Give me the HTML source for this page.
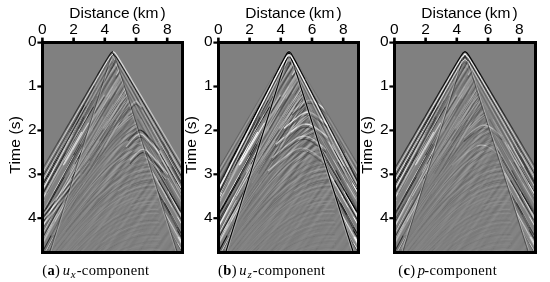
<!DOCTYPE html>
<html><head><meta charset="utf-8"><style>
html,body{margin:0;padding:0;background:#fff;width:550px;height:282px;overflow:hidden}
.s{font-family:"Liberation Sans",Arial,sans-serif;color:#000;position:absolute;white-space:nowrap;line-height:1}
.cap{font-family:"Liberation Serif","Times New Roman",serif;color:#000;position:absolute;white-space:nowrap;line-height:1;font-size:14.5px;letter-spacing:0.35px}
svg path{fill:none}
</style></head><body>

<svg width="550" height="282" viewBox="0 0 550 282" style="position:absolute;left:0;top:0">
<defs>
<clipPath id="cin"><rect x="44" y="44" width="138" height="207"/></clipPath>
<clipPath id="cfa"><polygon points="40,174.6 42,171.2 44,167.7 46,164.3 48,160.9 50,157.5 52,154.1 54,150.6 56,147.2 58,143.8 60,140.4 62,137 64,133.6 66,130.1 68,126.7 70,123.3 72,119.9 74,116.5 76,113.1 78,109.6 80,106.2 82,102.8 84,99.4 86,96 88,92.6 90,89.2 92,85.8 94,82.4 96,79 98,75.6 100,72.2 102,68.8 104,65.4 106,62.1 108,58.9 110,55.8 112,53.4 114,53.4 116,55.8 118,58.8 120,62 122,65.3 124,68.6 126,71.9 128,75.3 130,78.6 132,82 134,85.3 136,88.7 138,92.1 140,95.4 142,98.8 144,102.2 146,105.6 148,108.9 150,112.3 152,115.7 154,119.1 156,122.4 158,125.8 160,129.2 162,132.6 164,136 166,139.3 168,142.7 170,146.1 172,149.5 174,152.8 176,156.2 178,159.6 180,163 182,166.4 184,169.7 186,173.1 188,260 40,260"/></clipPath>
<clipPath id="cR"><polygon points="115,47 115.8,51 117.4,55 118.7,59 120,63 121.3,67 122.6,71 123.8,75 125.1,79 126.4,83 127.7,87 128.9,91 130.2,95 131.5,99 132.8,103 134,107 135.3,111 136.6,115 137.8,119 139.1,123 140.4,127 141.6,131 142.9,135 144.2,139 145.5,143 146.7,147 148,151 149.3,155 150.5,159 151.8,163 153.1,167 154.4,171 155.6,175 156.9,179 158.2,183 159.4,187 160.7,191 162,195 163.2,199 164.5,203 165.8,207 167.1,211 168.3,215 169.6,219 170.9,223 172.1,227 173.4,231 174.7,235 175.9,239 177.2,243 178.5,247 179.8,251 181,255 182.3,259 183.6,263 190,260 190,40 113,40"/></clipPath>
<clipPath id="cL"><polygon points="115,47 115.8,51 117.4,55 118.7,59 120,63 121.3,67 122.6,71 123.8,75 125.1,79 126.4,83 127.7,87 128.9,91 130.2,95 131.5,99 132.8,103 134,107 135.3,111 136.6,115 137.8,119 139.1,123 140.4,127 141.6,131 142.9,135 144.2,139 145.5,143 146.7,147 148,151 149.3,155 150.5,159 151.8,163 153.1,167 154.4,171 155.6,175 156.9,179 158.2,183 159.4,187 160.7,191 162,195 163.2,199 164.5,203 165.8,207 167.1,211 168.3,215 169.6,219 170.9,223 172.1,227 173.4,231 174.7,235 175.9,239 177.2,243 178.5,247 179.8,251 181,255 182.3,259 183.6,263 40,260 40,40 113,40"/></clipPath>
<clipPath id="cIn"><polygon points="46.5,263 47.8,259 49,255 50.3,251 51.5,247 52.8,243 54,239 55.3,235 56.5,231 57.8,227 59,223 60.3,219 61.5,215 62.8,211 64,207 65.3,203 66.5,199 67.8,195 69,191 70.3,187 71.5,183 72.8,179 74,175 75.3,171 76.5,167 77.8,163 79,159 80.3,155 81.5,151 82.8,147 84,143 85.3,139 86.5,135 87.8,131 89,127 90.3,123 91.5,119 92.8,115 94,111 95.3,107 96.5,103 97.8,99 99,95 100.3,91 101.5,87 102.8,83 104,79 105.3,75 106.6,71 107.8,67 109.1,63 110.4,59 111.7,55 113.2,51 114,47 112,47 112.8,51 114.4,55 115.7,59 117,63 118.3,67 119.6,71 120.8,75 122.1,79 123.4,83 124.7,87 125.9,91 127.2,95 128.5,99 129.8,103 131,107 132.3,111 133.6,115 134.8,119 136.1,123 137.4,127 138.6,131 139.9,135 141.2,139 142.5,143 143.7,147 145,151 146.3,155 147.5,159 148.8,163 150.1,167 151.4,171 152.6,175 153.9,179 155.2,183 156.4,187 157.7,191 159,195 160.2,199 161.5,203 162.8,207 164.1,211 165.3,215 166.6,219 167.9,223 169.1,227 170.4,231 171.7,235 172.9,239 174.2,243 175.5,247 176.8,251 178,255 179.3,259 180.6,263"/></clipPath>
<mask id="mOut" maskUnits="userSpaceOnUse" x="40" y="40" width="150" height="220"><rect x="40" y="40" width="150" height="220" fill="#fff"/><polygon points="46.5,263 47.8,259 49,255 50.3,251 51.5,247 52.8,243 54,239 55.3,235 56.5,231 57.8,227 59,223 60.3,219 61.5,215 62.8,211 64,207 65.3,203 66.5,199 67.8,195 69,191 70.3,187 71.5,183 72.8,179 74,175 75.3,171 76.5,167 77.8,163 79,159 80.3,155 81.5,151 82.8,147 84,143 85.3,139 86.5,135 87.8,131 89,127 90.3,123 91.5,119 92.8,115 94,111 95.3,107 96.5,103 97.8,99 99,95 100.3,91 101.5,87 102.8,83 104,79 105.3,75 106.6,71 107.8,67 109.1,63 110.4,59 111.7,55 113.2,51 114,47 112,47 112.8,51 114.4,55 115.7,59 117,63 118.3,67 119.6,71 120.8,75 122.1,79 123.4,83 124.7,87 125.9,91 127.2,95 128.5,99 129.8,103 131,107 132.3,111 133.6,115 134.8,119 136.1,123 137.4,127 138.6,131 139.9,135 141.2,139 142.5,143 143.7,147 145,151 146.3,155 147.5,159 148.8,163 150.1,167 151.4,171 152.6,175 153.9,179 155.2,183 156.4,187 157.7,191 159,195 160.2,199 161.5,203 162.8,207 164.1,211 165.3,215 166.6,219 167.9,223 169.1,227 170.4,231 171.7,235 172.9,239 174.2,243 175.5,247 176.8,251 178,255 179.3,259 180.6,263" fill="#000"/></mask>
<linearGradient id="fade" x1="0" y1="44" x2="0" y2="251" gradientUnits="userSpaceOnUse"><stop offset="0" stop-color="#fff"/><stop offset="0.4" stop-color="#ddd"/><stop offset="1" stop-color="#666"/></linearGradient>
<mask id="mk" maskUnits="userSpaceOnUse" x="40" y="40" width="150" height="220"><rect x="40" y="40" width="150" height="220" fill="url(#fade)"/></mask>
<linearGradient id="fade2" x1="0" y1="44" x2="0" y2="251" gradientUnits="userSpaceOnUse"><stop offset="0" stop-color="#fff"/><stop offset="0.45" stop-color="#eee"/><stop offset="0.7" stop-color="#888"/><stop offset="1" stop-color="#444"/></linearGradient>
<mask id="mk2" maskUnits="userSpaceOnUse" x="40" y="40" width="150" height="220"><rect x="40" y="40" width="150" height="220" fill="url(#fade2)"/></mask>
<filter id="nA" x="0" y="0" width="1" height="1" color-interpolation-filters="sRGB"><feTurbulence type="fractalNoise" baseFrequency="0.28 0.012" numOctaves="1" seed="4"/><feColorMatrix type="matrix" values="1 0 0 0 0 1 0 0 0 0 1 0 0 0 0 0 0 0 0 1" result="g"/><feGaussianBlur in="g" stdDeviation="2.5"/><feColorMatrix type="matrix" values="-1 0 0 0 1 -1 0 0 0 1 -1 0 0 0 1 0 0 0 0 1" result="nb"/><feComposite in="g" in2="nb" operator="arithmetic" k1="0" k2="0.5" k3="0.5" k4="0"/><feComponentTransfer><feFuncR type="linear" slope="4.4" intercept="-1.7000000000000002"/><feFuncG type="linear" slope="4.4" intercept="-1.7000000000000002"/><feFuncB type="linear" slope="4.4" intercept="-1.7000000000000002"/></feComponentTransfer></filter>
<filter id="nB" x="0" y="0" width="1" height="1" color-interpolation-filters="sRGB"><feTurbulence type="fractalNoise" baseFrequency="0.28 0.012" numOctaves="1" seed="9"/><feColorMatrix type="matrix" values="1 0 0 0 0 1 0 0 0 0 1 0 0 0 0 0 0 0 0 1" result="g"/><feGaussianBlur in="g" stdDeviation="2.5"/><feColorMatrix type="matrix" values="-1 0 0 0 1 -1 0 0 0 1 -1 0 0 0 1 0 0 0 0 1" result="nb"/><feComposite in="g" in2="nb" operator="arithmetic" k1="0" k2="0.5" k3="0.5" k4="0"/><feComponentTransfer><feFuncR type="linear" slope="4.4" intercept="-1.7000000000000002"/><feFuncG type="linear" slope="4.4" intercept="-1.7000000000000002"/><feFuncB type="linear" slope="4.4" intercept="-1.7000000000000002"/></feComponentTransfer></filter>
<linearGradient id="gB" x1="0" y1="80" x2="0" y2="125" gradientUnits="userSpaceOnUse"><stop offset="0" stop-color="#000"/><stop offset="1" stop-color="#fff"/></linearGradient>
<mask id="mB" maskUnits="userSpaceOnUse" x="40" y="40" width="150" height="220"><rect x="40" y="40" width="150" height="220" fill="url(#gB)"/></mask>
<g id="tin"><g clip-path="url(#cL)"><rect x="-80" y="-60" width="380" height="420" filter="url(#nA)" transform="rotate(36 113 150)"/></g><g clip-path="url(#cR)"><g mask="url(#mB)"><rect x="-80" y="-60" width="380" height="420" filter="url(#nB)" transform="rotate(-30.6 113 150)"/></g></g><path d="M40 178.4L53.1 155.5" stroke="#000" stroke-opacity="0.95" stroke-width="1.3"/><path d="M53.1 155.5L67.4 130.4" stroke="#000" stroke-opacity="0.13" stroke-width="1.2"/><path d="M67.4 130.4L82 104.9" stroke="#000" stroke-opacity="0.68" stroke-width="1.4"/><path d="M82 104.9L88.2 94" stroke="#000" stroke-opacity="0.52" stroke-width="1.1"/><path d="M88.2 94L98.8 75.6" stroke="#000" stroke-opacity="0.62" stroke-width="1.0"/><path d="M98.8 75.6L106 62.9" stroke="#000" stroke-opacity="0.35" stroke-width="1.4"/><path d="M106 62.9L118.8 40.6" stroke="#000" stroke-opacity="0.24" stroke-width="1.3"/><path d="M40 185.1L54.1 160" stroke="#fff" stroke-opacity="0.37" stroke-width="1.1"/><path d="M54.1 160L60.8 148" stroke="#fff" stroke-opacity="0.23" stroke-width="1.0"/><path d="M60.8 148L68.9 133.5" stroke="#fff" stroke-opacity="0.64" stroke-width="1.0"/><path d="M68.9 133.5L80.8 112.3" stroke="#fff" stroke-opacity="0.40" stroke-width="1.1"/><path d="M80.8 112.3L94.1 88.5" stroke="#fff" stroke-opacity="0.53" stroke-width="1.1"/><path d="M94.1 88.5L104 70.8" stroke="#fff" stroke-opacity="0.73" stroke-width="1.0"/><path d="M104 70.8L118.9 44.2" stroke="#fff" stroke-opacity="0.12" stroke-width="1.3"/><path d="M40 182L50.4 164.6" stroke="#000" stroke-opacity="0.80" stroke-width="1.0"/><path d="M50.4 164.6L63 143.3" stroke="#000" stroke-opacity="0.82" stroke-width="1.3"/><path d="M63 143.3L68.4 134.2" stroke="#000" stroke-opacity="0.95" stroke-width="1.0"/><path d="M68.4 134.2L76.9 119.8" stroke="#000" stroke-opacity="0.65" stroke-width="1.4"/><path d="M76.9 119.8L85.4 105.5" stroke="#000" stroke-opacity="0.93" stroke-width="1.2"/><path d="M85.4 105.5L93.6 91.7" stroke="#000" stroke-opacity="0.39" stroke-width="1.1"/><path d="M93.6 91.7L99.4 81.8" stroke="#000" stroke-opacity="0.23" stroke-width="1.3"/><path d="M99.4 81.8L114.5 56.3" stroke="#000" stroke-opacity="0.25" stroke-width="1.0"/><path d="M40 182.8L49.4 167.2" stroke="#fff" stroke-opacity="0.23" stroke-width="1.3"/><path d="M49.4 167.2L57.5 154" stroke="#fff" stroke-opacity="0.51" stroke-width="1.4"/><path d="M57.5 154L71.1 131.5" stroke="#fff" stroke-opacity="0.98" stroke-width="1.2"/><path d="M71.1 131.5L81.1 115" stroke="#fff" stroke-opacity="0.76" stroke-width="1.2"/><path d="M81.1 115L89.1 101.9" stroke="#fff" stroke-opacity="0.46" stroke-width="1.1"/><path d="M89.1 101.9L98 87.3" stroke="#fff" stroke-opacity="0.99" stroke-width="1.4"/><path d="M98 87.3L109.3 68.5" stroke="#fff" stroke-opacity="0.55" stroke-width="1.1"/><path d="M109.3 68.5L115.3 58.7" stroke="#fff" stroke-opacity="0.35" stroke-width="1.3"/><path d="M40 196.3L51.6 175.6" stroke="#000" stroke-opacity="0.62" stroke-width="1.0"/><path d="M51.6 175.6L62.2 156.7" stroke="#000" stroke-opacity="0.33" stroke-width="1.3"/><path d="M62.2 156.7L71.9 139.4" stroke="#000" stroke-opacity="0.84" stroke-width="1.3"/><path d="M71.9 139.4L85 116.1" stroke="#000" stroke-opacity="0.41" stroke-width="1.3"/><path d="M85 116.1L97.5 93.8" stroke="#000" stroke-opacity="0.85" stroke-width="1.1"/><path d="M97.5 93.8L111.1 69.6" stroke="#000" stroke-opacity="0.88" stroke-width="1.3"/><path d="M111.1 69.6L126 43.1" stroke="#000" stroke-opacity="0.96" stroke-width="1.2"/><path d="M40 197.5L51.5 177.4" stroke="#fff" stroke-opacity="0.75" stroke-width="1.0"/><path d="M51.5 177.4L58.2 165.7" stroke="#fff" stroke-opacity="0.50" stroke-width="1.3"/><path d="M58.2 165.7L65.4 153" stroke="#fff" stroke-opacity="0.72" stroke-width="1.3"/><path d="M65.4 153L70.9 143.4" stroke="#fff" stroke-opacity="0.52" stroke-width="1.1"/><path d="M70.9 143.4L76.5 133.5" stroke="#fff" stroke-opacity="0.22" stroke-width="1.1"/><path d="M76.5 133.5L83.4 121.5" stroke="#fff" stroke-opacity="0.27" stroke-width="1.0"/><path d="M83.4 121.5L93.1 104.4" stroke="#fff" stroke-opacity="0.44" stroke-width="1.2"/><path d="M93.1 104.4L104.1 85.1" stroke="#fff" stroke-opacity="0.31" stroke-width="1.4"/><path d="M104.1 85.1L109.2 76.2" stroke="#fff" stroke-opacity="0.46" stroke-width="1.1"/><path d="M109.2 76.2L118.4 60.1" stroke="#fff" stroke-opacity="0.20" stroke-width="1.3"/><path d="M118.4 60.1L127.2 44.6" stroke="#fff" stroke-opacity="0.13" stroke-width="1.2"/><path d="M40 196.7L54.1 173" stroke="#000" stroke-opacity="0.10" stroke-width="1.0"/><path d="M54.1 173L64.8 154.9" stroke="#000" stroke-opacity="0.65" stroke-width="1.1"/><path d="M64.8 154.9L76.2 135.6" stroke="#000" stroke-opacity="0.90" stroke-width="1.2"/><path d="M76.2 135.6L85.7 119.7" stroke="#000" stroke-opacity="0.30" stroke-width="1.1"/><path d="M85.7 119.7L100.5 94.7" stroke="#000" stroke-opacity="0.44" stroke-width="1.4"/><path d="M100.5 94.7L114.8 70.6" stroke="#000" stroke-opacity="0.64" stroke-width="1.1"/><path d="M114.8 70.6L129.8 45.4" stroke="#000" stroke-opacity="0.55" stroke-width="1.2"/><path d="M40 207L52.9 184" stroke="#fff" stroke-opacity="0.32" stroke-width="1.1"/><path d="M52.9 184L59.6 172.2" stroke="#fff" stroke-opacity="0.99" stroke-width="1.1"/><path d="M59.6 172.2L70.8 152.3" stroke="#fff" stroke-opacity="0.53" stroke-width="1.3"/><path d="M70.8 152.3L81.9 132.4" stroke="#fff" stroke-opacity="0.77" stroke-width="1.0"/><path d="M81.9 132.4L94.6 109.8" stroke="#fff" stroke-opacity="0.37" stroke-width="1.2"/><path d="M94.6 109.8L103.1 94.8" stroke="#fff" stroke-opacity="0.37" stroke-width="1.2"/><path d="M103.1 94.8L112.8 77.4" stroke="#fff" stroke-opacity="0.42" stroke-width="1.3"/><path d="M112.8 77.4L123.8 57.8" stroke="#fff" stroke-opacity="0.13" stroke-width="1.1"/><path d="M123.8 57.8L133.5 40.6" stroke="#fff" stroke-opacity="0.92" stroke-width="1.4"/><path d="M40 201.6L48 188.2" stroke="#fff" stroke-opacity="0.85" stroke-width="1.0"/><path d="M48 188.2L61.5 165.8" stroke="#fff" stroke-opacity="0.73" stroke-width="1.2"/><path d="M61.5 165.8L69.5 152.6" stroke="#fff" stroke-opacity="0.80" stroke-width="1.4"/><path d="M69.5 152.6L76 141.8" stroke="#fff" stroke-opacity="0.53" stroke-width="1.2"/><path d="M76 141.8L86.1 125.1" stroke="#fff" stroke-opacity="0.40" stroke-width="1.1"/><path d="M86.1 125.1L97 106.9" stroke="#fff" stroke-opacity="0.83" stroke-width="1.0"/><path d="M97 106.9L104.4 94.6" stroke="#fff" stroke-opacity="0.84" stroke-width="1.3"/><path d="M104.4 94.6L116.2 75.1" stroke="#fff" stroke-opacity="0.12" stroke-width="1.3"/><path d="M116.2 75.1L131.1 50.3" stroke="#fff" stroke-opacity="1.00" stroke-width="1.3"/><path d="M131.1 50.3L136.6 41.1" stroke="#fff" stroke-opacity="0.86" stroke-width="1.1"/><path d="M40 202.9L45.6 193.7" stroke="#000" stroke-opacity="0.62" stroke-width="1.3"/><path d="M45.6 193.7L59.6 170.8" stroke="#000" stroke-opacity="0.22" stroke-width="1.2"/><path d="M59.6 170.8L67.8 157.3" stroke="#000" stroke-opacity="0.64" stroke-width="1.2"/><path d="M67.8 157.3L82.3 133.5" stroke="#000" stroke-opacity="0.44" stroke-width="1.0"/><path d="M82.3 133.5L94.4 113.6" stroke="#000" stroke-opacity="0.24" stroke-width="1.3"/><path d="M94.4 113.6L104.6 96.9" stroke="#000" stroke-opacity="0.92" stroke-width="1.2"/><path d="M104.6 96.9L115.9 78.4" stroke="#000" stroke-opacity="0.34" stroke-width="1.2"/><path d="M115.9 78.4L123.5 65.9" stroke="#000" stroke-opacity="0.78" stroke-width="1.2"/><path d="M123.5 65.9L129.9 55.3" stroke="#000" stroke-opacity="0.31" stroke-width="1.1"/><path d="M40 205.6L52.4 185.3" stroke="#fff" stroke-opacity="0.15" stroke-width="1.1"/><path d="M52.4 185.3L67 161.3" stroke="#fff" stroke-opacity="0.71" stroke-width="1.1"/><path d="M67 161.3L73.3 151.2" stroke="#fff" stroke-opacity="0.98" stroke-width="1.3"/><path d="M73.3 151.2L86.6 129.4" stroke="#fff" stroke-opacity="0.23" stroke-width="1.2"/><path d="M86.6 129.4L95.2 115.3" stroke="#fff" stroke-opacity="0.31" stroke-width="1.1"/><path d="M95.2 115.3L106.5 96.9" stroke="#fff" stroke-opacity="0.41" stroke-width="1.2"/><path d="M106.5 96.9L112.9 86.4" stroke="#fff" stroke-opacity="0.85" stroke-width="1.3"/><path d="M112.9 86.4L126.1 64.8" stroke="#fff" stroke-opacity="0.49" stroke-width="1.3"/><path d="M126.1 64.8L136.4 48" stroke="#fff" stroke-opacity="0.63" stroke-width="1.2"/><path d="M40 215.8L49.4 199.6" stroke="#fff" stroke-opacity="0.52" stroke-width="1.0"/><path d="M49.4 199.6L56 188.1" stroke="#fff" stroke-opacity="0.24" stroke-width="1.1"/><path d="M56 188.1L64.9 172.7" stroke="#fff" stroke-opacity="0.89" stroke-width="1.1"/><path d="M64.9 172.7L72.6 159.5" stroke="#fff" stroke-opacity="0.35" stroke-width="1.1"/><path d="M72.6 159.5L80.5 145.8" stroke="#fff" stroke-opacity="0.31" stroke-width="1.2"/><path d="M80.5 145.8L85.9 136.5" stroke="#fff" stroke-opacity="0.93" stroke-width="1.1"/><path d="M85.9 136.5L100.4 111.3" stroke="#fff" stroke-opacity="0.72" stroke-width="1.3"/><path d="M100.4 111.3L110.2 94.4" stroke="#fff" stroke-opacity="0.95" stroke-width="1.0"/><path d="M110.2 94.4L122 74" stroke="#fff" stroke-opacity="0.36" stroke-width="1.3"/><path d="M122 74L134.4 52.5" stroke="#fff" stroke-opacity="0.25" stroke-width="1.1"/><path d="M134.4 52.5L139.7 43.3" stroke="#fff" stroke-opacity="0.31" stroke-width="1.0"/><path d="M40 219.8L49.4 203.5" stroke="#fff" stroke-opacity="0.98" stroke-width="1.0"/><path d="M49.4 203.5L55.1 193.7" stroke="#fff" stroke-opacity="0.80" stroke-width="1.2"/><path d="M55.1 193.7L60.6 184.1" stroke="#fff" stroke-opacity="0.59" stroke-width="1.4"/><path d="M60.6 184.1L70.9 166.3" stroke="#fff" stroke-opacity="0.42" stroke-width="1.0"/><path d="M70.9 166.3L76.6 156.3" stroke="#fff" stroke-opacity="0.91" stroke-width="1.2"/><path d="M76.6 156.3L91.1 131.1" stroke="#fff" stroke-opacity="0.15" stroke-width="1.1"/><path d="M91.1 131.1L96.7 121.5" stroke="#fff" stroke-opacity="0.46" stroke-width="1.0"/><path d="M96.7 121.5L104.3 108.3" stroke="#fff" stroke-opacity="0.47" stroke-width="1.1"/><path d="M104.3 108.3L109.9 98.6" stroke="#fff" stroke-opacity="0.13" stroke-width="1.4"/><path d="M109.9 98.6L116.8 86.7" stroke="#fff" stroke-opacity="0.56" stroke-width="1.2"/><path d="M116.8 86.7L127.2 68.7" stroke="#fff" stroke-opacity="0.18" stroke-width="1.1"/><path d="M127.2 68.7L133.3 58" stroke="#fff" stroke-opacity="0.59" stroke-width="1.4"/><path d="M40 218.2L46.2 207.8" stroke="#000" stroke-opacity="0.38" stroke-width="1.0"/><path d="M46.2 207.8L59.1 186.4" stroke="#000" stroke-opacity="0.84" stroke-width="1.1"/><path d="M59.1 186.4L65.4 175.8" stroke="#000" stroke-opacity="0.17" stroke-width="1.1"/><path d="M65.4 175.8L71.3 166" stroke="#000" stroke-opacity="0.49" stroke-width="1.2"/><path d="M71.3 166L78.9 153.4" stroke="#000" stroke-opacity="0.16" stroke-width="1.3"/><path d="M78.9 153.4L84.4 144.2" stroke="#000" stroke-opacity="0.28" stroke-width="1.1"/><path d="M84.4 144.2L93.2 129.5" stroke="#000" stroke-opacity="0.19" stroke-width="1.2"/><path d="M93.2 129.5L101.4 115.8" stroke="#000" stroke-opacity="0.78" stroke-width="1.2"/><path d="M101.4 115.8L115.5 92.3" stroke="#000" stroke-opacity="0.69" stroke-width="1.3"/><path d="M115.5 92.3L126.4 74.2" stroke="#000" stroke-opacity="0.50" stroke-width="1.3"/><path d="M126.4 74.2L138.1 54.8" stroke="#000" stroke-opacity="0.96" stroke-width="1.3"/><path d="M40 224.8L45.3 215.6" stroke="#fff" stroke-opacity="0.15" stroke-width="1.1"/><path d="M45.3 215.6L54 200.7" stroke="#fff" stroke-opacity="0.87" stroke-width="1.4"/><path d="M54 200.7L65.2 181.4" stroke="#fff" stroke-opacity="0.31" stroke-width="1.2"/><path d="M65.2 181.4L73.9 166.4" stroke="#fff" stroke-opacity="0.40" stroke-width="1.0"/><path d="M73.9 166.4L84.9 147.6" stroke="#fff" stroke-opacity="0.84" stroke-width="1.3"/><path d="M84.9 147.6L90.9 137.3" stroke="#fff" stroke-opacity="0.58" stroke-width="1.1"/><path d="M90.9 137.3L103.1 116.3" stroke="#fff" stroke-opacity="0.50" stroke-width="1.4"/><path d="M103.1 116.3L116.2 93.8" stroke="#fff" stroke-opacity="0.21" stroke-width="1.1"/><path d="M116.2 93.8L130.5 69.2" stroke="#fff" stroke-opacity="0.51" stroke-width="1.2"/><path d="M130.5 69.2L140 52.9" stroke="#fff" stroke-opacity="0.79" stroke-width="1.4"/><path d="M40 226.2L47.2 214" stroke="#fff" stroke-opacity="0.35" stroke-width="1.1"/><path d="M47.2 214L58 195.8" stroke="#fff" stroke-opacity="0.42" stroke-width="1.3"/><path d="M58 195.8L65.5 183.1" stroke="#fff" stroke-opacity="0.42" stroke-width="1.1"/><path d="M65.5 183.1L80.4 157.8" stroke="#fff" stroke-opacity="0.86" stroke-width="1.3"/><path d="M80.4 157.8L91.7 138.7" stroke="#fff" stroke-opacity="0.46" stroke-width="1.1"/><path d="M91.7 138.7L105.2 115.9" stroke="#fff" stroke-opacity="0.54" stroke-width="1.0"/><path d="M105.2 115.9L111.9 104.4" stroke="#fff" stroke-opacity="0.19" stroke-width="1.3"/><path d="M111.9 104.4L126.1 80.5" stroke="#fff" stroke-opacity="0.28" stroke-width="1.3"/><path d="M126.1 80.5L134.4 66.4" stroke="#fff" stroke-opacity="0.71" stroke-width="1.3"/><path d="M134.4 66.4L145.7 47.2" stroke="#fff" stroke-opacity="0.82" stroke-width="1.2"/><path d="M40 236.8L53.3 213.1" stroke="#000" stroke-opacity="0.93" stroke-width="1.3"/><path d="M53.3 213.1L65.1 192" stroke="#000" stroke-opacity="0.58" stroke-width="1.3"/><path d="M65.1 192L73.8 176.4" stroke="#000" stroke-opacity="0.63" stroke-width="1.3"/><path d="M73.8 176.4L84.1 157.9" stroke="#000" stroke-opacity="0.36" stroke-width="1.0"/><path d="M84.1 157.9L90.1 147.3" stroke="#000" stroke-opacity="0.42" stroke-width="1.2"/><path d="M90.1 147.3L102.8 124.6" stroke="#000" stroke-opacity="0.74" stroke-width="1.1"/><path d="M102.8 124.6L117.2 98.8" stroke="#000" stroke-opacity="0.35" stroke-width="1.3"/><path d="M117.2 98.8L123 88.5" stroke="#000" stroke-opacity="0.78" stroke-width="1.3"/><path d="M123 88.5L137.7 62.2" stroke="#000" stroke-opacity="0.91" stroke-width="1.3"/><path d="M40 230L51.6 210.7" stroke="#fff" stroke-opacity="0.91" stroke-width="1.4"/><path d="M51.6 210.7L62.9 192.1" stroke="#fff" stroke-opacity="0.45" stroke-width="1.0"/><path d="M62.9 192.1L74.9 172.2" stroke="#fff" stroke-opacity="0.60" stroke-width="1.3"/><path d="M74.9 172.2L83.7 157.5" stroke="#fff" stroke-opacity="0.90" stroke-width="1.1"/><path d="M83.7 157.5L91.9 144" stroke="#fff" stroke-opacity="0.34" stroke-width="1.2"/><path d="M91.9 144L106 120.6" stroke="#fff" stroke-opacity="0.25" stroke-width="1.3"/><path d="M106 120.6L118.8 99.4" stroke="#fff" stroke-opacity="0.30" stroke-width="1.0"/><path d="M118.8 99.4L129.5 81.5" stroke="#fff" stroke-opacity="0.85" stroke-width="1.4"/><path d="M129.5 81.5L141.9 61" stroke="#fff" stroke-opacity="0.48" stroke-width="1.2"/><path d="M141.9 61L152.3 43.7" stroke="#fff" stroke-opacity="0.91" stroke-width="1.1"/><path d="M40 237.8L51.6 217.8" stroke="#000" stroke-opacity="0.72" stroke-width="1.3"/><path d="M51.6 217.8L57.3 208" stroke="#000" stroke-opacity="0.54" stroke-width="1.3"/><path d="M57.3 208L72 182.6" stroke="#000" stroke-opacity="0.39" stroke-width="1.3"/><path d="M72 182.6L83.5 162.7" stroke="#000" stroke-opacity="0.93" stroke-width="1.1"/><path d="M83.5 162.7L95.6 141.8" stroke="#000" stroke-opacity="0.86" stroke-width="1.2"/><path d="M95.6 141.8L101.7 131.4" stroke="#000" stroke-opacity="0.27" stroke-width="1.1"/><path d="M101.7 131.4L107.7 121" stroke="#000" stroke-opacity="0.24" stroke-width="1.2"/><path d="M107.7 121L113.8 110.5" stroke="#000" stroke-opacity="0.78" stroke-width="1.3"/><path d="M113.8 110.5L127.1 87.6" stroke="#000" stroke-opacity="0.82" stroke-width="1.3"/><path d="M127.1 87.6L141.5 62.7" stroke="#000" stroke-opacity="0.96" stroke-width="1.3"/><path d="M40 238.5L46.2 227.9" stroke="#fff" stroke-opacity="0.64" stroke-width="1.1"/><path d="M46.2 227.9L58.2 207.7" stroke="#fff" stroke-opacity="0.55" stroke-width="1.4"/><path d="M58.2 207.7L72.8 183.1" stroke="#fff" stroke-opacity="0.16" stroke-width="1.3"/><path d="M72.8 183.1L85.1 162.2" stroke="#fff" stroke-opacity="0.37" stroke-width="1.0"/><path d="M85.1 162.2L95 145.5" stroke="#fff" stroke-opacity="0.42" stroke-width="1.3"/><path d="M95 145.5L109.3 121.3" stroke="#fff" stroke-opacity="0.44" stroke-width="1.1"/><path d="M109.3 121.3L119.4 104.2" stroke="#fff" stroke-opacity="0.73" stroke-width="1.3"/><path d="M119.4 104.2L130.3 85.9" stroke="#fff" stroke-opacity="0.37" stroke-width="1.1"/><path d="M130.3 85.9L143.9 62.9" stroke="#fff" stroke-opacity="0.57" stroke-width="1.0"/><path d="M143.9 62.9L153.2 47.1" stroke="#fff" stroke-opacity="0.31" stroke-width="1.3"/><path d="M40 246.3L45.1 237.3" stroke="#000" stroke-opacity="0.79" stroke-width="1.1"/><path d="M45.1 237.3L50.3 228.2" stroke="#000" stroke-opacity="0.33" stroke-width="1.2"/><path d="M50.3 228.2L59.2 212.5" stroke="#000" stroke-opacity="0.57" stroke-width="1.0"/><path d="M59.2 212.5L66.5 199.7" stroke="#000" stroke-opacity="0.98" stroke-width="1.2"/><path d="M66.5 199.7L76.3 182.4" stroke="#000" stroke-opacity="0.18" stroke-width="1.1"/><path d="M76.3 182.4L91 156.6" stroke="#000" stroke-opacity="0.72" stroke-width="1.2"/><path d="M91 156.6L96.6 146.7" stroke="#000" stroke-opacity="0.45" stroke-width="1.3"/><path d="M96.6 146.7L106 130.1" stroke="#000" stroke-opacity="0.63" stroke-width="1.4"/><path d="M106 130.1L117.6 109.8" stroke="#000" stroke-opacity="0.67" stroke-width="1.0"/><path d="M117.6 109.8L122.9 100.4" stroke="#000" stroke-opacity="0.79" stroke-width="1.2"/><path d="M122.9 100.4L136.8 76" stroke="#000" stroke-opacity="0.84" stroke-width="1.4"/><path d="M136.8 76L145.6 60.4" stroke="#000" stroke-opacity="1.00" stroke-width="1.3"/><path d="M40 243L49.8 226.6" stroke="#fff" stroke-opacity="0.36" stroke-width="1.3"/><path d="M49.8 226.6L56.1 216" stroke="#fff" stroke-opacity="0.25" stroke-width="1.2"/><path d="M56.1 216L61.9 206.3" stroke="#fff" stroke-opacity="0.44" stroke-width="1.4"/><path d="M61.9 206.3L75.9 182.9" stroke="#fff" stroke-opacity="0.28" stroke-width="1.0"/><path d="M75.9 182.9L89.3 160.5" stroke="#fff" stroke-opacity="0.96" stroke-width="1.2"/><path d="M89.3 160.5L95.7 149.7" stroke="#fff" stroke-opacity="0.31" stroke-width="1.4"/><path d="M95.7 149.7L110.2 125.4" stroke="#fff" stroke-opacity="0.13" stroke-width="1.1"/><path d="M110.2 125.4L119.6 109.7" stroke="#fff" stroke-opacity="0.34" stroke-width="1.3"/><path d="M119.6 109.7L128.5 94.9" stroke="#fff" stroke-opacity="0.80" stroke-width="1.1"/><path d="M128.5 94.9L138.7 77.7" stroke="#fff" stroke-opacity="0.98" stroke-width="1.3"/><path d="M138.7 77.7L144.7 67.8" stroke="#fff" stroke-opacity="0.20" stroke-width="1.3"/><path d="M144.7 67.8L153.5 53" stroke="#fff" stroke-opacity="0.43" stroke-width="1.2"/><path d="M40 243.3L52.8 222.3" stroke="#000" stroke-opacity="0.48" stroke-width="1.2"/><path d="M52.8 222.3L64.1 204" stroke="#000" stroke-opacity="0.81" stroke-width="1.0"/><path d="M64.1 204L74.2 187.5" stroke="#000" stroke-opacity="0.13" stroke-width="1.2"/><path d="M74.2 187.5L82.7 173.6" stroke="#000" stroke-opacity="0.12" stroke-width="1.1"/><path d="M82.7 173.6L92.3 157.9" stroke="#000" stroke-opacity="0.69" stroke-width="1.4"/><path d="M92.3 157.9L101.1 143.6" stroke="#000" stroke-opacity="0.58" stroke-width="1.3"/><path d="M101.1 143.6L115.6 119.9" stroke="#000" stroke-opacity="0.95" stroke-width="1.4"/><path d="M115.6 119.9L123.7 106.7" stroke="#000" stroke-opacity="0.25" stroke-width="1.4"/><path d="M123.7 106.7L129.5 97.2" stroke="#000" stroke-opacity="0.50" stroke-width="1.3"/><path d="M129.5 97.2L139.9 80.2" stroke="#000" stroke-opacity="0.45" stroke-width="1.4"/><path d="M139.9 80.2L148 67.1" stroke="#000" stroke-opacity="0.60" stroke-width="1.3"/><path d="M148 67.1L154.5 56.5" stroke="#000" stroke-opacity="0.42" stroke-width="1.2"/><path d="M40 255.3L52.5 233.3" stroke="#fff" stroke-opacity="0.34" stroke-width="1.3"/><path d="M52.5 233.3L63.9 213.4" stroke="#fff" stroke-opacity="0.45" stroke-width="1.3"/><path d="M63.9 213.4L71.4 200.1" stroke="#fff" stroke-opacity="0.34" stroke-width="1.4"/><path d="M71.4 200.1L80.9 183.5" stroke="#fff" stroke-opacity="0.91" stroke-width="1.1"/><path d="M80.9 183.5L87.4 172.2" stroke="#fff" stroke-opacity="0.15" stroke-width="1.3"/><path d="M87.4 172.2L98.1 153.4" stroke="#fff" stroke-opacity="0.11" stroke-width="1.0"/><path d="M98.1 153.4L111.5 129.9" stroke="#fff" stroke-opacity="0.54" stroke-width="1.3"/><path d="M111.5 129.9L116.9 120.3" stroke="#fff" stroke-opacity="0.63" stroke-width="1.0"/><path d="M116.9 120.3L129.2 98.7" stroke="#fff" stroke-opacity="0.65" stroke-width="1.2"/><path d="M129.2 98.7L136.5 85.9" stroke="#fff" stroke-opacity="0.95" stroke-width="1.0"/><path d="M136.5 85.9L142.2 75.9" stroke="#fff" stroke-opacity="0.72" stroke-width="1.0"/><path d="M142.2 75.9L148 65.8" stroke="#fff" stroke-opacity="0.51" stroke-width="1.3"/><path d="M148 65.8L162 41.2" stroke="#fff" stroke-opacity="0.75" stroke-width="1.0"/><path d="M40 254.8L54.2 230.6" stroke="#000" stroke-opacity="0.52" stroke-width="1.1"/><path d="M54.2 230.6L61.4 218.2" stroke="#000" stroke-opacity="0.34" stroke-width="1.4"/><path d="M61.4 218.2L68.5 206" stroke="#000" stroke-opacity="0.18" stroke-width="1.1"/><path d="M68.5 206L74.4 195.9" stroke="#000" stroke-opacity="0.48" stroke-width="1.2"/><path d="M74.4 195.9L86 176" stroke="#000" stroke-opacity="0.26" stroke-width="1.1"/><path d="M86 176L96 158.9" stroke="#000" stroke-opacity="0.72" stroke-width="1.2"/><path d="M96 158.9L106.8 140.3" stroke="#000" stroke-opacity="0.92" stroke-width="1.1"/><path d="M106.8 140.3L114.6 127" stroke="#000" stroke-opacity="0.54" stroke-width="1.2"/><path d="M114.6 127L128.7 102.8" stroke="#000" stroke-opacity="0.60" stroke-width="1.3"/><path d="M128.7 102.8L138 86.9" stroke="#000" stroke-opacity="0.81" stroke-width="1.3"/><path d="M138 86.9L146.1 73.2" stroke="#000" stroke-opacity="0.20" stroke-width="1.1"/><path d="M146.1 73.2L154.7 58.4" stroke="#000" stroke-opacity="0.90" stroke-width="1.1"/><path d="M50.9 242.1L65.8 215.9" stroke="#fff" stroke-opacity="0.45" stroke-width="1.3"/><path d="M65.8 215.9L78.2 194" stroke="#fff" stroke-opacity="0.33" stroke-width="1.2"/><path d="M78.2 194L86.5 179.3" stroke="#fff" stroke-opacity="0.19" stroke-width="1.0"/><path d="M86.5 179.3L98.8 157.6" stroke="#fff" stroke-opacity="0.47" stroke-width="1.3"/><path d="M98.8 157.6L104.5 147.5" stroke="#fff" stroke-opacity="0.37" stroke-width="1.1"/><path d="M104.5 147.5L119.1 121.8" stroke="#fff" stroke-opacity="0.81" stroke-width="1.4"/><path d="M119.1 121.8L129.3 103.8" stroke="#fff" stroke-opacity="0.19" stroke-width="1.2"/><path d="M129.3 103.8L136.6 90.9" stroke="#fff" stroke-opacity="0.12" stroke-width="1.2"/><path d="M136.6 90.9L144.6 76.8" stroke="#fff" stroke-opacity="0.20" stroke-width="1.2"/><path d="M144.6 76.8L159.1 51.3" stroke="#fff" stroke-opacity="0.95" stroke-width="1.2"/><path d="M159.1 51.3L165.1 40.5" stroke="#fff" stroke-opacity="0.79" stroke-width="1.0"/><path d="M54.9 235.7L62 223.4" stroke="#000" stroke-opacity="0.56" stroke-width="1.4"/><path d="M62 223.4L70.9 208.1" stroke="#000" stroke-opacity="0.67" stroke-width="1.4"/><path d="M70.9 208.1L79.3 193.8" stroke="#000" stroke-opacity="0.83" stroke-width="1.2"/><path d="M79.3 193.8L85.7 182.7" stroke="#000" stroke-opacity="0.15" stroke-width="1.4"/><path d="M85.7 182.7L95.5 165.9" stroke="#000" stroke-opacity="0.50" stroke-width="1.4"/><path d="M95.5 165.9L106.4 147.3" stroke="#000" stroke-opacity="0.55" stroke-width="1.1"/><path d="M106.4 147.3L118.9 125.7" stroke="#000" stroke-opacity="0.33" stroke-width="1.2"/><path d="M118.9 125.7L131.6 103.8" stroke="#000" stroke-opacity="0.64" stroke-width="1.1"/><path d="M131.6 103.8L138.7 91.6" stroke="#000" stroke-opacity="0.73" stroke-width="1.3"/><path d="M138.7 91.6L144.8 81.2" stroke="#000" stroke-opacity="1.00" stroke-width="1.1"/><path d="M144.8 81.2L151.6 69.6" stroke="#000" stroke-opacity="0.18" stroke-width="1.2"/><path d="M151.6 69.6L162.9 50.2" stroke="#000" stroke-opacity="0.87" stroke-width="1.1"/><path d="M37.6 228.7 43.6 218.6 49.6 208.6 55.6 198.6 56.1 197.9" stroke="#000" stroke-opacity="0.51" stroke-width="1.1"/><path d="M56.1 197.9 62.1 187.8 68.1 177.8 74.1 167.8 78.3 160.7" stroke="#000" stroke-opacity="0.71" stroke-width="1.2"/><path d="M78.3 160.7 84.3 150.7 90.3 140.7 95.3 132.2" stroke="#000" stroke-opacity="0.32" stroke-width="1.2"/><path d="M95.3 132.2 101.3 122.2 107.3 112.2 108.6 110" stroke="#000" stroke-opacity="0.38" stroke-width="1.0"/><path d="M108.6 110 114.6 100 120.6 90 126.6 80 132.6 70.1 138.6 60.3 143.1 53.4" stroke="#000" stroke-opacity="0.17" stroke-width="1.1"/><path d="M143.1 53.4 149.1 47.6 152.8 51" stroke="#000" stroke-opacity="0.60" stroke-width="0.8"/><path d="M34.2 236.9 40.2 226.8 46.2 216.7 52.2 206.7 58.2 196.6 64.2 186.5 65.1 184.9" stroke="#fff" stroke-opacity="0.57" stroke-width="0.9"/><path d="M65.1 184.9 71.1 174.9 77.1 164.8 83.1 154.7 89.1 144.7 93.4 137.5" stroke="#fff" stroke-opacity="0.44" stroke-width="1.1"/><path d="M93.4 137.5 99.4 127.4 105.4 117.4 111.4 107.4 117.4 97.4 118.8 95.1" stroke="#fff" stroke-opacity="0.65" stroke-width="0.9"/><path d="M118.8 95.1 124.8 85.2 130.8 75.4 136.8 65.7 141.2 59.1" stroke="#fff" stroke-opacity="0.08" stroke-width="1.1"/><path d="M141.2 59.1 147.2 51.8 153.2 52.6 153.7 53.1" stroke="#fff" stroke-opacity="0.68" stroke-width="0.8"/><path d="M39.7 223.8 45.7 214 51.7 204.2 57.7 194.4 63.7 184.6 69.7 174.8 71.1 172.7" stroke="#000" stroke-opacity="0.25" stroke-width="1.1"/><path d="M71.1 172.7 77.1 162.9 83.1 153.1 89.1 143.4 95.1 133.6 97.3 129.9" stroke="#000" stroke-opacity="0.36" stroke-width="1.1"/><path d="M97.3 129.9 103.3 120.2 109.3 110.4 113.1 104.4" stroke="#000" stroke-opacity="0.28" stroke-width="0.8"/><path d="M113.1 104.4 119.1 94.8 125.1 85.2 131.1 75.8 137.1 66.7 139.5 63.2" stroke="#000" stroke-opacity="0.50" stroke-width="1.1"/><path d="M139.5 63.2 145.5 55.8 151.5 53.5 154.3 55.1" stroke="#000" stroke-opacity="0.39" stroke-width="0.9"/><path d="M34.4 235.6 40.4 225.6 46.4 215.7 52.4 205.7 58.4 195.7 61.6 190.5" stroke="#fff" stroke-opacity="0.12" stroke-width="0.9"/><path d="M61.6 190.5 67.6 180.6 73.6 170.6 79.6 160.7 85.6 150.8 91.6 140.9 92.6 139.2" stroke="#fff" stroke-opacity="0.19" stroke-width="0.8"/><path d="M92.6 139.2 98.6 129.3 103 122.1" stroke="#fff" stroke-opacity="0.63" stroke-width="0.8"/><path d="M103 122.1 109 112.3 115 102.5 121 92.8 124.4 87.3" stroke="#fff" stroke-opacity="0.40" stroke-width="1.1"/><path d="M124.4 87.3 130.4 77.9 136.4 69 142.4 61.1 146.3 57.4" stroke="#fff" stroke-opacity="0.46" stroke-width="0.8"/><path d="M146.3 57.4 152.3 56.6 154 57.7" stroke="#fff" stroke-opacity="0.63" stroke-width="1.0"/><path d="M36.2 235.1 42.2 225.1 46.7 217.6" stroke="#fff" stroke-opacity="0.72" stroke-width="1.2"/><path d="M46.7 217.6 52.7 207.6 58.7 197.7 61.7 192.6" stroke="#fff" stroke-opacity="0.13" stroke-width="0.9"/><path d="M61.7 192.6 67.7 182.6 73.7 172.7 74.2 171.8" stroke="#fff" stroke-opacity="0.35" stroke-width="0.8"/><path d="M74.2 171.8 80.2 161.9 86.2 152 89.7 146.2" stroke="#fff" stroke-opacity="0.08" stroke-width="1.0"/><path d="M89.7 146.2 95.7 136.3 101.7 126.4 107.2 117.4" stroke="#fff" stroke-opacity="0.60" stroke-width="1.0"/><path d="M107.2 117.4 113.2 107.6 119.2 98 121.4 94.6" stroke="#fff" stroke-opacity="0.77" stroke-width="1.2"/><path d="M121.4 94.6 127.4 85.2 133.4 76.1 139.4 67.9 145.4 61.4 148.6 59.5" stroke="#fff" stroke-opacity="0.24" stroke-width="1.0"/><path d="M148.6 59.5 154.6 60.2 154.8 60.4" stroke="#fff" stroke-opacity="0.37" stroke-width="0.8"/><path d="M36.8 235 42.8 225 48.8 215 54.8 205.1 60.8 195.1 65.9 186.7" stroke="#fff" stroke-opacity="0.71" stroke-width="1.2"/><path d="M65.9 186.7 71.9 176.8 77.9 166.9 83.9 157 89.9 147.1 95.7 137.5" stroke="#fff" stroke-opacity="0.38" stroke-width="1.1"/><path d="M95.7 137.5 101.7 127.7 107.7 118 113.7 108.3 119.7 98.8 122.2 94.9" stroke="#fff" stroke-opacity="0.72" stroke-width="1.1"/><path d="M122.2 94.9 128.2 85.7 134.2 77 140.2 69.2 143.3 65.9" stroke="#fff" stroke-opacity="0.22" stroke-width="0.9"/><path d="M143.3 65.9 149.3 61.8 155.3 62.6 155.4 62.7" stroke="#fff" stroke-opacity="0.57" stroke-width="1.1"/><path d="M30.9 245 36.9 234.9 42.9 224.9 48.9 214.9 54.9 204.9 56.1 203" stroke="#000" stroke-opacity="0.34" stroke-width="0.9"/><path d="M56.1 203 62.1 193 68.1 183 73.3 174.4" stroke="#000" stroke-opacity="0.08" stroke-width="0.9"/><path d="M73.3 174.4 79.3 164.5 85.3 154.6 91.3 144.7 93.9 140.3" stroke="#000" stroke-opacity="0.16" stroke-width="0.8"/><path d="M93.9 140.3 99.9 130.5 105.9 120.8 111.9 111.1 117.7 102" stroke="#000" stroke-opacity="0.77" stroke-width="1.1"/><path d="M117.7 102 123.7 92.7 129.7 83.7 135.7 75.5 135.8 75.3" stroke="#000" stroke-opacity="0.75" stroke-width="0.8"/><path d="M135.8 75.3 141.8 68.4 147.8 64.1 149.6 63.7" stroke="#000" stroke-opacity="0.08" stroke-width="0.8"/><path d="M149.6 63.7 154.7 64.6" stroke="#000" stroke-opacity="0.63" stroke-width="1.0"/><path d="M35.4 238.2 41.4 228.2 47.4 218.1 49.6 214.4" stroke="#fff" stroke-opacity="0.39" stroke-width="1.0"/><path d="M49.6 214.4 55.6 204.4 61.6 194.4 67.6 184.4 73.6 174.4 79.6 164.5 80.2 163.6" stroke="#fff" stroke-opacity="0.25" stroke-width="0.9"/><path d="M80.2 163.6 86.2 153.7 92.2 143.8 98.2 134 104.2 124.3 110.2 114.7 110.6 114" stroke="#fff" stroke-opacity="0.13" stroke-width="1.0"/><path d="M110.6 114 116.6 104.6 122.6 95.4 126.1 90.2" stroke="#fff" stroke-opacity="0.56" stroke-width="1.0"/><path d="M126.1 90.2 132.1 81.8 138.1 74.4 138.5 74" stroke="#fff" stroke-opacity="0.61" stroke-width="1.0"/><path d="M138.5 74 144.5 68.6 150.5 66.5 154.6 67.4" stroke="#fff" stroke-opacity="0.70" stroke-width="1.1"/><path d="M30.8 241.6 36.8 231.9 42.8 222.2 48.8 212.4 54.8 202.7 56.8 199.5" stroke="#000" stroke-opacity="0.74" stroke-width="1.1"/><path d="M56.8 199.5 62.8 189.8 67.9 181.7" stroke="#000" stroke-opacity="0.45" stroke-width="1.0"/><path d="M67.9 181.7 73.9 172.1 79.9 162.5 85.9 152.9 88.9 148" stroke="#000" stroke-opacity="0.19" stroke-width="0.9"/><path d="M88.9 148 94.9 138.5 100.9 129.1 106.9 119.8 110.2 114.9" stroke="#000" stroke-opacity="0.13" stroke-width="1.1"/><path d="M110.2 114.9 116.2 105.8 122.2 97 126.3 91.2" stroke="#000" stroke-opacity="0.29" stroke-width="0.8"/><path d="M126.3 91.2 132.3 83.3 138.3 76.4 143.8 71.5" stroke="#000" stroke-opacity="0.75" stroke-width="0.9"/><path d="M143.8 71.5 149.8 68.8 155.3 69.5" stroke="#000" stroke-opacity="0.33" stroke-width="1.2"/><path d="M34.6 234.8 40.6 225 46.6 215.3 47.1 214.6" stroke="#fff" stroke-opacity="0.70" stroke-width="0.9"/><path d="M47.1 214.6 53.1 204.9 59.1 195.2 65.1 185.5 71.1 175.8 74.2 170.8" stroke="#fff" stroke-opacity="0.41" stroke-width="1.1"/><path d="M74.2 170.8 80.2 161.2 85.7 152.5" stroke="#fff" stroke-opacity="0.24" stroke-width="0.9"/><path d="M85.7 152.5 91.7 143 97.7 133.6 102.3 126.4" stroke="#fff" stroke-opacity="0.67" stroke-width="1.0"/><path d="M102.3 126.4 108.3 117.2 114.3 108.2 120.3 99.4 121 98.5" stroke="#fff" stroke-opacity="0.44" stroke-width="1.1"/><path d="M121 98.5 127 90.2 133 82.7 139 76.3 145 72 145.2 71.9" stroke="#fff" stroke-opacity="0.41" stroke-width="1.1"/><path d="M145.2 71.9 151.2 70.7 154.4 71.4" stroke="#fff" stroke-opacity="0.37" stroke-width="1.0"/><path d="M33.7 241.9 39.7 231.9 45.7 221.9 51.7 212 57.7 202.1 58.7 200.3" stroke="#000" stroke-opacity="0.51" stroke-width="0.9"/><path d="M58.7 200.3 64.7 190.4 70.7 180.5 76.7 170.7 79.9 165.5" stroke="#000" stroke-opacity="0.61" stroke-width="0.8"/><path d="M79.9 165.5 85.9 155.8 91.9 146.1 92.6 144.9" stroke="#000" stroke-opacity="0.62" stroke-width="1.2"/><path d="M92.6 144.9 98.6 135.3 104.3 126.3" stroke="#000" stroke-opacity="0.14" stroke-width="1.1"/><path d="M104.3 126.3 110.3 117 116.3 107.9 121.4 100.4" stroke="#000" stroke-opacity="0.55" stroke-width="0.8"/><path d="M121.4 100.4 127.4 92 133.4 84.5 139.4 78.2 142.8 75.5" stroke="#000" stroke-opacity="0.20" stroke-width="0.9"/><path d="M142.8 75.5 148.8 72.8 154.7 73.4" stroke="#000" stroke-opacity="0.45" stroke-width="1.1"/><path d="M34.7 241.4 40.7 231.4 46.7 221.5 52.7 211.6" stroke="#fff" stroke-opacity="0.53" stroke-width="0.8"/><path d="M52.7 211.6 58.7 201.7 64.7 191.9 70.7 182.1 76.7 172.3 82.7 162.6 84.9 159.1" stroke="#fff" stroke-opacity="0.35" stroke-width="1.1"/><path d="M84.9 159.1 90.9 149.5 96.9 139.9 102.9 130.5 108.9 121.3 114.9 112.2 118.4 107" stroke="#fff" stroke-opacity="0.76" stroke-width="1.0"/><path d="M118.4 107 124.4 98.6 130.4 90.8 136.4 84.1 142.4 78.9 148.4 76 149.9 75.7" stroke="#fff" stroke-opacity="0.80" stroke-width="0.9"/><path d="M149.9 75.7 155.3 76.3" stroke="#fff" stroke-opacity="0.60" stroke-width="1.0"/><path d="M34 237.8 40 228.1 46 218.3 50.4 211.2" stroke="#fff" stroke-opacity="0.53" stroke-width="1.0"/><path d="M50.4 211.2 56.4 201.5 62.4 191.9 68.4 182.3 74.4 172.7 75.7 170.5" stroke="#fff" stroke-opacity="0.41" stroke-width="0.9"/><path d="M75.7 170.5 81.7 161 86.6 153.3" stroke="#fff" stroke-opacity="0.67" stroke-width="1.1"/><path d="M86.6 153.3 92.6 144 98.6 134.7 102.7 128.5" stroke="#fff" stroke-opacity="0.44" stroke-width="1.0"/><path d="M102.7 128.5 108.7 119.6 114.7 110.9 120.7 102.6 125.3 96.6" stroke="#fff" stroke-opacity="0.73" stroke-width="1.1"/><path d="M125.3 96.6 131.3 89.5 137.3 83.7 143 79.7" stroke="#fff" stroke-opacity="0.32" stroke-width="1.0"/><path d="M143 79.7 149 77.9 154.1 78.4" stroke="#fff" stroke-opacity="0.75" stroke-width="0.8"/><path d="M32.2 242.6 38.2 232.8 44.2 223.1 50.2 213.3 56.2 203.6 62.2 193.9 67 186.3" stroke="#000" stroke-opacity="0.65" stroke-width="0.9"/><path d="M67 186.3 73 176.8 79 167.2 85 157.8 88.4 152.4" stroke="#000" stroke-opacity="0.10" stroke-width="0.8"/><path d="M88.4 152.4 94.4 143.1 100.4 134 103.2 129.7" stroke="#000" stroke-opacity="0.79" stroke-width="0.9"/><path d="M103.2 129.7 109.2 120.9 115.2 112.3 119.4 106.6" stroke="#000" stroke-opacity="0.13" stroke-width="0.8"/><path d="M119.4 106.6 125.4 98.8 131.4 91.9 137.4 86.1 143.4 82.1 149.4 80.4 154.2 80.8" stroke="#000" stroke-opacity="0.61" stroke-width="1.2"/><path d="M32.7 243.2 38.7 233.5 44.3 224.5" stroke="#fff" stroke-opacity="0.21" stroke-width="1.1"/><path d="M44.3 224.5 50.3 214.9 56.3 205.3 62.3 195.7 66.6 189" stroke="#fff" stroke-opacity="0.09" stroke-width="0.9"/><path d="M66.6 189 72.6 179.5 78.6 170.1 84.6 160.8 90.6 151.6 96.6 142.5 97.9 140.6" stroke="#fff" stroke-opacity="0.69" stroke-width="1.1"/><path d="M97.9 140.6 103.9 131.8 109.9 123.1 115.9 114.8 121.9 106.8 126.1 101.5" stroke="#fff" stroke-opacity="0.74" stroke-width="1.0"/><path d="M126.1 101.5 132.1 94.9 138.1 89.3 144.1 85.3 145.7 84.6" stroke="#fff" stroke-opacity="0.49" stroke-width="0.9"/><path d="M145.7 84.6 151.7 83.3 156.1 83.8" stroke="#fff" stroke-opacity="0.27" stroke-width="1.0"/><path d="M39.6 229.2 45.6 219.6 51.6 210.1 57.6 200.5 61.7 193.9" stroke="#000" stroke-opacity="0.68" stroke-width="1.1"/><path d="M61.7 193.9 67.7 184.5 73.7 175.1 79.7 165.8 85.7 156.6 86.6 155.4" stroke="#000" stroke-opacity="0.31" stroke-width="1.0"/><path d="M86.6 155.4 92.6 146.3 98.6 137.4 104.5 128.8" stroke="#000" stroke-opacity="0.54" stroke-width="1.1"/><path d="M104.5 128.8 110.5 120.4 116.5 112.3 122.5 104.8 128.5 98 134.2 92.5" stroke="#000" stroke-opacity="0.29" stroke-width="0.9"/><path d="M134.2 92.5 140.2 88.2 144.5 86.2" stroke="#000" stroke-opacity="0.50" stroke-width="0.9"/><path d="M144.5 86.2 150.5 85.3 154 85.8" stroke="#000" stroke-opacity="0.30" stroke-width="0.9"/><path d="M37.3 238.5 43.3 228.8 49.3 219.1 52.5 214" stroke="#fff" stroke-opacity="0.74" stroke-width="0.8"/><path d="M52.5 214 58.5 204.4 64.5 194.8 70.5 185.3 76.5 175.8 77.3 174.6" stroke="#fff" stroke-opacity="0.59" stroke-width="1.1"/><path d="M77.3 174.6 83.3 165.2 89.3 156 95.3 146.9 99.4 140.6" stroke="#fff" stroke-opacity="0.71" stroke-width="1.1"/><path d="M99.4 140.6 105.4 131.9 111.4 123.4 117.4 115.3 123.4 107.7 126.7 103.8" stroke="#fff" stroke-opacity="0.14" stroke-width="0.9"/><path d="M126.7 103.8 132.7 97.5 138.7 92.4 144.7 88.9 148.4 87.7" stroke="#fff" stroke-opacity="0.47" stroke-width="0.8"/><path d="M148.4 87.7 154.4 87.5 155.8 87.8" stroke="#fff" stroke-opacity="0.33" stroke-width="1.0"/><path d="M36.1 240.1 42.1 230.6 48.1 221 54.1 211.5 60.1 202 62.4 198.3" stroke="#000" stroke-opacity="0.30" stroke-width="0.9"/><path d="M62.4 198.3 68.4 188.9 74.4 179.6 80.4 170.3 84.2 164.6" stroke="#000" stroke-opacity="0.51" stroke-width="1.1"/><path d="M84.2 164.6 90.2 155.5 96.2 146.6 97.5 144.7" stroke="#000" stroke-opacity="0.40" stroke-width="1.0"/><path d="M97.5 144.7 103.5 136 109.5 127.6 112.4 123.7" stroke="#000" stroke-opacity="0.15" stroke-width="1.2"/><path d="M112.4 123.7 118.4 115.9 122.9 110.4" stroke="#000" stroke-opacity="0.44" stroke-width="0.9"/><path d="M122.9 110.4 128.9 103.7 133.7 99" stroke="#000" stroke-opacity="0.27" stroke-width="0.9"/><path d="M133.7 99 139.7 94.3 145.7 91.1 151.7 89.9 153.7 89.9" stroke="#000" stroke-opacity="0.74" stroke-width="0.8"/><path d="M32.3 248.4 38.3 238.7 44.3 229 49.3 221" stroke="#fff" stroke-opacity="0.72" stroke-width="1.0"/><path d="M49.3 221 55.3 211.4 61.3 201.8 65.8 194.8" stroke="#fff" stroke-opacity="0.43" stroke-width="1.0"/><path d="M65.8 194.8 71.8 185.4 77.8 176.1 79.5 173.4" stroke="#fff" stroke-opacity="0.56" stroke-width="1.1"/><path d="M79.5 173.4 85.5 164.2 91.5 155.1 97.5 146.2 101.4 140.5" stroke="#fff" stroke-opacity="0.47" stroke-width="1.1"/><path d="M101.4 140.5 107.4 132 113.4 123.9 119.4 116.2 125.4 109.2 131.4 102.9 135.3 99.5" stroke="#fff" stroke-opacity="0.52" stroke-width="0.8"/><path d="M135.3 99.5 141.3 95.3 147.3 92.8 153.3 92.2 156.1 92.6" stroke="#fff" stroke-opacity="0.56" stroke-width="0.9"/><path d="M36.7 240.5 42.7 230.8 48.7 221.3 54.7 211.7 60.7 202.2 66.7 192.8 69.8 187.9" stroke="#000" stroke-opacity="0.59" stroke-width="1.1"/><path d="M69.8 187.9 75.8 178.6 81.8 169.5 87.8 160.4 93.8 151.6 97.4 146.3" stroke="#000" stroke-opacity="0.25" stroke-width="1.0"/><path d="M97.4 146.3 103.4 137.8 109.4 129.6 115.4 121.9 121.4 114.7 123 113" stroke="#000" stroke-opacity="0.12" stroke-width="1.1"/><path d="M123 113 129 106.7 135 101.5 138.6 98.9" stroke="#000" stroke-opacity="0.43" stroke-width="1.0"/><path d="M138.6 98.9 144.6 96 150.6 94.9 155.2 95.3" stroke="#000" stroke-opacity="0.63" stroke-width="1.0"/><path d="M33.2 247 39.2 237.4 45.2 227.9 51.2 218.4 57.2 208.9 61.1 202.9" stroke="#000" stroke-opacity="0.77" stroke-width="0.8"/><path d="M61.1 202.9 67.1 193.6 73.1 184.4 79.1 175.2 85.1 166.2 90.5 158.2" stroke="#000" stroke-opacity="0.55" stroke-width="1.0"/><path d="M90.5 158.2 96.5 149.6 102.5 141.2 108.5 133.1 114.5 125.4 120.3 118.6" stroke="#000" stroke-opacity="0.70" stroke-width="0.9"/><path d="M120.3 118.6 126.3 112.1 132.3 106.6 138.3 102.2 142.4 100" stroke="#000" stroke-opacity="0.52" stroke-width="1.1"/><path d="M142.4 100 148.4 98.3 154.4 98.2 155.5 98.4" stroke="#000" stroke-opacity="0.66" stroke-width="1.1"/><path d="M37.6 242.9 43.6 233.3 49.6 223.7 55.6 214.1 55.9 213.6" stroke="#000" stroke-opacity="0.63" stroke-width="1.0"/><path d="M55.9 213.6 61.9 204.1 67.9 194.7 73.9 185.4 79.9 176.2 82.6 172.1" stroke="#000" stroke-opacity="0.54" stroke-width="1.1"/><path d="M82.6 172.1 88.6 163.1 94.6 154.3 100.6 145.8 106.6 137.5 110.4 132.4" stroke="#000" stroke-opacity="0.78" stroke-width="1.0"/><path d="M110.4 132.4 116.4 124.9 122.4 118 128.4 111.8 132.8 108" stroke="#000" stroke-opacity="0.55" stroke-width="1.0"/><path d="M132.8 108 138.8 103.8 144 101.3" stroke="#000" stroke-opacity="0.77" stroke-width="0.9"/><path d="M144 101.3 150 100 155.5 100.3" stroke="#000" stroke-opacity="0.11" stroke-width="0.9"/><path d="M32.4 247.4 38.4 237.9 44.4 228.6 50.4 219.3 56.4 210 59.1 205.9" stroke="#fff" stroke-opacity="0.49" stroke-width="1.2"/><path d="M59.1 205.9 65.1 196.7 71.1 187.7 77.1 178.8 81 173" stroke="#fff" stroke-opacity="0.32" stroke-width="0.9"/><path d="M81 173 87 164.3 93 155.8 99 147.6 100.1 146.1" stroke="#fff" stroke-opacity="0.08" stroke-width="0.8"/><path d="M100.1 146.1 106.1 138.3 112.1 130.8 113.8 128.8" stroke="#fff" stroke-opacity="0.31" stroke-width="1.1"/><path d="M113.8 128.8 119.8 122.1 125.8 116 131.8 110.9 137.8 106.9 143.8 104.2 147.4 103.3" stroke="#fff" stroke-opacity="0.34" stroke-width="0.9"/><path d="M147.4 103.3 153.4 103.1 155.1 103.4" stroke="#fff" stroke-opacity="0.53" stroke-width="1.0"/><path d="M37.9 240.5 43.9 231.2 49.9 221.9 50.5 220.9" stroke="#000" stroke-opacity="0.40" stroke-width="1.1"/><path d="M50.5 220.9 56.5 211.7 62.5 202.5 68.5 193.5 74.1 185.2" stroke="#000" stroke-opacity="0.71" stroke-width="0.9"/><path d="M74.1 185.2 80.1 176.4 86.1 167.7 92.1 159.3 98.1 151 104.1 143.1 107.7 138.5" stroke="#000" stroke-opacity="0.11" stroke-width="1.2"/><path d="M107.7 138.5 113.7 131.2 119.7 124.5 125.7 118.5 128.3 116.1" stroke="#000" stroke-opacity="0.08" stroke-width="0.9"/><path d="M128.3 116.1 134.3 111.4 140.3 107.9 146.3 105.7 152.3 105 155.9 105.3" stroke="#000" stroke-opacity="0.60" stroke-width="1.1"/><path d="M39.1 237.5 45.1 228.2 51.1 219 57.1 209.8 63.1 200.8 69.1 191.8 71.8 187.8" stroke="#fff" stroke-opacity="0.19" stroke-width="1.2"/><path d="M71.8 187.8 77.8 179.1 83.8 170.5 89.8 162.1 95.7 154.1" stroke="#fff" stroke-opacity="0.30" stroke-width="0.8"/><path d="M95.7 154.1 101.7 146.3 107.7 138.8 113.7 131.8 116.3 128.8" stroke="#fff" stroke-opacity="0.45" stroke-width="1.0"/><path d="M116.3 128.8 122.3 122.7 128.3 117.4 134.1 113.3" stroke="#fff" stroke-opacity="0.76" stroke-width="1.0"/><path d="M134.1 113.3 140.1 110.1 146.1 108.3 151.8 108" stroke="#fff" stroke-opacity="0.64" stroke-width="0.9"/><path d="M36.2 242.9 42.2 233.6 48.2 224.4 54.2 215.3 59.3 207.6" stroke="#fff" stroke-opacity="0.56" stroke-width="1.1"/><path d="M59.3 207.6 65.3 198.7 71.3 189.9 77.3 181.2 82.3 174" stroke="#fff" stroke-opacity="0.34" stroke-width="0.9"/><path d="M82.3 174 88.3 165.7 93.1 159.3" stroke="#fff" stroke-opacity="0.17" stroke-width="1.0"/><path d="M93.1 159.3 99.1 151.4 103.3 146" stroke="#fff" stroke-opacity="0.57" stroke-width="0.9"/><path d="M103.3 146 109.3 138.8 115.3 132 119.2 128" stroke="#fff" stroke-opacity="0.31" stroke-width="1.0"/><path d="M119.2 128 125.2 122.4 131.2 117.6 134.4 115.5" stroke="#fff" stroke-opacity="0.69" stroke-width="1.0"/><path d="M134.4 115.5 140.4 112.5 146.1 110.8" stroke="#fff" stroke-opacity="0.14" stroke-width="1.2"/><path d="M146.1 110.8 152.1 110.3 154.8 110.6" stroke="#fff" stroke-opacity="0.29" stroke-width="1.1"/><path d="M30.5 261 36.5 251.4 42.5 241.9 48.5 232.4 51.1 228.3" stroke="#000" stroke-opacity="0.68" stroke-width="1.0"/><path d="M51.1 228.3 57.1 219 63.1 209.7 66.4 204.8" stroke="#000" stroke-opacity="0.25" stroke-width="0.8"/><path d="M66.4 204.8 72.4 195.7 78.4 186.8 84.4 178 89.4 170.8" stroke="#000" stroke-opacity="0.21" stroke-width="1.0"/><path d="M89.4 170.8 95.4 162.4 101.4 154.3 107.4 146.6 113.4 139.3 119.4 132.6 121.8 130.1" stroke="#000" stroke-opacity="0.73" stroke-width="1.0"/><path d="M121.8 130.1 127.8 124.3 133.8 119.5 139.8 115.8 145.8 113.3 151.4 112.2" stroke="#000" stroke-opacity="0.18" stroke-width="1.2"/><path d="M151.4 112.2 157.3 112.5" stroke="#000" stroke-opacity="0.43" stroke-width="1.2"/><path d="M38.4 245.8 44.4 236.5 50.4 227.4 56.4 218.3 62.4 209.3 68.4 200.4 71.7 195.5" stroke="#000" stroke-opacity="0.60" stroke-width="0.8"/><path d="M71.7 195.5 77.7 186.9 83.7 178.4 88.7 171.5" stroke="#000" stroke-opacity="0.55" stroke-width="1.2"/><path d="M88.7 171.5 94.7 163.4 100.7 155.6 106.7 148.1 112.7 141.1 115.7 137.7" stroke="#000" stroke-opacity="0.11" stroke-width="0.9"/><path d="M115.7 137.7 121.7 131.6 127.7 126.1 133.7 121.5 134.4 121.1" stroke="#000" stroke-opacity="0.20" stroke-width="0.9"/><path d="M134.4 121.1 140.4 117.6 146.4 115.4 152.4 114.4 157.3 114.6" stroke="#000" stroke-opacity="0.35" stroke-width="0.9"/><path d="M39.3 246.8 45.3 237.6 50.1 230.2" stroke="#fff" stroke-opacity="0.71" stroke-width="0.8"/><path d="M50.1 230.2 56.1 221.1 62.1 212.1 65 207.7" stroke="#fff" stroke-opacity="0.61" stroke-width="1.1"/><path d="M65 207.7 71 198.9 77 190.1 83 181.6 89 173.2 90.4 171.4" stroke="#fff" stroke-opacity="0.42" stroke-width="1.1"/><path d="M90.4 171.4 96.4 163.3 102.4 155.6 108.4 148.3 111.1 145.1" stroke="#fff" stroke-opacity="0.22" stroke-width="0.9"/><path d="M111.1 145.1 117.1 138.5 123.1 132.5 123.9 131.7" stroke="#fff" stroke-opacity="0.11" stroke-width="1.2"/><path d="M123.9 131.7 129.9 126.6 135.9 122.4 141.9 119.3 147.9 117.4 153.9 116.8 157.6 117.1" stroke="#fff" stroke-opacity="0.33" stroke-width="1.0"/><path d="M38.8 247.1 44.8 237.9 50.8 228.7 56.8 219.7 62.8 210.8 68.8 202 72.1 197.3" stroke="#000" stroke-opacity="0.11" stroke-width="1.0"/><path d="M72.1 197.3 78.1 188.7 84.1 180.3 87.6 175.5" stroke="#000" stroke-opacity="0.54" stroke-width="0.9"/><path d="M87.6 175.5 93.6 167.5 99.6 159.8 105 153.1" stroke="#000" stroke-opacity="0.30" stroke-width="1.0"/><path d="M105 153.1 111 146.1 117 139.7 123 133.9 127.6 129.9" stroke="#000" stroke-opacity="0.43" stroke-width="1.1"/><path d="M127.6 129.9 133.6 125.6 139.6 122.2 145.6 120 149.4 119.2" stroke="#000" stroke-opacity="0.76" stroke-width="1.0"/><path d="M149.4 119.2 155.4 119.1 157.1 119.2" stroke="#000" stroke-opacity="0.75" stroke-width="1.0"/><path d="M34.2 256.9 40.2 247.6 46.2 238.3 48.1 235.4" stroke="#fff" stroke-opacity="0.10" stroke-width="1.1"/><path d="M48.1 235.4 54.1 226.3 60.1 217.3 66.1 208.4 66.3 208.1" stroke="#fff" stroke-opacity="0.26" stroke-width="0.8"/><path d="M66.3 208.1 72.3 199.3 76.9 192.8" stroke="#fff" stroke-opacity="0.56" stroke-width="0.9"/><path d="M76.9 192.8 82.9 184.3 88.9 176.1 94.9 168.2 97.8 164.4" stroke="#fff" stroke-opacity="0.57" stroke-width="1.2"/><path d="M97.8 164.4 103.8 157 109.8 150 115.8 143.4 121.8 137.5 125.3 134.4" stroke="#fff" stroke-opacity="0.24" stroke-width="1.2"/><path d="M125.3 134.4 131.3 129.7 137.3 126 139.9 124.7" stroke="#fff" stroke-opacity="0.50" stroke-width="1.1"/><path d="M139.9 124.7 145.9 122.5 151.9 121.6 157.1 121.8" stroke="#fff" stroke-opacity="0.72" stroke-width="1.0"/><path d="M36.2 252.7 42.2 243.4 48.2 234.3 54.2 225.2 60.2 216.3 64.6 209.7" stroke="#000" stroke-opacity="0.31" stroke-width="0.9"/><path d="M64.6 209.7 70.6 201 76.6 192.5 82.6 184.1 82.9 183.8" stroke="#000" stroke-opacity="0.78" stroke-width="1.1"/><path d="M82.9 183.8 88.9 175.7 94.9 167.9 100.9 160.4 104.6 156" stroke="#000" stroke-opacity="0.48" stroke-width="1.1"/><path d="M104.6 156 110.6 149.2 116.6 143.1 121.2 138.8" stroke="#000" stroke-opacity="0.13" stroke-width="0.8"/><path d="M121.2 138.8 127.2 133.9 133.2 129.9 139.2 126.9 145.2 125 145.8 124.9" stroke="#000" stroke-opacity="0.51" stroke-width="1.2"/><path d="M145.8 124.9 151.8 124.4 155.4 124.7" stroke="#000" stroke-opacity="0.69" stroke-width="1.2"/><path d="M37.6 250.6 43.6 241.6 49.6 232.6 55.6 223.7 61.6 215 62 214.4" stroke="#fff" stroke-opacity="0.17" stroke-width="1.2"/><path d="M62 214.4 68 205.8 74 197.4 80 189.2 85.1 182.2" stroke="#fff" stroke-opacity="0.62" stroke-width="1.0"/><path d="M85.1 182.2 91.1 174.5 97.1 167 103.1 159.8 109.1 153.2 109.9 152.4" stroke="#fff" stroke-opacity="0.49" stroke-width="0.8"/><path d="M109.9 152.4 115.9 146.3 121.9 140.8 123.1 139.8" stroke="#fff" stroke-opacity="0.61" stroke-width="0.9"/><path d="M123.1 139.8 129.1 135.2 135.1 131.6 136.3 130.9" stroke="#fff" stroke-opacity="0.67" stroke-width="1.1"/><path d="M136.3 130.9 142.3 128.5 148.3 127.1 154.3 126.9 156.3 127.1" stroke="#fff" stroke-opacity="0.36" stroke-width="0.9"/><path d="M32.7 259.6 38.7 250.5 42.8 244.4" stroke="#000" stroke-opacity="0.51" stroke-width="1.1"/><path d="M42.8 244.4 48.8 235.4 54.8 226.5 60.8 217.7 66.8 209.1 67.5 208.1" stroke="#000" stroke-opacity="0.79" stroke-width="0.9"/><path d="M67.5 208.1 73.5 199.7 79.5 191.5 85.5 183.5 91.5 175.7 95.8 170.4" stroke="#000" stroke-opacity="0.39" stroke-width="1.0"/><path d="M95.8 170.4 101.8 163.3 107.8 156.6 113.3 150.8" stroke="#000" stroke-opacity="0.25" stroke-width="1.0"/><path d="M113.3 150.8 119.3 145.2 125.3 140.3 131.3 136.2 137.3 133 138.5 132.5" stroke="#000" stroke-opacity="0.73" stroke-width="1.0"/><path d="M138.5 132.5 144.5 130.6 150.5 129.8 155.8 130" stroke="#000" stroke-opacity="0.55" stroke-width="1.1"/><path d="M30.4 264.6 36.4 255.5 42.4 246.5 44.6 243.1" stroke="#fff" stroke-opacity="0.34" stroke-width="1.1"/><path d="M44.6 243.1 50.6 234.2 56.6 225.4 62.6 216.7 68.6 208.2 71 204.8" stroke="#fff" stroke-opacity="0.43" stroke-width="1.1"/><path d="M71 204.8 77 196.5 83 188.5 89 180.7 89.2 180.5" stroke="#fff" stroke-opacity="0.33" stroke-width="1.1"/><path d="M89.2 180.5 95.2 173.1 101.2 166 107.2 159.3 113.2 153.1 116.2 150.3" stroke="#fff" stroke-opacity="0.39" stroke-width="1.2"/><path d="M116.2 150.3 122.2 145 126.8 141.5" stroke="#fff" stroke-opacity="0.47" stroke-width="1.1"/><path d="M126.8 141.5 132.8 137.7 138.8 134.8 144.8 132.9 150.8 132.1 156 132.4" stroke="#fff" stroke-opacity="0.22" stroke-width="1.1"/><path d="M36.4 257.4 42.4 248.5 48.4 239.7 54.4 231 60.4 222.4 66.4 214 71.2 207.4" stroke="#000" stroke-opacity="0.32" stroke-width="1.0"/><path d="M71.2 207.4 77.2 199.3 83.2 191.4 84.3 190" stroke="#000" stroke-opacity="0.57" stroke-width="0.8"/><path d="M84.3 190 90.3 182.4 96.3 175.1 102.3 168.2 108.3 161.7 114.3 155.6 115.5 154.5" stroke="#000" stroke-opacity="0.19" stroke-width="0.9"/><path d="M115.5 154.5 121.5 149.2 127.5 144.5 133.5 140.7 139.5 137.7 145.5 135.7 149.3 135" stroke="#000" stroke-opacity="0.44" stroke-width="1.1"/><path d="M149.3 135 155.3 134.7 158.1 134.9" stroke="#000" stroke-opacity="0.25" stroke-width="0.9"/><path d="M36.8 258.6 42.8 249.6 48.8 240.7 53.4 233.9" stroke="#000" stroke-opacity="0.61" stroke-width="1.2"/><path d="M53.4 233.9 59.4 225.2 65.4 216.6 71.4 208.3 77.4 200.1 78.3 199" stroke="#000" stroke-opacity="0.24" stroke-width="1.0"/><path d="M78.3 199 84.3 191.1 90.3 183.5 96.3 176.2 102.3 169.3 108.3 162.9 112.2 159" stroke="#000" stroke-opacity="0.51" stroke-width="0.9"/><path d="M112.2 159 118.2 153.5 124.2 148.7 127.2 146.5" stroke="#000" stroke-opacity="0.53" stroke-width="0.8"/><path d="M127.2 146.5 133.2 142.9 137.3 141" stroke="#000" stroke-opacity="0.35" stroke-width="0.9"/><path d="M137.3 141 143.3 138.9 149.3 137.9 155.3 138 155.9 138.1" stroke="#000" stroke-opacity="0.13" stroke-width="1.0"/><path d="M37.9 256.9 43.9 248.1 49.9 239.4 55.9 230.8 61.9 222.3 62.3 221.8" stroke="#fff" stroke-opacity="0.54" stroke-width="1.0"/><path d="M62.3 221.8 68.3 213.5 74.3 205.4 80.3 197.5 86.3 189.9 92.3 182.6 92.9 182" stroke="#fff" stroke-opacity="0.15" stroke-width="0.8"/><path d="M92.9 182 98.9 175 104.9 168.5 110.9 162.5 116.9 157 122.9 152.2 124.5 151" stroke="#fff" stroke-opacity="0.68" stroke-width="0.8"/><path d="M124.5 151 130.5 147.1 136.5 144.1 142.5 141.9 148.5 140.8 154.5 140.6 156.4 140.8" stroke="#fff" stroke-opacity="0.52" stroke-width="1.1"/><path d="M37.1 256.9 43.1 248.3 49.1 239.8 55.1 231.4 58.9 226.2" stroke="#000" stroke-opacity="0.27" stroke-width="0.9"/><path d="M58.9 226.2 64.9 218.1 70.9 210.2 76.9 202.4 82.9 194.9 88.9 187.7 92.3 183.8" stroke="#000" stroke-opacity="0.41" stroke-width="0.9"/><path d="M92.3 183.8 98.3 177.1 104.3 170.8 110.3 164.9 116.3 159.7 122.3 155 126.9 151.8" stroke="#000" stroke-opacity="0.78" stroke-width="0.9"/><path d="M126.9 151.8 132.9 148.4 138.9 145.8 141.8 144.9" stroke="#000" stroke-opacity="0.61" stroke-width="1.0"/><path d="M141.8 144.9 147.8 143.7 153.8 143.4 156.7 143.6" stroke="#000" stroke-opacity="0.57" stroke-width="0.9"/><path d="M34.3 262.3 40.3 253.6 46.3 245.1 52.3 236.7 58.3 228.4 64.3 220.3 66.6 217.1" stroke="#fff" stroke-opacity="0.18" stroke-width="1.2"/><path d="M66.6 217.1 72.6 209.3 78.6 201.7 83.2 196.1" stroke="#fff" stroke-opacity="0.33" stroke-width="0.8"/><path d="M83.2 196.1 89.2 188.9 95.2 182.1 101.1 175.8" stroke="#fff" stroke-opacity="0.79" stroke-width="0.9"/><path d="M101.1 175.8 107.1 169.8 113.1 164.4 119.1 159.4 125.1 155.2 131.1 151.7 132 151.2" stroke="#fff" stroke-opacity="0.78" stroke-width="1.1"/><path d="M132 151.2 138 148.6 144 146.9 146.6 146.4" stroke="#fff" stroke-opacity="0.39" stroke-width="0.9"/><path d="M146.6 146.4 152.6 146 156.2 146.2" stroke="#fff" stroke-opacity="0.32" stroke-width="0.9"/><path d="M31.4 269.6 37.4 261 43.4 252.4 44.3 251.2" stroke="#000" stroke-opacity="0.40" stroke-width="0.8"/><path d="M44.3 251.2 50.3 242.7 56.3 234.4 62.3 226.3 67.3 219.5" stroke="#000" stroke-opacity="0.26" stroke-width="1.1"/><path d="M67.3 219.5 73.3 211.7 79.3 204.1 84 198.4" stroke="#000" stroke-opacity="0.70" stroke-width="1.2"/><path d="M84 198.4 90 191.3 96 184.6 102 178.2 108 172.3 114 166.9 117.3 164.2" stroke="#000" stroke-opacity="0.24" stroke-width="1.2"/><path d="M117.3 164.2 123.3 159.7 129.3 155.9 135.3 152.8 139.1 151.3" stroke="#000" stroke-opacity="0.72" stroke-width="1.0"/><path d="M139.1 151.3 145.1 149.6 151.1 148.8 157.1 148.9 157.3 148.9" stroke="#000" stroke-opacity="0.27" stroke-width="1.1"/><path d="M30.3 276.8 36.3 267.9 42.3 259.2 47 252.4" stroke="#fff" stroke-opacity="0.38" stroke-width="0.9"/><path d="M47 252.4 53 243.9 59 235.5 65 227.3 71 219.3 71.6 218.5" stroke="#fff" stroke-opacity="0.08" stroke-width="1.0"/><path d="M71.6 218.5 77.6 210.7 83.6 203.2 89.6 195.9 95.6 189 101.6 182.5 103.9 180.1" stroke="#fff" stroke-opacity="0.77" stroke-width="1.1"/><path d="M103.9 180.1 109.9 174.1 115.9 168.7 121.9 163.9 127.9 159.8 131.1 157.9" stroke="#fff" stroke-opacity="0.51" stroke-width="1.2"/><path d="M131.1 157.9 137.1 154.9 143.1 152.7 149.1 151.4 155.1 151.1 158.4 151.3" stroke="#fff" stroke-opacity="0.41" stroke-width="1.0"/><path d="M36.6 267 42.6 258.4 48.6 249.9 54.6 241.5 58.9 235.8" stroke="#000" stroke-opacity="0.76" stroke-width="1.2"/><path d="M58.9 235.8 64.9 227.7 70.9 219.8 76.9 212.2 82.9 204.8 88.9 197.7 93.8 192.1" stroke="#000" stroke-opacity="0.76" stroke-width="0.8"/><path d="M93.8 192.1 99.8 185.7 105.6 179.8" stroke="#000" stroke-opacity="0.32" stroke-width="1.1"/><path d="M105.6 179.8 111.6 174.2 117.6 169.2 123.6 164.8 129.5 161.1" stroke="#000" stroke-opacity="0.26" stroke-width="0.8"/><path d="M129.5 161.1 135.5 158.1 141.5 155.9 145.8 154.9" stroke="#000" stroke-opacity="0.17" stroke-width="0.9"/><path d="M145.8 154.9 151.8 154.2 157.5 154.4" stroke="#000" stroke-opacity="0.22" stroke-width="0.9"/><path d="M38.8 264.9 44.8 256.4 50.8 247.9 56.8 239.6 62.8 231.5 66.9 226" stroke="#fff" stroke-opacity="0.61" stroke-width="0.9"/><path d="M66.9 226 72.9 218.2 78.9 210.7 84.9 203.4 87.5 200.4" stroke="#fff" stroke-opacity="0.35" stroke-width="1.0"/><path d="M87.5 200.4 93.5 193.7 99.5 187.3 105.5 181.3 111.5 175.8 117.5 170.9 120.3 168.9" stroke="#fff" stroke-opacity="0.39" stroke-width="1.1"/><path d="M120.3 168.9 126.3 164.9 132.3 161.7 138.3 159.2 144.3 157.6 146.1 157.3" stroke="#fff" stroke-opacity="0.14" stroke-width="0.9"/><path d="M146.1 157.3 152.1 156.8 156.3 157" stroke="#fff" stroke-opacity="0.65" stroke-width="0.9"/><path d="M39.2 264.4 45.2 255.9 51.2 247.7 57.2 239.6 63.2 231.6 64.5 230.1" stroke="#000" stroke-opacity="0.28" stroke-width="0.9"/><path d="M64.5 230.1 70.5 222.4 76.5 214.9 82.5 207.7 87.1 202.3" stroke="#000" stroke-opacity="0.20" stroke-width="1.0"/><path d="M87.1 202.3 93.1 195.7 98.8 189.8" stroke="#000" stroke-opacity="0.55" stroke-width="1.1"/><path d="M98.8 189.8 104.8 183.9 110.8 178.5 116.8 173.7 122.8 169.4 128.8 165.8 131.2 164.5" stroke="#000" stroke-opacity="0.51" stroke-width="1.0"/><path d="M131.2 164.5 137.2 161.9 143.2 160.1 149.2 159.2 155.2 159" stroke="#000" stroke-opacity="0.48" stroke-width="0.9"/><path d="M38.4 266 44.4 257.8 50.4 249.6 56.4 241.6 62.4 233.8 64.4 231.2" stroke="#fff" stroke-opacity="0.32" stroke-width="0.9"/><path d="M64.4 231.2 70.4 223.7 76.4 216.4 82.4 209.3 88.4 202.6 90.2 200.7" stroke="#fff" stroke-opacity="0.48" stroke-width="0.9"/><path d="M90.2 200.7 96.2 194.4 102.2 188.4 108.2 183 111.9 179.8" stroke="#fff" stroke-opacity="0.37" stroke-width="1.1"/><path d="M111.9 179.8 117.9 175.2 123.9 171.1 129.9 167.7 135.9 165 141.9 163.1 143.9 162.6" stroke="#fff" stroke-opacity="0.35" stroke-width="1.0"/><path d="M143.9 162.6 149.9 161.7 155.9 161.6 157.6 161.7" stroke="#fff" stroke-opacity="0.56" stroke-width="0.9"/><path d="M32.6 276.8 38.6 268.4 44.6 260.2 50.6 252.1 54.9 246.4" stroke="#000" stroke-opacity="0.40" stroke-width="0.9"/><path d="M54.9 246.4 60.9 238.6 66.9 230.9 69.3 227.9" stroke="#000" stroke-opacity="0.77" stroke-width="0.8"/><path d="M69.3 227.9 75.3 220.6 81.3 213.5 82.8 211.7" stroke="#000" stroke-opacity="0.61" stroke-width="0.9"/><path d="M82.8 211.7 88.8 205 94.8 198.6 97.7 195.7" stroke="#000" stroke-opacity="0.64" stroke-width="1.2"/><path d="M97.7 195.7 103.7 189.9 109.7 184.5 112.9 181.9" stroke="#000" stroke-opacity="0.59" stroke-width="1.0"/><path d="M112.9 181.9 118.9 177.3 124.9 173.3 130.9 169.9 136.9 167.2 142.9 165.3 147.9 164.2" stroke="#000" stroke-opacity="0.51" stroke-width="1.2"/><path d="M147.9 164.2 153.9 163.7 158.9 163.9" stroke="#000" stroke-opacity="0.17" stroke-width="1.0"/><path d="M39.2 265.7 45.2 257.6 51.2 249.6 57.2 241.9 63.2 234.3 65.5 231.5" stroke="#000" stroke-opacity="0.13" stroke-width="1.1"/><path d="M65.5 231.5 71.5 224.2 77.5 217.1 83.5 210.4 89.5 203.9 95.5 197.8 100.2 193.3" stroke="#000" stroke-opacity="0.64" stroke-width="1.1"/><path d="M100.2 193.3 106.2 187.9 112.2 183 118.2 178.7 121.2 176.7" stroke="#000" stroke-opacity="0.54" stroke-width="1.2"/><path d="M121.2 176.7 127.2 173.3 133.2 170.5 139.2 168.4 143.7 167.3" stroke="#000" stroke-opacity="0.13" stroke-width="0.9"/><path d="M143.7 167.3 149.7 166.6 155.7 166.6 156.7 166.7" stroke="#000" stroke-opacity="0.59" stroke-width="1.2"/><path d="M34.6 276.5 40.6 268.1 46.6 259.9 50.4 254.7" stroke="#fff" stroke-opacity="0.63" stroke-width="1.1"/><path d="M50.4 254.7 56.4 246.7 62.4 238.9 68.4 231.3 74.4 224 78.6 219.1" stroke="#fff" stroke-opacity="0.39" stroke-width="1.0"/><path d="M78.6 219.1 84.6 212.2 90.6 205.6 96.6 199.5 98.5 197.6" stroke="#fff" stroke-opacity="0.42" stroke-width="0.9"/><path d="M98.5 197.6 104.5 192 110.5 186.8 116.5 182.2 120.2 179.6" stroke="#fff" stroke-opacity="0.77" stroke-width="1.1"/><path d="M120.2 179.6 126.2 176 132.2 173 133.6 172.4" stroke="#fff" stroke-opacity="0.56" stroke-width="1.1"/><path d="M133.6 172.4 139.6 170.3 145.6 169 151.6 168.5 152.2 168.5" stroke="#fff" stroke-opacity="0.72" stroke-width="1.2"/><path d="M152.2 168.5 156.6 168.7" stroke="#fff" stroke-opacity="0.53" stroke-width="1.0"/><path d="M38.9 274.9 44.9 266.5 50.9 258.3 55.1 252.7" stroke="#000" stroke-opacity="0.65" stroke-width="1.0"/><path d="M55.1 252.7 61.1 244.8 67.1 237.1 69.7 233.9" stroke="#000" stroke-opacity="0.66" stroke-width="1.0"/><path d="M69.7 233.9 75.7 226.5 81.7 219.4 85.3 215.3" stroke="#000" stroke-opacity="0.72" stroke-width="1.0"/><path d="M85.3 215.3 91.3 208.7 97.3 202.5 103.3 196.7 109.3 191.3 112.1 189" stroke="#000" stroke-opacity="0.79" stroke-width="0.9"/><path d="M112.1 189 118.1 184.4 124.1 180.4 130.1 177.1 135.7 174.6" stroke="#000" stroke-opacity="0.47" stroke-width="0.9"/><path d="M135.7 174.6 141.7 172.6 147.7 171.4 153.7 170.9 158 171.1" stroke="#000" stroke-opacity="0.78" stroke-width="1.1"/><path d="M36.7 278.3 42.7 270.1 48.7 261.9 54.7 254 56.1 252.2" stroke="#fff" stroke-opacity="0.64" stroke-width="1.0"/><path d="M56.1 252.2 62.1 244.4 68.1 236.9 74.1 229.6 80.1 222.6 86.1 215.9 86.7 215.2" stroke="#fff" stroke-opacity="0.29" stroke-width="0.9"/><path d="M86.7 215.2 92.7 208.8 98.7 202.8 104.7 197.2 104.9 197" stroke="#fff" stroke-opacity="0.17" stroke-width="1.1"/><path d="M104.9 197 110.9 191.9 116.9 187.3 122.9 183.3 128.9 179.9 134.9 177.1 139.8 175.4" stroke="#fff" stroke-opacity="0.38" stroke-width="0.9"/><path d="M139.8 175.4 145.8 173.9 151.8 173.2 157.8 173.2 158.5 173.3" stroke="#fff" stroke-opacity="0.69" stroke-width="0.9"/><path d="M34 279.8 40 271.7 46 263.8 47 262.5" stroke="#000" stroke-opacity="0.18" stroke-width="1.0"/><path d="M47 262.5 53 254.7 59 247.1 64.5 240.4" stroke="#000" stroke-opacity="0.74" stroke-width="1.2"/><path d="M64.5 240.4 70.5 233.2 76.5 226.3 82.5 219.6 88.5 213.3 91.2 210.5" stroke="#000" stroke-opacity="0.28" stroke-width="1.1"/><path d="M91.2 210.5 97.2 204.6 103.2 199.2 109.2 194.2 109.7 193.9" stroke="#000" stroke-opacity="0.71" stroke-width="1.0"/><path d="M109.7 193.9 115.7 189.4 121.7 185.5 127.7 182.1 133.7 179.4 137 178.2" stroke="#000" stroke-opacity="0.62" stroke-width="1.1"/><path d="M137 178.2 143 176.6 149 175.6 155 175.3 158 175.5" stroke="#000" stroke-opacity="0.33" stroke-width="0.9"/><path d="M33.1 283.7 39.1 275.6 45.1 267.7 51.1 259.9 54.1 256.1" stroke="#fff" stroke-opacity="0.71" stroke-width="0.9"/><path d="M54.1 256.1 60.1 248.6 66.1 241.3 66.7 240.6" stroke="#fff" stroke-opacity="0.09" stroke-width="0.9"/><path d="M66.7 240.6 72.7 233.6 78.7 226.8 84.7 220.3 90.7 214.1 94.9 210" stroke="#fff" stroke-opacity="0.41" stroke-width="1.1"/><path d="M94.9 210 100.9 204.4 106.9 199.2 112.9 194.5 117.7 191" stroke="#fff" stroke-opacity="0.34" stroke-width="1.0"/><path d="M117.7 191 123.7 187.2 128.7 184.5" stroke="#fff" stroke-opacity="0.77" stroke-width="1.1"/><path d="M128.7 184.5 134.7 181.8 140.7 179.8 141.1 179.7" stroke="#fff" stroke-opacity="0.23" stroke-width="1.1"/><path d="M141.1 179.7 147.1 178.3 153.1 177.7 159.1 177.8 159.4 177.8" stroke="#fff" stroke-opacity="0.62" stroke-width="1.1"/><path d="M37.5 279.4 43.5 271.4 49.5 263.6 55.5 256 61.5 248.5 67.5 241.3 67.9 240.8" stroke="#000" stroke-opacity="0.30" stroke-width="1.0"/><path d="M67.9 240.8 73.9 233.8 79.9 227.1 85.9 220.7 91.9 214.5 96.2 210.3" stroke="#000" stroke-opacity="0.29" stroke-width="1.0"/><path d="M96.2 210.3 102.2 204.8 108.2 199.8 114.2 195.2 120.2 191.1 126.2 187.6 131 185.2" stroke="#000" stroke-opacity="0.17" stroke-width="1.2"/><path d="M131 185.2 137 182.8 143 181.1 149 180 155 179.7 159.1 179.8" stroke="#000" stroke-opacity="0.80" stroke-width="0.9"/><path d="M35.7 281.3 41.7 273.4 47.7 265.6 53.7 258 59.7 250.6 65.7 243.4 66.8 242.2" stroke="#000" stroke-opacity="0.43" stroke-width="1.0"/><path d="M66.8 242.2 72.8 235.2 78.8 228.6 84.8 222.2 90.8 216.1 96.8 210.4 100.7 207" stroke="#000" stroke-opacity="0.17" stroke-width="0.9"/><path d="M100.7 207 106.7 201.9 112.7 197.4 118.7 193.3 124.7 189.8 130.7 186.9 132.1 186.3" stroke="#000" stroke-opacity="0.50" stroke-width="1.1"/><path d="M132.1 186.3 138.1 184.2 144.1 182.7 150.1 181.9 156.1 181.8 158 181.9" stroke="#000" stroke-opacity="0.64" stroke-width="1.0"/><path d="M39.2 279.1 45.2 271.3 51.2 263.7 57.2 256.2 62.4 249.9" stroke="#fff" stroke-opacity="0.10" stroke-width="1.1"/><path d="M62.4 249.9 68.4 242.9 74.4 236 80.4 229.5 86.4 223.2 92.4 217.3 97.3 212.8" stroke="#fff" stroke-opacity="0.53" stroke-width="1.0"/><path d="M97.3 212.8 103.3 207.6 109.3 202.8 115.3 198.5 118.6 196.2" stroke="#fff" stroke-opacity="0.53" stroke-width="1.0"/><path d="M118.6 196.2 124.6 192.7 130.6 189.8 136.6 187.5 140.9 186.3" stroke="#fff" stroke-opacity="0.73" stroke-width="1.2"/><path d="M140.9 186.3 146.9 185.1 152.9 184.6 158.4 184.7" stroke="#fff" stroke-opacity="0.60" stroke-width="1.1"/><path d="M39.5 280.2 45.5 272.4 51.5 264.8 55.3 260.1" stroke="#000" stroke-opacity="0.67" stroke-width="1.1"/><path d="M55.3 260.1 61.3 252.8 67.3 245.8 73.3 238.9 75.4 236.6" stroke="#000" stroke-opacity="0.10" stroke-width="0.9"/><path d="M75.4 236.6 81.4 230.1 87.4 223.9 93.4 218.1 99.4 212.7 101.5 210.8" stroke="#000" stroke-opacity="0.59" stroke-width="0.9"/><path d="M101.5 210.8 107.5 205.9 113.5 201.5 119.5 197.6 125.5 194.2 126.5 193.7" stroke="#000" stroke-opacity="0.20" stroke-width="1.1"/><path d="M126.5 193.7 132.5 191.1 138.5 189 144.5 187.6 150.5 186.8 156.1 186.7" stroke="#000" stroke-opacity="0.64" stroke-width="1.0"/><path d="M30.7 291.5 36.7 283.6 42.6 276.1" stroke="#fff" stroke-opacity="0.77" stroke-width="1.1"/><path d="M42.6 276.1 48.6 268.5 54.6 261 60.6 253.8 66.6 246.8 66.6 246.8" stroke="#fff" stroke-opacity="0.58" stroke-width="1.1"/><path d="M66.6 246.8 72.6 240 78.6 233.5 84.6 227.4 90.6 221.5 92.5 219.8" stroke="#fff" stroke-opacity="0.39" stroke-width="1.0"/><path d="M92.5 219.8 98.5 214.4 104.5 209.5 110.5 205 116.5 201 122.5 197.6 126.8 195.5" stroke="#fff" stroke-opacity="0.77" stroke-width="0.9"/><path d="M126.8 195.5 132.8 193 138.8 191.1 144.8 189.9 150.8 189.3 156.8 189.4 156.9 189.4" stroke="#fff" stroke-opacity="0.54" stroke-width="0.9"/><path d="M35.9 290.3 41.9 282.4 47.3 275.3" stroke="#000" stroke-opacity="0.73" stroke-width="1.2"/><path d="M47.3 275.3 53.3 267.7 59.3 260.3 65.3 253.1 71.3 246.2 76.3 240.6" stroke="#000" stroke-opacity="0.29" stroke-width="1.1"/><path d="M76.3 240.6 82.3 234.1 88.3 228 89.2 227.1" stroke="#000" stroke-opacity="0.47" stroke-width="0.9"/><path d="M89.2 227.1 95.2 221.4 101.2 216.1 107.2 211.2 111 208.4" stroke="#000" stroke-opacity="0.29" stroke-width="0.8"/><path d="M111 208.4 117 204.3 123 200.7 129 197.7 131.9 196.5" stroke="#000" stroke-opacity="0.25" stroke-width="0.9"/><path d="M131.9 196.5 137.9 194.4 143.9 193 149.9 192.2 150.1 192.2" stroke="#000" stroke-opacity="0.17" stroke-width="0.8"/><path d="M150.1 192.2 156.1 192.1 157.8 192.2" stroke="#000" stroke-opacity="0.12" stroke-width="1.2"/><path d="M30.6 296.4 36.6 288.5 42.6 280.8 48.6 273.2 54.1 266.4" stroke="#fff" stroke-opacity="0.09" stroke-width="0.9"/><path d="M54.1 266.4 60.1 259.2 66.1 252.2 72.1 245.5 78.1 239 81.9 235.1" stroke="#fff" stroke-opacity="0.69" stroke-width="0.9"/><path d="M81.9 235.1 87.9 229.2 93.9 223.6 99.9 218.4 102.1 216.6" stroke="#fff" stroke-opacity="0.76" stroke-width="0.9"/><path d="M102.1 216.6 108.1 212 114.1 207.8 115 207.2" stroke="#fff" stroke-opacity="0.26" stroke-width="1.1"/><path d="M115 207.2 121 203.6 127 200.6 133 198.1 133.6 197.9" stroke="#fff" stroke-opacity="0.56" stroke-width="1.2"/><path d="M133.6 197.9 139.6 196.1 145.6 195 151.6 194.5 157.4 194.6" stroke="#fff" stroke-opacity="0.22" stroke-width="1.0"/><path d="M36.9 292 42.9 284.2 48.9 276.6 54.9 269.2 59.6 263.5" stroke="#fff" stroke-opacity="0.66" stroke-width="1.0"/><path d="M59.6 263.5 65.6 256.4 71.6 249.6 74.4 246.5" stroke="#fff" stroke-opacity="0.56" stroke-width="0.9"/><path d="M74.4 246.5 80.4 240.1 86.4 234 89.7 230.8" stroke="#fff" stroke-opacity="0.36" stroke-width="1.0"/><path d="M89.7 230.8 95.7 225.2 100.5 221.1" stroke="#fff" stroke-opacity="0.34" stroke-width="1.2"/><path d="M100.5 221.1 106.5 216.2 112.5 211.9 118.5 208 123.3 205.3" stroke="#fff" stroke-opacity="0.34" stroke-width="1.0"/><path d="M123.3 205.3 129.3 202.3 135.3 200 141.3 198.3 147.3 197.2 150.7 196.8" stroke="#fff" stroke-opacity="0.44" stroke-width="1.0"/><path d="M150.7 196.8 156.7 196.7 158.6 196.8" stroke="#fff" stroke-opacity="0.28" stroke-width="1.1"/><path d="M32 299.4 38 291.6 44 284 50 276.6 54.1 271.5" stroke="#000" stroke-opacity="0.43" stroke-width="0.8"/><path d="M54.1 271.5 60.1 264.4 66.1 257.5 67.3 256.2" stroke="#000" stroke-opacity="0.41" stroke-width="1.1"/><path d="M67.3 256.2 73.3 249.6 79.3 243.2 85.3 237.2 91.3 231.5 97.3 226.1 97.5 225.9" stroke="#000" stroke-opacity="0.69" stroke-width="1.1"/><path d="M97.5 225.9 103.5 220.9 109.5 216.4 115.5 212.3 121.5 208.7 127.5 205.7 131.7 203.9" stroke="#000" stroke-opacity="0.22" stroke-width="0.9"/><path d="M131.7 203.9 137.7 201.8 143.7 200.2 145.2 200" stroke="#000" stroke-opacity="0.65" stroke-width="0.9"/><path d="M145.2 200 151.2 199.2 157.2 199.1 159.3 199.2" stroke="#000" stroke-opacity="0.18" stroke-width="1.2"/><path d="M30.4 302.4 36.4 294.6 42.4 286.9 48.4 279.4 54.4 272.1 54.9 271.5" stroke="#fff" stroke-opacity="0.46" stroke-width="1.0"/><path d="M54.9 271.5 60.9 264.4 66.9 257.5 72.9 250.9 77.8 245.7" stroke="#fff" stroke-opacity="0.65" stroke-width="1.1"/><path d="M77.8 245.7 83.8 239.6 89.8 233.9 95.8 228.4 101.8 223.4 107.8 218.9 109.3 217.8" stroke="#fff" stroke-opacity="0.32" stroke-width="0.8"/><path d="M109.3 217.8 115.3 213.8 121.3 210.2 127.3 207.3 131.1 205.7" stroke="#fff" stroke-opacity="0.10" stroke-width="1.1"/><path d="M131.1 205.7 137.1 203.7 143.1 202.2 149.1 201.4 153.1 201.2" stroke="#fff" stroke-opacity="0.62" stroke-width="1.1"/><path d="M153.1 201.2 158 201.3" stroke="#fff" stroke-opacity="0.58" stroke-width="0.9"/><path d="M34.7 298.1 40.7 290.5 46.7 283.1 52.7 275.9 58 269.7" stroke="#fff" stroke-opacity="0.22" stroke-width="1.1"/><path d="M58 269.7 64 262.9 70 256.3 76 250 79.8 246.1" stroke="#fff" stroke-opacity="0.61" stroke-width="1.1"/><path d="M79.8 246.1 85.8 240.2 91.8 234.7 97.8 229.5 102.8 225.5" stroke="#fff" stroke-opacity="0.50" stroke-width="1.0"/><path d="M102.8 225.5 108.8 221.1 114.8 217.1 118.8 214.8" stroke="#fff" stroke-opacity="0.66" stroke-width="1.2"/><path d="M118.8 214.8 124.8 211.6 129.6 209.4" stroke="#fff" stroke-opacity="0.10" stroke-width="1.0"/><path d="M129.6 209.4 135.6 207.2 141.6 205.5" stroke="#fff" stroke-opacity="0.40" stroke-width="0.9"/><path d="M141.6 205.5 147.6 204.5 153.6 204 157.7 204" stroke="#fff" stroke-opacity="0.64" stroke-width="1.0"/><path d="M37.7 295.6 43.7 288.1 49.7 280.9 55.7 273.8 58.4 270.7" stroke="#000" stroke-opacity="0.21" stroke-width="1.0"/><path d="M58.4 270.7 64.4 263.9 70.4 257.4 76.4 251.2 82.4 245.2 82.6 245" stroke="#000" stroke-opacity="0.78" stroke-width="1.1"/><path d="M82.6 245 88.6 239.4 94.6 234.1 100.6 229.3 106.6 224.8 112.6 220.7 113.7 220" stroke="#000" stroke-opacity="0.68" stroke-width="1.0"/><path d="M113.7 220 119.7 216.6 125.7 213.6 131.7 211.1 136.4 209.6" stroke="#000" stroke-opacity="0.68" stroke-width="1.1"/><path d="M136.4 209.6 142.4 208.2 148.4 207.3 154.4 207.1 156.4 207.1" stroke="#000" stroke-opacity="0.22" stroke-width="1.1"/><path d="M36.5 298.3 42.5 290.9 48.5 283.6 54.5 276.6 60.5 269.8 66.5 263.2 69.9 259.5" stroke="#fff" stroke-opacity="0.50" stroke-width="1.0"/><path d="M69.9 259.5 75.9 253.4 81.9 247.5 87.9 241.9 93.9 236.7 99.9 231.8 102 230.2" stroke="#fff" stroke-opacity="0.18" stroke-width="1.0"/><path d="M102 230.2 108 225.9 114 222 120 218.6 126 215.7 132 213.3 136.7 211.8" stroke="#fff" stroke-opacity="0.32" stroke-width="0.9"/><path d="M136.7 211.8 142.7 210.4 148.7 209.5 149.5 209.5" stroke="#fff" stroke-opacity="0.10" stroke-width="1.1"/><path d="M149.5 209.5 155.5 209.3 158.3 209.4" stroke="#fff" stroke-opacity="0.67" stroke-width="1.1"/><path d="M30.3 307.5 36.3 300 42.3 292.6 46.7 287.3" stroke="#000" stroke-opacity="0.32" stroke-width="1.0"/><path d="M46.7 287.3 52.7 280.3 58.7 273.4 64.7 266.8 69.9 261.1" stroke="#000" stroke-opacity="0.79" stroke-width="0.8"/><path d="M69.9 261.1 75.9 255 81.9 249.1 83.3 247.8" stroke="#000" stroke-opacity="0.73" stroke-width="0.9"/><path d="M83.3 247.8 89.3 242.4 95.3 237.2 101.3 232.5 106.8 228.5" stroke="#000" stroke-opacity="0.30" stroke-width="1.2"/><path d="M106.8 228.5 112.8 224.6 118.8 221.1 124.8 218.1 130.8 215.6 136.8 213.6 140.1 212.8" stroke="#000" stroke-opacity="0.49" stroke-width="0.8"/><path d="M140.1 212.8 146.1 211.7 152.1 211.2 158.1 211.2 158.5 211.3" stroke="#000" stroke-opacity="0.59" stroke-width="1.0"/><path d="M38.2 298.4 44.2 291.1 50.2 284.1 56.2 277.3 57.9 275.4" stroke="#fff" stroke-opacity="0.42" stroke-width="0.9"/><path d="M57.9 275.4 63.9 268.9 69.9 262.5 75.9 256.5 81.9 250.7 85.7 247.2" stroke="#fff" stroke-opacity="0.38" stroke-width="1.0"/><path d="M85.7 247.2 91.7 242 97.7 237.1 103.7 232.6 109.7 228.5 115.1 225.2" stroke="#fff" stroke-opacity="0.29" stroke-width="0.8"/><path d="M115.1 225.2 121.1 222 127.1 219.2 133.1 217 139.1 215.2 141.1 214.8" stroke="#fff" stroke-opacity="0.61" stroke-width="0.8"/><path d="M141.1 214.8 147.1 213.8 153.1 213.3 158.8 213.4" stroke="#fff" stroke-opacity="0.72" stroke-width="1.0"/><path d="M39.2 299.1 45.2 291.9 51.2 284.9 57.2 278.1 63.2 271.5 65.7 268.8" stroke="#000" stroke-opacity="0.78" stroke-width="1.0"/><path d="M65.7 268.8 71.7 262.5 77.4 256.8" stroke="#000" stroke-opacity="0.33" stroke-width="0.9"/><path d="M77.4 256.8 83.4 251.2 88.9 246.3" stroke="#000" stroke-opacity="0.14" stroke-width="1.2"/><path d="M88.9 246.3 94.9 241.3 100.9 236.6 106.9 232.4 112.9 228.5 118.9 225.2 121.2 223.9" stroke="#000" stroke-opacity="0.18" stroke-width="0.8"/><path d="M121.2 223.9 127.2 221.2 133.2 219.1 139.2 217.4 145.2 216.3 151.2 215.7 155.8 215.7" stroke="#000" stroke-opacity="0.20" stroke-width="0.9"/><path d="M37.8 301.3 43.8 294.2 49.5 287.5" stroke="#fff" stroke-opacity="0.43" stroke-width="0.9"/><path d="M49.5 287.5 55.5 280.7 61.5 274.2 67.5 267.9 73.5 261.9 79.2 256.5" stroke="#fff" stroke-opacity="0.73" stroke-width="1.1"/><path d="M79.2 256.5 85.2 251 91.2 245.9 97.2 241.1 102.6 237.1" stroke="#fff" stroke-opacity="0.18" stroke-width="1.1"/><path d="M102.6 237.1 108.6 233.1 114.3 229.6" stroke="#fff" stroke-opacity="0.64" stroke-width="0.9"/><path d="M114.3 229.6 120.3 226.4 126.3 223.7 132.3 221.5 138.3 219.8 144.3 218.6 146.6 218.3" stroke="#fff" stroke-opacity="0.29" stroke-width="1.1"/><path d="M146.6 218.3 152.6 217.8 158.4 217.9" stroke="#fff" stroke-opacity="0.25" stroke-width="1.0"/><path d="M37 306.4 43 299.1 49 292 55 285.1 55.5 284.5" stroke="#000" stroke-opacity="0.52" stroke-width="0.9"/><path d="M55.5 284.5 61.5 277.9 67.5 271.5 73.5 265.3 78.5 260.3" stroke="#000" stroke-opacity="0.25" stroke-width="1.1"/><path d="M78.5 260.3 84.5 254.7 90.5 249.4 93.3 247.1" stroke="#000" stroke-opacity="0.29" stroke-width="0.8"/><path d="M93.3 247.1 99.3 242.4 105.3 238 110.8 234.4" stroke="#000" stroke-opacity="0.47" stroke-width="0.9"/><path d="M110.8 234.4 116.8 230.8 122.8 227.8 123.8 227.3" stroke="#000" stroke-opacity="0.72" stroke-width="0.9"/><path d="M123.8 227.3 129.8 224.8 135.8 222.8 139.2 222" stroke="#000" stroke-opacity="0.37" stroke-width="1.1"/><path d="M139.2 222 145.2 220.8 151.2 220.3 157.2 220.3 158.3 220.3" stroke="#000" stroke-opacity="0.73" stroke-width="1.0"/><path d="M38.4 305.1 44.4 298 50.4 291.2 56.4 284.5 62.4 278.1 68.4 271.9 71.3 269" stroke="#fff" stroke-opacity="0.68" stroke-width="1.1"/><path d="M71.3 269 77.3 263.1 83.3 257.6 89.3 252.4 95.3 247.5 101.3 243 101.4 243" stroke="#fff" stroke-opacity="0.29" stroke-width="1.0"/><path d="M101.4 243 107.4 238.8 113.4 235.1 115.5 233.9" stroke="#fff" stroke-opacity="0.75" stroke-width="1.0"/><path d="M115.5 233.9 121.5 230.8 127.5 228.2 129.9 227.2" stroke="#fff" stroke-opacity="0.79" stroke-width="1.0"/><path d="M129.9 227.2 135.9 225.3 141.9 223.8 145.2 223.2" stroke="#fff" stroke-opacity="0.69" stroke-width="1.1"/><path d="M145.2 223.2 151.2 222.6 157.2 222.5 159.4 222.6" stroke="#fff" stroke-opacity="0.71" stroke-width="0.9"/><path d="M34.8 312 40.8 304.8 46.8 297.8 49.8 294.4" stroke="#000" stroke-opacity="0.17" stroke-width="0.9"/><path d="M49.8 294.4 55.8 287.7 61.8 281.2 67.8 274.9 73.8 268.9 74.2 268.6" stroke="#000" stroke-opacity="0.74" stroke-width="1.1"/><path d="M74.2 268.6 80.2 262.9 86.2 257.5 92.2 252.4 98.2 247.7 104.2 243.3 105.4 242.5" stroke="#000" stroke-opacity="0.49" stroke-width="1.1"/><path d="M105.4 242.5 111.4 238.6 117.4 235.2 123.4 232.2 123.6 232.1" stroke="#000" stroke-opacity="0.34" stroke-width="1.2"/><path d="M123.6 232.1 129.6 229.6 135.6 227.6 140.1 226.4" stroke="#000" stroke-opacity="0.53" stroke-width="1.0"/><path d="M140.1 226.4 146.1 225.3 151.4 224.8" stroke="#000" stroke-opacity="0.49" stroke-width="1.1"/><path d="M151.4 224.8 157.4 224.7 159.7 224.8" stroke="#000" stroke-opacity="0.38" stroke-width="1.2"/><path d="M34.5 317.5 40.5 310.1 46.5 302.9 52.5 295.9 58.5 289.1 59.2 288.4" stroke="#fff" stroke-opacity="0.67" stroke-width="0.9"/><path d="M59.2 288.4 65.2 281.8 71.2 275.6 73.7 272.9" stroke="#fff" stroke-opacity="0.62" stroke-width="1.2"/><path d="M73.7 272.9 79.7 267 85.7 261.4 89.4 258.2" stroke="#fff" stroke-opacity="0.47" stroke-width="1.0"/><path d="M89.4 258.2 95.4 253.1 101.4 248.4 107.2 244.3" stroke="#fff" stroke-opacity="0.69" stroke-width="0.9"/><path d="M107.2 244.3 113.2 240.4 119.2 236.9 125.2 233.9 131.2 231.4 136.7 229.5" stroke="#fff" stroke-opacity="0.38" stroke-width="0.9"/><path d="M136.7 229.5 142.7 228 148.7 227 154.7 226.5 160.7 226.6 160.7 226.6" stroke="#fff" stroke-opacity="0.19" stroke-width="0.8"/><path d="M39.4 307.5 45.4 300.6 51.4 293.9 55.8 289.1" stroke="#000" stroke-opacity="0.60" stroke-width="0.9"/><path d="M55.8 289.1 61.8 282.8 66.1 278.4" stroke="#000" stroke-opacity="0.09" stroke-width="0.8"/><path d="M66.1 278.4 72.1 272.5 78.1 266.9 84.1 261.5 90.1 256.5 96.1 251.8 99.9 249" stroke="#000" stroke-opacity="0.41" stroke-width="0.9"/><path d="M99.9 249 105.9 244.9 111.1 241.8" stroke="#000" stroke-opacity="0.54" stroke-width="0.9"/><path d="M111.1 241.8 117.1 238.4 123.1 235.6 125.6 234.5" stroke="#000" stroke-opacity="0.39" stroke-width="1.1"/><path d="M125.6 234.5 131.6 232.3 137.6 230.5 143.6 229.3 144.2 229.2" stroke="#000" stroke-opacity="0.48" stroke-width="0.9"/><path d="M144.2 229.2 150.2 228.5 156.2 228.4 159.1 228.5" stroke="#000" stroke-opacity="0.11" stroke-width="1.2"/><path d="M37.5 315 43.5 308 49.5 301.1 55.5 294.4 61.5 287.9 62 287.4" stroke="#fff" stroke-opacity="0.59" stroke-width="1.0"/><path d="M62 287.4 68 281.2 74 275.3 80 269.6 82 267.8" stroke="#fff" stroke-opacity="0.60" stroke-width="0.9"/><path d="M82 267.8 88 262.5 94 257.6 100 253 100.5 252.6" stroke="#fff" stroke-opacity="0.25" stroke-width="0.9"/><path d="M100.5 252.6 106.5 248.5 112.5 244.7 118.5 241.4 124.5 238.5 130.5 236.1 132.1 235.5" stroke="#fff" stroke-opacity="0.30" stroke-width="1.1"/><path d="M132.1 235.5 138.1 233.8 143.3 232.6" stroke="#fff" stroke-opacity="0.75" stroke-width="1.0"/><path d="M143.3 232.6 149.3 231.8 155.3 231.5 159.9 231.6" stroke="#fff" stroke-opacity="0.16" stroke-width="1.0"/><path d="M37.7 314 43.7 307.2 49.7 300.5 55.7 294.1 61.7 287.8 66.7 282.8" stroke="#000" stroke-opacity="0.13" stroke-width="0.9"/><path d="M66.7 282.8 72.7 277 78.7 271.5 84.7 266.3 90.7 261.4 96.7 256.8 99.6 254.8" stroke="#000" stroke-opacity="0.29" stroke-width="0.8"/><path d="M99.6 254.8 105.6 250.8 111.6 247.2 117.6 244 123.6 241.2 129.6 238.9 131.3 238.3" stroke="#000" stroke-opacity="0.67" stroke-width="1.0"/><path d="M131.3 238.3 137.3 236.6 143.3 235.4 149.3 234.6 155.3 234.4 158.8 234.5" stroke="#000" stroke-opacity="0.62" stroke-width="1.1"/><path d="M35.2 324.3 41.2 317.1 47.2 310 53.2 303.1 55.1 301.1" stroke="#fff" stroke-opacity="0.79" stroke-width="1.2"/><path d="M55.1 301.1 61.1 294.5 67.1 288.2 73.1 282.1 79.1 276.3 85.1 270.8 85.2 270.7" stroke="#fff" stroke-opacity="0.44" stroke-width="1.2"/><path d="M85.2 270.7 91.2 265.5 97.2 260.7 103.2 256.3 109.2 252.2 115.2 248.6 117 247.5" stroke="#fff" stroke-opacity="0.44" stroke-width="0.9"/><path d="M117 247.5 123 244.5 129 241.9 135 239.8 141 238.2 142.4 237.9" stroke="#fff" stroke-opacity="0.18" stroke-width="0.9"/><path d="M142.4 237.9 148.4 236.9 154.4 236.5 160.4 236.6 160.5 236.6" stroke="#fff" stroke-opacity="0.44" stroke-width="1.1"/><path d="M33.2 326.4 39.2 319.4 45.2 312.5 51.2 305.8 51.9 305" stroke="#fff" stroke-opacity="0.62" stroke-width="1.2"/><path d="M51.9 305 57.9 298.6 63.9 292.4 69.9 286.4 74.6 282" stroke="#fff" stroke-opacity="0.65" stroke-width="1.1"/><path d="M74.6 282 80.6 276.5 86.6 271.3 92.5 266.5" stroke="#fff" stroke-opacity="0.52" stroke-width="1.2"/><path d="M92.5 266.5 98.5 262 103 258.8" stroke="#fff" stroke-opacity="0.17" stroke-width="1.1"/><path d="M103 258.8 109 254.9 115 251.4 121 248.3 127 245.6 127.2 245.6" stroke="#fff" stroke-opacity="0.38" stroke-width="1.1"/><path d="M127.2 245.6 133.2 243.4 139.2 241.7 145.2 240.4 148.2 240" stroke="#fff" stroke-opacity="0.18" stroke-width="0.9"/><path d="M148.2 240 154.2 239.5 160.2 239.5 161.2 239.5" stroke="#fff" stroke-opacity="0.54" stroke-width="1.0"/><path d="M37.9 321.2 43.9 314.5 49.9 307.9 55.9 301.5 61.9 295.3 67.9 289.3 71.3 286" stroke="#000" stroke-opacity="0.58" stroke-width="1.0"/><path d="M71.3 286 77.3 280.5 83.3 275.2 89.3 270.3 95.3 265.7 100 262.3" stroke="#000" stroke-opacity="0.56" stroke-width="1.0"/><path d="M100 262.3 106 258.3 112 254.7 118 251.4 124 248.6 129.6 246.4" stroke="#000" stroke-opacity="0.48" stroke-width="1.0"/><path d="M129.6 246.4 135.6 244.4 141.6 242.9 146.1 242.1" stroke="#000" stroke-opacity="0.64" stroke-width="0.8"/><path d="M146.1 242.1 152.1 241.4 158.1 241.2 158.5 241.2" stroke="#000" stroke-opacity="0.53" stroke-width="0.8"/><path d="M34.8 326.2 40.8 319.3 46.8 312.6 52.8 306.1 58.8 299.8 60.2 298.4" stroke="#fff" stroke-opacity="0.22" stroke-width="1.0"/><path d="M60.2 298.4 66.2 292.4 72.2 286.6 78.2 281.2 84.2 276 90.2 271.2 94.5 267.9" stroke="#fff" stroke-opacity="0.19" stroke-width="0.9"/><path d="M94.5 267.9 100.5 263.6 106.5 259.7 109.4 258" stroke="#fff" stroke-opacity="0.16" stroke-width="0.8"/><path d="M109.4 258 115.4 254.7 121.4 251.8 127.4 249.4 133.4 247.4 139.4 245.9 143.4 245.2" stroke="#fff" stroke-opacity="0.77" stroke-width="0.8"/><path d="M143.4 245.2 149.4 244.5 155.4 244.2 159.1 244.4" stroke="#fff" stroke-opacity="0.50" stroke-width="0.9"/><path d="M37 326.6 43 319.8 49 313.1 52.9 308.9" stroke="#000" stroke-opacity="0.19" stroke-width="1.1"/><path d="M52.9 308.9 58.9 302.6 64.9 296.5 70.3 291.4" stroke="#000" stroke-opacity="0.52" stroke-width="1.1"/><path d="M70.3 291.4 76.3 285.8 81.1 281.6" stroke="#000" stroke-opacity="0.60" stroke-width="1.2"/><path d="M81.1 281.6 87.1 276.6 93.1 271.9 99.1 267.5 101.1 266.1" stroke="#000" stroke-opacity="0.49" stroke-width="0.9"/><path d="M101.1 266.1 107.1 262.3 113.1 258.9 119.1 255.8 125.1 253.3 131.1 251.1 133.1 250.5" stroke="#000" stroke-opacity="0.24" stroke-width="0.8"/><path d="M133.1 250.5 139.1 249 145.1 247.9 151.1 247.4 155.7 247.3" stroke="#000" stroke-opacity="0.40" stroke-width="1.0"/><path d="M37.5 329.9 43.5 323.1 48.4 317.6" stroke="#fff" stroke-opacity="0.74" stroke-width="1.1"/><path d="M48.4 317.6 54.4 311.1 60.4 304.8 64.9 300.4" stroke="#fff" stroke-opacity="0.41" stroke-width="0.8"/><path d="M64.9 300.4 70.9 294.6 76.9 289 82.9 283.7 88.9 278.7 94.7 274.2" stroke="#fff" stroke-opacity="0.78" stroke-width="1.0"/><path d="M94.7 274.2 100.7 269.9 106.7 266 112.7 262.4 118.7 259.2 124.7 256.4 129.1 254.7" stroke="#fff" stroke-opacity="0.42" stroke-width="1.1"/><path d="M129.1 254.7 135.1 252.7 141.1 251.1 147.1 250.1 153.1 249.5 159.1 249.4 160.2 249.4" stroke="#fff" stroke-opacity="0.75" stroke-width="1.0"/><path d="M35.8 332.7 41.8 325.8 47.8 319.1 53.8 312.6 59.8 306.3 60.9 305.2" stroke="#000" stroke-opacity="0.21" stroke-width="0.9"/><path d="M60.9 305.2 66.9 299.2 72.9 293.5 78.4 288.5" stroke="#000" stroke-opacity="0.09" stroke-width="1.0"/><path d="M78.4 288.5 84.4 283.3 90.4 278.5 96.4 274 97.9 272.9" stroke="#000" stroke-opacity="0.60" stroke-width="1.1"/><path d="M97.9 272.9 103.9 268.9 109.9 265.2 115.9 262 121.9 259.1 127.9 256.8 131.6 255.5" stroke="#000" stroke-opacity="0.71" stroke-width="0.9"/><path d="M131.6 255.5 137.6 253.9 143.6 252.7 149.6 252.1 155.6 251.9 156.9 251.9" stroke="#000" stroke-opacity="0.58" stroke-width="1.1"/><path d="M39.2 329.8 45.2 323.1 51.2 316.6 57.2 310.4 59.5 308" stroke="#fff" stroke-opacity="0.59" stroke-width="0.8"/><path d="M59.5 308 65.5 302 71.5 296.4 77.5 291 83.5 285.8 89.5 281 92 279.2" stroke="#fff" stroke-opacity="0.78" stroke-width="1.2"/><path d="M92 279.2 98 274.9 104 270.9 110 267.3 110.5 267" stroke="#fff" stroke-opacity="0.68" stroke-width="1.2"/><path d="M110.5 267 116.5 263.8 122.5 261.1 123.2 260.8" stroke="#fff" stroke-opacity="0.13" stroke-width="1.1"/><path d="M123.2 260.8 129.2 258.5 135.2 256.7 141.2 255.3 147.2 254.4 153.2 253.9 157.9 253.9" stroke="#fff" stroke-opacity="0.10" stroke-width="1.1"/><path d="M35 334.7 41 328.1 47 321.7 50 318.6" stroke="#000" stroke-opacity="0.73" stroke-width="1.1"/><path d="M50 318.6 56 312.5 62 306.6 64.2 304.5" stroke="#000" stroke-opacity="0.53" stroke-width="1.0"/><path d="M64.2 304.5 70.2 299 76.2 293.7 82.2 288.7 88.2 284 94.2 279.6 97.6 277.2" stroke="#000" stroke-opacity="0.79" stroke-width="1.2"/><path d="M97.6 277.2 103.6 273.4 109 270.2" stroke="#000" stroke-opacity="0.38" stroke-width="0.9"/><path d="M109 270.2 115 267.1 121 264.3 127 261.9 133 260 137.8 258.8" stroke="#000" stroke-opacity="0.14" stroke-width="1.1"/><path d="M137.8 258.8 143.8 257.6 149.8 256.9 155.8 256.6 160.3 256.7" stroke="#000" stroke-opacity="0.54" stroke-width="1.2"/><path d="M35.2 340.1 41.2 333.4 45.9 328.2" stroke="#fff" stroke-opacity="0.22" stroke-width="1.1"/><path d="M45.9 328.2 51.9 321.8 57.9 315.6 63.9 309.6 66.3 307.4" stroke="#fff" stroke-opacity="0.40" stroke-width="1.1"/><path d="M66.3 307.4 72.3 301.8 78.3 296.4 84.3 291.4 85.9 290" stroke="#fff" stroke-opacity="0.60" stroke-width="1.1"/><path d="M85.9 290 91.9 285.4 97.9 281.1 103.9 277.1 109.9 273.5 115.9 270.3 116.7 269.9" stroke="#fff" stroke-opacity="0.25" stroke-width="1.0"/><path d="M116.7 269.9 122.7 267.1 128.7 264.8 134.7 262.8 138.4 261.9" stroke="#fff" stroke-opacity="0.50" stroke-width="0.8"/><path d="M138.4 261.9 144.4 260.7 150.4 259.9 153.1 259.7" stroke="#fff" stroke-opacity="0.26" stroke-width="1.1"/><path d="M153.1 259.7 159.1 259.6 161.2 259.7" stroke="#fff" stroke-opacity="0.36" stroke-width="1.0"/><path d="M39.6 334.7 45.6 328.3 51.6 322 57.6 316 63.6 310.3 69.6 304.7 71.7 302.8" stroke="#000" stroke-opacity="0.17" stroke-width="0.8"/><path d="M71.7 302.8 77.7 297.7 83.7 292.8 89.7 288.2 95.7 283.9 101.7 280 103.3 279" stroke="#000" stroke-opacity="0.40" stroke-width="1.1"/><path d="M103.3 279 109.3 275.5 115.3 272.4 121.3 269.6 127.3 267.3 128.4 266.9" stroke="#000" stroke-opacity="0.52" stroke-width="1.2"/><path d="M128.4 266.9 134.4 265.1 140.4 263.7 142.2 263.3" stroke="#000" stroke-opacity="0.70" stroke-width="0.9"/><path d="M142.2 263.3 148.2 262.5 154.1 262.1" stroke="#000" stroke-opacity="0.29" stroke-width="1.0"/><path d="M154.1 262.1 160.1 262.1 160.7 262.1" stroke="#000" stroke-opacity="0.50" stroke-width="1.2"/><path d="M37 340.1 43 333.5 49 327.2 55 321 59.6 316.4" stroke="#fff" stroke-opacity="0.15" stroke-width="1.1"/><path d="M59.6 316.4 65.6 310.6 71.6 305.1 77.6 299.9 83.6 295 89.5 290.4" stroke="#fff" stroke-opacity="0.13" stroke-width="1.1"/><path d="M89.5 290.4 95.5 286.1 99.6 283.3" stroke="#fff" stroke-opacity="0.57" stroke-width="1.0"/><path d="M99.6 283.3 105.6 279.6 111.6 276.2 117.1 273.5" stroke="#fff" stroke-opacity="0.14" stroke-width="0.9"/><path d="M117.1 273.5 123.1 270.9 129.1 268.7 135.1 266.9 141.1 265.5 142.7 265.3" stroke="#fff" stroke-opacity="0.46" stroke-width="1.1"/><path d="M142.7 265.3 148.7 264.5 154.7 264.1 157 264.1" stroke="#fff" stroke-opacity="0.53" stroke-width="0.9"/><path d="M30.4 345.9 36.4 339.4 42.4 333 48.4 326.8 54.4 320.8 60.4 315.1 64.8 311" stroke="#000" stroke-opacity="0.34" stroke-width="1.1"/><path d="M64.8 311 70.8 305.7 76.8 300.7 82.8 295.9 85.3 294" stroke="#000" stroke-opacity="0.45" stroke-width="0.9"/><path d="M85.3 294 91.3 289.6 97.3 285.6 103.3 281.9 109.3 278.5 115.3 275.6 118.9 273.9" stroke="#000" stroke-opacity="0.23" stroke-width="1.2"/><path d="M118.9 273.9 124.9 271.6 130.9 269.6 136.9 268.1 142.9 266.9 148.4 266.3" stroke="#000" stroke-opacity="0.70" stroke-width="0.8"/><path d="M148.4 266.3 154.4 266 159.8 266.1" stroke="#000" stroke-opacity="0.55" stroke-width="1.0"/><path d="M39.5 342.7 45.5 336.2 51.5 329.8 53.1 328.2" stroke="#000" stroke-opacity="0.46" stroke-width="1.1"/><path d="M53.1 328.2 59.1 322.1 65.1 316.3 67.6 313.9" stroke="#000" stroke-opacity="0.72" stroke-width="1.1"/><path d="M67.6 313.9 73.6 308.4 79.6 303.2 80.7 302.4" stroke="#000" stroke-opacity="0.29" stroke-width="1.1"/><path d="M80.7 302.4 86.7 297.5 92.7 293 98.7 288.8 104.7 285 110.7 281.5 112.7 280.4" stroke="#000" stroke-opacity="0.80" stroke-width="0.9"/><path d="M112.7 280.4 118.7 277.4 124.7 274.9 130.7 272.7 136.7 271 142.7 269.8 143.6 269.6" stroke="#000" stroke-opacity="0.50" stroke-width="0.9"/><path d="M143.6 269.6 149.6 268.9 155.6 268.6 159.6 268.6" stroke="#000" stroke-opacity="0.16" stroke-width="0.8"/><path d="M31.4 349 37.4 342.5 43.4 336.2 46.4 333.1" stroke="#fff" stroke-opacity="0.26" stroke-width="1.2"/><path d="M46.4 333.1 52.4 327.1 58.4 321.3 64.4 315.8 67 313.5" stroke="#fff" stroke-opacity="0.52" stroke-width="1.0"/><path d="M67 313.5 73 308.3 79 303.4 85 298.8 91 294.5 97 290.5 101 288" stroke="#fff" stroke-opacity="0.67" stroke-width="1.2"/><path d="M101 288 107 284.6 113 281.5 119 278.8 125 276.5 131 274.5 132.8 274" stroke="#fff" stroke-opacity="0.61" stroke-width="1.2"/><path d="M132.8 274 138.8 272.6 144.8 271.7 150.8 271.1 151.1 271.1" stroke="#fff" stroke-opacity="0.52" stroke-width="0.9"/><path d="M151.1 271.1 157.1 271 159.7 271" stroke="#fff" stroke-opacity="0.27" stroke-width="1.2"/><path d="M32.1 353.1 38.1 346.5 44.1 340.1 45.3 338.8" stroke="#000" stroke-opacity="0.71" stroke-width="0.9"/><path d="M45.3 338.8 51.3 332.6 57.3 326.6 63.3 320.9 68.1 316.5" stroke="#000" stroke-opacity="0.68" stroke-width="1.0"/><path d="M68.1 316.5 74.1 311.2 80.1 306.2 86.1 301.5 90 298.5" stroke="#000" stroke-opacity="0.20" stroke-width="1.2"/><path d="M90 298.5 96 294.3 102 290.5 108 286.9 114 283.8 115 283.3" stroke="#000" stroke-opacity="0.56" stroke-width="1.0"/><path d="M115 283.3 121 280.6 127 278.3 133 276.4 139 274.9 142.8 274.2" stroke="#000" stroke-opacity="0.35" stroke-width="0.9"/><path d="M142.8 274.2 148.8 273.4 154.8 273.1 160.4 273.2" stroke="#000" stroke-opacity="0.63" stroke-width="1.1"/><path d="M39.8 348.7 45.8 342.2 51.8 336 56.1 331.6" stroke="#fff" stroke-opacity="0.71" stroke-width="1.1"/><path d="M56.1 331.6 62.1 325.7 68.1 320.1 74.1 314.7 80.1 309.7 80.3 309.4" stroke="#fff" stroke-opacity="0.51" stroke-width="0.9"/><path d="M80.3 309.4 86.3 304.7 90.8 301.3" stroke="#fff" stroke-opacity="0.10" stroke-width="1.2"/><path d="M90.8 301.3 96.8 297.1 102.8 293.2 108.8 289.7 110.7 288.6" stroke="#fff" stroke-opacity="0.51" stroke-width="1.0"/><path d="M110.7 288.6 116.7 285.5 122.7 282.9 128.7 280.6 134.7 278.7 140.7 277.3 142.7 276.9" stroke="#fff" stroke-opacity="0.61" stroke-width="0.9"/><path d="M142.7 276.9 148.7 276.1 154.7 275.7 160.7 275.7 161.5 275.7" stroke="#fff" stroke-opacity="0.23" stroke-width="1.2"/><path d="M39.8 349.2 45.8 342.9 51.8 336.8 54.8 333.8" stroke="#000" stroke-opacity="0.57" stroke-width="0.9"/><path d="M54.8 333.8 60.8 328.1 66.8 322.5 68.2 321.3" stroke="#000" stroke-opacity="0.65" stroke-width="1.2"/><path d="M68.2 321.3 74.2 316.1 80.2 311.1 86.2 306.4 92.2 302.1 98.2 298 100.5 296.5" stroke="#000" stroke-opacity="0.56" stroke-width="1.1"/><path d="M100.5 296.5 106.5 292.9 112.5 289.7 114.4 288.7" stroke="#000" stroke-opacity="0.80" stroke-width="0.9"/><path d="M114.4 288.7 120.4 285.9 126.4 283.5 132.4 281.5 138.4 279.9 140.3 279.5" stroke="#000" stroke-opacity="0.10" stroke-width="0.9"/><path d="M140.3 279.5 146.3 278.5 152.3 277.8 158.3 277.6 162.3 277.7" stroke="#000" stroke-opacity="0.42" stroke-width="1.0"/><path d="M31.1 358.1 37.1 351.6 43.1 345.3 49.1 339.2 50.3 338" stroke="#fff" stroke-opacity="0.56" stroke-width="1.1"/><path d="M50.3 338 56.3 332.1 62.3 326.5 68.3 321.1 70.7 319.1" stroke="#fff" stroke-opacity="0.16" stroke-width="1.1"/><path d="M70.7 319.1 76.7 314.1 82.7 309.4 88.7 304.9 94.7 300.8 95.7 300.2" stroke="#fff" stroke-opacity="0.43" stroke-width="1.2"/><path d="M95.7 300.2 101.7 296.5 107.7 293.1 113.7 290.1 114.9 289.5" stroke="#fff" stroke-opacity="0.46" stroke-width="0.8"/><path d="M114.9 289.5 120.9 287 126.9 284.8 128.2 284.4" stroke="#fff" stroke-opacity="0.22" stroke-width="0.9"/><path d="M128.2 284.4 134.2 282.7 140.2 281.4 142.6 281" stroke="#fff" stroke-opacity="0.16" stroke-width="1.2"/><path d="M142.6 281 148.6 280.3 154.6 280 159.7 280.1" stroke="#fff" stroke-opacity="0.43" stroke-width="1.0"/><path d="M30.2 364.1 36.2 357.5 40.2 353.2" stroke="#000" stroke-opacity="0.11" stroke-width="1.1"/><path d="M40.2 353.2 46.2 346.9 51 342" stroke="#000" stroke-opacity="0.40" stroke-width="1.0"/><path d="M51 342 57 336.1 63 330.4 69 325 70.3 323.9" stroke="#000" stroke-opacity="0.29" stroke-width="1.2"/><path d="M70.3 323.9 76.3 318.7 82.3 313.9 88.3 309.3 94.3 305 100.3 301.1 104.1 298.7" stroke="#000" stroke-opacity="0.62" stroke-width="1.0"/><path d="M104.1 298.7 110.1 295.4 116.1 292.3 122.1 289.7 128.1 287.4 134.1 285.6 137.9 284.6" stroke="#000" stroke-opacity="0.59" stroke-width="0.9"/><path d="M137.9 284.6 143.9 283.4 149.9 282.6 151.4 282.4" stroke="#000" stroke-opacity="0.18" stroke-width="0.8"/><path d="M151.4 282.4 157.4 282.2 162.3 282.3" stroke="#000" stroke-opacity="0.52" stroke-width="0.9"/><path d="M38.9 353.2 44.9 347 50.9 341.1 56.9 335.3 62.9 329.8 68.9 324.6 69.5 324.1" stroke="#000" stroke-opacity="0.27" stroke-width="1.1"/><path d="M69.5 324.1 75.5 319.1 81.5 314.4 86.5 310.7" stroke="#000" stroke-opacity="0.50" stroke-width="1.0"/><path d="M86.5 310.7 92.5 306.5 98.5 302.7 102.3 300.4" stroke="#000" stroke-opacity="0.47" stroke-width="0.9"/><path d="M102.3 300.4 108.3 297.1 114.3 294.1 120.3 291.5 126.3 289.3 132.2 287.5" stroke="#000" stroke-opacity="0.25" stroke-width="1.1"/><path d="M132.2 287.5 138.2 286 144.2 285 146.9 284.6" stroke="#000" stroke-opacity="0.09" stroke-width="1.0"/><path d="M146.9 284.6 152.9 284.2 158.9 284.1 160.8 284.2" stroke="#000" stroke-opacity="0.54" stroke-width="0.9"/><path d="M31.7 363.8 37.7 357.4 43.7 351.2 49.7 345.1 55.7 339.3 61.7 333.7 66.7 329.3" stroke="#fff" stroke-opacity="0.11" stroke-width="0.9"/><path d="M66.7 329.3 72.7 324.2 78.7 319.3 84.6 314.7" stroke="#fff" stroke-opacity="0.32" stroke-width="1.0"/><path d="M84.6 314.7 90.6 310.4 96.6 306.5 102.6 302.8 107 300.4" stroke="#fff" stroke-opacity="0.19" stroke-width="1.1"/><path d="M107 300.4 113 297.3 119 294.6 125 292.3 131 290.4 134.7 289.4" stroke="#fff" stroke-opacity="0.21" stroke-width="0.9"/><path d="M134.7 289.4 140.7 288.1 146.7 287.2 147.5 287.1" stroke="#fff" stroke-opacity="0.45" stroke-width="1.1"/><path d="M147.5 287.1 153.5 286.6 159.5 286.6 160.8 286.7" stroke="#fff" stroke-opacity="0.25" stroke-width="1.1"/><path d="M37.2 358.4 43.2 352.4 48.9 346.9" stroke="#000" stroke-opacity="0.53" stroke-width="1.1"/><path d="M48.9 346.9 54.9 341.2 59.4 337.1" stroke="#000" stroke-opacity="0.19" stroke-width="0.9"/><path d="M59.4 337.1 65.4 331.9 71.4 326.9 77.4 322.2 80.3 320" stroke="#000" stroke-opacity="0.69" stroke-width="1.1"/><path d="M80.3 320 86.3 315.6 92.3 311.6 98.3 307.9 100 306.8" stroke="#000" stroke-opacity="0.09" stroke-width="1.0"/><path d="M100 306.8 106 303.5 112 300.5 114.9 299.2" stroke="#000" stroke-opacity="0.29" stroke-width="1.2"/><path d="M114.9 299.2 120.9 296.7 126.9 294.6 132.1 293.1" stroke="#000" stroke-opacity="0.36" stroke-width="1.1"/><path d="M132.1 293.1 138.1 291.6 144.1 290.6 150.1 289.9 156.1 289.7 161.3 289.7" stroke="#000" stroke-opacity="0.12" stroke-width="1.0"/><path d="M33.4 363.3 39.4 357.3 45.4 351.4 51.4 345.7 57.4 340.3 60.9 337.2" stroke="#fff" stroke-opacity="0.78" stroke-width="1.1"/><path d="M60.9 337.2 66.9 332.1 72.9 327.3 78.9 322.7 81.6 320.7" stroke="#fff" stroke-opacity="0.80" stroke-width="1.2"/><path d="M81.6 320.7 87.6 316.6 93.6 312.7 99.6 309.1 102.6 307.4" stroke="#fff" stroke-opacity="0.42" stroke-width="1.0"/><path d="M102.6 307.4 108.6 304.3 114.6 301.6 115.2 301.3" stroke="#fff" stroke-opacity="0.54" stroke-width="1.1"/><path d="M115.2 301.3 121.2 298.9 127.2 296.9 133.2 295.2 137.1 294.4" stroke="#fff" stroke-opacity="0.50" stroke-width="1.2"/><path d="M137.1 294.4 143.1 293.3 149.1 292.7 155.1 292.4 160.4 292.5" stroke="#fff" stroke-opacity="0.58" stroke-width="1.2"/><path d="M30.8 373.5 36.8 367 42.8 360.8 48.8 354.7 54.8 348.9 60.8 343.3 65.8 338.8" stroke="#fff" stroke-opacity="0.20" stroke-width="1.2"/><path d="M65.8 338.8 71.8 333.6 77.8 328.7 83.8 324.1 89.8 319.8 91.9 318.4" stroke="#fff" stroke-opacity="0.64" stroke-width="0.9"/><path d="M91.9 318.4 97.9 314.5 103.9 310.9 109 308.1" stroke="#fff" stroke-opacity="0.21" stroke-width="0.8"/><path d="M109 308.1 115 305.2 121 302.6 121.9 302.2" stroke="#fff" stroke-opacity="0.20" stroke-width="1.1"/><path d="M121.9 302.2 127.9 300.1 133.9 298.3 139.9 296.9 145.3 296" stroke="#fff" stroke-opacity="0.70" stroke-width="1.2"/><path d="M145.3 296 151.3 295.4 157.3 295.2 161.5 295.3" stroke="#fff" stroke-opacity="0.21" stroke-width="1.2"/><path d="M32.7 372.7 38.7 366.3 44.7 360.2 50.7 354.3 56.7 348.6 59 346.4" stroke="#000" stroke-opacity="0.15" stroke-width="1.1"/><path d="M59 346.4 65 341.1 71 335.9 77 331 83 326.4 87.7 323" stroke="#000" stroke-opacity="0.48" stroke-width="1.1"/><path d="M87.7 323 93.7 319 99.7 315.2 101.1 314.3" stroke="#000" stroke-opacity="0.69" stroke-width="1.0"/><path d="M101.1 314.3 107.1 311 113.1 307.9 119.1 305.3 120.7 304.6" stroke="#000" stroke-opacity="0.67" stroke-width="1.0"/><path d="M120.7 304.6 126.7 302.4 131.8 300.8" stroke="#000" stroke-opacity="0.58" stroke-width="0.8"/><path d="M131.8 300.8 137.8 299.3 143.8 298.2 149.8 297.5 155.8 297.2 155.9 297.2" stroke="#000" stroke-opacity="0.24" stroke-width="1.0"/><path d="M155.9 297.2 161.7 297.2" stroke="#000" stroke-opacity="0.58" stroke-width="1.1"/><path d="M35.8 370 41.8 363.8 47.8 357.9 53.8 352.2 59.8 346.7 64 343" stroke="#fff" stroke-opacity="0.53" stroke-width="0.8"/><path d="M64 343 70 337.9 76 333.1 76.1 333" stroke="#fff" stroke-opacity="0.54" stroke-width="1.1"/><path d="M76.1 333 82.1 328.4 88.1 324.2 94.1 320.2 100.1 316.5 101.9 315.5" stroke="#fff" stroke-opacity="0.79" stroke-width="1.1"/><path d="M101.9 315.5 107.9 312.3 113.9 309.4 119.9 306.8 122.6 305.8" stroke="#fff" stroke-opacity="0.77" stroke-width="0.9"/><path d="M122.6 305.8 128.6 303.8 134.6 302.2 135.3 302" stroke="#fff" stroke-opacity="0.36" stroke-width="0.8"/><path d="M135.3 302 141.3 300.8 147.3 299.9 153.3 299.5 159.3 299.5 159.5 299.5" stroke="#fff" stroke-opacity="0.46" stroke-width="0.9"/><path d="M38 370.3 44 364.3 50 358.5 56 352.9 62 347.5 65.1 344.8" stroke="#000" stroke-opacity="0.15" stroke-width="1.0"/><path d="M65.1 344.8 71.1 339.8 77.1 335 83.1 330.5 89.1 326.3 91.8 324.6" stroke="#000" stroke-opacity="0.22" stroke-width="0.9"/><path d="M91.8 324.6 97.8 320.8 103.8 317.3 109.8 314.2 114.8 311.8" stroke="#000" stroke-opacity="0.28" stroke-width="0.8"/><path d="M114.8 311.8 120.8 309.3 126.8 307.2 131.9 305.7" stroke="#000" stroke-opacity="0.38" stroke-width="1.1"/><path d="M131.9 305.7 137.9 304.2 143.9 303.1 149.9 302.4 155.9 302.1 161.7 302.2" stroke="#000" stroke-opacity="0.69" stroke-width="1.2"/><path d="M37.2 373.5 43.2 367.5 49.2 361.7 55.2 356.2 61.2 350.8 67.2 345.7 68.1 345" stroke="#fff" stroke-opacity="0.33" stroke-width="1.0"/><path d="M68.1 345 74.1 340.1 80.1 335.6 80.5 335.3" stroke="#fff" stroke-opacity="0.75" stroke-width="1.0"/><path d="M80.5 335.3 86.5 331 92.5 327 98.5 323.3 102 321.3" stroke="#fff" stroke-opacity="0.24" stroke-width="1.1"/><path d="M102 321.3 108 318.2 114 315.3 120 312.8 126 310.6 132 308.8 135.8 307.9" stroke="#fff" stroke-opacity="0.38" stroke-width="1.0"/><path d="M135.8 307.9 141.8 306.7 147.8 305.8 153 305.4" stroke="#fff" stroke-opacity="0.59" stroke-width="1.0"/><path d="M153 305.4 159 305.3 161.9 305.4" stroke="#fff" stroke-opacity="0.09" stroke-width="1.0"/><path d="M31.2 380.8 37.2 374.7 43.2 368.8 48.7 363.6" stroke="#000" stroke-opacity="0.77" stroke-width="0.9"/><path d="M48.7 363.6 54.7 358.1 60.7 352.8 66.7 347.8 70.5 344.7" stroke="#000" stroke-opacity="0.70" stroke-width="0.8"/><path d="M70.5 344.7 76.5 340 81.1 336.7" stroke="#000" stroke-opacity="0.51" stroke-width="1.0"/><path d="M81.1 336.7 87.1 332.6 92 329.4" stroke="#000" stroke-opacity="0.68" stroke-width="1.1"/><path d="M92 329.4 98 325.8 104 322.5 110 319.5 116 316.9 116.9 316.5" stroke="#000" stroke-opacity="0.25" stroke-width="1.2"/><path d="M116.9 316.5 122.9 314.3 128.9 312.4 132.4 311.5" stroke="#000" stroke-opacity="0.80" stroke-width="1.0"/><path d="M132.4 311.5 138.4 310.1 144.4 309.2 150.4 308.6 156.4 308.4 160.5 308.5" stroke="#000" stroke-opacity="0.47" stroke-width="1.0"/><path d="M39.9 374.5 45.9 368.8 51.9 363.3 53.1 362.2" stroke="#000" stroke-opacity="0.70" stroke-width="1.1"/><path d="M53.1 362.2 59.1 357 65.1 352 68.4 349.4" stroke="#000" stroke-opacity="0.25" stroke-width="0.8"/><path d="M68.4 349.4 74.4 344.7 80.4 340.4 86.4 336.3 92.4 332.4 98.4 328.9 99.3 328.4" stroke="#000" stroke-opacity="0.14" stroke-width="1.1"/><path d="M99.3 328.4 105.3 325.2 111.3 322.3 117.3 319.8 123.3 317.5 129.2 315.7" stroke="#000" stroke-opacity="0.79" stroke-width="0.8"/><path d="M129.2 315.7 135.2 314.1 141.2 313 147.2 312.1 153.2 311.7 159.2 311.6 159.5 311.6" stroke="#000" stroke-opacity="0.14" stroke-width="0.8"/><path d="M34.8 383 40.8 377 46.8 371.3 52.8 365.7 55.4 363.4" stroke="#000" stroke-opacity="0.72" stroke-width="1.1"/><path d="M55.4 363.4 61.4 358.2 67.4 353.2 73.4 348.5 79.4 344 85.4 339.9 90 336.8" stroke="#000" stroke-opacity="0.58" stroke-width="1.0"/><path d="M90 336.8 96 333.1 101.1 330.2" stroke="#000" stroke-opacity="0.72" stroke-width="1.1"/><path d="M101.1 330.2 107.1 327.1 113.1 324.3 114.6 323.7" stroke="#000" stroke-opacity="0.58" stroke-width="0.9"/><path d="M114.6 323.7 120.6 321.3 126.6 319.3 132.6 317.6 135.6 316.9" stroke="#000" stroke-opacity="0.19" stroke-width="0.8"/><path d="M135.6 316.9 141.6 315.8 147.6 315 153.6 314.6 157.3 314.5" stroke="#000" stroke-opacity="0.59" stroke-width="1.1"/><path d="M37.7 384.9 43.7 379 49.7 373.3 55.7 367.8 61.7 362.6 66.1 358.9" stroke="#fff" stroke-opacity="0.16" stroke-width="0.8"/><path d="M66.1 358.9 72.1 354.1 78.1 349.5 84.1 345.1 90.1 341.1 96.1 337.3 98.9 335.7" stroke="#fff" stroke-opacity="0.20" stroke-width="1.1"/><path d="M98.9 335.7 104.9 332.3 110.9 329.3 116.9 326.6 122.9 324.3 128.9 322.3 132.6 321.2" stroke="#fff" stroke-opacity="0.38" stroke-width="1.0"/><path d="M132.6 321.2 138.6 319.8 144.4 318.7" stroke="#fff" stroke-opacity="0.14" stroke-width="1.1"/><path d="M144.4 318.7 150.4 318 156.4 317.6 162.4 317.6 163.5 317.6" stroke="#fff" stroke-opacity="0.27" stroke-width="0.9"/><path d="M38.2 383.5 44.2 377.9 50.2 372.4 56.1 367.3" stroke="#000" stroke-opacity="0.20" stroke-width="1.0"/><path d="M56.1 367.3 62.1 362.2 68.1 357.4 74.1 352.8 75.3 351.9" stroke="#000" stroke-opacity="0.46" stroke-width="1.0"/><path d="M75.3 351.9 81.3 347.7 87.3 343.6 93.3 339.9 98.8 336.7" stroke="#000" stroke-opacity="0.27" stroke-width="1.0"/><path d="M98.8 336.7 104.8 333.5 110.8 330.6 116.8 328.1 122.8 325.8 128.8 323.9 132.7 322.8" stroke="#000" stroke-opacity="0.23" stroke-width="1.0"/><path d="M132.7 322.8 138.7 321.5 144.7 320.5 150.7 319.8 154.2 319.6" stroke="#000" stroke-opacity="0.40" stroke-width="0.9"/><path d="M154.2 319.6 160.2 319.4 163.1 319.5" stroke="#000" stroke-opacity="0.75" stroke-width="0.9"/><path d="M33.7 389.4 39.7 383.7 45.7 378.2 51.7 372.8 56.3 368.9" stroke="#fff" stroke-opacity="0.60" stroke-width="0.9"/><path d="M56.3 368.9 62.3 363.9 68 359.5" stroke="#fff" stroke-opacity="0.54" stroke-width="1.2"/><path d="M68 359.5 74 355 80 350.7 86 346.7 89.3 344.6" stroke="#fff" stroke-opacity="0.75" stroke-width="1.0"/><path d="M89.3 344.6 95.3 341 101.3 337.7 107.3 334.7 113.3 332 116.3 330.7" stroke="#fff" stroke-opacity="0.56" stroke-width="1.1"/><path d="M116.3 330.7 122.3 328.5 128.3 326.5 134.3 324.9 140.3 323.7 142.6 323.3" stroke="#fff" stroke-opacity="0.57" stroke-width="1.1"/><path d="M142.6 323.3 148.6 322.5 154.6 322 158.9 321.9" stroke="#fff" stroke-opacity="0.72" stroke-width="1.0"/><path d="M158.9 321.9 163.8 321.9" stroke="#fff" stroke-opacity="0.53" stroke-width="0.9"/><path d="M35.9 389.8 41.9 384.1 47.9 378.6 53.9 373.3 58.3 369.6" stroke="#000" stroke-opacity="0.15" stroke-width="0.9"/><path d="M58.3 369.6 64.3 364.7 70.3 360 76.3 355.6 82.3 351.4 87.5 348" stroke="#000" stroke-opacity="0.18" stroke-width="1.0"/><path d="M87.5 348 93.5 344.3 99.5 340.9 100.2 340.5" stroke="#000" stroke-opacity="0.13" stroke-width="1.2"/><path d="M100.2 340.5 106.2 337.4 112.2 334.6 118.2 332.1 121.2 331" stroke="#000" stroke-opacity="0.42" stroke-width="0.8"/><path d="M121.2 331 127.2 329 133.2 327.3 135.2 326.9" stroke="#000" stroke-opacity="0.45" stroke-width="1.2"/><path d="M135.2 326.9 141.2 325.6 147.2 324.7 153.2 324.2 159.2 324 163.7 324.1" stroke="#000" stroke-opacity="0.37" stroke-width="1.0"/><path d="M31.9 394.8 37.9 389.1 43.9 383.5 49.9 378.2 55.9 373 60.4 369.3" stroke="#fff" stroke-opacity="0.70" stroke-width="1.0"/><path d="M60.4 369.3 66.4 364.5 72.4 360 78.4 355.7 78.7 355.5" stroke="#fff" stroke-opacity="0.74" stroke-width="0.8"/><path d="M78.7 355.5 84.7 351.5 90.7 347.7 96.7 344.2 102.7 341 107.8 338.5" stroke="#fff" stroke-opacity="0.31" stroke-width="1.2"/><path d="M107.8 338.5 113.8 335.8 119.8 333.5 124.2 332" stroke="#fff" stroke-opacity="0.71" stroke-width="1.1"/><path d="M124.2 332 130.2 330.1 136.2 328.7 142 327.6" stroke="#fff" stroke-opacity="0.23" stroke-width="1.1"/><path d="M142 327.6 148 326.7 153.9 326.3" stroke="#fff" stroke-opacity="0.50" stroke-width="0.9"/><path d="M153.9 326.3 159.9 326.1 163.5 326.2" stroke="#fff" stroke-opacity="0.16" stroke-width="1.1"/><path d="M33.3 397.2 39.3 391.4 45.3 385.7 51.3 380.2 57.3 375 61.1 371.7" stroke="#000" stroke-opacity="0.58" stroke-width="1.2"/><path d="M61.1 371.7 67.1 366.9 71.8 363.2" stroke="#000" stroke-opacity="0.36" stroke-width="0.9"/><path d="M71.8 363.2 77.8 358.8 83.8 354.6 89.8 350.7 95.8 347.1 101.8 343.8 104 342.7" stroke="#000" stroke-opacity="0.44" stroke-width="0.9"/><path d="M104 342.7 110 339.7 116 337.1 117.9 336.4" stroke="#000" stroke-opacity="0.40" stroke-width="0.9"/><path d="M117.9 336.4 123.9 334.2 128.5 332.8" stroke="#000" stroke-opacity="0.53" stroke-width="1.2"/><path d="M128.5 332.8 134.5 331.2 140.5 329.9 146.5 329 148.6 328.8" stroke="#000" stroke-opacity="0.40" stroke-width="1.2"/><path d="M148.6 328.8 154.6 328.4 160.6 328.3 162.8 328.4" stroke="#000" stroke-opacity="0.77" stroke-width="1.1"/><path d="M37.9 392.2 43.9 386.7 49.9 381.4 55.9 376.3 61.9 371.4 67.9 366.7 68.3 366.3" stroke="#fff" stroke-opacity="0.19" stroke-width="0.9"/><path d="M68.3 366.3 74.3 361.9 80.3 357.8 86.3 353.8 92.3 350.2 98.3 346.8 103.2 344.4" stroke="#fff" stroke-opacity="0.32" stroke-width="1.0"/><path d="M103.2 344.4 109.2 341.5 115.2 339 121.2 336.8 123.8 335.9" stroke="#fff" stroke-opacity="0.60" stroke-width="0.8"/><path d="M123.8 335.9 129.8 334.1 135.8 332.7 141.8 331.6 147.8 330.9 153.8 330.4 154 330.4" stroke="#fff" stroke-opacity="0.73" stroke-width="1.1"/><path d="M154 330.4 160 330.4 162.2 330.4" stroke="#fff" stroke-opacity="0.58" stroke-width="0.9"/><path d="M36.9 397.9 42.9 392.2 48.9 386.8 54.9 381.5 60.9 376.5 66.2 372.3" stroke="#000" stroke-opacity="0.73" stroke-width="1.1"/><path d="M66.2 372.3 72.2 367.7 78.2 363.3 84.2 359.2 90.2 355.4 96.2 351.8 98.9 350.3" stroke="#000" stroke-opacity="0.59" stroke-width="0.8"/><path d="M98.9 350.3 104.9 347.2 110.9 344.3 113.9 343" stroke="#000" stroke-opacity="0.74" stroke-width="0.8"/><path d="M113.9 343 119.9 340.6 125.9 338.6 131.9 336.9 137.9 335.5 143.9 334.4 145.6 334.2" stroke="#000" stroke-opacity="0.60" stroke-width="0.9"/><path d="M145.6 334.2 151.6 333.5 157.6 333.2 163.6 333.3" stroke="#000" stroke-opacity="0.60" stroke-width="0.9"/><path d="M38.5 398.1 44.5 392.5 50.5 387.1 56.5 382" stroke="#fff" stroke-opacity="0.70" stroke-width="1.2"/><path d="M56.5 382 62.5 377.1 68.5 372.3 74.5 367.9 80.5 363.6 86.5 359.7 87.8 358.9" stroke="#fff" stroke-opacity="0.39" stroke-width="0.9"/><path d="M87.8 358.9 93.8 355.2 99.8 351.9 105.8 348.8 110.3 346.7" stroke="#fff" stroke-opacity="0.37" stroke-width="1.1"/><path d="M110.3 346.7 116.3 344.2 122.3 341.9 122.5 341.9" stroke="#fff" stroke-opacity="0.29" stroke-width="0.8"/><path d="M122.5 341.9 128.5 340 134.5 338.4 135.6 338.2" stroke="#fff" stroke-opacity="0.30" stroke-width="1.0"/><path d="M135.6 338.2 141.6 337 147.6 336.2 153.6 335.7 159.6 335.5 163.3 335.6" stroke="#fff" stroke-opacity="0.35" stroke-width="1.2"/><path d="M31.6 406.3 37.6 400.6 43.6 395.1 49.6 389.8 55.6 384.7 61.4 380" stroke="#000" stroke-opacity="0.51" stroke-width="1.2"/><path d="M61.4 380 67.4 375.4 73.4 370.9 79.4 366.7 83.8 363.8" stroke="#000" stroke-opacity="0.63" stroke-width="0.9"/><path d="M83.8 363.8 89.8 360 95.8 356.6 101.8 353.3 107.8 350.4 113.8 347.8 117.1 346.5" stroke="#000" stroke-opacity="0.13" stroke-width="0.9"/><path d="M117.1 346.5 123.1 344.3 129.1 342.4 135.1 340.9 141.1 339.7 147.1 338.8 151.8 338.3" stroke="#000" stroke-opacity="0.13" stroke-width="1.2"/><path d="M151.8 338.3 157.8 338 163.8 338.1 164.2 338.1" stroke="#000" stroke-opacity="0.13" stroke-width="1.0"/><path d="M34.2 407.2 40.2 401.6 46.2 396.1 52.2 390.9 58.2 385.8 62.9 382.1" stroke="#000" stroke-opacity="0.13" stroke-width="1.1"/><path d="M62.9 382.1 68.9 377.4 74.9 373 78.2 370.7" stroke="#000" stroke-opacity="0.60" stroke-width="0.9"/><path d="M78.2 370.7 84.2 366.7 88.9 363.7" stroke="#000" stroke-opacity="0.40" stroke-width="0.9"/><path d="M88.9 363.7 94.9 360.2 100.9 356.9 106.9 353.9 111.5 351.8" stroke="#000" stroke-opacity="0.08" stroke-width="1.0"/><path d="M111.5 351.8 117.5 349.3 123.5 347.1 127 346" stroke="#000" stroke-opacity="0.34" stroke-width="1.0"/><path d="M127 346 133 344.3 139 343 145 342 151 341.3 155.5 341" stroke="#000" stroke-opacity="0.43" stroke-width="1.0"/><path d="M155.5 341 161.5 340.9 164.4 341" stroke="#000" stroke-opacity="0.52" stroke-width="1.1"/></g>
<g id="tout"><path d="M110.9 56 106.9 62.8 102.9 70.1 98.9 77.6 94.9 85.1 94.5 85.7" stroke="#000" stroke-opacity="0.07" stroke-width="0.8"/><path d="M94.5 85.7 90.5 93.2 86.5 100.8 84.4 104.8" stroke="#000" stroke-opacity="0.58" stroke-width="1.1"/><path d="M84.4 104.8 80.4 112.3 76.4 119.9 72.4 127.4 69.6 132.7" stroke="#000" stroke-opacity="1.00" stroke-width="1.2"/><path d="M69.6 132.7 65.6 140.2 61.6 147.7 57.6 155.3 53.6 162.8 52.8 164.3" stroke="#000" stroke-opacity="0.89" stroke-width="1.0"/><path d="M52.8 164.3 48.8 171.8 44.8 179.3 40.8 186.9 36.8 194.4 34.4 199" stroke="#000" stroke-opacity="0.36" stroke-width="1.2"/><path d="M92.4 93.9 88.4 101.7 84.4 109.5 80.4 117.2 76.5 124.8" stroke="#fff" stroke-opacity="0.16" stroke-width="1.2"/><path d="M76.5 124.8 72.5 132.6 68.5 140.4 64.5 148.2 60.5 156 59.4 158.1" stroke="#fff" stroke-opacity="0.89" stroke-width="1.1"/><path d="M59.4 158.1 55.4 165.9 51.4 173.7 50.2 176" stroke="#fff" stroke-opacity="0.64" stroke-width="1.0"/><path d="M50.2 176 46.2 183.8 42.2 191.6 38.2 199.4 34.2 207.2 32.1 211.3" stroke="#fff" stroke-opacity="0.64" stroke-width="1.0"/><path d="M110 62.5 106 69.4 102 76.7 98 84.1 95 89.7" stroke="#000" stroke-opacity="0.07" stroke-width="0.8"/><path d="M95 89.7 91 97.1 87 104.6 86 106.6" stroke="#000" stroke-opacity="0.13" stroke-width="1.0"/><path d="M86 106.6 82 114 79.3 119" stroke="#000" stroke-opacity="0.79" stroke-width="1.0"/><path d="M79.3 119 75.3 126.5 72.2 132.2" stroke="#000" stroke-opacity="0.73" stroke-width="1.1"/><path d="M72.2 132.2 68.2 139.7 66.7 142.4" stroke="#000" stroke-opacity="0.76" stroke-width="1.0"/><path d="M66.7 142.4 62.7 149.9 58.7 157.4 54.7 164.9 50.7 172.3 48.3 177" stroke="#000" stroke-opacity="0.93" stroke-width="1.0"/><path d="M48.3 177 44.3 184.4 40.3 191.9 36.3 199.4 32.3 206.9 31.3 208.6" stroke="#000" stroke-opacity="0.27" stroke-width="1.1"/><path d="M100.4 81.6 96.4 88.8 92.4 96 88.4 103.3 85.5 108.6" stroke="#fff" stroke-opacity="0.32" stroke-width="1.0"/><path d="M85.5 108.6 81.5 115.9 77.5 123.2 73.5 130.4 69.5 137.7 68.7 139.2" stroke="#fff" stroke-opacity="0.36" stroke-width="1.0"/><path d="M68.7 139.2 64.7 146.5 60.7 153.8 56.7 161.1 52.7 168.4 51.7 170.1" stroke="#fff" stroke-opacity="0.67" stroke-width="0.9"/><path d="M51.7 170.1 47.7 177.4 43.7 184.7 42.5 187" stroke="#fff" stroke-opacity="0.38" stroke-width="0.9"/><path d="M42.5 187 38.5 194.3 34.5 201.6 30.5 208.9 27.2 214.8" stroke="#fff" stroke-opacity="0.44" stroke-width="0.9"/><path d="M84.1 117.2 80.1 125 78 129.1" stroke="#000" stroke-opacity="0.64" stroke-width="1.0"/><path d="M78 129.1 74 136.8 72.4 139.9" stroke="#000" stroke-opacity="0.41" stroke-width="1.0"/><path d="M72.4 139.9 68.4 147.6 64.9 154.3" stroke="#000" stroke-opacity="0.44" stroke-width="0.9"/><path d="M64.9 154.3 60.9 162.1 56.9 169.8 52.9 177.6 52.3 178.7" stroke="#000" stroke-opacity="0.90" stroke-width="1.0"/><path d="M52.3 178.7 48.3 186.5 44.3 194.2 40.3 202 36.3 209.7 36 210.3" stroke="#000" stroke-opacity="0.83" stroke-width="0.8"/><path d="M36 210.3 32 218.1 29.5 222.9" stroke="#000" stroke-opacity="0.84" stroke-width="1.0"/><path d="M109.2 70.8 105.2 77.5 101.2 84.5 97.2 91.5 93.2 98.5 92.2 100.3" stroke="#000" stroke-opacity="0.12" stroke-width="0.8"/><path d="M92.2 100.3 88.2 107.4 84.2 114.4 83.3 116.1" stroke="#000" stroke-opacity="0.62" stroke-width="1.0"/><path d="M83.3 116.1 79.3 123.1 75.3 130.2 72.3 135.4" stroke="#000" stroke-opacity="0.91" stroke-width="1.0"/><path d="M72.3 135.4 68.3 142.5 64.3 149.6 60.3 156.7 56.3 163.8 54.1 167.7" stroke="#000" stroke-opacity="0.35" stroke-width="1.0"/><path d="M54.1 167.7 50.1 174.8 46.1 181.9 43.4 186.6" stroke="#000" stroke-opacity="0.10" stroke-width="1.1"/><path d="M43.4 186.6 39.4 193.7 35.4 200.8 31.4 207.9 30.7 209.2" stroke="#000" stroke-opacity="0.39" stroke-width="0.9"/><path d="M107.2 77.2 103.2 84.8 99.2 92.5 95.2 100.3 91.2 108 88 114.2" stroke="#fff" stroke-opacity="0.10" stroke-width="0.8"/><path d="M88 114.2 84 122 80.7 128.5" stroke="#fff" stroke-opacity="0.78" stroke-width="0.8"/><path d="M80.7 128.5 76.7 136.3 72.7 144.1 68.7 151.9 64.7 159.7 64.3 160.4" stroke="#fff" stroke-opacity="0.99" stroke-width="1.1"/><path d="M64.3 160.4 60.3 168.2 56.3 176 52.3 183.8 52 184.5" stroke="#fff" stroke-opacity="0.28" stroke-width="1.1"/><path d="M52 184.5 48 192.3 44.1 199.9" stroke="#fff" stroke-opacity="0.11" stroke-width="1.0"/><path d="M44.1 199.9 40.1 207.7 36.1 215.5 32.1 223.3 28.1 231.1 25.3 236.6" stroke="#fff" stroke-opacity="1.00" stroke-width="1.0"/><path d="M97.1 96.1 93.1 103.3 89.1 110.6 85.1 117.8 81.1 125.1 79.3 128.4" stroke="#000" stroke-opacity="0.56" stroke-width="0.9"/><path d="M79.3 128.4 75.3 135.7 71.3 142.9 67.3 150.2 66.1 152.3" stroke="#000" stroke-opacity="0.14" stroke-width="1.0"/><path d="M66.1 152.3 62.1 159.6 60.9 161.8" stroke="#000" stroke-opacity="0.67" stroke-width="1.0"/><path d="M60.9 161.8 56.9 169.1 52.9 176.3 48.9 183.6 44.9 190.9 41.9 196.3" stroke="#000" stroke-opacity="0.56" stroke-width="0.9"/><path d="M41.9 196.3 37.9 203.6 33.9 210.9 29.9 218.1 25.9 225.4 25.6 226.1" stroke="#000" stroke-opacity="0.45" stroke-width="1.0"/><path d="M103 88.2 99 95.5 95 102.8 91 110.2 90.5 111" stroke="#fff" stroke-opacity="0.16" stroke-width="0.9"/><path d="M90.5 111 86.5 118.3 82.5 125.7 80.1 130.1" stroke="#fff" stroke-opacity="0.09" stroke-width="1.2"/><path d="M80.1 130.1 76.1 137.5 72.1 144.9 68.1 152.2 64.1 159.6 62.1 163.3" stroke="#fff" stroke-opacity="0.38" stroke-width="1.2"/><path d="M62.1 163.3 58.1 170.6 54.1 178 50.1 185.4 46.1 192.7" stroke="#fff" stroke-opacity="0.56" stroke-width="0.9"/><path d="M46.1 192.7 42.1 200 38.1 207.4 34.1 214.8 30.6 221.2" stroke="#fff" stroke-opacity="0.85" stroke-width="1.1"/><path d="M87 117.7 83 124.7 79.5 130.8" stroke="#fff" stroke-opacity="0.70" stroke-width="1.1"/><path d="M79.5 130.8 75.5 137.9 72.4 143.3" stroke="#fff" stroke-opacity="0.12" stroke-width="1.2"/><path d="M72.4 143.3 68.4 150.4 64.4 157.4 60.4 164.5 56.4 171.6 52.5 178.3" stroke="#fff" stroke-opacity="0.92" stroke-width="0.8"/><path d="M52.5 178.3 48.5 185.4 44.5 192.4 40.5 199.5 36.5 206.5 36.3 206.9" stroke="#fff" stroke-opacity="0.50" stroke-width="0.9"/><path d="M36.3 206.9 32.3 213.9 28.3 221 26.8 223.7" stroke="#fff" stroke-opacity="0.74" stroke-width="1.0"/><path d="M109.6 80.1 105.6 86.5 101.6 93.2 97.6 100.1 93.7 106.7" stroke="#000" stroke-opacity="0.09" stroke-width="1.2"/><path d="M93.7 106.7 89.7 113.6 85.7 120.4 81.7 127.3 77.7 134.2 75.5 138.1" stroke="#000" stroke-opacity="0.81" stroke-width="1.0"/><path d="M75.5 138.1 71.5 145 67.5 151.9 63.5 158.8 62.7 160" stroke="#000" stroke-opacity="0.72" stroke-width="1.1"/><path d="M62.7 160 58.7 166.9 55.1 173.1" stroke="#000" stroke-opacity="0.59" stroke-width="1.0"/><path d="M55.1 173.1 51.1 180 47.1 186.9 43.1 193.8 42.7 194.5" stroke="#000" stroke-opacity="0.54" stroke-width="1.0"/><path d="M42.7 194.5 38.7 201.4 34.7 208.3 30.7 215.2 28.6 218.8" stroke="#000" stroke-opacity="0.38" stroke-width="0.9"/><path d="M106.4 88.4 102.4 95.4 98.4 102.4 94.4 109.5 90.4 116.6 89.6 117.9" stroke="#fff" stroke-opacity="0.10" stroke-width="0.9"/><path d="M89.6 117.9 85.6 125 81.7 132" stroke="#fff" stroke-opacity="0.10" stroke-width="0.9"/><path d="M81.7 132 77.7 139.2 73.7 146.3 69.7 153.4 65.7 160.5 63 165.2" stroke="#fff" stroke-opacity="0.97" stroke-width="1.1"/><path d="M63 165.2 59 172.3 55 179.5 51 186.6 47 193.7 43.4 200.1" stroke="#fff" stroke-opacity="0.15" stroke-width="1.0"/><path d="M43.4 200.1 39.4 207.3 35.4 214.4 31.4 221.5 27.4 228.6 23.8 234.9" stroke="#fff" stroke-opacity="0.34" stroke-width="0.8"/><path d="M112.3 82.5 108.3 88.6 104.3 96.1 100.3 103.8 96.3 111.5 94.9 114.3" stroke="#000" stroke-opacity="0.06" stroke-width="1.1"/><path d="M94.9 114.3 90.9 122.1 86.9 129.8 85.1 133.1" stroke="#000" stroke-opacity="0.07" stroke-width="1.1"/><path d="M85.1 133.1 81.1 140.9 77.1 148.7 75 152.8" stroke="#000" stroke-opacity="0.24" stroke-width="0.9"/><path d="M75 152.8 71 160.6 68.6 165.2" stroke="#000" stroke-opacity="0.65" stroke-width="1.1"/><path d="M68.6 165.2 64.6 173 62.3 177.6" stroke="#000" stroke-opacity="0.27" stroke-width="1.1"/><path d="M62.3 177.6 58.3 185.3 54.3 193.1 53.6 194.4" stroke="#000" stroke-opacity="0.63" stroke-width="0.9"/><path d="M53.6 194.4 49.6 202.2 45.6 210 41.6 217.7 37.6 225.5 36.3 228" stroke="#000" stroke-opacity="0.62" stroke-width="0.8"/><path d="M36.3 228 32.3 235.7 28.3 243.5 26.3 247.5" stroke="#000" stroke-opacity="0.70" stroke-width="0.9"/><path d="M105.8 93.4 101.8 100.1 97.8 106.9 93.8 113.7 89.8 120.6 88.6 122.7" stroke="#fff" stroke-opacity="0.25" stroke-width="1.0"/><path d="M88.6 122.7 84.6 129.5 80.6 136.4 76.6 143.2 72.6 150.1 72.5 150.2" stroke="#fff" stroke-opacity="0.84" stroke-width="1.2"/><path d="M72.5 150.2 68.5 157.1 64.5 163.9 64.1 164.5" stroke="#fff" stroke-opacity="0.73" stroke-width="1.2"/><path d="M64.1 164.5 60.1 171.4 56.1 178.2 52.1 185.1 48.1 192 47.9 192.3" stroke="#fff" stroke-opacity="0.14" stroke-width="1.1"/><path d="M47.9 192.3 43.9 199.1 39.9 206 35.9 212.9 31.9 219.7 31.4 220.6" stroke="#fff" stroke-opacity="0.64" stroke-width="0.8"/><path d="M108.2 91.8 104.2 98.9 101.7 103.5" stroke="#000" stroke-opacity="0.06" stroke-width="1.0"/><path d="M101.7 103.5 97.7 110.8 94.6 116.5" stroke="#000" stroke-opacity="0.15" stroke-width="0.9"/><path d="M94.6 116.5 90.6 123.9 86.6 131.2 86.4 131.6" stroke="#000" stroke-opacity="0.16" stroke-width="1.1"/><path d="M86.4 131.6 82.4 139 79.9 143.6" stroke="#000" stroke-opacity="0.31" stroke-width="0.9"/><path d="M79.9 143.6 75.9 151 71.9 158.4 67.9 165.8 64.9 171.3" stroke="#000" stroke-opacity="0.71" stroke-width="1.0"/><path d="M64.9 171.3 60.9 178.7 57.6 184.8" stroke="#000" stroke-opacity="0.12" stroke-width="1.2"/><path d="M57.6 184.8 53.6 192.2 49.6 199.6 45.6 207 43.6 210.7" stroke="#000" stroke-opacity="0.15" stroke-width="1.1"/><path d="M43.6 210.7 39.6 218.1 35.6 225.5 31.6 232.9 27.6 240.3 26.1 243.1" stroke="#000" stroke-opacity="0.28" stroke-width="1.2"/><path d="M105.3 98.6 101.3 105.7 97.3 112.9 93.3 120.2 93.1 120.5" stroke="#fff" stroke-opacity="0.16" stroke-width="1.1"/><path d="M93.1 120.5 89.1 127.8 85.1 135 83.9 137.3" stroke="#fff" stroke-opacity="0.34" stroke-width="1.0"/><path d="M83.9 137.3 79.9 144.6 75.9 151.8 73.9 155.4" stroke="#fff" stroke-opacity="0.28" stroke-width="0.9"/><path d="M73.9 155.4 69.9 162.7 65.9 169.9 61.9 177.2 57.9 184.5 54 191.5" stroke="#fff" stroke-opacity="0.93" stroke-width="0.9"/><path d="M54 191.5 50 198.7 46 206 42 213.3 38 220.5 34.1 227.7" stroke="#fff" stroke-opacity="0.41" stroke-width="1.1"/><path d="M99.9 110.3 95.9 117.5 91.9 124.7 87.9 132 83.9 139.2 81.1 144.3" stroke="#000" stroke-opacity="0.38" stroke-width="0.9"/><path d="M81.1 144.3 77.1 151.6 73.1 158.8 69.1 166.1 65.1 173.3 63.6 176.2" stroke="#000" stroke-opacity="0.62" stroke-width="1.1"/><path d="M63.6 176.2 59.6 183.4 55.6 190.7 51.6 197.9 47.6 205.2 47.5 205.3" stroke="#000" stroke-opacity="0.76" stroke-width="0.9"/><path d="M47.5 205.3 43.5 212.6 39.5 219.8 35.5 227.1 31.5 234.4 29.5 238" stroke="#000" stroke-opacity="0.77" stroke-width="1.1"/><path d="M107.2 100.7 103.2 108.3 99.2 116 95.2 123.8 91.2 131.6 88.4 136.9" stroke="#fff" stroke-opacity="0.09" stroke-width="0.9"/><path d="M88.4 136.9 84.4 144.7 80.4 152.5 76.4 160.4 72.4 168.2 70.2 172.5" stroke="#fff" stroke-opacity="1.00" stroke-width="1.1"/><path d="M70.2 172.5 66.2 180.3 63 186.6" stroke="#fff" stroke-opacity="0.36" stroke-width="1.0"/><path d="M63 186.6 59 194.4 57.9 196.7" stroke="#fff" stroke-opacity="0.40" stroke-width="1.0"/><path d="M57.9 196.7 53.9 204.5 49.9 212.3 45.9 220.1 41.9 227.9 39 233.6" stroke="#fff" stroke-opacity="0.72" stroke-width="1.2"/><path d="M39 233.6 35 241.4 31 249.2 30.9 249.4" stroke="#fff" stroke-opacity="0.88" stroke-width="0.9"/><path d="M97.4 118.6 93.4 125.6 89.4 132.7 85.4 139.7 82.8 144.3" stroke="#000" stroke-opacity="0.11" stroke-width="1.0"/><path d="M82.8 144.3 78.8 151.4 74.8 158.5 70.8 165.5 66.8 172.6 64.3 177" stroke="#000" stroke-opacity="0.48" stroke-width="0.9"/><path d="M64.3 177 60.3 184.1 56.3 191.2 52.3 198.3 48.3 205.3 45.9 209.5" stroke="#000" stroke-opacity="0.93" stroke-width="1.0"/><path d="M45.9 209.5 41.9 216.6 37.9 223.7 33.9 230.8 29.9 237.9 29.9 238" stroke="#000" stroke-opacity="0.32" stroke-width="0.8"/><path d="M104.7 108.7 100.7 116.2 96.7 123.8 95.8 125.5" stroke="#fff" stroke-opacity="0.07" stroke-width="1.1"/><path d="M95.8 125.5 91.8 133.1 87.8 140.7 85.4 145.4" stroke="#fff" stroke-opacity="0.43" stroke-width="1.1"/><path d="M85.4 145.4 81.4 153 77.4 160.6 73.4 168.2 69.4 175.8 66.6 181" stroke="#fff" stroke-opacity="0.63" stroke-width="1.2"/><path d="M66.6 181 62.6 188.6 58.6 196.2 56 201.2" stroke="#fff" stroke-opacity="0.59" stroke-width="0.9"/><path d="M56 201.2 52 208.8 48 216.4 48 216.6" stroke="#fff" stroke-opacity="0.42" stroke-width="1.1"/><path d="M48 216.6 44 224.2 40 231.8 36 239.4 32 247.1 29.4 251.9" stroke="#fff" stroke-opacity="0.51" stroke-width="0.9"/><path d="M105.1 109.5 101.1 116.6 97.1 123.9 93.1 131.1 89.7 137.2" stroke="#000" stroke-opacity="0.11" stroke-width="1.0"/><path d="M89.7 137.2 85.7 144.4 81.7 151.7 77.8 159" stroke="#000" stroke-opacity="0.92" stroke-width="0.9"/><path d="M77.8 159 73.8 166.2 69.8 173.5 65.8 180.8 61.8 188.1 60.7 190.1" stroke="#000" stroke-opacity="0.35" stroke-width="1.0"/><path d="M60.7 190.1 56.7 197.4 55.1 200.3" stroke="#000" stroke-opacity="0.33" stroke-width="0.9"/><path d="M55.1 200.3 51.1 207.6 47.1 214.9 46.1 216.6" stroke="#000" stroke-opacity="0.67" stroke-width="0.8"/><path d="M46.1 216.6 42.1 223.9 38.1 231.2 36.5 234.1" stroke="#000" stroke-opacity="0.59" stroke-width="1.0"/><path d="M36.5 234.1 32.5 241.4 28.5 248.7 24.5 256 22.8 259.3" stroke="#000" stroke-opacity="0.26" stroke-width="0.9"/><path d="M112.3 100.6 108.3 105.9 104.3 112.7 100.3 119.6 96.3 126.5 94.1 130.3" stroke="#000" stroke-opacity="0.11" stroke-width="1.0"/><path d="M94.1 130.3 90.1 137.3 86.1 144.3 82.1 151.3 78.1 158.3 74.7 164.3" stroke="#000" stroke-opacity="0.58" stroke-width="1.2"/><path d="M74.7 164.3 70.7 171.3 69 174.2" stroke="#000" stroke-opacity="0.12" stroke-width="1.1"/><path d="M69 174.2 65 181.2 61 188.2 57 195.2 57 195.2" stroke="#000" stroke-opacity="0.20" stroke-width="1.1"/><path d="M57 195.2 53 202.2 52 204" stroke="#000" stroke-opacity="0.27" stroke-width="1.1"/><path d="M52 204 48 211 44 218 40 225 36 232 35.9 232.3" stroke="#000" stroke-opacity="0.56" stroke-width="1.0"/><path d="M35.9 232.3 31.9 239.3 27.9 246.3 23.9 253.3 21.9 256.7" stroke="#000" stroke-opacity="0.33" stroke-width="0.9"/><path d="M91.3 141.1 87.3 148.7 83.3 156.3 82 158.7" stroke="#fff" stroke-opacity="0.49" stroke-width="1.0"/><path d="M82 158.7 78 166.3 74 173.9 71.1 179.5" stroke="#fff" stroke-opacity="0.12" stroke-width="1.0"/><path d="M71.1 179.5 67.1 187.1 63.1 194.7 60.5 199.7" stroke="#fff" stroke-opacity="0.20" stroke-width="1.2"/><path d="M60.5 199.7 56.5 207.3 52.5 214.9 48.5 222.6 44.5 230.2 43.9 231.4" stroke="#fff" stroke-opacity="0.97" stroke-width="0.9"/><path d="M43.9 231.4 39.9 239 35.9 246.6 31.9 254.2 28.6 260.4" stroke="#fff" stroke-opacity="0.75" stroke-width="0.9"/><path d="M99.8 126.4 95.8 133.8 91.8 141.2 90 144.6" stroke="#000" stroke-opacity="0.20" stroke-width="1.0"/><path d="M90 144.6 86 152 82 159.4 81.9 159.6" stroke="#000" stroke-opacity="0.12" stroke-width="1.2"/><path d="M81.9 159.6 77.9 167 73.9 174.4 71.6 178.8" stroke="#000" stroke-opacity="0.90" stroke-width="1.2"/><path d="M71.6 178.8 67.6 186.2 64.1 192.6" stroke="#000" stroke-opacity="0.27" stroke-width="0.9"/><path d="M64.1 192.6 60.1 200 59.1 202" stroke="#000" stroke-opacity="0.30" stroke-width="1.0"/><path d="M59.1 202 55.1 209.4 51.1 216.8 47.1 224.3 43.6 230.8" stroke="#000" stroke-opacity="0.26" stroke-width="1.0"/><path d="M43.6 230.8 39.6 238.2 35.6 245.6 31.6 253.1 28.9 258" stroke="#000" stroke-opacity="0.75" stroke-width="1.1"/><path d="M107.2 114.9 103.2 121.7 99.2 128.5 95.5 134.9" stroke="#fff" stroke-opacity="0.11" stroke-width="1.1"/><path d="M95.5 134.9 91.5 141.9 87.5 148.8 83.5 155.8 79.5 162.7 78.9 163.7" stroke="#fff" stroke-opacity="0.55" stroke-width="1.0"/><path d="M78.9 163.7 74.9 170.7 70.9 177.7 66.9 184.6 62.9 191.6 60.4 196" stroke="#fff" stroke-opacity="0.70" stroke-width="1.0"/><path d="M60.4 196 56.4 202.9 52.4 209.9 48.4 216.9 44.4 223.8 43 226.2" stroke="#fff" stroke-opacity="0.41" stroke-width="0.9"/><path d="M43 226.2 39 233.2 35 240.2 31 247.1 29.1 250.5" stroke="#fff" stroke-opacity="0.98" stroke-width="0.9"/><path d="M97 136.3 93 143.8 89 151.2 86.5 155.9" stroke="#000" stroke-opacity="0.31" stroke-width="0.9"/><path d="M86.5 155.9 82.5 163.4 78.5 170.9 74.5 178.4 74.3 178.7" stroke="#000" stroke-opacity="0.23" stroke-width="1.0"/><path d="M74.3 178.7 70.3 186.2 66.3 193.7 62.3 201.2 61.9 202" stroke="#000" stroke-opacity="0.47" stroke-width="0.9"/><path d="M61.9 202 57.9 209.5 53.9 217 49.9 224.4 45.9 231.9 44.9 233.8" stroke="#000" stroke-opacity="0.31" stroke-width="1.0"/><path d="M44.9 233.8 40.9 241.3 36.9 248.8 32.9 256.3 28.9 263.8 25.4 270.3" stroke="#000" stroke-opacity="0.43" stroke-width="1.0"/><path d="M105.9 122.6 101.9 130.1 97.9 137.6 97.4 138.6" stroke="#fff" stroke-opacity="0.08" stroke-width="1.0"/><path d="M97.4 138.6 93.4 146.2 89.4 153.8 85.5 161.1" stroke="#fff" stroke-opacity="0.35" stroke-width="0.9"/><path d="M85.5 161.1 81.5 168.7 77.5 176.3 76.3 178.6" stroke="#fff" stroke-opacity="0.32" stroke-width="1.0"/><path d="M76.3 178.6 72.3 186.2 68.3 193.8 66.6 197.1" stroke="#fff" stroke-opacity="0.37" stroke-width="1.2"/><path d="M66.6 197.1 62.6 204.7 58.6 212.3 54.6 220 52.3 224.3" stroke="#fff" stroke-opacity="0.38" stroke-width="0.8"/><path d="M52.3 224.3 48.3 231.9 44.3 239.5 40.3 247.1 37.8 251.9" stroke="#fff" stroke-opacity="0.64" stroke-width="1.0"/><path d="M37.8 251.9 33.8 259.5 32.1 262.7" stroke="#fff" stroke-opacity="0.64" stroke-width="1.1"/><path d="M101.1 132.6 97.1 139.8 93.1 146.9 89.1 154.1 85.1 161.3 84.9 161.6" stroke="#000" stroke-opacity="0.26" stroke-width="1.0"/><path d="M84.9 161.6 80.9 168.7 76.9 175.9 75.5 178.4" stroke="#000" stroke-opacity="0.98" stroke-width="0.8"/><path d="M75.5 178.4 71.5 185.6 67.5 192.8 63.5 200 62 202.7" stroke="#000" stroke-opacity="0.38" stroke-width="1.1"/><path d="M62 202.7 58 209.8 54 217 50 224.2 46 231.4 42.5 237.7" stroke="#000" stroke-opacity="0.63" stroke-width="1.1"/><path d="M42.5 237.7 38.5 244.9 34.5 252.1 34.4 252.3" stroke="#000" stroke-opacity="0.99" stroke-width="1.0"/><path d="M99.8 137.4 95.8 144.5 91.8 151.6 89.9 155" stroke="#fff" stroke-opacity="0.26" stroke-width="1.1"/><path d="M89.9 155 85.9 162.2 82.1 169" stroke="#fff" stroke-opacity="0.51" stroke-width="1.1"/><path d="M82.1 169 78.1 176.2 74.1 183.3 70.1 190.5 66.1 197.7 65.7 198.5" stroke="#fff" stroke-opacity="0.67" stroke-width="1.0"/><path d="M65.7 198.5 61.7 205.6 57.7 212.8 57.3 213.5" stroke="#fff" stroke-opacity="0.35" stroke-width="1.0"/><path d="M57.3 213.5 53.3 220.7 49.3 227.9 47.7 230.6" stroke="#fff" stroke-opacity="0.73" stroke-width="0.9"/><path d="M47.7 230.6 43.7 237.8 39.7 245 35.7 252.1 33.4 256.4" stroke="#fff" stroke-opacity="0.29" stroke-width="1.1"/><path d="M105.6 130.1 101.6 137.2 98.5 142.8" stroke="#fff" stroke-opacity="0.06" stroke-width="0.9"/><path d="M98.5 142.8 94.5 150 90.5 157.2 87.6 162.3" stroke="#fff" stroke-opacity="0.07" stroke-width="0.9"/><path d="M87.6 162.3 83.6 169.6 79.6 176.8 75.6 184.1 73.7 187.6" stroke="#fff" stroke-opacity="0.78" stroke-width="1.0"/><path d="M73.7 187.6 69.7 194.9 65.7 202.1 61.7 209.4 57.7 216.6 54.9 221.8" stroke="#fff" stroke-opacity="0.71" stroke-width="1.1"/><path d="M54.9 221.8 50.9 229 46.9 236.3 42.9 243.6 38.9 250.8 37.3 253.7" stroke="#fff" stroke-opacity="0.42" stroke-width="1.1"/><path d="M37.3 253.7 33.3 260.9 29.3 268.2 25.3 275.5 25 275.9" stroke="#fff" stroke-opacity="0.36" stroke-width="1.1"/><path d="M105.4 133.5 101.4 140.9 99.9 143.7" stroke="#000" stroke-opacity="0.11" stroke-width="1.0"/><path d="M99.9 143.7 95.9 151.2 91.9 158.7 87.9 166.3 83.9 173.8 80.9 179.4" stroke="#000" stroke-opacity="0.26" stroke-width="1.0"/><path d="M80.9 179.4 76.9 186.9 72.9 194.5 68.9 202 66.1 207.4" stroke="#000" stroke-opacity="0.37" stroke-width="0.9"/><path d="M66.1 207.4 62.1 214.9 58.1 222.5 54.1 230 51.2 235.4" stroke="#000" stroke-opacity="0.40" stroke-width="0.8"/><path d="M51.2 235.4 47.2 242.9 43.2 250.5 41.9 253.1" stroke="#000" stroke-opacity="0.91" stroke-width="1.1"/><path d="M41.9 253.1 37.9 260.6 34.8 266.3" stroke="#000" stroke-opacity="0.56" stroke-width="1.0"/><path d="M107.7 131.3 103.7 138.9 99.7 146.6 95.7 154.4 91.7 162.2 90.9 163.7" stroke="#fff" stroke-opacity="0.10" stroke-width="0.9"/><path d="M90.9 163.7 86.9 171.5 82.9 179.3 78.9 187.1 75.8 193.3" stroke="#fff" stroke-opacity="0.87" stroke-width="1.1"/><path d="M75.8 193.3 71.8 201.1 68.5 207.4" stroke="#fff" stroke-opacity="1.00" stroke-width="1.2"/><path d="M68.5 207.4 64.5 215.3 60.5 223.1 56.5 230.9 53.2 237.4" stroke="#fff" stroke-opacity="0.29" stroke-width="0.9"/><path d="M53.2 237.4 49.2 245.2 46.4 250.6" stroke="#fff" stroke-opacity="0.80" stroke-width="1.0"/><path d="M46.4 250.6 42.4 258.4 38.4 266.2 34.4 274 30.4 281.9 26.6 289.3" stroke="#fff" stroke-opacity="0.26" stroke-width="0.9"/><path d="M94.7 157.3 90.7 164.9 86.7 172.5 83.8 178.1" stroke="#fff" stroke-opacity="0.13" stroke-width="1.1"/><path d="M83.8 178.1 79.8 185.7 75.8 193.3 71.8 200.9 69.7 204.8" stroke="#fff" stroke-opacity="0.59" stroke-width="1.1"/><path d="M69.7 204.8 65.7 212.4 62.7 218.1" stroke="#fff" stroke-opacity="0.67" stroke-width="0.8"/><path d="M62.7 218.1 58.7 225.7 54.7 233.3 53.9 234.8" stroke="#fff" stroke-opacity="0.69" stroke-width="1.0"/><path d="M53.9 234.8 49.9 242.4 45.9 250.1 41.9 257.7 37.9 265.3 35.8 269.2" stroke="#fff" stroke-opacity="0.30" stroke-width="0.9"/><path d="M35.8 269.2 31.8 276.8 27.8 284.4 25.1 289.5" stroke="#fff" stroke-opacity="0.37" stroke-width="1.1"/><path d="M97.6 154 93.6 161.6 89.6 169.2 86.4 175.2" stroke="#000" stroke-opacity="0.24" stroke-width="0.9"/><path d="M86.4 175.2 82.4 182.8 79.5 188.4" stroke="#000" stroke-opacity="0.75" stroke-width="0.9"/><path d="M79.5 188.4 75.5 196 71.5 203.6 70.7 205" stroke="#000" stroke-opacity="0.28" stroke-width="1.1"/><path d="M70.7 205 66.7 212.7 62.7 220.3 58.7 227.9 55.3 234.5" stroke="#000" stroke-opacity="0.65" stroke-width="0.8"/><path d="M55.3 234.5 51.3 242.1 47.3 249.8 43.6 256.7" stroke="#000" stroke-opacity="0.47" stroke-width="0.9"/><path d="M43.6 256.7 39.6 264.3 35.6 271.9 31.6 279.5 27.6 287.2 27.5 287.5" stroke="#000" stroke-opacity="0.46" stroke-width="1.1"/><path d="M102.3 147.5 98.3 155.1 95.7 160.2" stroke="#fff" stroke-opacity="0.15" stroke-width="0.9"/><path d="M95.7 160.2 91.7 167.9 87.7 175.6 83.7 183.2 79.7 190.9 76.5 197" stroke="#fff" stroke-opacity="0.74" stroke-width="0.8"/><path d="M76.5 197 72.5 204.7 68.6 212.3" stroke="#fff" stroke-opacity="0.70" stroke-width="1.1"/><path d="M68.6 212.3 64.6 220 60.6 227.7 60.1 228.5" stroke="#fff" stroke-opacity="0.40" stroke-width="1.2"/><path d="M60.1 228.5 56.1 236.2 52.1 243.9 48.1 251.6 44.1 259.3 41.1 265.2" stroke="#fff" stroke-opacity="0.43" stroke-width="1.1"/><path d="M41.1 265.2 37.1 272.9 33.1 280.6 29.1 288.3 25.1 296 21.5 302.8" stroke="#fff" stroke-opacity="0.69" stroke-width="1.0"/><path d="M100 154 96 161.5 94 165.2" stroke="#000" stroke-opacity="0.10" stroke-width="1.2"/><path d="M94 165.2 90 172.7 86 180.2 82 187.7 78.2 194.7" stroke="#000" stroke-opacity="0.34" stroke-width="1.0"/><path d="M78.2 194.7 74.2 202.2 70.2 209.7 66.6 216.5" stroke="#000" stroke-opacity="0.54" stroke-width="0.9"/><path d="M66.6 216.5 62.6 224 58.6 231.5 54.6 239 50.6 246.5 47.8 251.9" stroke="#000" stroke-opacity="0.77" stroke-width="0.8"/><path d="M47.8 251.9 43.8 259.4 39.8 267 35.8 274.5 33.6 278.5" stroke="#000" stroke-opacity="0.94" stroke-width="1.0"/><path d="M110 137.5 106 144.4 102 151.6 98 158.9 96.8 161.2" stroke="#fff" stroke-opacity="0.07" stroke-width="1.0"/><path d="M96.8 161.2 92.8 168.5 88.8 175.8 84.8 183.2 82.7 187.1" stroke="#fff" stroke-opacity="0.38" stroke-width="1.0"/><path d="M82.7 187.1 78.7 194.5 74.7 201.8 70.7 209.2 69.9 210.6" stroke="#fff" stroke-opacity="0.29" stroke-width="0.9"/><path d="M69.9 210.6 65.9 218 61.9 225.3 57.9 232.7 54.8 238.5" stroke="#fff" stroke-opacity="0.94" stroke-width="0.8"/><path d="M54.8 238.5 50.8 245.8 49 249.1" stroke="#fff" stroke-opacity="0.51" stroke-width="1.2"/><path d="M49 249.1 45 256.5 41 263.9 37 271.2 33 278.6 30.8 282.7" stroke="#fff" stroke-opacity="0.30" stroke-width="1.0"/><path d="M105.5 146.2 101.5 153 97.5 159.8 95.1 163.8" stroke="#000" stroke-opacity="0.07" stroke-width="0.9"/><path d="M95.1 163.8 91.1 170.7 88.4 175.4" stroke="#000" stroke-opacity="0.21" stroke-width="0.9"/><path d="M88.4 175.4 84.4 182.3 82.9 184.8" stroke="#000" stroke-opacity="0.43" stroke-width="1.1"/><path d="M82.9 184.8 78.9 191.7 74.9 198.6 70.9 205.5 66.9 212.4 66.5 213.1" stroke="#000" stroke-opacity="0.59" stroke-width="0.8"/><path d="M66.5 213.1 62.5 220 58.5 226.9 54.7 233.5" stroke="#000" stroke-opacity="0.33" stroke-width="1.0"/><path d="M54.7 233.5 50.7 240.4 46.7 247.3 42.7 254.2 38.7 261.1 36.5 265" stroke="#000" stroke-opacity="0.28" stroke-width="1.0"/><path d="M36.5 265 32.5 271.9 28.5 278.8 24.5 285.7 24.5 285.7" stroke="#000" stroke-opacity="0.50" stroke-width="0.8"/><path d="M106.1 148.1 102.1 155 98.1 162 94.3 168.7" stroke="#000" stroke-opacity="0.16" stroke-width="0.9"/><path d="M94.3 168.7 90.3 175.7 88.4 179" stroke="#000" stroke-opacity="0.52" stroke-width="0.9"/><path d="M88.4 179 84.4 186 82.8 188.9" stroke="#000" stroke-opacity="0.25" stroke-width="0.9"/><path d="M82.8 188.9 78.8 195.9 74.8 203 70.8 210 66.8 217.1 65.3 219.7" stroke="#000" stroke-opacity="0.97" stroke-width="0.9"/><path d="M65.3 219.7 61.3 226.7 58.5 231.7" stroke="#000" stroke-opacity="0.21" stroke-width="1.2"/><path d="M58.5 231.7 54.5 238.8 50.5 245.8 46.5 252.9 46.3 253.1" stroke="#000" stroke-opacity="0.22" stroke-width="0.9"/><path d="M46.3 253.1 42.3 260.2 38.3 267.2 34.3 274.3 33.6 275.5" stroke="#000" stroke-opacity="0.66" stroke-width="1.0"/><path d="M93.4 175.7 89.4 183.4 85.4 191 83.7 194.4" stroke="#fff" stroke-opacity="0.23" stroke-width="1.1"/><path d="M83.7 194.4 79.7 202.1 75.7 209.8 71.7 217.4 67.7 225.1 65.6 229.1" stroke="#fff" stroke-opacity="0.73" stroke-width="1.1"/><path d="M65.6 229.1 61.6 236.8 58.5 242.6" stroke="#fff" stroke-opacity="0.11" stroke-width="0.8"/><path d="M58.5 242.6 54.5 250.3 50.5 258 46.8 265.1" stroke="#fff" stroke-opacity="0.36" stroke-width="1.2"/><path d="M46.8 265.1 42.8 272.7 40.4 277.4" stroke="#fff" stroke-opacity="0.66" stroke-width="0.9"/><path d="M40.4 277.4 36.4 285.1 32.7 292.3" stroke="#fff" stroke-opacity="0.83" stroke-width="1.1"/><path d="M108.2 149.2 104.2 155.8 100.2 162.7 96.2 169.6 92.2 176.5 92 176.9" stroke="#000" stroke-opacity="0.17" stroke-width="1.1"/><path d="M92 176.9 88 183.8 84 190.8 80 197.7 76 204.6 74.9 206.5" stroke="#000" stroke-opacity="0.27" stroke-width="1.2"/><path d="M74.9 206.5 70.9 213.5 68.5 217.5" stroke="#000" stroke-opacity="0.31" stroke-width="1.0"/><path d="M68.5 217.5 64.5 224.5 60.5 231.4 56.5 238.4 52.9 244.8" stroke="#000" stroke-opacity="0.68" stroke-width="1.0"/><path d="M52.9 244.8 48.9 251.7 44.9 258.7 40.9 265.6 37.2 272.1" stroke="#000" stroke-opacity="0.46" stroke-width="0.8"/><path d="M37.2 272.1 33.2 279.1 29.2 286 27.9 288.2" stroke="#000" stroke-opacity="0.62" stroke-width="1.1"/><path d="M108.1 152.4 104.1 159.8 100.1 167.4 96.1 175 95.9 175.3" stroke="#fff" stroke-opacity="0.06" stroke-width="0.8"/><path d="M95.9 175.3 91.9 183 87.9 190.7 85.3 195.6" stroke="#fff" stroke-opacity="0.55" stroke-width="1.0"/><path d="M85.3 195.6 81.3 203.3 77.3 211 73.4 218.6" stroke="#fff" stroke-opacity="0.69" stroke-width="0.9"/><path d="M73.4 218.6 69.4 226.2 65.4 233.9 61.7 241" stroke="#fff" stroke-opacity="0.32" stroke-width="1.0"/><path d="M61.7 241 57.7 248.6 53.7 256.3 49.7 264 49.1 265.2" stroke="#fff" stroke-opacity="0.82" stroke-width="1.1"/><path d="M49.1 265.2 45.1 272.9 41.1 280.6 38.6 285.3" stroke="#fff" stroke-opacity="0.99" stroke-width="1.0"/><path d="M38.6 285.3 34.6 293 30.6 300.7 27.8 306.1" stroke="#fff" stroke-opacity="0.25" stroke-width="0.8"/><path d="M99.8 167.9 95.8 175 91.8 182 91.5 182.6" stroke="#000" stroke-opacity="0.18" stroke-width="1.1"/><path d="M91.5 182.6 87.5 189.6 83.5 196.7 81.5 200.4" stroke="#000" stroke-opacity="0.56" stroke-width="0.9"/><path d="M81.5 200.4 77.5 207.5 74.4 213" stroke="#000" stroke-opacity="0.82" stroke-width="1.1"/><path d="M74.4 213 70.4 220.1 66.4 227.2 62.4 234.3 59.5 239.4" stroke="#000" stroke-opacity="0.77" stroke-width="1.0"/><path d="M59.5 239.4 55.5 246.5 53.5 250" stroke="#000" stroke-opacity="0.23" stroke-width="1.0"/><path d="M53.5 250 49.5 257.1 45.5 264.3 41.5 271.4 38.7 276.4" stroke="#000" stroke-opacity="0.13" stroke-width="1.1"/><path d="M38.7 276.4 34.7 283.5 30.7 290.7 26.7 297.8 22.7 304.9 20 309.7" stroke="#000" stroke-opacity="0.64" stroke-width="1.2"/><path d="M108.7 154.5 104.7 161 100.7 167.8 96.7 174.6 92.7 181.4 92.5 181.8" stroke="#fff" stroke-opacity="0.14" stroke-width="1.2"/><path d="M92.5 181.8 88.5 188.6 84.5 195.5 81.4 200.8" stroke="#fff" stroke-opacity="0.11" stroke-width="1.1"/><path d="M81.4 200.8 77.4 207.6 73.4 214.5 69.4 221.3 65.4 228.2 61.6 234.7" stroke="#fff" stroke-opacity="0.95" stroke-width="1.1"/><path d="M61.6 234.7 57.6 241.5 56.3 243.9" stroke="#fff" stroke-opacity="0.71" stroke-width="1.2"/><path d="M56.3 243.9 52.3 250.7 48.3 257.6 46.8 260.2" stroke="#fff" stroke-opacity="0.66" stroke-width="1.0"/><path d="M46.8 260.2 42.8 267 38.8 273.9 36 278.6" stroke="#fff" stroke-opacity="0.93" stroke-width="0.8"/><path d="M36 278.6 32 285.5 28.5 291.6" stroke="#fff" stroke-opacity="0.77" stroke-width="1.1"/><path d="M105.4 162.4 101.4 169.3 97.4 176.3 95.9 178.9" stroke="#fff" stroke-opacity="0.11" stroke-width="1.0"/><path d="M95.9 178.9 91.9 185.9 87.9 192.9 83.9 200 82.7 202" stroke="#fff" stroke-opacity="0.22" stroke-width="0.8"/><path d="M82.7 202 78.7 209 74.7 216 70.7 223 66.7 230.1 65.7 231.9" stroke="#fff" stroke-opacity="0.50" stroke-width="0.9"/><path d="M65.7 231.9 61.7 238.9 57.7 245.9 53.7 253 52.6 254.9" stroke="#fff" stroke-opacity="0.14" stroke-width="1.1"/><path d="M52.6 254.9 48.6 261.9 44.6 269 42.5 272.6" stroke="#fff" stroke-opacity="0.39" stroke-width="0.9"/><path d="M42.5 272.6 38.5 279.7 36.9 282.6" stroke="#fff" stroke-opacity="0.76" stroke-width="1.1"/><path d="M36.9 282.6 32.9 289.6 28.9 296.6 24.9 303.7 20.9 310.7 19.8 312.6" stroke="#fff" stroke-opacity="0.53" stroke-width="1.1"/><path d="M98.5 178.7 94.5 186.3 92.7 189.8" stroke="#000" stroke-opacity="0.33" stroke-width="1.1"/><path d="M92.7 189.8 88.7 197.4 84.7 205 80.7 212.7 76.7 220.3 75.9 221.7" stroke="#000" stroke-opacity="0.10" stroke-width="1.2"/><path d="M75.9 221.7 71.9 229.4 69 235" stroke="#000" stroke-opacity="0.92" stroke-width="0.9"/><path d="M69 235 65 242.6 63.8 245" stroke="#000" stroke-opacity="0.78" stroke-width="0.8"/><path d="M63.8 245 59.8 252.6 55.8 260.3 51.8 267.9 47.8 275.6 46.4 278.2" stroke="#000" stroke-opacity="0.22" stroke-width="1.1"/><path d="M46.4 278.2 42.4 285.9 40.7 289.1" stroke="#000" stroke-opacity="0.21" stroke-width="1.1"/><path d="M40.7 289.1 36.7 296.7 32.7 304.4 28.7 312 26.6 316.1" stroke="#000" stroke-opacity="0.75" stroke-width="0.9"/><path d="M106.2 166.5 102.2 174 98.2 181.5 94.2 189.1 90.7 195.7" stroke="#000" stroke-opacity="0.20" stroke-width="1.0"/><path d="M90.7 195.7 86.7 203.4 82.7 211 78.7 218.6 78.6 218.8" stroke="#000" stroke-opacity="0.57" stroke-width="1.1"/><path d="M78.6 218.8 74.6 226.5 70.8 233.7" stroke="#000" stroke-opacity="0.35" stroke-width="1.1"/><path d="M70.8 233.7 66.8 241.4 62.8 249 62.3 250" stroke="#000" stroke-opacity="0.21" stroke-width="1.1"/><path d="M62.3 250 58.3 257.7 54.3 265.3 50.3 273 46.3 280.6 42.6 287.7" stroke="#000" stroke-opacity="0.22" stroke-width="0.8"/><path d="M42.6 287.7 38.6 295.4 34.6 303 30.6 310.7 30 311.9" stroke="#000" stroke-opacity="0.62" stroke-width="1.1"/><path d="M110.1 161.3 106.1 167.7 102.1 174.5 98.1 181.4 98 181.6" stroke="#fff" stroke-opacity="0.09" stroke-width="1.0"/><path d="M98 181.6 94 188.5 90 195.4 86 202.3 83.3 207" stroke="#fff" stroke-opacity="0.38" stroke-width="1.0"/><path d="M83.3 207 79.3 213.9 75.3 220.9 71.3 227.8 68.2 233.2" stroke="#fff" stroke-opacity="0.20" stroke-width="0.9"/><path d="M68.2 233.2 64.2 240.1 60.2 247 60.2 247.1" stroke="#fff" stroke-opacity="0.49" stroke-width="0.9"/><path d="M60.2 247.1 56.2 254 52.2 261 48.2 267.9 44.2 274.8 41.8 279" stroke="#fff" stroke-opacity="0.18" stroke-width="0.8"/><path d="M41.8 279 37.8 285.9 33.8 292.9 29.8 299.8 25.8 306.7 25.7 307" stroke="#fff" stroke-opacity="0.16" stroke-width="0.8"/><path d="M108.3 166.5 104.3 173.6 100.3 180.8 96.3 188.1 92.3 195.4 92 195.9" stroke="#000" stroke-opacity="0.17" stroke-width="0.9"/><path d="M92 195.9 88 203.2 84 210.5 80.3 217.4" stroke="#000" stroke-opacity="0.36" stroke-width="0.9"/><path d="M80.3 217.4 76.3 224.8 72.3 232.1 68.3 239.4 66.9 242" stroke="#000" stroke-opacity="0.87" stroke-width="0.9"/><path d="M66.9 242 62.9 249.3 59.4 255.6" stroke="#000" stroke-opacity="0.18" stroke-width="1.0"/><path d="M59.4 255.6 55.4 262.9 51.4 270.3 47.4 277.6 43.4 284.9 39.4 292.3" stroke="#000" stroke-opacity="0.67" stroke-width="0.8"/><path d="M39.4 292.3 35.4 299.6 31.4 306.9 27.4 314.3 23.4 321.6 19.9 328.1" stroke="#000" stroke-opacity="0.29" stroke-width="1.0"/><path d="M110.2 165.9 106.2 173.1 102.2 180.6 98.2 188.2 94.2 195.9 90.8 202.4" stroke="#000" stroke-opacity="0.11" stroke-width="1.1"/><path d="M90.8 202.4 86.8 210.1 82.8 217.8 81.2 221" stroke="#000" stroke-opacity="0.54" stroke-width="1.1"/><path d="M81.2 221 77.2 228.7 73.2 236.4 69.2 244.1 65.2 251.8 61.3 259.3" stroke="#000" stroke-opacity="0.86" stroke-width="1.0"/><path d="M61.3 259.3 57.3 267 55.1 271.3" stroke="#000" stroke-opacity="0.75" stroke-width="0.8"/><path d="M55.1 271.3 51.1 279 47.1 286.7 43.1 294.4 39.1 302.1 36.1 307.9" stroke="#000" stroke-opacity="0.96" stroke-width="1.1"/><path d="M36.1 307.9 32.1 315.6 29.5 320.5" stroke="#000" stroke-opacity="0.64" stroke-width="1.1"/><path d="M106.4 174.2 102.4 181 98.4 187.8 94.4 194.8 94.1 195.2" stroke="#000" stroke-opacity="0.12" stroke-width="1.1"/><path d="M94.1 195.2 90.1 202.1 86.3 208.8" stroke="#000" stroke-opacity="0.23" stroke-width="1.1"/><path d="M86.3 208.8 82.3 215.7 78.3 222.7 76.1 226.4" stroke="#000" stroke-opacity="0.77" stroke-width="1.0"/><path d="M76.1 226.4 72.1 233.4 68.1 240.3 64.1 247.3 62.4 250.3" stroke="#000" stroke-opacity="0.59" stroke-width="1.0"/><path d="M62.4 250.3 58.4 257.3 54.4 264.2 50.4 271.2 46.4 278.2 42.8 284.5" stroke="#000" stroke-opacity="0.84" stroke-width="0.9"/><path d="M42.8 284.5 38.8 291.4 34.8 298.4 30.8 305.4 29.5 307.6" stroke="#000" stroke-opacity="0.64" stroke-width="0.9"/><path d="M106.3 176.8 102.3 184 98.3 191.4 94.3 198.8 93.1 201.1" stroke="#fff" stroke-opacity="0.11" stroke-width="1.0"/><path d="M93.1 201.1 89.1 208.5 87.5 211.4" stroke="#fff" stroke-opacity="0.22" stroke-width="1.1"/><path d="M87.5 211.4 83.5 218.8 79.5 226.2 75.5 233.7 72.8 238.6" stroke="#fff" stroke-opacity="0.18" stroke-width="1.2"/><path d="M72.8 238.6 68.8 246 64.8 253.4 60.8 260.8 56.8 268.3 54.7 272.3" stroke="#fff" stroke-opacity="0.87" stroke-width="1.1"/><path d="M54.7 272.3 50.7 279.7 46.7 287.2 44.7 290.7" stroke="#fff" stroke-opacity="0.34" stroke-width="0.9"/><path d="M44.7 290.7 40.7 298.2 36.7 305.6 33.5 311.6" stroke="#fff" stroke-opacity="0.15" stroke-width="0.9"/><path d="M103 183.9 99 190.8 95 197.6 91 204.5 90.8 204.7" stroke="#000" stroke-opacity="0.10" stroke-width="1.0"/><path d="M90.8 204.7 86.8 211.6 82.8 218.5 78.8 225.4 74.9 232.2" stroke="#000" stroke-opacity="0.62" stroke-width="1.0"/><path d="M74.9 232.2 70.9 239.1 66.9 246 62.9 252.9 58.9 259.8 57.9 261.5" stroke="#000" stroke-opacity="0.60" stroke-width="1.1"/><path d="M57.9 261.5 53.9 268.4 49.9 275.3 46.5 281.1" stroke="#000" stroke-opacity="0.88" stroke-width="1.2"/><path d="M46.5 281.1 42.5 288.1 38.5 295 34.5 301.9 33.1 304.3" stroke="#000" stroke-opacity="0.65" stroke-width="1.2"/><path d="M108.3 177.1 104.3 184 100.3 191.1 96.3 198.2 92.3 205.4 91.6 206.5" stroke="#fff" stroke-opacity="0.12" stroke-width="1.0"/><path d="M91.6 206.5 87.6 213.7 83.6 220.8 79.6 228 75.6 235.2 75 236.4" stroke="#fff" stroke-opacity="0.41" stroke-width="1.1"/><path d="M75 236.4 71 243.5 67 250.7 63 257.9 59 265.1 58.4 266" stroke="#fff" stroke-opacity="0.52" stroke-width="1.1"/><path d="M58.4 266 54.4 273.2 53.2 275.4" stroke="#fff" stroke-opacity="0.65" stroke-width="1.1"/><path d="M53.2 275.4 49.2 282.6 45.2 289.8 41.2 296.9 37.8 303.1" stroke="#fff" stroke-opacity="0.20" stroke-width="1.0"/><path d="M37.8 303.1 33.8 310.3 29.8 317.4 25.8 324.6 23.2 329.2" stroke="#fff" stroke-opacity="0.74" stroke-width="1.2"/><path d="M101.1 192.5 97.1 199.9 93.1 207.4 89.1 214.9 86.6 219.5" stroke="#000" stroke-opacity="0.27" stroke-width="0.8"/><path d="M86.6 219.5 82.6 227 79.4 233" stroke="#000" stroke-opacity="0.41" stroke-width="0.9"/><path d="M79.4 233 75.4 240.5 71.4 248 67.4 255.5 67 256.1" stroke="#000" stroke-opacity="0.63" stroke-width="0.9"/><path d="M67 256.1 63 263.6 61.7 266.1" stroke="#000" stroke-opacity="0.15" stroke-width="1.1"/><path d="M61.7 266.1 57.7 273.6 53.9 280.8" stroke="#000" stroke-opacity="0.95" stroke-width="1.0"/><path d="M53.9 280.8 49.9 288.3 46.3 295" stroke="#000" stroke-opacity="0.61" stroke-width="0.8"/><path d="M46.3 295 42.3 302.5 38.3 310 37.6 311.3" stroke="#000" stroke-opacity="0.63" stroke-width="0.9"/><path d="M37.6 311.3 33.6 318.8 31.4 323" stroke="#000" stroke-opacity="0.69" stroke-width="0.9"/><path d="M110.7 177.7 106.7 184 102.7 190.9 98.7 197.8 94.7 204.7 93.6 206.6" stroke="#fff" stroke-opacity="0.12" stroke-width="1.1"/><path d="M93.6 206.6 89.6 213.6 85.6 220.6 85.3 221.3" stroke="#fff" stroke-opacity="0.28" stroke-width="1.0"/><path d="M85.3 221.3 81.3 228.2 77.3 235.2 73.3 242.2 72.4 243.8" stroke="#fff" stroke-opacity="0.94" stroke-width="1.1"/><path d="M72.4 243.8 68.4 250.8 64.4 257.8 60.4 264.8 59.8 265.8" stroke="#fff" stroke-opacity="0.23" stroke-width="1.2"/><path d="M59.8 265.8 55.8 272.8 51.8 279.8 47.8 286.8 43.8 293.8 39.9 300.6" stroke="#fff" stroke-opacity="0.84" stroke-width="1.1"/><path d="M39.9 300.6 35.9 307.6 31.9 314.7 27.9 321.7 23.9 328.7 23.7 329.1" stroke="#fff" stroke-opacity="0.95" stroke-width="1.1"/><path d="M98.3 202.4 94.3 209.8 90.3 217.2 86.3 224.7 82.3 232.1 80.3 235.9" stroke="#000" stroke-opacity="0.12" stroke-width="0.9"/><path d="M80.3 235.9 76.3 243.3 72.3 250.8 68.3 258.2 64.3 265.7 64.1 266" stroke="#000" stroke-opacity="0.24" stroke-width="0.9"/><path d="M64.1 266 60.1 273.5 56.1 280.9 52.1 288.4 51.7 289" stroke="#000" stroke-opacity="0.94" stroke-width="1.2"/><path d="M51.7 289 47.7 296.5 45.4 300.7" stroke="#000" stroke-opacity="0.12" stroke-width="0.9"/><path d="M45.4 300.7 41.4 308.2 37.4 315.6 33.4 323.1 29.4 330.5 28.5 332.3" stroke="#000" stroke-opacity="0.68" stroke-width="1.1"/><path d="M110 183.7 106 190.9 102 198.4 98 206 94 213.6 92.7 216.1" stroke="#fff" stroke-opacity="0.09" stroke-width="0.8"/><path d="M92.7 216.1 88.7 223.8 87.3 226.5" stroke="#fff" stroke-opacity="0.31" stroke-width="0.9"/><path d="M87.3 226.5 83.3 234.1 79.3 241.8 75.3 249.4 71.3 257.1 67.5 264.3" stroke="#fff" stroke-opacity="0.14" stroke-width="1.0"/><path d="M67.5 264.3 63.5 272 59.5 279.6 55.5 287.3 51.5 295 51.3 295.4" stroke="#fff" stroke-opacity="0.38" stroke-width="1.1"/><path d="M51.3 295.4 47.3 303 43.3 310.7 40.6 316" stroke="#fff" stroke-opacity="0.30" stroke-width="0.8"/><path d="M40.6 316 36.6 323.7 32.6 331.4 28.6 339 26.7 342.5" stroke="#fff" stroke-opacity="0.70" stroke-width="1.0"/><path d="M106 191.7 102 198.6 98 205.5 95.3 210.2" stroke="#000" stroke-opacity="0.11" stroke-width="0.9"/><path d="M95.3 210.2 91.3 217.2 87.3 224.2 86.7 225.3" stroke="#000" stroke-opacity="0.09" stroke-width="1.2"/><path d="M86.7 225.3 82.7 232.3 78.7 239.3 77.8 241" stroke="#000" stroke-opacity="0.49" stroke-width="0.9"/><path d="M77.8 241 73.8 248 69.8 255 66.2 261.3" stroke="#000" stroke-opacity="0.98" stroke-width="1.0"/><path d="M66.2 261.3 62.2 268.3 61.1 270.2" stroke="#000" stroke-opacity="0.47" stroke-width="1.0"/><path d="M61.1 270.2 57.1 277.2 53.1 284.2 51 287.9" stroke="#000" stroke-opacity="0.13" stroke-width="1.1"/><path d="M51 287.9 47 294.9 43 301.9 39.5 308.1" stroke="#000" stroke-opacity="0.91" stroke-width="1.2"/><path d="M39.5 308.1 35.5 315.1 31.5 322.1 27.5 329.2 25.3 332.9" stroke="#000" stroke-opacity="0.79" stroke-width="1.1"/><path d="M106.7 193.2 102.7 200.6 98.7 208.1 94.7 215.7 92.9 219.1" stroke="#fff" stroke-opacity="0.15" stroke-width="1.1"/><path d="M92.9 219.1 88.9 226.7 84.9 234.2 80.9 241.8 76.9 249.4 75.6 252" stroke="#fff" stroke-opacity="0.28" stroke-width="1.2"/><path d="M75.6 252 71.6 259.6 67.6 267.2 63.6 274.8 59.6 282.4 57.4 286.7" stroke="#fff" stroke-opacity="0.18" stroke-width="0.9"/><path d="M57.4 286.7 53.4 294.3 51 298.7" stroke="#fff" stroke-opacity="0.57" stroke-width="0.9"/><path d="M51 298.7 47 306.3 43 313.9 39.4 320.7" stroke="#fff" stroke-opacity="0.42" stroke-width="1.0"/><path d="M39.4 320.7 35.4 328.3 31.4 335.9 29.7 339.2" stroke="#fff" stroke-opacity="0.20" stroke-width="0.8"/><path d="M106.4 196.3 102.4 203.6 98.4 211 94.4 218.4 91.8 223.2" stroke="#000" stroke-opacity="0.20" stroke-width="0.9"/><path d="M91.8 223.2 87.8 230.7 83.8 238.1 79.8 245.6 75.8 253.1 73.7 257.1" stroke="#000" stroke-opacity="0.98" stroke-width="0.9"/><path d="M73.7 257.1 69.7 264.6 65.7 272.1 61.7 279.5 60.1 282.5" stroke="#000" stroke-opacity="0.18" stroke-width="1.1"/><path d="M60.1 282.5 56.1 290 52.1 297.5 48.1 304.9 44.1 312.4 43.1 314.2" stroke="#000" stroke-opacity="0.85" stroke-width="1.0"/><path d="M43.1 314.2 39.1 321.7 35.1 329.1 33.2 332.8" stroke="#000" stroke-opacity="0.23" stroke-width="1.0"/><path d="M106.1 198.5 102.1 205.5 98.1 212.6 94.1 219.8 92.1 223.4" stroke="#fff" stroke-opacity="0.20" stroke-width="0.8"/><path d="M92.1 223.4 88.1 230.5 84.1 237.7 80.1 244.8 79.5 245.9" stroke="#fff" stroke-opacity="0.26" stroke-width="1.1"/><path d="M79.5 245.9 75.5 253.1 71.5 260.2 67.5 267.4 63.5 274.6 60 280.9" stroke="#fff" stroke-opacity="0.67" stroke-width="1.2"/><path d="M60 280.9 56 288 52 295.2 48 302.4 44 309.5 43.5 310.3" stroke="#fff" stroke-opacity="0.29" stroke-width="1.1"/><path d="M43.5 310.3 39.5 317.5 35.5 324.6 31.5 331.8 28.4 337.4" stroke="#fff" stroke-opacity="0.70" stroke-width="1.2"/><path d="M99.3 214.2 95.3 221.9 91.3 229.5 87.6 236.6" stroke="#000" stroke-opacity="0.17" stroke-width="0.8"/><path d="M87.6 236.6 83.6 244.2 79.6 251.9 75.6 259.6 74.7 261.4" stroke="#000" stroke-opacity="0.88" stroke-width="1.1"/><path d="M74.7 261.4 70.7 269.1 69.4 271.5" stroke="#000" stroke-opacity="0.62" stroke-width="0.9"/><path d="M69.4 271.5 65.4 279.2 61.4 286.9 57.4 294.5 53.4 302.2 51 306.8" stroke="#000" stroke-opacity="0.83" stroke-width="1.0"/><path d="M51 306.8 47 314.5 43 322.2 42 324.1" stroke="#000" stroke-opacity="0.13" stroke-width="1.0"/><path d="M42 324.1 38 331.8 34.5 338.6" stroke="#000" stroke-opacity="0.80" stroke-width="1.0"/><path d="M104 205.7 100 212.6 96 219.5 94.1 222.8" stroke="#fff" stroke-opacity="0.13" stroke-width="1.0"/><path d="M94.1 222.8 90.1 229.7 86.1 236.7 82.9 242.3" stroke="#fff" stroke-opacity="0.37" stroke-width="0.8"/><path d="M82.9 242.3 78.9 249.3 74.9 256.3 71.7 261.7" stroke="#fff" stroke-opacity="0.69" stroke-width="0.8"/><path d="M71.7 261.7 67.7 268.7 63.7 275.6 59.7 282.6 56.8 287.8" stroke="#fff" stroke-opacity="0.92" stroke-width="1.2"/><path d="M56.8 287.8 52.8 294.7 48.8 301.7 44.8 308.7 40.8 315.6 37.2 321.8" stroke="#fff" stroke-opacity="0.39" stroke-width="0.9"/><path d="M37.2 321.8 33.2 328.7 31 332.6" stroke="#fff" stroke-opacity="0.16" stroke-width="1.1"/><path d="M106.2 205.2 102.2 212.6 98.2 220 94.2 227.6 91.7 232.3" stroke="#000" stroke-opacity="0.10" stroke-width="0.9"/><path d="M91.7 232.3 87.7 239.9 86 243.1" stroke="#000" stroke-opacity="0.21" stroke-width="1.2"/><path d="M86 243.1 82 250.6 78 258.2 74 265.7 70 273.3 68.3 276.6" stroke="#000" stroke-opacity="0.25" stroke-width="1.1"/><path d="M68.3 276.6 64.3 284.2 62.9 286.7" stroke="#000" stroke-opacity="0.27" stroke-width="0.9"/><path d="M62.9 286.7 58.9 294.3 55.3 301.2" stroke="#000" stroke-opacity="0.83" stroke-width="1.1"/><path d="M55.3 301.2 51.3 308.7 47.3 316.3 43.3 323.9 39.3 331.4 38.7 332.6" stroke="#000" stroke-opacity="0.65" stroke-width="1.1"/><path d="M38.7 332.6 34.7 340.1 30.7 347.7 26.7 355.3 22.7 362.8 19.8 368.2" stroke="#000" stroke-opacity="0.83" stroke-width="1.1"/><path d="M92.6 231.9 88.6 239.2 84.6 246.4 80.8 253.3" stroke="#fff" stroke-opacity="0.45" stroke-width="1.0"/><path d="M80.8 253.3 76.8 260.6 72.8 267.9 68.8 275.1 64.8 282.4 64 283.8" stroke="#fff" stroke-opacity="0.52" stroke-width="1.2"/><path d="M64 283.8 60 291.1 56.3 297.9" stroke="#fff" stroke-opacity="0.88" stroke-width="1.0"/><path d="M56.3 297.9 52.3 305.2 48.3 312.4 44.3 319.7 40.3 327 39.7 328.1" stroke="#fff" stroke-opacity="0.92" stroke-width="1.1"/><path d="M39.7 328.1 35.7 335.3 31.7 342.6 27.7 349.9 23.7 357.2 21.7 360.8" stroke="#fff" stroke-opacity="0.47" stroke-width="0.9"/><path d="M137.6 95.7 141.6 103 144.6 108.5" stroke="#000" stroke-opacity="0.08" stroke-width="0.9"/><path d="M154.9 127.2 158.9 134.5 162.7 141.4" stroke="#000" stroke-opacity="0.20" stroke-width="1.0"/><path d="M162.7 141.4 166.7 148.7 170.7 156 172.2 158.8" stroke="#000" stroke-opacity="0.84" stroke-width="0.8"/><path d="M172.2 158.8 176.2 166.1 180.2 173.4 184.2 180.7 187.8 187.2" stroke="#000" stroke-opacity="0.43" stroke-width="1.1"/><path d="M187.8 187.2 191.8 194.5 195.8 201.8 196.2 202.5" stroke="#000" stroke-opacity="0.94" stroke-width="0.9"/><path d="M130.8 85.7 134.8 93.1 138.8 100.6 142.8 108 146.8 115.4 149.4 120.2" stroke="#000" stroke-opacity="0.20" stroke-width="1.1"/><path d="M149.4 120.2 153.4 127.6 157.4 135.1 161.4 142.5 165.4 149.9 168.3 155.5" stroke="#000" stroke-opacity="0.17" stroke-width="1.1"/><path d="M168.3 155.5 172.3 162.9 175.7 169.1" stroke="#000" stroke-opacity="0.70" stroke-width="0.9"/><path d="M175.7 169.1 179.7 176.6 183.7 184 186.6 189.4" stroke="#000" stroke-opacity="0.34" stroke-width="0.8"/><path d="M186.6 189.4 190.6 196.9 194.6 204.3 198.6 211.7 199.5 213.5" stroke="#000" stroke-opacity="0.89" stroke-width="0.9"/><path d="M119.6 66.3 123.6 73.1 127.6 80.1 131.6 87.1 135.6 94 139 100" stroke="#fff" stroke-opacity="0.06" stroke-width="1.0"/><path d="M139 100 143 107 147 114 151 121 154.6 127.4" stroke="#fff" stroke-opacity="0.29" stroke-width="1.2"/><path d="M154.6 127.4 158.6 134.4 162.6 141.4 166.6 148.4 169.1 152.9" stroke="#fff" stroke-opacity="0.19" stroke-width="1.2"/><path d="M169.1 152.9 173.1 159.9 177.1 166.9 181.1 173.9 184.4 179.7" stroke="#fff" stroke-opacity="0.46" stroke-width="1.2"/><path d="M184.4 179.7 188.4 186.7 192.4 193.7 196.4 200.7 200.4 207.8 202.8 212" stroke="#fff" stroke-opacity="0.45" stroke-width="1.0"/><path d="M126.5 81.5 130.5 88.9 134.5 96.4 138.5 103.8 142.5 111.3 145.7 117.2" stroke="#fff" stroke-opacity="0.16" stroke-width="1.0"/><path d="M145.7 117.2 149.7 124.7 152 128.9" stroke="#fff" stroke-opacity="0.29" stroke-width="0.8"/><path d="M152 128.9 156 136.4 160 143.9 163.4 150.3" stroke="#fff" stroke-opacity="0.31" stroke-width="1.2"/><path d="M163.4 150.3 167.4 157.7 171.4 165.2 175.4 172.6 179.4 180.1 179.6 180.5" stroke="#fff" stroke-opacity="0.21" stroke-width="1.0"/><path d="M179.6 180.5 183.6 187.9 187.6 195.4 191.6 202.9 194.4 208" stroke="#fff" stroke-opacity="0.32" stroke-width="1.0"/><path d="M139 105.6 143 113 144.8 116.3" stroke="#000" stroke-opacity="0.19" stroke-width="1.1"/><path d="M144.8 116.3 148.8 123.6 152.8 131 156.8 138.3 160.8 145.7 160.9 145.9" stroke="#000" stroke-opacity="0.20" stroke-width="1.0"/><path d="M160.9 145.9 164.9 153.2 168.9 160.5 172.9 167.9 176.9 175.2 178 177.3" stroke="#000" stroke-opacity="0.64" stroke-width="0.9"/><path d="M178 177.3 182 184.6 184.7 189.6" stroke="#000" stroke-opacity="0.74" stroke-width="0.9"/><path d="M184.7 189.6 188.7 197 192.7 204.3 196.7 211.7 200.7 219 203.7 224.5" stroke="#000" stroke-opacity="0.86" stroke-width="1.0"/><path d="M135.7 101.2 139.7 108.5 143.7 115.7 147.7 123 149.6 126.5" stroke="#fff" stroke-opacity="0.15" stroke-width="1.1"/><path d="M149.6 126.5 153.6 133.8 157.6 141.1 158 141.8" stroke="#fff" stroke-opacity="0.42" stroke-width="1.0"/><path d="M158 141.8 162 149.1 166 156.4 170 163.7 171.8 166.9" stroke="#fff" stroke-opacity="0.58" stroke-width="1.2"/><path d="M171.8 166.9 175.8 174.2 179.8 181.5 183.8 188.8 187.8 196.1 191.4 202.7" stroke="#fff" stroke-opacity="0.11" stroke-width="1.1"/><path d="M127.8 87.9 131.8 94.9 135.8 101.8 139.8 108.8 143.8 115.8 146.5 120.6" stroke="#000" stroke-opacity="0.07" stroke-width="1.0"/><path d="M146.5 120.6 150.5 127.5 152.2 130.5" stroke="#000" stroke-opacity="0.17" stroke-width="0.9"/><path d="M152.2 130.5 156.2 137.5 160.2 144.5 163.1 149.5" stroke="#000" stroke-opacity="0.16" stroke-width="0.9"/><path d="M163.1 149.5 167.1 156.5 171.1 163.4 173.1 167.1" stroke="#000" stroke-opacity="0.52" stroke-width="1.0"/><path d="M173.1 167.1 177.1 174.1 181.1 181.1 185.1 188.1 187.7 192.6" stroke="#000" stroke-opacity="0.68" stroke-width="1.0"/><path d="M187.7 192.6 191.7 199.6 195.7 206.5 199 212.4" stroke="#000" stroke-opacity="0.56" stroke-width="1.1"/><path d="M126.9 90.4 130.9 97.9 134.9 105.5 138.9 113 141.2 117.3" stroke="#000" stroke-opacity="0.13" stroke-width="1.0"/><path d="M141.2 117.3 145.2 124.9 149.2 132.4 153.2 140 157.2 147.5 158.4 149.8" stroke="#000" stroke-opacity="0.29" stroke-width="0.8"/><path d="M158.4 149.8 162.4 157.4 166.4 164.9 170.4 172.5 174.4 180 178 186.8" stroke="#000" stroke-opacity="0.92" stroke-width="1.0"/><path d="M178 186.8 182 194.4 186 202 190 209.5 194 217.1 195.2 219.4" stroke="#000" stroke-opacity="0.28" stroke-width="1.1"/><path d="M137.6 113.2 141.6 120.8 145.6 128.4 149.6 136 152.8 142" stroke="#fff" stroke-opacity="0.10" stroke-width="1.0"/><path d="M152.8 142 156.8 149.6 160.8 157.2 164.8 164.8 165.3 165.8" stroke="#fff" stroke-opacity="0.53" stroke-width="1.0"/><path d="M165.3 165.8 169.3 173.4 173.3 181 177.3 188.6 181.3 196.2 182 197.5" stroke="#fff" stroke-opacity="0.38" stroke-width="1.2"/><path d="M182 197.5 186 205.1 190 212.8 192.3 217.1" stroke="#fff" stroke-opacity="0.25" stroke-width="0.9"/><path d="M136.2 110.3 140.2 117.3 144.2 124.4 148.2 131.5 152.2 138.5 153.5 140.7" stroke="#000" stroke-opacity="0.22" stroke-width="1.2"/><path d="M153.5 140.7 157.5 147.8 161.5 154.9 165.5 161.9 167.6 165.8" stroke="#000" stroke-opacity="0.19" stroke-width="1.0"/><path d="M167.6 165.8 171.6 172.9 175.6 179.9 179.6 187 183.4 193.7" stroke="#000" stroke-opacity="1.00" stroke-width="0.9"/><path d="M183.4 193.7 187.4 200.8 190.6 206.4" stroke="#000" stroke-opacity="0.85" stroke-width="1.1"/><path d="M190.6 206.4 194.6 213.5 197.5 218.7" stroke="#000" stroke-opacity="0.53" stroke-width="1.2"/><path d="M131.4 102.9 135.4 109.7 139.4 116.6 140.9 119.1" stroke="#fff" stroke-opacity="0.17" stroke-width="1.0"/><path d="M140.9 119.1 144.9 126 148.9 132.8 152.9 139.7 155.7 144.4" stroke="#fff" stroke-opacity="0.34" stroke-width="1.1"/><path d="M155.7 144.4 159.7 151.2 163.7 158.1 167.7 164.9 168.2 165.9" stroke="#fff" stroke-opacity="0.68" stroke-width="1.1"/><path d="M168.2 165.9 172.2 172.7 176.2 179.6 178.4 183.3" stroke="#fff" stroke-opacity="0.54" stroke-width="1.0"/><path d="M178.4 183.3 182.4 190.1 186.4 197 190.4 203.8 191.8 206.3" stroke="#fff" stroke-opacity="0.71" stroke-width="1.0"/><path d="M143 125.7 147 132.7 151 139.6 155 146.5 159 153.4 162.6 159.7" stroke="#fff" stroke-opacity="0.15" stroke-width="1.1"/><path d="M162.6 159.7 166.6 166.6 170.6 173.5 174.6 180.5 176.2 183.2" stroke="#fff" stroke-opacity="0.58" stroke-width="1.2"/><path d="M176.2 183.2 180.2 190.1 184.2 197 186.4 200.9" stroke="#fff" stroke-opacity="0.96" stroke-width="1.1"/><path d="M186.4 200.9 190.4 207.8 194.4 214.7 198.4 221.7 198.8 222.4" stroke="#fff" stroke-opacity="0.53" stroke-width="1.1"/><path d="M137.5 119.1 141.5 126.2 144.8 132" stroke="#000" stroke-opacity="0.23" stroke-width="1.2"/><path d="M144.8 132 148.8 139.1 152.8 146.2 156.8 153.3 160.8 160.4 161.7 162" stroke="#000" stroke-opacity="0.20" stroke-width="1.1"/><path d="M161.7 162 165.7 169.1 168.5 174.1" stroke="#000" stroke-opacity="0.56" stroke-width="1.1"/><path d="M168.5 174.1 172.5 181.2 176.5 188.3 180.5 195.5 181.6 197.4" stroke="#000" stroke-opacity="0.39" stroke-width="1.0"/><path d="M181.6 197.4 185.6 204.5 189.6 211.6 193.6 218.7 195.8 222.6" stroke="#000" stroke-opacity="0.50" stroke-width="0.9"/><path d="M121.8 94.5 125.8 102.1 129.8 109.8 133.8 117.4 137.8 125.1 139.1 127.6" stroke="#000" stroke-opacity="0.06" stroke-width="1.2"/><path d="M139.1 127.6 143.1 135.3 147.1 143 149.2 147" stroke="#000" stroke-opacity="0.15" stroke-width="0.9"/><path d="M149.2 147 153.2 154.7 157.2 162.4 161.2 170.1 165.2 177.8 165.8 179" stroke="#000" stroke-opacity="0.20" stroke-width="0.9"/><path d="M165.8 179 169.8 186.7 173.8 194.3 177.8 202 181.8 209.7 184.6 215.1" stroke="#000" stroke-opacity="0.25" stroke-width="0.9"/><path d="M184.6 215.1 188.6 222.8 192.6 230.5 196.6 238.2 200.6 245.9 202.5 249.6" stroke="#000" stroke-opacity="0.33" stroke-width="0.9"/><path d="M147.6 141.5 151.6 148.6 155.6 155.7 159.6 162.8 163 168.8" stroke="#000" stroke-opacity="0.14" stroke-width="1.1"/><path d="M163 168.8 167 175.9 169.1 179.7" stroke="#000" stroke-opacity="0.25" stroke-width="1.0"/><path d="M169.1 179.7 173.1 186.9 177.1 194 181.1 201.1 185.1 208.2 186.5 210.6" stroke="#000" stroke-opacity="0.42" stroke-width="1.0"/><path d="M186.5 210.6 190.5 217.7 193.7 223.5" stroke="#000" stroke-opacity="0.72" stroke-width="0.9"/><path d="M138.5 126.7 142.5 133.7 146.5 140.7 150.5 147.7 154.5 154.7 157.3 159.6" stroke="#fff" stroke-opacity="0.24" stroke-width="1.0"/><path d="M157.3 159.6 161.3 166.6 165.3 173.6 169.3 180.6 170.8 183.3" stroke="#fff" stroke-opacity="0.63" stroke-width="0.9"/><path d="M170.8 183.3 174.8 190.3 178.8 197.3 179.7 198.8" stroke="#fff" stroke-opacity="0.68" stroke-width="1.1"/><path d="M179.7 198.8 183.7 205.8 187.7 212.8 191.7 219.8 192.3 220.9" stroke="#fff" stroke-opacity="0.49" stroke-width="1.1"/><path d="M138.7 131.4 142.7 138.8 146.7 146.2 150.7 153.6 153.5 158.8" stroke="#000" stroke-opacity="0.22" stroke-width="0.8"/><path d="M153.5 158.8 157.5 166.2 159.7 170.3" stroke="#000" stroke-opacity="0.13" stroke-width="0.9"/><path d="M159.7 170.3 163.7 177.8 165.1 180.3" stroke="#000" stroke-opacity="0.63" stroke-width="1.1"/><path d="M165.1 180.3 169.1 187.7 173.1 195.1 177.1 202.6 178.5 205.2" stroke="#000" stroke-opacity="0.34" stroke-width="0.9"/><path d="M178.5 205.2 182.5 212.7 186.5 220.1 190.5 227.5 194.5 234.9 197.6 240.5" stroke="#000" stroke-opacity="0.51" stroke-width="0.9"/><path d="M126.2 111.3 130.2 118.9 134.2 126.5 138.2 134.1 142.2 141.7 144.2 145.6" stroke="#fff" stroke-opacity="0.14" stroke-width="1.1"/><path d="M144.2 145.6 148.2 153.2 152.2 160.8 152.4 161.3" stroke="#fff" stroke-opacity="0.37" stroke-width="1.0"/><path d="M152.4 161.3 156.4 168.9 160.4 176.6 164.4 184.2 168 191" stroke="#fff" stroke-opacity="0.10" stroke-width="1.0"/><path d="M168 191 172 198.6 176 206.3 180 213.9 184 221.6 184.7 223.1" stroke="#fff" stroke-opacity="0.83" stroke-width="1.1"/><path d="M184.7 223.1 188.7 230.7 192.7 238.4 196.2 245" stroke="#fff" stroke-opacity="0.32" stroke-width="1.1"/><path d="M133.3 125.6 137.3 132.9 141.3 140.2 144.8 146.4" stroke="#fff" stroke-opacity="0.15" stroke-width="0.9"/><path d="M144.8 146.4 148.8 153.7 152.7 160.9" stroke="#fff" stroke-opacity="0.36" stroke-width="1.0"/><path d="M152.7 160.9 156.7 168.1 160.7 175.4 164.3 181.9" stroke="#fff" stroke-opacity="0.54" stroke-width="1.1"/><path d="M164.3 181.9 168.3 189.2 172.3 196.5 176.3 203.8 180.3 211.1 183 216" stroke="#fff" stroke-opacity="0.45" stroke-width="0.9"/><path d="M183 216 187 223.3 189.1 227" stroke="#fff" stroke-opacity="0.70" stroke-width="0.9"/><path d="M189.1 227 193.1 234.3 194.8 237.4" stroke="#fff" stroke-opacity="0.58" stroke-width="1.0"/><path d="M135.5 131.2 139.5 138.3 143.5 145.4 146.1 150" stroke="#000" stroke-opacity="0.07" stroke-width="1.1"/><path d="M146.1 150 150.1 157.1 154.1 164.2 158.1 171.3 161.2 176.9" stroke="#000" stroke-opacity="0.29" stroke-width="0.8"/><path d="M161.2 176.9 165.2 184 169.2 191.1 173.2 198.2 173.8 199.3" stroke="#000" stroke-opacity="0.32" stroke-width="1.0"/><path d="M173.8 199.3 177.8 206.4 181.8 213.5 182.2 214.1" stroke="#000" stroke-opacity="0.17" stroke-width="1.2"/><path d="M182.2 214.1 186.2 221.2 190.2 228.3 194.2 235.4 196.5 239.6" stroke="#000" stroke-opacity="0.84" stroke-width="1.1"/><path d="M133.7 129.2 137.7 136.1 141.7 143.1 145.7 150.1 146.3 151.2" stroke="#000" stroke-opacity="0.13" stroke-width="1.2"/><path d="M146.3 151.2 150.3 158.2 154.3 165.2 158.3 172.2 158.4 172.4" stroke="#000" stroke-opacity="0.49" stroke-width="1.1"/><path d="M158.4 172.4 162.4 179.4 166.4 186.4 169.6 192" stroke="#000" stroke-opacity="0.75" stroke-width="0.9"/><path d="M169.6 192 173.6 199 177.6 206 177.6 206" stroke="#000" stroke-opacity="0.92" stroke-width="0.9"/><path d="M177.6 206 181.6 213 185.6 220 189.6 226.9" stroke="#000" stroke-opacity="0.70" stroke-width="1.2"/><path d="M189.6 226.9 193.6 233.9 197.6 240.9 201.6 247.9 202.9 250.2" stroke="#000" stroke-opacity="0.96" stroke-width="1.1"/><path d="M128.4 122.3 132.4 129.3 136.4 136.3 140.4 143.3 144.3 150.2" stroke="#fff" stroke-opacity="0.07" stroke-width="0.9"/><path d="M144.3 150.2 148.3 157.2 152.3 164.2 156.3 171.2 160.3 178.2 161.2 179.6" stroke="#fff" stroke-opacity="0.37" stroke-width="1.1"/><path d="M161.2 179.6 165.2 186.6 168.9 193.2" stroke="#fff" stroke-opacity="0.23" stroke-width="0.9"/><path d="M168.9 193.2 172.9 200.2 176.9 207.2 180.9 214.2 181.6 215.4" stroke="#fff" stroke-opacity="0.78" stroke-width="0.9"/><path d="M181.6 215.4 185.6 222.4 188.1 226.9" stroke="#fff" stroke-opacity="0.54" stroke-width="1.0"/><path d="M188.1 226.9 192.1 233.9 196.1 240.9 200.1 247.9 204.1 255 205.4 257.3" stroke="#fff" stroke-opacity="0.99" stroke-width="1.0"/><path d="M131.9 129.2 135.9 135.9 139.9 142.6 143.9 149.4 147.9 156.1 149.9 159.6" stroke="#000" stroke-opacity="0.22" stroke-width="1.1"/><path d="M149.9 159.6 153.9 166.4 157.9 173.2 161.9 179.9 165.9 186.7 169.7 193" stroke="#000" stroke-opacity="0.69" stroke-width="0.9"/><path d="M169.7 193 173.7 199.8 177.7 206.5 180.4 211.2" stroke="#000" stroke-opacity="0.98" stroke-width="1.2"/><path d="M180.4 211.2 184.4 217.9 188.4 224.7 190.6 228.4" stroke="#000" stroke-opacity="0.33" stroke-width="1.1"/><path d="M190.6 228.4 194.6 235.2 196.7 238.7" stroke="#000" stroke-opacity="0.98" stroke-width="0.9"/><path d="M128.6 128.1 132.6 135.3 136.6 142.4 137.1 143.3" stroke="#fff" stroke-opacity="0.10" stroke-width="1.0"/><path d="M137.1 143.3 141.1 150.5 145.1 157.7 149.1 165 152.1 170.3" stroke="#fff" stroke-opacity="0.27" stroke-width="1.0"/><path d="M152.1 170.3 156.1 177.5 160.1 184.8 164.1 192 166.9 197.1" stroke="#fff" stroke-opacity="0.60" stroke-width="1.2"/><path d="M166.9 197.1 170.9 204.3 174.9 211.6 178.9 218.8 181.3 223.1" stroke="#fff" stroke-opacity="0.15" stroke-width="1.0"/><path d="M181.3 223.1 185.3 230.3 189.3 237.6 193.3 244.8 197.3 252 199.8 256.4" stroke="#fff" stroke-opacity="0.73" stroke-width="0.9"/><path d="M127.7 127.6 131.7 134.4 132.9 136.6" stroke="#000" stroke-opacity="0.09" stroke-width="1.2"/><path d="M132.9 136.6 136.9 143.4 140.9 150.3 144.9 157.1 148.9 164 152.4 169.9" stroke="#000" stroke-opacity="0.09" stroke-width="1.2"/><path d="M152.4 169.9 156.4 176.7 158.5 180.4" stroke="#000" stroke-opacity="0.47" stroke-width="0.9"/><path d="M158.5 180.4 162.5 187.2 166.5 194.1 170.5 201 171.1 202.1" stroke="#000" stroke-opacity="0.87" stroke-width="1.1"/><path d="M171.1 202.1 175.1 209 179.1 215.8 181.4 219.8" stroke="#000" stroke-opacity="0.77" stroke-width="1.0"/><path d="M181.4 219.8 185.4 226.7 189.4 233.5 193.4 240.4 194.4 242.1" stroke="#000" stroke-opacity="0.15" stroke-width="1.2"/><path d="M134.7 142 138.7 149 142.7 156 144.2 158.5" stroke="#fff" stroke-opacity="0.13" stroke-width="1.2"/><path d="M144.2 158.5 148.2 165.5 152.2 172.5 152.5 173.1" stroke="#fff" stroke-opacity="0.10" stroke-width="0.9"/><path d="M152.5 173.1 156.5 180.1 160.1 186.3" stroke="#fff" stroke-opacity="0.59" stroke-width="1.2"/><path d="M160.1 186.3 164.1 193.3 165.5 195.8" stroke="#fff" stroke-opacity="0.57" stroke-width="0.9"/><path d="M165.5 195.8 169.5 202.8 172.2 207.6" stroke="#fff" stroke-opacity="0.85" stroke-width="0.9"/><path d="M172.2 207.6 176.2 214.6 177.4 216.7" stroke="#fff" stroke-opacity="0.32" stroke-width="1.1"/><path d="M177.4 216.7 181.4 223.7 184.9 229.8" stroke="#fff" stroke-opacity="1.00" stroke-width="1.0"/><path d="M184.9 229.8 188.9 236.8 192.9 243.8 196.9 250.8 200.9 257.8 202.2 260" stroke="#fff" stroke-opacity="0.83" stroke-width="1.1"/><path d="M140.5 158.8 144.5 166.4 148.5 174 152.5 181.6 156.5 189.3 160.1 196.1" stroke="#000" stroke-opacity="0.32" stroke-width="0.8"/><path d="M160.1 196.1 164.1 203.7 168.1 211.3 172.1 218.9 173.3 221.3" stroke="#000" stroke-opacity="0.37" stroke-width="1.2"/><path d="M173.3 221.3 177.3 228.9 179.6 233.3" stroke="#000" stroke-opacity="0.58" stroke-width="0.9"/><path d="M179.6 233.3 183.6 240.9 187.6 248.6 191.6 256.2 194.1 261" stroke="#000" stroke-opacity="0.24" stroke-width="0.9"/><path d="M128.9 137.6 132.9 144.7 136.9 151.9 137.4 152.9" stroke="#fff" stroke-opacity="0.12" stroke-width="1.2"/><path d="M137.4 152.9 141.4 160.1 142.8 162.5" stroke="#fff" stroke-opacity="0.13" stroke-width="1.0"/><path d="M142.8 162.5 146.8 169.6 150.8 176.8 154.8 184 157.4 188.9" stroke="#fff" stroke-opacity="0.44" stroke-width="0.8"/><path d="M157.4 188.9 161.4 196 165.4 203.2 169.4 210.4 173.4 217.6 175.6 221.6" stroke="#fff" stroke-opacity="0.46" stroke-width="0.9"/><path d="M175.6 221.6 179.6 228.8 183.6 236 187.6 243.1 191 249.1" stroke="#fff" stroke-opacity="0.39" stroke-width="0.8"/><path d="M191 249.1 195 256.3 196.4 259" stroke="#fff" stroke-opacity="0.14" stroke-width="1.2"/><path d="M128.4 138.6 132.4 145.8 136.4 152.9 136.6 153.1" stroke="#000" stroke-opacity="0.06" stroke-width="0.8"/><path d="M136.6 153.1 140.6 160.3 144.6 167.5 147.8 173.2" stroke="#000" stroke-opacity="0.14" stroke-width="1.1"/><path d="M147.8 173.2 151.8 180.4 155.8 187.6 159.8 194.8 163.8 202 164.3 202.9" stroke="#000" stroke-opacity="0.53" stroke-width="0.9"/><path d="M164.3 202.9 168.3 210.1 172.3 217.3 176.3 224.5 180.3 231.7 181.9 234.6" stroke="#000" stroke-opacity="0.98" stroke-width="1.2"/><path d="M181.9 234.6 185.9 241.8 189.9 249 191.2 251.4" stroke="#000" stroke-opacity="0.74" stroke-width="0.9"/><path d="M133.9 150.2 137.9 157.3 140.8 162.3" stroke="#fff" stroke-opacity="0.18" stroke-width="1.2"/><path d="M140.8 162.3 144.8 169.4 146.1 171.8" stroke="#fff" stroke-opacity="0.24" stroke-width="1.2"/><path d="M146.1 171.8 150.1 178.8 154.1 185.9 158.1 192.9 162.1 199.9 163.7 202.6" stroke="#fff" stroke-opacity="0.12" stroke-width="1.2"/><path d="M163.7 202.6 167.7 209.7 170.6 214.8" stroke="#fff" stroke-opacity="0.23" stroke-width="1.0"/><path d="M170.6 214.8 174.6 221.8 178.6 228.9 182.6 235.9 186.6 243 188.2 245.8" stroke="#fff" stroke-opacity="0.52" stroke-width="1.1"/><path d="M188.2 245.8 192.2 252.9 193.3 254.9" stroke="#fff" stroke-opacity="0.93" stroke-width="1.1"/><path d="M124.9 136.8 128.9 143.6 132.9 150.4 136.9 157.3 139.8 162.3" stroke="#000" stroke-opacity="0.12" stroke-width="0.9"/><path d="M139.8 162.3 143.8 169.1 147.8 176 151.8 182.9 153.1 185.1" stroke="#000" stroke-opacity="0.36" stroke-width="1.1"/><path d="M153.1 185.1 157.1 191.9 161.1 198.8 161.8 200" stroke="#000" stroke-opacity="0.58" stroke-width="1.0"/><path d="M161.8 200 165.8 206.9 169.8 213.8 173.8 220.7 177.4 227" stroke="#000" stroke-opacity="0.39" stroke-width="1.1"/><path d="M177.4 227 181.4 233.9 185.4 240.8 189.4 247.7 193.4 254.6 197.3 261.2" stroke="#000" stroke-opacity="0.87" stroke-width="1.0"/><path d="M133.1 154.8 137.1 162.1 141.1 169.4 143.3 173.5" stroke="#fff" stroke-opacity="0.09" stroke-width="1.1"/><path d="M143.3 173.5 147.3 180.8 151.3 188.1 155.3 195.4 156.7 197.9" stroke="#fff" stroke-opacity="0.10" stroke-width="0.8"/><path d="M156.7 197.9 160.7 205.3 164.7 212.6 164.7 212.7" stroke="#fff" stroke-opacity="0.46" stroke-width="1.0"/><path d="M164.7 212.7 168.7 220 172.7 227.3 176.7 234.6 177.9 236.8" stroke="#fff" stroke-opacity="0.70" stroke-width="0.9"/><path d="M177.9 236.8 181.9 244.1 185.9 251.4 189.9 258.7 190 259" stroke="#fff" stroke-opacity="0.97" stroke-width="1.2"/><path d="M190 259 194 266.3 198 273.6 202 280.9 206 288.3 207.4 290.8" stroke="#fff" stroke-opacity="0.34" stroke-width="1.2"/><path d="M133 154.9 137 161.7 141 168.5 145 175.3 146.6 178" stroke="#000" stroke-opacity="0.08" stroke-width="0.9"/><path d="M146.6 178 150.6 184.8 154.6 191.6 158.6 198.4 160.9 202.4" stroke="#000" stroke-opacity="0.48" stroke-width="1.1"/><path d="M160.9 202.4 164.9 209.3 168.9 216.1 172.9 222.9 176.9 229.7 177.3 230.4" stroke="#000" stroke-opacity="0.12" stroke-width="0.9"/><path d="M177.3 230.4 181.3 237.2 185.3 244 189.3 250.9 193.3 257.7 196.7 263.4" stroke="#000" stroke-opacity="0.92" stroke-width="1.0"/><path d="M137.3 165.1 141.3 172 145.3 178.9 148.9 185.1" stroke="#fff" stroke-opacity="0.20" stroke-width="1.2"/><path d="M148.9 185.1 152.9 192.1 156.9 199 160.7 205.6" stroke="#fff" stroke-opacity="0.33" stroke-width="0.9"/><path d="M160.7 205.6 164.7 212.5 168.7 219.4 172.7 226.3 176.7 233.3 178.7 236.7" stroke="#fff" stroke-opacity="0.51" stroke-width="1.0"/><path d="M178.7 236.7 182.7 243.6 186.7 250.6 187.1 251.4" stroke="#fff" stroke-opacity="0.97" stroke-width="1.2"/><path d="M187.1 251.4 191.1 258.3 195.1 265.2 199.1 272.2 203.1 279.1 203.6 279.8" stroke="#fff" stroke-opacity="0.47" stroke-width="0.9"/><path d="M136.7 168.4 140.7 175.8 144.7 183.1 148.7 190.5 152.7 197.9 155.4 203" stroke="#000" stroke-opacity="0.34" stroke-width="1.1"/><path d="M155.4 203 159.4 210.3 163.4 217.7 167.4 225.1 170.3 230.4" stroke="#000" stroke-opacity="0.28" stroke-width="1.0"/><path d="M170.3 230.4 174.3 237.8 178.3 245.2 182.3 252.5 186.3 259.9 187.7 262.4" stroke="#000" stroke-opacity="0.49" stroke-width="1.1"/><path d="M187.7 262.4 191.7 269.8 195.7 277.2 199.7 284.6 203.7 292 205.4 295.2" stroke="#000" stroke-opacity="0.75" stroke-width="0.9"/><path d="M141.3 176 145.3 182.9 149.1 189.4" stroke="#fff" stroke-opacity="0.34" stroke-width="0.9"/><path d="M149.1 189.4 153.1 196.4 157.1 203.3 161.1 210.2 165.1 217.1 168.8 223.4" stroke="#fff" stroke-opacity="0.33" stroke-width="1.0"/><path d="M168.8 223.4 172.8 230.4 176.8 237.3 180.8 244.2 184.8 251.1 186.3 253.7" stroke="#fff" stroke-opacity="0.19" stroke-width="1.2"/><path d="M186.3 253.7 190.3 260.7 194.3 267.6 198.1 274.2" stroke="#fff" stroke-opacity="0.18" stroke-width="0.9"/><path d="M137.8 176.8 141.8 184.4 145.8 192 149.8 199.6 153.8 207.2 154 207.5" stroke="#000" stroke-opacity="0.29" stroke-width="1.2"/><path d="M154 207.5 158 215.1 162 222.7 166 230.3 170 238 173.2 244.2" stroke="#000" stroke-opacity="0.12" stroke-width="1.2"/><path d="M173.2 244.2 177.2 251.8 181.2 259.4 185.2 267.1 189.2 274.7 193.1 282" stroke="#000" stroke-opacity="0.47" stroke-width="1.1"/><path d="M128.5 159 132.5 165.8 136.5 172.6 138.2 175.5" stroke="#fff" stroke-opacity="0.12" stroke-width="0.9"/><path d="M138.2 175.5 142.2 182.4 144.7 186.6" stroke="#fff" stroke-opacity="0.13" stroke-width="0.9"/><path d="M144.7 186.6 148.7 193.5 151.8 198.8" stroke="#fff" stroke-opacity="0.40" stroke-width="1.2"/><path d="M151.8 198.8 155.8 205.6 159.8 212.5 163.8 219.4 166.9 224.7" stroke="#fff" stroke-opacity="0.59" stroke-width="1.1"/><path d="M166.9 224.7 170.9 231.5 174.9 238.4 177.5 242.9" stroke="#fff" stroke-opacity="0.53" stroke-width="0.9"/><path d="M177.5 242.9 181.5 249.7 182.8 252" stroke="#fff" stroke-opacity="0.84" stroke-width="1.0"/><path d="M182.8 252 186.8 258.9 190.8 265.7 194.8 272.6 196.4 275.4" stroke="#fff" stroke-opacity="0.50" stroke-width="1.1"/><path d="M119.3 147 123.3 154.3 127.3 161.8 131.3 169.2 135.3 176.7 136.8 179.5" stroke="#000" stroke-opacity="0.07" stroke-width="1.0"/><path d="M136.8 179.5 140.8 186.9 144.8 194.4 146 196.7" stroke="#000" stroke-opacity="0.21" stroke-width="1.0"/><path d="M146 196.7 150 204.2 152.3 208.6" stroke="#000" stroke-opacity="0.08" stroke-width="1.2"/><path d="M152.3 208.6 156.3 216.1 157.8 218.9" stroke="#000" stroke-opacity="0.55" stroke-width="1.0"/><path d="M157.8 218.9 161.8 226.4 165.8 233.9 169.8 241.4 173.8 248.9 177 254.9" stroke="#000" stroke-opacity="0.43" stroke-width="1.0"/><path d="M177 254.9 181 262.4 185 269.9 188.1 275.7" stroke="#000" stroke-opacity="0.32" stroke-width="1.1"/><path d="M188.1 275.7 192.1 283.2 196.1 290.8 198.4 295.1" stroke="#000" stroke-opacity="0.53" stroke-width="0.8"/><path d="M138.9 185.6 142.9 193.1 144.9 196.9" stroke="#fff" stroke-opacity="0.12" stroke-width="1.1"/><path d="M144.9 196.9 148.9 204.4 152.9 211.8 156.9 219.3 160.9 226.8 164.9 234.2" stroke="#fff" stroke-opacity="0.10" stroke-width="1.0"/><path d="M164.9 234.2 168.9 241.7 171.1 245.9" stroke="#fff" stroke-opacity="0.50" stroke-width="1.1"/><path d="M171.1 245.9 175.1 253.4 179.1 260.9 183.1 268.4 185.6 273" stroke="#fff" stroke-opacity="0.67" stroke-width="1.0"/><path d="M185.6 273 189.6 280.5 193.6 287.9 197.6 295.4 201.2 302.2" stroke="#fff" stroke-opacity="0.65" stroke-width="1.0"/><path d="M137.4 183.1 141.4 190.2 145.4 197.3 149.4 204.4 153.4 211.5 156.2 216.5" stroke="#000" stroke-opacity="0.30" stroke-width="1.1"/><path d="M156.2 216.5 160.2 223.5 164.2 230.6 168.2 237.7 171.9 244.2" stroke="#000" stroke-opacity="0.78" stroke-width="0.9"/><path d="M171.9 244.2 175.9 251.3 179.9 258.4 183.9 265.5 187.9 272.6 189.6 275.7" stroke="#000" stroke-opacity="0.13" stroke-width="1.2"/><path d="M189.6 275.7 193.6 282.8 197.6 289.9 198.1 290.7" stroke="#000" stroke-opacity="0.23" stroke-width="1.0"/><path d="M138.4 188.4 142.4 195.7 146.4 202.9 150.4 210.2 151.9 212.9" stroke="#fff" stroke-opacity="0.31" stroke-width="1.1"/><path d="M151.9 212.9 155.9 220.2 159.9 227.4 163.9 234.7 165.5 237.6" stroke="#fff" stroke-opacity="0.12" stroke-width="1.0"/><path d="M165.5 237.6 169.5 244.9 173.5 252.2 177.5 259.4 181 265.9" stroke="#fff" stroke-opacity="0.75" stroke-width="0.8"/><path d="M181 265.9 185 273.2 189 280.4 189.3 280.9" stroke="#fff" stroke-opacity="0.61" stroke-width="1.0"/><path d="M189.3 280.9 193.3 288.1 197.3 295.4 201.3 302.6 205.3 309.9 208.4 315.6" stroke="#fff" stroke-opacity="0.93" stroke-width="1.1"/><path d="M137.1 188 141.1 195.2 145.1 202.4 148.3 208.3" stroke="#000" stroke-opacity="0.21" stroke-width="1.1"/><path d="M154 218.6 158 225.8 161.1 231.3" stroke="#000" stroke-opacity="0.26" stroke-width="1.0"/><path d="M161.1 231.3 165.1 238.6 169.1 245.8 170.6 248.5" stroke="#000" stroke-opacity="0.26" stroke-width="1.1"/><path d="M170.6 248.5 174.6 255.7 178.6 262.9 182.6 270.2 185.1 274.7" stroke="#000" stroke-opacity="0.44" stroke-width="1.0"/><path d="M185.1 274.7 189.1 281.9 193.1 289.2 197.1 296.4 197.9 297.7" stroke="#000" stroke-opacity="0.44" stroke-width="1.1"/><path d="M130.4 176.3 134.4 183.1 138.4 189.9 142.4 196.7 144.6 200.4" stroke="#fff" stroke-opacity="0.08" stroke-width="1.0"/><path d="M144.6 200.4 148.6 207.2 152.6 214 156.6 220.8 158.4 223.9" stroke="#fff" stroke-opacity="0.17" stroke-width="0.8"/><path d="M158.4 223.9 162.4 230.7 164.8 234.8" stroke="#fff" stroke-opacity="0.37" stroke-width="1.1"/><path d="M164.8 234.8 168.8 241.6 172.8 248.4 176.8 255.2 178.9 258.8" stroke="#fff" stroke-opacity="0.23" stroke-width="1.0"/><path d="M178.9 258.8 182.9 265.6 185.1 269.4" stroke="#fff" stroke-opacity="0.60" stroke-width="1.2"/><path d="M185.1 269.4 189.1 276.2 193.1 283 196.6 289" stroke="#fff" stroke-opacity="0.61" stroke-width="1.0"/><path d="M126.6 173.1 130.6 180.2 134.6 187.4 136.8 191.3" stroke="#000" stroke-opacity="0.08" stroke-width="1.2"/><path d="M136.8 191.3 140.8 198.5 144.8 205.7 148.8 212.9 149.8 214.6" stroke="#000" stroke-opacity="0.24" stroke-width="1.2"/><path d="M149.8 214.6 153.8 221.8 157.8 229 161.8 236.2 165.8 243.4 167.3 246.2" stroke="#000" stroke-opacity="0.48" stroke-width="1.2"/><path d="M167.3 246.2 171.3 253.4 175.3 260.6 178.5 266.5" stroke="#000" stroke-opacity="0.19" stroke-width="0.8"/><path d="M178.5 266.5 182.5 273.7 186.5 280.9 190.5 288.1 194.5 295.3 198.4 302.3" stroke="#000" stroke-opacity="0.32" stroke-width="0.9"/><path d="M130.4 180 134.4 186.8 138.4 193.7 142.4 200.5 146.4 207.4 148.4 210.9" stroke="#fff" stroke-opacity="0.10" stroke-width="0.9"/><path d="M148.4 210.9 152.4 217.7 156.4 224.6 159.5 230" stroke="#fff" stroke-opacity="0.32" stroke-width="1.0"/><path d="M159.5 230 163.5 236.8 167.5 243.7 171.5 250.5 175.5 257.4 178.2 262" stroke="#fff" stroke-opacity="0.61" stroke-width="0.9"/><path d="M178.2 262 182.2 268.8 186.2 275.7 190.2 282.6 194.2 289.4 196.5 293.3" stroke="#fff" stroke-opacity="0.61" stroke-width="1.0"/><path d="M136.7 195 140.7 202.2 143.7 207.7" stroke="#000" stroke-opacity="0.09" stroke-width="0.9"/><path d="M143.7 207.7 147.7 214.9 151.7 222.2 152.6 223.8" stroke="#000" stroke-opacity="0.36" stroke-width="1.1"/><path d="M152.6 223.8 156.6 231 160 237.2" stroke="#000" stroke-opacity="0.15" stroke-width="0.9"/><path d="M160 237.2 164 244.4 168 251.7 168.4 252.4" stroke="#000" stroke-opacity="0.17" stroke-width="0.8"/><path d="M168.4 252.4 172.4 259.7 176.4 266.9 180.4 274.2 184.4 281.4 186.9 285.9" stroke="#000" stroke-opacity="0.45" stroke-width="1.1"/><path d="M186.9 285.9 190.9 293.1 194.9 300.4 198.9 307.6 202.9 314.9 205.2 319" stroke="#000" stroke-opacity="0.95" stroke-width="1.1"/><path d="M135.3 193 139.3 199.9 143.3 206.9 147.3 213.8 151.3 220.7 154.8 226.8" stroke="#fff" stroke-opacity="0.10" stroke-width="1.1"/><path d="M154.8 226.8 158.8 233.7 162.8 240.7 165.4 245.1" stroke="#fff" stroke-opacity="0.70" stroke-width="1.0"/><path d="M165.4 245.1 169.4 252.1 173.4 259 177.4 266 178.9 268.6" stroke="#fff" stroke-opacity="0.25" stroke-width="1.0"/><path d="M178.9 268.6 182.9 275.5 186.3 281.4" stroke="#fff" stroke-opacity="0.73" stroke-width="1.0"/><path d="M186.3 281.4 190.3 288.3 191.9 291.1" stroke="#fff" stroke-opacity="0.19" stroke-width="1.2"/><path d="M134.3 192.7 138.3 199.5 142.3 206.3 146.3 213.1 150.3 219.9 152.3 223.3" stroke="#000" stroke-opacity="0.26" stroke-width="0.8"/><path d="M152.3 223.3 156.3 230.1 160.3 236.9 164.3 243.7 165 245" stroke="#000" stroke-opacity="0.19" stroke-width="0.8"/><path d="M165 245 169 251.9 173 258.7 177 265.5 181 272.3 183 275.7" stroke="#000" stroke-opacity="0.56" stroke-width="0.8"/><path d="M183 275.7 187 282.5 190.5 288.3" stroke="#000" stroke-opacity="0.40" stroke-width="1.1"/><path d="M190.5 288.3 194.5 295.1 198.5 302 202.5 308.8 206.5 315.6 207.4 317.2" stroke="#000" stroke-opacity="0.43" stroke-width="1.0"/><path d="M124.4 178.8 128.4 185.8 130.5 189.5" stroke="#fff" stroke-opacity="0.07" stroke-width="1.0"/><path d="M130.5 189.5 134.5 196.6 138.5 203.6 142.5 210.6 143.2 211.8" stroke="#fff" stroke-opacity="0.09" stroke-width="0.9"/><path d="M143.2 211.8 147.2 218.8 150.5 224.7" stroke="#fff" stroke-opacity="0.06" stroke-width="0.9"/><path d="M150.5 224.7 154.5 231.7 156.9 236" stroke="#fff" stroke-opacity="0.31" stroke-width="1.1"/><path d="M156.9 236 160.9 243 162.4 245.6" stroke="#fff" stroke-opacity="0.57" stroke-width="0.9"/><path d="M162.4 245.6 166.4 252.7 170.4 259.7 174.4 266.8 178.4 273.9 182.1 280.5" stroke="#fff" stroke-opacity="0.52" stroke-width="0.9"/><path d="M182.1 280.5 186.1 287.5 187.5 290" stroke="#fff" stroke-opacity="0.83" stroke-width="0.9"/><path d="M187.5 290 191.5 297.1 195.5 304.1 199.5 311.2 200.6 313.1" stroke="#fff" stroke-opacity="0.11" stroke-width="1.1"/><path d="M131 190.8 135 197.5 136.6 200.2" stroke="#000" stroke-opacity="0.14" stroke-width="1.1"/><path d="M136.6 200.2 140.6 207 144.6 213.7 148.6 220.5 152.6 227.2 153.2 228.2" stroke="#000" stroke-opacity="0.24" stroke-width="0.9"/><path d="M153.2 228.2 157.2 235 161.2 241.7 165.2 248.5 169.2 255.3 172.3 260.4" stroke="#000" stroke-opacity="0.69" stroke-width="1.1"/><path d="M172.3 260.4 176.3 267.1 180.3 273.9 183.5 279.4" stroke="#000" stroke-opacity="0.52" stroke-width="1.2"/><path d="M183.5 279.4 187.5 286.2 191.5 292.9 193.7 296.7" stroke="#000" stroke-opacity="0.98" stroke-width="1.1"/><path d="M132 198 136 205.4 140 212.8 143.6 219.5" stroke="#fff" stroke-opacity="0.14" stroke-width="1.2"/><path d="M143.6 219.5 147.6 227 151.6 234.5 155.6 241.9 157.1 244.8" stroke="#fff" stroke-opacity="0.29" stroke-width="1.0"/><path d="M157.1 244.8 161.1 252.2 165.1 259.7 169.1 267.2 173.1 274.6 173.7 275.7" stroke="#fff" stroke-opacity="0.48" stroke-width="0.8"/><path d="M173.7 275.7 177.7 283.2 179.7 286.9" stroke="#fff" stroke-opacity="0.35" stroke-width="1.1"/><path d="M179.7 286.9 183.7 294.4 187.7 301.9 191.7 309.3 193.8 313.3" stroke="#fff" stroke-opacity="0.94" stroke-width="1.2"/><path d="M135.8 206.8 139.8 214.2 143.8 221.6 147.8 229 151.8 236.4 153.5 239.5" stroke="#000" stroke-opacity="0.29" stroke-width="0.9"/><path d="M153.5 239.5 157.5 246.9 161.5 254.3 165.5 261.7 169.5 269.2 172.6 275" stroke="#000" stroke-opacity="0.59" stroke-width="0.8"/><path d="M172.6 275 176.6 282.4 177.7 284.4" stroke="#000" stroke-opacity="0.41" stroke-width="1.1"/><path d="M177.7 284.4 181.7 291.8 185.7 299.2 188.6 304.7" stroke="#000" stroke-opacity="0.99" stroke-width="0.8"/><path d="M188.6 304.7 192.6 312.1 196.6 319.5 200.6 326.9 203.3 331.9" stroke="#000" stroke-opacity="0.56" stroke-width="1.0"/><path d="M125.5 188.7 129.5 195.7 132.3 200.7" stroke="#fff" stroke-opacity="0.08" stroke-width="1.0"/><path d="M138.5 211.6 142.5 218.7 145.1 223.2" stroke="#fff" stroke-opacity="0.19" stroke-width="0.9"/><path d="M145.1 223.2 149.1 230.2 153.1 237.2 156.3 243" stroke="#fff" stroke-opacity="0.19" stroke-width="0.9"/><path d="M156.3 243 160.3 250 164.3 257.1 168.3 264.1 172.3 271.2 174.2 274.5" stroke="#fff" stroke-opacity="0.17" stroke-width="0.9"/><path d="M174.2 274.5 178.2 281.5 182.2 288.6 186.2 295.6 188.2 299.2" stroke="#fff" stroke-opacity="0.93" stroke-width="0.8"/><path d="M188.2 299.2 192.2 306.2 196.2 313.3 200.2 320.3 201.4 322.4" stroke="#fff" stroke-opacity="0.74" stroke-width="1.1"/><path d="M141.5 223.9 145.5 231.6 149.5 239.3 153.5 247 155.9 251.6" stroke="#000" stroke-opacity="0.36" stroke-width="0.9"/><path d="M155.9 251.6 159.9 259.3 163.6 266.4" stroke="#000" stroke-opacity="0.52" stroke-width="1.1"/><path d="M163.6 266.4 167.6 274.1 171.6 281.8 175.6 289.5 177.4 292.9" stroke="#000" stroke-opacity="0.68" stroke-width="0.8"/><path d="M177.4 292.9 181.4 300.6 185.4 308.3 189 315.3" stroke="#000" stroke-opacity="0.96" stroke-width="0.9"/><path d="M189 315.3 193 323 197 330.7 201 338.4 205 346.1 207.8 351.4" stroke="#000" stroke-opacity="0.30" stroke-width="0.9"/><path d="M136.1 214.7 140.1 222.2 144.1 229.8 148.1 237.3 152.1 244.9 154.7 249.8" stroke="#fff" stroke-opacity="0.30" stroke-width="0.9"/><path d="M154.7 249.8 158.7 257.4 161.8 263.1" stroke="#fff" stroke-opacity="0.08" stroke-width="0.9"/><path d="M161.8 263.1 165.8 270.7 169.1 277" stroke="#fff" stroke-opacity="0.53" stroke-width="0.9"/><path d="M169.1 277 173.1 284.6 177.1 292.2 181.1 299.7 183 303.2" stroke="#fff" stroke-opacity="0.17" stroke-width="0.9"/><path d="M183 303.2 187 310.8 191 318.3 192.6 321.4" stroke="#fff" stroke-opacity="0.83" stroke-width="1.0"/><path d="M125 197 129 204.7 133 212.3 137 220 141 227.7 144.2 233.9" stroke="#000" stroke-opacity="0.12" stroke-width="1.0"/><path d="M144.2 233.9 148.2 241.6 152.2 249.3 156.2 257 160.2 264.7 161 266.1" stroke="#000" stroke-opacity="0.42" stroke-width="0.8"/><path d="M161 266.1 165 273.8 168.1 279.8" stroke="#000" stroke-opacity="0.15" stroke-width="1.0"/><path d="M168.1 279.8 172.1 287.5 175 293.2" stroke="#000" stroke-opacity="0.74" stroke-width="1.0"/><path d="M175 293.2 179 300.9 183 308.6 187 316.3 191 324 191.4 324.7" stroke="#000" stroke-opacity="0.72" stroke-width="0.9"/><path d="M138.5 219.7 142.5 226.5 146.5 233.2 150.5 240 154.5 246.8 156.8 250.7" stroke="#fff" stroke-opacity="0.36" stroke-width="1.0"/><path d="M156.8 250.7 160.8 257.5 164.8 264.3 168.8 271.1 172 276.4" stroke="#fff" stroke-opacity="0.63" stroke-width="1.0"/><path d="M172 276.4 176 283.2 179.3 288.9" stroke="#fff" stroke-opacity="0.87" stroke-width="1.1"/><path d="M179.3 288.9 183.3 295.7 187.3 302.4 189.3 305.8" stroke="#fff" stroke-opacity="0.99" stroke-width="1.1"/><path d="M189.3 305.8 193.3 312.5 195.3 315.9" stroke="#fff" stroke-opacity="0.25" stroke-width="1.1"/><path d="M133.8 215.2 137.8 222.1 139.5 225.2" stroke="#000" stroke-opacity="0.14" stroke-width="1.0"/><path d="M139.5 225.2 143.5 232.1 146.4 237.2" stroke="#000" stroke-opacity="0.13" stroke-width="0.9"/><path d="M146.4 237.2 150.4 244.2 154.4 251.2 156.4 254.7" stroke="#000" stroke-opacity="0.38" stroke-width="0.9"/><path d="M156.4 254.7 160.4 261.6 164.4 268.6 168.4 275.6 172.4 282.6 173 283.7" stroke="#000" stroke-opacity="0.51" stroke-width="1.1"/><path d="M173 283.7 177 290.7 181 297.6 185 304.6 189 311.6 192.7 318.1" stroke="#000" stroke-opacity="0.57" stroke-width="1.2"/><path d="M129.3 211.2 133.3 218.6 137.3 226.1 141.3 233.5 142.8 236.3" stroke="#fff" stroke-opacity="0.12" stroke-width="1.1"/><path d="M142.8 236.3 146.8 243.8 148.5 246.9" stroke="#fff" stroke-opacity="0.18" stroke-width="1.2"/><path d="M148.5 246.9 152.5 254.4 156.5 261.8 160.5 269.3 162.8 273.6" stroke="#fff" stroke-opacity="0.30" stroke-width="0.9"/><path d="M162.8 273.6 166.8 281.1 170.8 288.5 172.6 291.9" stroke="#fff" stroke-opacity="0.16" stroke-width="0.8"/><path d="M172.6 291.9 176.6 299.4 180.6 306.9 184.6 314.3 188.6 321.8 192.5 329.1" stroke="#fff" stroke-opacity="0.26" stroke-width="1.1"/><path d="M118.9 193.4 122.9 200.3 126.9 207.2 130.9 214.3 134.9 221.3 138.7 228" stroke="#000" stroke-opacity="0.07" stroke-width="1.1"/><path d="M138.7 228 142.7 235 146.7 242.1 150.7 249.1 151 249.6" stroke="#000" stroke-opacity="0.23" stroke-width="1.0"/><path d="M151 249.6 155 256.7 159 263.7 160.7 266.8" stroke="#000" stroke-opacity="0.53" stroke-width="0.9"/><path d="M160.7 266.8 164.7 273.8 168.7 280.9 172.3 287.2" stroke="#000" stroke-opacity="0.24" stroke-width="1.1"/><path d="M172.3 287.2 176.3 294.2 178.5 298" stroke="#000" stroke-opacity="0.77" stroke-width="1.0"/><path d="M178.5 298 182.5 305.1 186.5 312.2 190.5 319.2 194.5 326.3 195.6 328.3" stroke="#000" stroke-opacity="0.75" stroke-width="1.2"/><path d="M133.7 223.7 137.7 231.2 141.7 238.7 145.7 246.2 149.7 253.6 152.8 259.4" stroke="#fff" stroke-opacity="0.13" stroke-width="1.2"/><path d="M152.8 259.4 156.8 266.8 160.8 274.3 164.8 281.8 168.8 289.3 169.5 290.7" stroke="#fff" stroke-opacity="0.33" stroke-width="1.0"/><path d="M169.5 290.7 173.5 298.2 177.5 305.7 181.5 313.2 185.5 320.7 188.3 326" stroke="#fff" stroke-opacity="0.17" stroke-width="1.2"/><path d="M188.3 326 192.3 333.5 193.7 336.1" stroke="#fff" stroke-opacity="0.86" stroke-width="1.0"/><path d="M132.9 224 136.9 231.3 140.9 238.7 144.9 246 148.9 253.4 149.6 254.7" stroke="#fff" stroke-opacity="0.12" stroke-width="1.0"/><path d="M149.6 254.7 153.6 262.1 157.6 269.4 159.8 273.6" stroke="#fff" stroke-opacity="0.35" stroke-width="1.1"/><path d="M159.8 273.6 163.8 280.9 167.8 288.3 171.8 295.6 174.1 299.9" stroke="#fff" stroke-opacity="0.13" stroke-width="0.8"/><path d="M174.1 299.9 178.1 307.2 182.1 314.6 186.1 321.9 187.1 323.6" stroke="#fff" stroke-opacity="0.59" stroke-width="0.8"/><path d="M187.1 323.6 191.1 331 193.7 335.9" stroke="#fff" stroke-opacity="0.16" stroke-width="0.9"/><path d="M148.8 255.3 152.8 262.7 155 266.7" stroke="#000" stroke-opacity="0.37" stroke-width="1.1"/><path d="M155 266.7 159 274 163 281.4 167 288.8 171 296.1 171.1 296.2" stroke="#000" stroke-opacity="0.48" stroke-width="1.1"/><path d="M171.1 296.2 175.1 303.6 178.2 309.3" stroke="#000" stroke-opacity="0.82" stroke-width="0.8"/><path d="M178.2 309.3 182.2 316.7 186.2 324 190.2 331.4 192.2 335.1" stroke="#000" stroke-opacity="0.54" stroke-width="1.0"/><path d="M146.8 253.9 150.8 261.3 153.4 266" stroke="#fff" stroke-opacity="0.25" stroke-width="1.2"/><path d="M153.4 266 157.4 273.3 161.4 280.7 165.4 288 168.5 293.6" stroke="#fff" stroke-opacity="0.59" stroke-width="0.8"/><path d="M168.5 293.6 172.5 300.9 176.5 308.3 180.5 315.6 181.2 316.9" stroke="#fff" stroke-opacity="0.97" stroke-width="1.2"/><path d="M181.2 316.9 185.2 324.2 186.8 327.3" stroke="#fff" stroke-opacity="0.37" stroke-width="0.9"/><path d="M186.8 327.3 190.8 334.6 194.6 341.5" stroke="#fff" stroke-opacity="0.25" stroke-width="0.9"/><path d="M120 207.4 124 214.9 128 222.6 132 230.2 136 237.9 136.6 239.2" stroke="#000" stroke-opacity="0.07" stroke-width="0.9"/><path d="M136.6 239.2 140.6 246.9 144.6 254.6 148.6 262.3 150 264.9" stroke="#000" stroke-opacity="0.11" stroke-width="0.9"/><path d="M150 264.9 154 272.6 155.6 275.8" stroke="#000" stroke-opacity="0.39" stroke-width="1.0"/><path d="M155.6 275.8 159.6 283.5 163.6 291.2 163.7 291.3" stroke="#000" stroke-opacity="0.41" stroke-width="0.9"/><path d="M163.7 291.3 167.7 299 171.7 306.7 171.8 306.8" stroke="#000" stroke-opacity="0.97" stroke-width="1.1"/><path d="M171.8 306.8 175.8 314.6 179.3 321.3" stroke="#000" stroke-opacity="0.23" stroke-width="1.1"/><path d="M179.3 321.3 183.3 329 187.3 336.8 191.3 344.5 195.3 352.2 199.1 359.6" stroke="#000" stroke-opacity="0.25" stroke-width="1.0"/><path d="M129.9 226.8 133.9 234.2 137.9 241.6 141.9 249 143.6 252.1" stroke="#fff" stroke-opacity="0.09" stroke-width="0.8"/><path d="M143.6 252.1 147.6 259.5 151.6 266.9 155.6 274.3 159.6 281.7 162.9 287.9" stroke="#fff" stroke-opacity="0.07" stroke-width="0.9"/><path d="M162.9 287.9 166.9 295.3 170.9 302.7 174 308.4" stroke="#fff" stroke-opacity="0.94" stroke-width="1.0"/><path d="M174 308.4 178 315.8 182 323.2 184 326.9" stroke="#fff" stroke-opacity="0.18" stroke-width="0.9"/><path d="M184 326.9 188 334.3 192 341.7 196 349.1 198.4 353.6" stroke="#fff" stroke-opacity="0.99" stroke-width="1.2"/></g>
<filter id="soft" x="40" y="40" width="150" height="220" filterUnits="userSpaceOnUse"><feGaussianBlur stdDeviation="0.35"/></filter>
</defs>
<g transform="translate(0,0)">
<rect x="44" y="44" width="137" height="207" fill="#808080"/>
<g clip-path="url(#cin)"><g filter="url(#soft)"><g clip-path="url(#cfa)"><g mask="url(#mk)">
<g clip-path="url(#cIn)"><g mask="url(#mk)"><use href="#tin" opacity="0.5"/></g></g>
</g>
<g mask="url(#mOut)"><use href="#tout" opacity="0.75"/></g>
<path d="M128 140.9 131 137.5 134 134.2 137 131.4 140 130 140.4 130" stroke="#000" stroke-opacity="0.42" stroke-width="1.4"/><path d="M140.4 130 143.4 131.7 146.4 134.7 148.3 136.8" stroke="#000" stroke-opacity="0.66" stroke-width="1.4"/><path d="M148.3 136.8 151.3 140.2 154.3 143.6 155.2 144.7" stroke="#000" stroke-opacity="0.49" stroke-width="1.4"/><path d="M155.2 144.7 158.2 148.2 160 150.3" stroke="#000" stroke-opacity="0.56" stroke-width="1.4"/>
<path d="M126 146.8 129 143.3 132 139.9 133.2 138.6" stroke="#fff" stroke-opacity="0.46" stroke-width="1.3"/><path d="M133.2 138.6 136.2 135.6 139.2 133.6 142.2 134.3 143.2 135" stroke="#fff" stroke-opacity="0.54" stroke-width="1.3"/><path d="M143.2 135 146.2 137.9 149.2 141.2 149.4 141.5" stroke="#fff" stroke-opacity="0.58" stroke-width="1.3"/><path d="M149.4 141.5 152.4 144.9 155.4 148.4 156.8 150" stroke="#fff" stroke-opacity="0.53" stroke-width="1.3"/><path d="M156.8 150 159.8 153.6 160 153.8" stroke="#fff" stroke-opacity="0.54" stroke-width="1.3"/>
<path d="M128 147.9 131 144.5 134 141.2 135.5 139.8" stroke="#000" stroke-opacity="0.25" stroke-width="1.2"/><path d="M135.5 139.8 138.5 137.4 141.5 137.4 142.2 137.8" stroke="#000" stroke-opacity="0.39" stroke-width="1.2"/><path d="M142.2 137.8 145.2 140.4 148.2 143.6 151.2 147 152.4 148.4" stroke="#000" stroke-opacity="0.22" stroke-width="1.2"/><path d="M152.4 148.4 155.4 151.9 158 155" stroke="#000" stroke-opacity="0.18" stroke-width="1.2"/>
<path d="M130 160.4 133 157 136 153.8 137.6 152.2" stroke="#fff" stroke-opacity="0.43" stroke-width="1.3"/><path d="M137.6 152.2 140.6 149.8 143.6 149.1 146.6 150.6 147.1 151" stroke="#fff" stroke-opacity="0.48" stroke-width="1.3"/><path d="M147.1 151 150.1 153.9 153.1 157.1 153.7 157.8" stroke="#fff" stroke-opacity="0.54" stroke-width="1.3"/><path d="M153.7 157.8 156.7 161.2 159.7 164.7 162.7 168.2 165.7 171.7 167.6 173.9" stroke="#fff" stroke-opacity="0.50" stroke-width="1.3"/><path d="M167.6 173.9 168 174.4" stroke="#fff" stroke-opacity="0.54" stroke-width="1.3"/>
<path d="M130 163.9 133 160.5 136 157.3 136.8 156.5" stroke="#000" stroke-opacity="0.42" stroke-width="1.3"/><path d="M136.8 156.5 139.8 153.8 142.8 152.5 143.4 152.5" stroke="#000" stroke-opacity="0.56" stroke-width="1.3"/><path d="M143.4 152.5 146.4 153.9 149.4 156.7 152.4 159.8 153.7 161.3" stroke="#000" stroke-opacity="0.27" stroke-width="1.3"/><path d="M153.7 161.3 156.7 164.7 159.7 168.2 162.7 171.7 163.3 172.3" stroke="#000" stroke-opacity="0.56" stroke-width="1.3"/><path d="M163.3 172.3 166.3 175.9 168 177.9" stroke="#000" stroke-opacity="0.28" stroke-width="1.3"/>
<path d="M132 165.1 135 161.8 138 158.8 141 156.5 144 156.1 145.5 156.8" stroke="#fff" stroke-opacity="0.15" stroke-width="1.1"/><path d="M145.5 156.8 148.5 159.3 151.5 162.4 154.5 165.7 157.5 169.1 158.2 170" stroke="#fff" stroke-opacity="0.39" stroke-width="1.1"/><path d="M158.2 170 161.2 173.5 164.2 177 166 179" stroke="#fff" stroke-opacity="0.39" stroke-width="1.1"/>
<path d="M130 106.9 133 103.2 136 101 139 103.2 140.2 104.7" stroke="#fff" stroke-opacity="0.34" stroke-width="1.3"/><path d="M140.2 104.7 142 106.9" stroke="#fff" stroke-opacity="0.58" stroke-width="1.3"/>
<path d="M130 109.9 133 106.2 136 104 139 106.2 142 109.9" stroke="#000" stroke-opacity="0.36" stroke-width="1.2"/>
<path d="M40 218.4 56 198.4" stroke="#fff" stroke-opacity="0.45" stroke-width="1.1"/>
<path d="M56 198.4 70 180.9" stroke="#fff" stroke-opacity="0.38" stroke-width="1.1"/>
<path d="M70 180.9 80 168.4" stroke="#fff" stroke-opacity="0.25" stroke-width="1.1"/>
<path d="M80 168.4 90 155.9" stroke="#fff" stroke-opacity="0.11" stroke-width="1.1"/>
<path d="M40 221 56 201" stroke="#000" stroke-opacity="0.55" stroke-width="1.1"/>
<path d="M56 201 70 183.5" stroke="#000" stroke-opacity="0.47" stroke-width="1.1"/>
<path d="M70 183.5 80 171" stroke="#000" stroke-opacity="0.30" stroke-width="1.1"/>
<path d="M80 171 90 158.5" stroke="#000" stroke-opacity="0.14" stroke-width="1.1"/>
<path d="M40 223.6 56 203.6" stroke="#fff" stroke-opacity="0.60" stroke-width="1.1"/>
<path d="M56 203.6 70 186.1" stroke="#fff" stroke-opacity="0.51" stroke-width="1.1"/>
<path d="M70 186.1 80 173.6" stroke="#fff" stroke-opacity="0.33" stroke-width="1.1"/>
<path d="M80 173.6 90 161.1" stroke="#fff" stroke-opacity="0.15" stroke-width="1.1"/>
<path d="M40 226.2 56 206.2" stroke="#000" stroke-opacity="0.50" stroke-width="1.1"/>
<path d="M56 206.2 70 188.7" stroke="#000" stroke-opacity="0.42" stroke-width="1.1"/>
<path d="M70 188.7 80 176.2" stroke="#000" stroke-opacity="0.28" stroke-width="1.1"/>
<path d="M80 176.2 90 163.7" stroke="#000" stroke-opacity="0.12" stroke-width="1.1"/>
<path d="M40 228.8 56 208.8" stroke="#fff" stroke-opacity="0.35" stroke-width="1.1"/>
<path d="M56 208.8 70 191.3" stroke="#fff" stroke-opacity="0.30" stroke-width="1.1"/>
<path d="M70 191.3 80 178.8" stroke="#fff" stroke-opacity="0.19" stroke-width="1.1"/>
<path d="M80 178.8 90 166.3" stroke="#fff" stroke-opacity="0.09" stroke-width="1.1"/>
<path d="M40 231.4 56 211.4" stroke="#000" stroke-opacity="0.25" stroke-width="1.1"/>
<path d="M56 211.4 70 193.9" stroke="#000" stroke-opacity="0.21" stroke-width="1.1"/>
<path d="M70 193.9 80 181.4" stroke="#000" stroke-opacity="0.14" stroke-width="1.1"/>
<path d="M80 181.4 90 168.9" stroke="#000" stroke-opacity="0.06" stroke-width="1.1"/>
</g>
<path d="M113 53 110 60.1 107 69.4 104 79 101 88.5 98 98.1 95 107.7 92 117.3 89 126.9 86 136.5 83 146 80 155.6 77 165.2 74 174.8 71 184.4 68 194 65 203.6 62 213.2 59 222.8 56 232.4 53 242 50 251.6 47 261.2 44 270.8 41 280.4" stroke="#000" stroke-opacity="0.35" stroke-width="1.2"/>
<path d="M113 56 110 63.1 107 72.4 104 82 101 91.5 98 101.1 95 110.7 92 120.3 89 129.9 86 139.5 83 149 80 158.6 77 168.2 74 177.8 71 187.4 68 197 65 206.6 62 216.2 59 225.8 56 235.4 53 245 50 254.6 47 264.2 44 273.8 41 283.4" stroke="#fff" stroke-opacity="0.27999999999999997" stroke-width="1"/>
<path d="M113 53 116 59.9 119 69.1 122 78.5 125 87.9 128 97.3 131 106.8 134 116.2 137 125.7 140 135.1 143 144.5 146 154 149 163.4 152 172.9 155 182.3 158 191.8 161 201.2 164 210.7 167 220.1 170 229.6 173 239 176 248.5 179 257.9 182 267.4 185 276.8" stroke="#000" stroke-opacity="0.35" stroke-width="1.2"/>
<path d="M113 56 116 62.9 119 72.1 122 81.5 125 90.9 128 100.3 131 109.8 134 119.2 137 128.7 140 138.1 143 147.5 146 157 149 166.4 152 175.9 155 185.3 158 194.8 161 204.2 164 213.7 167 223.1 170 232.6 173 242 176 251.5 179 260.9 182 270.4 185 279.8" stroke="#fff" stroke-opacity="0.27999999999999997" stroke-width="1"/>
<path d="M113 51.5 111 53 109 55.8 107 59 105 62.3" stroke="#000" stroke-opacity="0.82" stroke-width="1.2"/>
<path d="M105 62.3 103 65.6 101 69 99 72.4 97 75.8" stroke="#000" stroke-opacity="0.76" stroke-width="1.2"/>
<path d="M97 75.8 95 79.2 93 82.6 91 86 89 89.4" stroke="#000" stroke-opacity="0.69" stroke-width="1.2"/>
<path d="M89 89.4 87 92.8 85 96.2 83 99.6 81 103" stroke="#000" stroke-opacity="0.63" stroke-width="1.2"/>
<path d="M81 103 79 106.4 77 109.8 75 113.3 73 116.7" stroke="#000" stroke-opacity="0.57" stroke-width="1.2"/>
<path d="M73 116.7 71 120.1 69 123.5 67 126.9 65 130.3" stroke="#000" stroke-opacity="0.50" stroke-width="1.2"/>
<path d="M65 130.3 63 133.8 61 137.2 59 140.6 57 144" stroke="#000" stroke-opacity="0.44" stroke-width="1.2"/>
<path d="M57 144 55 147.4 53 150.9 51 154.3 49 157.7" stroke="#000" stroke-opacity="0.38" stroke-width="1.2"/>
<path d="M49 157.7 47 161.1 45 164.5 43 167.9 41 171.4" stroke="#000" stroke-opacity="0.32" stroke-width="1.2"/>
<path d="M41 171.4 39 174.8 37 178.2 35 181.6 33 185" stroke="#000" stroke-opacity="0.30" stroke-width="1.2"/>
<path d="M113 54.1 111 55.6 109 58.5 107 61.7 105 65" stroke="#fff" stroke-opacity="0.83" stroke-width="1.0"/>
<path d="M105 65 103 68.4 101 71.8 99 75.3 97 78.7" stroke="#fff" stroke-opacity="0.79" stroke-width="1.0"/>
<path d="M97 78.7 95 82.2 93 85.6 91 89 89 92.5" stroke="#fff" stroke-opacity="0.75" stroke-width="1.0"/>
<path d="M89 92.5 87 96 85 99.4 83 102.9 81 106.3" stroke="#fff" stroke-opacity="0.71" stroke-width="1.0"/>
<path d="M81 106.3 79 109.8 77 113.2 75 116.7 73 120.2" stroke="#fff" stroke-opacity="0.67" stroke-width="1.0"/>
<path d="M73 120.2 71 123.6 69 127.1 67 130.5 65 134" stroke="#fff" stroke-opacity="0.63" stroke-width="1.0"/>
<path d="M65 134 63 137.5 61 140.9 59 144.4 57 147.8" stroke="#fff" stroke-opacity="0.59" stroke-width="1.0"/>
<path d="M57 147.8 55 151.3 53 154.8 51 158.2 49 161.7" stroke="#fff" stroke-opacity="0.55" stroke-width="1.0"/>
<path d="M49 161.7 47 165.2 45 168.6 43 172.1 41 175.5" stroke="#fff" stroke-opacity="0.51" stroke-width="1.0"/>
<path d="M41 175.5 39 179 37 182.5 35 185.9 33 189.4" stroke="#fff" stroke-opacity="0.50" stroke-width="1.0"/>
<path d="M113 56.7 111 58.2 109 61.2 107 64.4 105 67.8" stroke="#000" stroke-opacity="0.18" stroke-width="1.0"/>
<path d="M105 67.8 103 71.3 101 74.7 99 78.2 97 81.7" stroke="#000" stroke-opacity="0.23" stroke-width="1.0"/>
<path d="M97 81.7 95 85.1 93 88.6 91 92.1 89 95.6" stroke="#000" stroke-opacity="0.28" stroke-width="1.0"/>
<path d="M89 95.6 87 99.1 85 102.6 83 106.1 81 109.6" stroke="#000" stroke-opacity="0.33" stroke-width="1.0"/>
<path d="M81 109.6 79 113.1 77 116.6 75 120.1 73 123.6" stroke="#000" stroke-opacity="0.38" stroke-width="1.0"/>
<path d="M73 123.6 71 127.1 69 130.6 67 134.2 65 137.7" stroke="#000" stroke-opacity="0.43" stroke-width="1.0"/>
<path d="M65 137.7 63 141.2 61 144.7 59 148.2 57 151.7" stroke="#000" stroke-opacity="0.48" stroke-width="1.0"/>
<path d="M57 151.7 55 155.2 53 158.7 51 162.2 49 165.7" stroke="#000" stroke-opacity="0.54" stroke-width="1.0"/>
<path d="M49 165.7 47 169.2 45 172.7 43 176.2 41 179.7" stroke="#000" stroke-opacity="0.59" stroke-width="1.0"/>
<path d="M41 179.7 39 183.2 37 186.7 35 190.3 33 193.8" stroke="#000" stroke-opacity="0.60" stroke-width="1.0"/>
<path d="M113 59.3 111 60.9 109 63.9 107 67.2 105 70.6" stroke="#fff" stroke-opacity="0.16" stroke-width="1.0"/>
<path d="M105 70.6 103 74.1 101 77.6 99 81.1 97 84.6" stroke="#fff" stroke-opacity="0.23" stroke-width="1.0"/>
<path d="M97 84.6 95 88.1 93 91.7 91 95.2 89 98.8" stroke="#fff" stroke-opacity="0.30" stroke-width="1.0"/>
<path d="M89 98.8 87 102.3 85 105.8 83 109.4 81 112.9" stroke="#fff" stroke-opacity="0.37" stroke-width="1.0"/>
<path d="M81 112.9 79 116.5 77 120 75 123.6 73 127.1" stroke="#fff" stroke-opacity="0.44" stroke-width="1.0"/>
<path d="M73 127.1 71 130.7 69 134.2 67 137.8 65 141.3" stroke="#fff" stroke-opacity="0.52" stroke-width="1.0"/>
<path d="M65 141.3 63 144.9 61 148.4 59 152 57 155.5" stroke="#fff" stroke-opacity="0.59" stroke-width="1.0"/>
<path d="M57 155.5 55 159.1 53 162.6 51 166.2 49 169.7" stroke="#fff" stroke-opacity="0.66" stroke-width="1.0"/>
<path d="M49 169.7 47 173.3 45 176.8 43 180.4 41 183.9" stroke="#fff" stroke-opacity="0.73" stroke-width="1.0"/>
<path d="M41 183.9 39 187.5 37 191 35 194.6 33 198.1" stroke="#fff" stroke-opacity="0.75" stroke-width="1.0"/>
<path d="M113 61.9 111 63.5 109 66.5 107 69.9 105 73.4" stroke="#000" stroke-opacity="0.15" stroke-width="1.0"/>
<path d="M105 73.4 103 76.9 101 80.4 99 84 97 87.6" stroke="#000" stroke-opacity="0.25" stroke-width="1.0"/>
<path d="M97 87.6 95 91.1 93 94.7 91 98.3 89 101.9" stroke="#000" stroke-opacity="0.34" stroke-width="1.0"/>
<path d="M89 101.9 87 105.5 85 109.1 83 112.6 81 116.2" stroke="#000" stroke-opacity="0.44" stroke-width="1.0"/>
<path d="M81 116.2 79 119.8 77 123.4 75 127 73 130.6" stroke="#000" stroke-opacity="0.54" stroke-width="1.0"/>
<path d="M73 130.6 71 134.2 69 137.8 67 141.4 65 145" stroke="#000" stroke-opacity="0.63" stroke-width="1.0"/>
<path d="M65 145 63 148.6 61 152.2 59 155.8 57 159.3" stroke="#000" stroke-opacity="0.73" stroke-width="1.0"/>
<path d="M57 159.3 55 162.9 53 166.5 51 170.1 49 173.7" stroke="#000" stroke-opacity="0.83" stroke-width="1.0"/>
<path d="M49 173.7 47 177.3 45 180.9 43 184.5 41 188.1" stroke="#000" stroke-opacity="0.93" stroke-width="1.0"/>
<path d="M41 188.1 39 191.7 37 195.3 35 198.9 33 202.5" stroke="#000" stroke-opacity="0.95" stroke-width="1.0"/>
<path d="M113 64.5 111 66.2 109 69.2 107 72.6 105 76.2" stroke="#fff" stroke-opacity="0.13" stroke-width="1.0"/>
<path d="M105 76.2 103 79.7 101 83.3 99 86.9 97 90.5" stroke="#fff" stroke-opacity="0.22" stroke-width="1.0"/>
<path d="M97 90.5 95 94.1 93 97.8 91 101.4 89 105" stroke="#fff" stroke-opacity="0.31" stroke-width="1.0"/>
<path d="M89 105 87 108.6 85 112.3 83 115.9 81 119.5" stroke="#fff" stroke-opacity="0.41" stroke-width="1.0"/>
<path d="M81 119.5 79 123.2 77 126.8 75 130.4 73 134.1" stroke="#fff" stroke-opacity="0.50" stroke-width="1.0"/>
<path d="M73 134.1 71 137.7 69 141.4 67 145 65 148.6" stroke="#fff" stroke-opacity="0.60" stroke-width="1.0"/>
<path d="M65 148.6 63 152.3 61 155.9 59 159.5 57 163.2" stroke="#fff" stroke-opacity="0.69" stroke-width="1.0"/>
<path d="M57 163.2 55 166.8 53 170.5 51 174.1 49 177.7" stroke="#fff" stroke-opacity="0.78" stroke-width="1.0"/>
<path d="M49 177.7 47 181.4 45 185 43 188.6 41 192.3" stroke="#fff" stroke-opacity="0.88" stroke-width="1.0"/>
<path d="M41 192.3 39 195.9 37 199.6 35 203.2 33 206.8" stroke="#fff" stroke-opacity="0.90" stroke-width="1.0"/>
<path d="M113 67.1 111 68.8 109 71.9 107 75.4 105 78.9" stroke="#000" stroke-opacity="0.09" stroke-width="1.0"/>
<path d="M105 78.9 103 82.5 101 86.2 99 89.8 97 93.5" stroke="#000" stroke-opacity="0.16" stroke-width="1.0"/>
<path d="M97 93.5 95 97.1 93 100.8 91 104.5 89 108.1" stroke="#000" stroke-opacity="0.24" stroke-width="1.0"/>
<path d="M89 108.1 87 111.8 85 115.5 83 119.2 81 122.8" stroke="#000" stroke-opacity="0.31" stroke-width="1.0"/>
<path d="M81 122.8 79 126.5 77 130.2 75 133.9 73 137.6" stroke="#000" stroke-opacity="0.38" stroke-width="1.0"/>
<path d="M73 137.6 71 141.2 69 144.9 67 148.6 65 152.3" stroke="#000" stroke-opacity="0.46" stroke-width="1.0"/>
<path d="M65 152.3 63 156 61 159.6 59 163.3 57 167" stroke="#000" stroke-opacity="0.53" stroke-width="1.0"/>
<path d="M57 167 55 170.7 53 174.4 51 178.1 49 181.7" stroke="#000" stroke-opacity="0.61" stroke-width="1.0"/>
<path d="M49 181.7 47 185.4 45 189.1 43 192.8 41 196.5" stroke="#000" stroke-opacity="0.68" stroke-width="1.0"/>
<path d="M41 196.5 39 200.2 37 203.8 35 207.5 33 211.2" stroke="#000" stroke-opacity="0.70" stroke-width="1.0"/>
<path d="M113 69.7 111 71.5 109 74.6 107 78.1 105 81.7" stroke="#fff" stroke-opacity="0.07" stroke-width="1.0"/>
<path d="M105 81.7 103 85.4 101 89 99 92.7 97 96.4" stroke="#fff" stroke-opacity="0.12" stroke-width="1.0"/>
<path d="M97 96.4 95 100.1 93 103.8 91 107.6 89 111.3" stroke="#fff" stroke-opacity="0.17" stroke-width="1.0"/>
<path d="M89 111.3 87 115 85 118.7 83 122.4 81 126.1" stroke="#fff" stroke-opacity="0.22" stroke-width="1.0"/>
<path d="M81 126.1 79 129.9 77 133.6 75 137.3 73 141" stroke="#fff" stroke-opacity="0.28" stroke-width="1.0"/>
<path d="M73 141 71 144.8 69 148.5 67 152.2 65 155.9" stroke="#fff" stroke-opacity="0.33" stroke-width="1.0"/>
<path d="M65 155.9 63 159.7 61 163.4 59 167.1 57 170.8" stroke="#fff" stroke-opacity="0.38" stroke-width="1.0"/>
<path d="M57 170.8 55 174.6 53 178.3 51 182 49 185.7" stroke="#fff" stroke-opacity="0.43" stroke-width="1.0"/>
<path d="M49 185.7 47 189.5 45 193.2 43 196.9 41 200.7" stroke="#fff" stroke-opacity="0.49" stroke-width="1.0"/>
<path d="M41 200.7 39 204.4 37 208.1 35 211.8 33 215.6" stroke="#fff" stroke-opacity="0.50" stroke-width="1.0"/>
<path d="M113 72.3 111 74.1 109 77.3 107 80.8 105 84.5" stroke="#000" stroke-opacity="0.05" stroke-width="1.0"/>
<path d="M105 84.5 103 88.2 101 91.9 99 95.6 97 99.4" stroke="#000" stroke-opacity="0.08" stroke-width="1.0"/>
<path d="M97 99.4 95 103.1 93 106.9 91 110.6 89 114.4" stroke="#000" stroke-opacity="0.11" stroke-width="1.0"/>
<path d="M89 114.4 87 118.2 85 121.9 83 125.7 81 129.5" stroke="#000" stroke-opacity="0.14" stroke-width="1.0"/>
<path d="M81 129.5 79 133.2 77 137 75 140.8 73 144.5" stroke="#000" stroke-opacity="0.17" stroke-width="1.0"/>
<path d="M73 144.5 71 148.3 69 152.1 67 155.8 65 159.6" stroke="#000" stroke-opacity="0.20" stroke-width="1.0"/>
<path d="M65 159.6 63 163.4 61 167.1 59 170.9 57 174.7" stroke="#000" stroke-opacity="0.23" stroke-width="1.0"/>
<path d="M57 174.7 55 178.4 53 182.2 51 186 49 189.8" stroke="#000" stroke-opacity="0.26" stroke-width="1.0"/>
<path d="M49 189.8 47 193.5 45 197.3 43 201.1 41 204.8" stroke="#000" stroke-opacity="0.29" stroke-width="1.0"/>
<path d="M41 204.8 39 208.6 37 212.4 35 216.1 33 219.9" stroke="#000" stroke-opacity="0.30" stroke-width="1.0"/>
<path d="M113 51.5 115 52.9 117 55.7 119 58.9 121 62.1" stroke="#fff" stroke-opacity="0.73" stroke-width="1.2"/>
<path d="M121 62.1 123 65.4 125 68.7 127 72.1 129 75.4" stroke="#fff" stroke-opacity="0.69" stroke-width="1.2"/>
<path d="M129 75.4 131 78.8 133 82.2 135 85.5 137 88.9" stroke="#fff" stroke-opacity="0.65" stroke-width="1.2"/>
<path d="M137 88.9 139 92.3 141 95.6 143 99 145 102.4" stroke="#fff" stroke-opacity="0.61" stroke-width="1.2"/>
<path d="M145 102.4 147 105.8 149 109.1 151 112.5 153 115.9" stroke="#fff" stroke-opacity="0.57" stroke-width="1.2"/>
<path d="M153 115.9 155 119.3 157 122.6 159 126 161 129.4" stroke="#fff" stroke-opacity="0.53" stroke-width="1.2"/>
<path d="M161 129.4 163 132.8 165 136.1 167 139.5 169 142.9" stroke="#fff" stroke-opacity="0.49" stroke-width="1.2"/>
<path d="M169 142.9 171 146.3 173 149.7 175 153 177 156.4" stroke="#fff" stroke-opacity="0.45" stroke-width="1.2"/>
<path d="M177 156.4 179 159.8 181 163.2 183 166.5 185 169.9" stroke="#fff" stroke-opacity="0.41" stroke-width="1.2"/>
<path d="M185 169.9 187 173.3 189 176.7 191 180.1 193 183.4" stroke="#fff" stroke-opacity="0.40" stroke-width="1.2"/>
<path d="M113 54.1 115 55.6 117 58.4 119 61.6 121 64.9" stroke="#000" stroke-opacity="0.88" stroke-width="1.0"/>
<path d="M121 64.9 123 68.2 125 71.6 127 75 129 78.4" stroke="#000" stroke-opacity="0.84" stroke-width="1.0"/>
<path d="M129 78.4 131 81.8 133 85.2 135 88.6 137 92" stroke="#000" stroke-opacity="0.80" stroke-width="1.0"/>
<path d="M137 92 139 95.4 141 98.9 143 102.3 145 105.7" stroke="#000" stroke-opacity="0.76" stroke-width="1.0"/>
<path d="M145 105.7 147 109.1 149 112.5 151 115.9 153 119.4" stroke="#000" stroke-opacity="0.72" stroke-width="1.0"/>
<path d="M153 119.4 155 122.8 157 126.2 159 129.6 161 133" stroke="#000" stroke-opacity="0.68" stroke-width="1.0"/>
<path d="M161 133 163 136.5 165 139.9 167 143.3 169 146.7" stroke="#000" stroke-opacity="0.64" stroke-width="1.0"/>
<path d="M169 146.7 171 150.2 173 153.6 175 157 177 160.4" stroke="#000" stroke-opacity="0.60" stroke-width="1.0"/>
<path d="M177 160.4 179 163.8 181 167.3 183 170.7 185 174.1" stroke="#000" stroke-opacity="0.56" stroke-width="1.0"/>
<path d="M185 174.1 187 177.5 189 181 191 184.4 193 187.8" stroke="#000" stroke-opacity="0.55" stroke-width="1.0"/>
<path d="M113 56.7 115 58.2 117 61.1 119 64.3 121 67.7" stroke="#fff" stroke-opacity="0.22" stroke-width="1.0"/>
<path d="M121 67.7 123 71.1 125 74.5 127 77.9 129 81.3" stroke="#fff" stroke-opacity="0.27" stroke-width="1.0"/>
<path d="M129 81.3 131 84.8 133 88.2 135 91.7 137 95.2" stroke="#fff" stroke-opacity="0.31" stroke-width="1.0"/>
<path d="M137 95.2 139 98.6 141 102.1 143 105.5 145 109" stroke="#fff" stroke-opacity="0.36" stroke-width="1.0"/>
<path d="M145 109 147 112.5 149 115.9 151 119.4 153 122.8" stroke="#fff" stroke-opacity="0.41" stroke-width="1.0"/>
<path d="M153 122.8 155 126.3 157 129.8 159 133.2 161 136.7" stroke="#fff" stroke-opacity="0.45" stroke-width="1.0"/>
<path d="M161 136.7 163 140.2 165 143.6 167 147.1 169 150.6" stroke="#fff" stroke-opacity="0.50" stroke-width="1.0"/>
<path d="M169 150.6 171 154 173 157.5 175 161 177 164.4" stroke="#fff" stroke-opacity="0.54" stroke-width="1.0"/>
<path d="M177 164.4 179 167.9 181 171.4 183 174.8 185 178.3" stroke="#fff" stroke-opacity="0.59" stroke-width="1.0"/>
<path d="M185 178.3 187 181.8 189 185.2 191 188.7 193 192.2" stroke="#fff" stroke-opacity="0.60" stroke-width="1.0"/>
<path d="M113 59.3 115 60.9 117 63.8 119 67.1 121 70.4" stroke="#000" stroke-opacity="0.18" stroke-width="1.0"/>
<path d="M121 70.4 123 73.9 125 77.3 127 80.8 129 84.3" stroke="#000" stroke-opacity="0.24" stroke-width="1.0"/>
<path d="M129 84.3 131 87.8 133 91.3 135 94.8 137 98.3" stroke="#000" stroke-opacity="0.29" stroke-width="1.0"/>
<path d="M137 98.3 139 101.8 141 105.3 143 108.8 145 112.3" stroke="#000" stroke-opacity="0.35" stroke-width="1.0"/>
<path d="M145 112.3 147 115.8 149 119.3 151 122.8 153 126.3" stroke="#000" stroke-opacity="0.41" stroke-width="1.0"/>
<path d="M153 126.3 155 129.8 157 133.3 159 136.8 161 140.4" stroke="#000" stroke-opacity="0.46" stroke-width="1.0"/>
<path d="M161 140.4 163 143.9 165 147.4 167 150.9 169 154.4" stroke="#000" stroke-opacity="0.52" stroke-width="1.0"/>
<path d="M169 154.4 171 157.9 173 161.4 175 164.9 177 168.4" stroke="#000" stroke-opacity="0.58" stroke-width="1.0"/>
<path d="M177 168.4 179 171.9 181 175.5 183 179 185 182.5" stroke="#000" stroke-opacity="0.64" stroke-width="1.0"/>
<path d="M185 182.5 187 186 189 189.5 191 193 193 196.5" stroke="#000" stroke-opacity="0.65" stroke-width="1.0"/>
<path d="M113 61.9 115 63.5 117 66.5 119 69.8 121 73.2" stroke="#fff" stroke-opacity="0.13" stroke-width="1.0"/>
<path d="M121 73.2 123 76.7 125 80.2 127 83.7 129 87.2" stroke="#fff" stroke-opacity="0.19" stroke-width="1.0"/>
<path d="M129 87.2 131 90.8 133 94.3 135 97.9 137 101.4" stroke="#fff" stroke-opacity="0.24" stroke-width="1.0"/>
<path d="M137 101.4 139 105 141 108.5 143 112 145 115.6" stroke="#fff" stroke-opacity="0.30" stroke-width="1.0"/>
<path d="M145 115.6 147 119.1 149 122.7 151 126.2 153 129.8" stroke="#fff" stroke-opacity="0.36" stroke-width="1.0"/>
<path d="M153 129.8 155 133.4 157 136.9 159 140.5 161 144" stroke="#fff" stroke-opacity="0.41" stroke-width="1.0"/>
<path d="M161 144 163 147.6 165 151.1 167 154.7 169 158.2" stroke="#fff" stroke-opacity="0.47" stroke-width="1.0"/>
<path d="M169 158.2 171 161.8 173 165.3 175 168.9 177 172.4" stroke="#fff" stroke-opacity="0.53" stroke-width="1.0"/>
<path d="M177 172.4 179 176 181 179.6 183 183.1 185 186.7" stroke="#fff" stroke-opacity="0.59" stroke-width="1.0"/>
<path d="M185 186.7 187 190.2 189 193.8 191 197.3 193 200.9" stroke="#fff" stroke-opacity="0.60" stroke-width="1.0"/>
<path d="M113 64.5 115 66.1 117 69.2 119 72.5 121 76" stroke="#000" stroke-opacity="0.10" stroke-width="1.0"/>
<path d="M121 76 123 79.5 125 83.1 127 86.6 129 90.2" stroke="#000" stroke-opacity="0.15" stroke-width="1.0"/>
<path d="M129 90.2 131 93.8 133 97.4 135 100.9 137 104.5" stroke="#000" stroke-opacity="0.20" stroke-width="1.0"/>
<path d="M137 104.5 139 108.1 141 111.7 143 115.3 145 118.9" stroke="#000" stroke-opacity="0.25" stroke-width="1.0"/>
<path d="M145 118.9 147 122.5 149 126.1 151 129.7 153 133.3" stroke="#000" stroke-opacity="0.30" stroke-width="1.0"/>
<path d="M153 133.3 155 136.9 157 140.5 159 144.1 161 147.7" stroke="#000" stroke-opacity="0.34" stroke-width="1.0"/>
<path d="M161 147.7 163 151.3 165 154.9 167 158.5 169 162.1" stroke="#000" stroke-opacity="0.39" stroke-width="1.0"/>
<path d="M169 162.1 171 165.7 173 169.3 175 172.9 177 176.5" stroke="#000" stroke-opacity="0.44" stroke-width="1.0"/>
<path d="M177 176.5 179 180 181 183.6 183 187.2 185 190.8" stroke="#000" stroke-opacity="0.49" stroke-width="1.0"/>
<path d="M185 190.8 187 194.4 189 198 191 201.6 193 205.2" stroke="#000" stroke-opacity="0.50" stroke-width="1.0"/>
<path d="M113 67.1 115 68.8 117 71.9 119 75.3 121 78.8" stroke="#fff" stroke-opacity="0.07" stroke-width="1.0"/>
<path d="M121 78.8 123 82.3 125 85.9 127 89.5 129 93.2" stroke="#fff" stroke-opacity="0.11" stroke-width="1.0"/>
<path d="M129 93.2 131 96.8 133 100.4 135 104 137 107.7" stroke="#fff" stroke-opacity="0.15" stroke-width="1.0"/>
<path d="M137 107.7 139 111.3 141 114.9 143 118.6 145 122.2" stroke="#fff" stroke-opacity="0.19" stroke-width="1.0"/>
<path d="M145 122.2 147 125.8 149 129.5 151 133.1 153 136.8" stroke="#fff" stroke-opacity="0.23" stroke-width="1.0"/>
<path d="M153 136.8 155 140.4 157 144 159 147.7 161 151.3" stroke="#fff" stroke-opacity="0.27" stroke-width="1.0"/>
<path d="M161 151.3 163 155 165 158.6 167 162.2 169 165.9" stroke="#fff" stroke-opacity="0.31" stroke-width="1.0"/>
<path d="M169 165.9 171 169.5 173 173.2 175 176.8 177 180.5" stroke="#fff" stroke-opacity="0.35" stroke-width="1.0"/>
<path d="M177 180.5 179 184.1 181 187.7 183 191.4 185 195" stroke="#fff" stroke-opacity="0.39" stroke-width="1.0"/>
<path d="M185 195 187 198.7 189 202.3 191 206 193 209.6" stroke="#fff" stroke-opacity="0.40" stroke-width="1.0"/>
<path d="M113 69.7 115 71.4 117 74.5 119 78 121 81.5" stroke="#000" stroke-opacity="0.05" stroke-width="1.0"/>
<path d="M121 81.5 123 85.2 125 88.8 127 92.4 129 96.1" stroke="#000" stroke-opacity="0.08" stroke-width="1.0"/>
<path d="M129 96.1 131 99.8 133 103.4 135 107.1 137 110.8" stroke="#000" stroke-opacity="0.11" stroke-width="1.0"/>
<path d="M137 110.8 139 114.5 141 118.1 143 121.8 145 125.5" stroke="#000" stroke-opacity="0.14" stroke-width="1.0"/>
<path d="M145 125.5 147 129.2 149 132.9 151 136.6 153 140.2" stroke="#000" stroke-opacity="0.17" stroke-width="1.0"/>
<path d="M153 140.2 155 143.9 157 147.6 159 151.3 161 155" stroke="#000" stroke-opacity="0.20" stroke-width="1.0"/>
<path d="M161 155 163 158.7 165 162.3 167 166 169 169.7" stroke="#000" stroke-opacity="0.23" stroke-width="1.0"/>
<path d="M169 169.7 171 173.4 173 177.1 175 180.8 177 184.5" stroke="#000" stroke-opacity="0.26" stroke-width="1.0"/>
<path d="M177 184.5 179 188.2 181 191.8 183 195.5 185 199.2" stroke="#000" stroke-opacity="0.29" stroke-width="1.0"/>
<path d="M185 199.2 187 202.9 189 206.6 191 210.3 193 214" stroke="#000" stroke-opacity="0.30" stroke-width="1.0"/>
<path d="M121 84.3 123 88 125 91.7 127 95.4 129 99.1" stroke="#fff" stroke-opacity="0.05" stroke-width="1.0"/>
<path d="M129 99.1 131 102.8 133 106.5 135 110.2 137 113.9" stroke="#fff" stroke-opacity="0.07" stroke-width="1.0"/>
<path d="M137 113.9 139 117.6 141 121.4 143 125.1 145 128.8" stroke="#fff" stroke-opacity="0.09" stroke-width="1.0"/>
<path d="M145 128.8 147 132.5 149 136.3 151 140 153 143.7" stroke="#fff" stroke-opacity="0.11" stroke-width="1.0"/>
<path d="M153 143.7 155 147.4 157 151.2 159 154.9 161 158.6" stroke="#fff" stroke-opacity="0.13" stroke-width="1.0"/>
<path d="M161 158.6 163 162.4 165 166.1 167 169.8 169 173.6" stroke="#fff" stroke-opacity="0.15" stroke-width="1.0"/>
<path d="M169 173.6 171 177.3 173 181 175 184.7 177 188.5" stroke="#fff" stroke-opacity="0.17" stroke-width="1.0"/>
<path d="M177 188.5 179 192.2 181 195.9 183 199.7 185 203.4" stroke="#fff" stroke-opacity="0.19" stroke-width="1.0"/>
<path d="M185 203.4 187 207.1 189 210.9 191 214.6 193 218.3" stroke="#fff" stroke-opacity="0.20" stroke-width="1.0"/>
</g></g>
<rect x="42.5" y="42.5" width="140" height="210" fill="none" stroke="#000" stroke-width="3"/>
</g>
<rect x="41.1" y="37.6" width="2.6" height="4" fill="#000"/>
<rect x="72.3" y="37.6" width="2.6" height="4" fill="#000"/>
<rect x="103.5" y="37.6" width="2.6" height="4" fill="#000"/>
<rect x="134.7" y="37.6" width="2.6" height="4" fill="#000"/>
<rect x="165.9" y="37.6" width="2.6" height="4" fill="#000"/>
<rect x="37.4" y="41.5" width="4" height="2.2" fill="#000"/>
<rect x="37.4" y="85.4" width="4" height="2.2" fill="#000"/>
<rect x="37.4" y="129.3" width="4" height="2.2" fill="#000"/>
<rect x="37.4" y="173.2" width="4" height="2.2" fill="#000"/>
<rect x="37.4" y="217.1" width="4" height="2.2" fill="#000"/>
<g transform="translate(176,0)">
<rect x="44" y="44" width="137" height="207" fill="#808080"/>
<g clip-path="url(#cin)"><g filter="url(#soft)"><g clip-path="url(#cfa)"><g mask="url(#mk)">
<g clip-path="url(#cIn)"><g mask="url(#mk2)"><use href="#tin" opacity="0.6"/></g></g>
</g>
<g mask="url(#mOut)"><use href="#tout" opacity="1.0"/></g>
<path d="M116 112 119 109.4 122 106.9 125 104.5 128 102.4 129.6 101.4" stroke="#fff" stroke-opacity="0.28" stroke-width="1.4"/><path d="M129.6 101.4 132.6 100.2 135.6 100.2 138.6 101.5 139.5 102.1" stroke="#fff" stroke-opacity="0.28" stroke-width="1.4"/><path d="M139.5 102.1 142.5 104.2 145.5 106.5 148.4 108.9" stroke="#fff" stroke-opacity="0.74" stroke-width="1.4"/><path d="M148.4 108.9 151.4 111.4 152 112" stroke="#fff" stroke-opacity="0.74" stroke-width="1.4"/>
<path d="M116 115.2 119 112.6 122 110.1 125 107.7 128 105.6 129.2 104.8" stroke="#000" stroke-opacity="0.42" stroke-width="1.2"/><path d="M129.2 104.8 132.2 103.4 135.2 103.3 135.7 103.4" stroke="#000" stroke-opacity="0.34" stroke-width="1.2"/><path d="M135.7 103.4 138.7 104.7 141.7 106.7 144.7 109 147.2 111.1" stroke="#000" stroke-opacity="0.22" stroke-width="1.2"/><path d="M147.2 111.1 150.2 113.6 152 115.2" stroke="#000" stroke-opacity="0.22" stroke-width="1.2"/>
<path d="M108 128.4 111 125.8 114 123.3 117 120.8 120 118.4 120.7 117.8" stroke="#fff" stroke-opacity="0.76" stroke-width="1.4"/><path d="M120.7 117.8 123.7 115.5 126.7 113.6 129.7 112.3 132.7 112 134.1 112.3" stroke="#fff" stroke-opacity="0.67" stroke-width="1.4"/><path d="M134.1 112.3 137.1 113.6 140.1 115.5 143.1 117.7 144.7 118.9" stroke="#fff" stroke-opacity="0.31" stroke-width="1.4"/><path d="M144.7 118.9 147.7 121.4 150.7 123.9 152 125" stroke="#fff" stroke-opacity="0.68" stroke-width="1.4"/>
<path d="M108 131.6 111 129 114 126.5 117 124 120 121.6 120 121.5" stroke="#000" stroke-opacity="0.21" stroke-width="1.2"/><path d="M120 121.5 123 119.2 126 117.2 126.1 117.2" stroke="#000" stroke-opacity="0.23" stroke-width="1.2"/><path d="M126.1 117.2 129.1 115.7 132.1 115.2 135.1 115.8 138.1 117.3 139.5 118.2" stroke="#000" stroke-opacity="0.24" stroke-width="1.2"/><path d="M139.5 118.2 142.5 120.4 145.5 122.8 148.5 125.2 148.6 125.3" stroke="#000" stroke-opacity="0.37" stroke-width="1.2"/><path d="M148.6 125.3 151.6 127.9 152 128.2" stroke="#000" stroke-opacity="0.25" stroke-width="1.2"/>
<path d="M100 144.2 103 141.6 106 139 108.1 137.3" stroke="#fff" stroke-opacity="0.64" stroke-width="1.4"/><path d="M108.1 137.3 111.1 134.8 114.1 132.4 114.8 131.9" stroke="#fff" stroke-opacity="0.34" stroke-width="1.4"/><path d="M114.8 131.9 117.8 129.6 120.8 127.5 121 127.4" stroke="#fff" stroke-opacity="0.73" stroke-width="1.4"/><path d="M121 127.4 124 125.7 127 124.4 128.8 124.1" stroke="#fff" stroke-opacity="0.51" stroke-width="1.4"/><path d="M128.8 124.1 131.8 124.2 134.8 125.1 137.8 126.7 137.9 126.7" stroke="#fff" stroke-opacity="0.74" stroke-width="1.4"/><path d="M137.9 126.7 140.9 128.6 143.9 130.8 146.9 133.2 149.6 135.4" stroke="#fff" stroke-opacity="0.56" stroke-width="1.4"/><path d="M149.6 135.4 152 137.4" stroke="#fff" stroke-opacity="0.39" stroke-width="1.4"/>
<path d="M100 147.4 103 144.8 106 142.2 109 139.7 112 137.3 112.7 136.7" stroke="#000" stroke-opacity="0.22" stroke-width="1.2"/><path d="M112.7 136.7 115.7 134.3 118.7 132.1 121.7 130.1 123.7 129" stroke="#000" stroke-opacity="0.28" stroke-width="1.2"/><path d="M123.7 129 126.7 127.7 129.7 127.2 131.9 127.4" stroke="#000" stroke-opacity="0.34" stroke-width="1.2"/><path d="M131.9 127.4 134.9 128.3 137.9 129.9 139.4 130.9" stroke="#000" stroke-opacity="0.39" stroke-width="1.2"/><path d="M139.4 130.9 142.4 132.9 145.4 135.2 146 135.7" stroke="#000" stroke-opacity="0.19" stroke-width="1.2"/><path d="M146 135.7 149 138.1 152 140.5 152 140.6" stroke="#000" stroke-opacity="0.21" stroke-width="1.2"/>
<path d="M96 157.9 99 155.3 102 152.7 105 150.2 108 147.7 109 146.9" stroke="#fff" stroke-opacity="0.41" stroke-width="1.4"/><path d="M109 146.9 112 144.5 115 142.2 118 140 120.5 138.5" stroke="#fff" stroke-opacity="0.51" stroke-width="1.4"/><path d="M120.5 138.5 123.5 137 126.5 136.1 127.8 136" stroke="#fff" stroke-opacity="0.58" stroke-width="1.4"/><path d="M127.8 136 130.8 136.4 133.8 137.5 136.8 139.2 136.9 139.3" stroke="#fff" stroke-opacity="0.39" stroke-width="1.4"/><path d="M136.9 139.3 139.9 141.3 142.9 143.6 145.9 145.9 146.8 146.7" stroke="#fff" stroke-opacity="0.48" stroke-width="1.4"/><path d="M146.8 146.7 149.8 149.2 150 149.4" stroke="#fff" stroke-opacity="0.29" stroke-width="1.4"/>
<path d="M96 161.1 99 158.5 102 155.9 105 153.4 108 150.9 108.6 150.4" stroke="#000" stroke-opacity="0.26" stroke-width="1.2"/><path d="M108.6 150.4 111.6 148 114.6 145.7 116.6 144.2" stroke="#000" stroke-opacity="0.38" stroke-width="1.2"/><path d="M116.6 144.2 119.6 142.2 122.6 140.5 125.6 139.5 128.6 139.2 129.6 139.3" stroke="#000" stroke-opacity="0.38" stroke-width="1.2"/><path d="M129.6 139.3 132.6 140.2 135.6 141.7 138.2 143.4" stroke="#000" stroke-opacity="0.40" stroke-width="1.2"/><path d="M138.2 143.4 141.2 145.5 144.2 147.8 147.2 150.2 150 152.6" stroke="#000" stroke-opacity="0.41" stroke-width="1.2"/>
<path d="M92 170.9 95 168.3 98 165.8 101 163.2 104 160.7 104 160.7" stroke="#fff" stroke-opacity="0.45" stroke-width="1.4"/><path d="M104 160.7 107 158.3 110 156 113 153.7 113.9 153.2" stroke="#fff" stroke-opacity="0.38" stroke-width="1.4"/><path d="M113.9 153.2 116.9 151.2 119.9 149.6 122.9 148.4 125.9 148 126.1 148" stroke="#fff" stroke-opacity="0.31" stroke-width="1.4"/><path d="M126.1 148 129.1 148.4 132.1 149.5 135.1 151.2 136.1 151.8" stroke="#fff" stroke-opacity="0.27" stroke-width="1.4"/><path d="M136.1 151.8 139.1 153.9 142.1 156.1 145.1 158.4 148.1 160.9 149.1 161.7" stroke="#fff" stroke-opacity="0.27" stroke-width="1.4"/><path d="M149.1 161.7 150 162.4" stroke="#fff" stroke-opacity="0.32" stroke-width="1.4"/>
<path d="M92 174.1 95 171.5 98 169 101 166.4 103.7 164.2" stroke="#000" stroke-opacity="0.17" stroke-width="1.2"/><path d="M103.7 164.2 106.7 161.8 109.7 159.4 110.3 159" stroke="#000" stroke-opacity="0.25" stroke-width="1.2"/><path d="M110.3 159 113.3 156.8 116.3 154.7 117.4 154" stroke="#000" stroke-opacity="0.18" stroke-width="1.2"/><path d="M117.4 154 120.4 152.5 123.4 151.5 126.4 151.2 129.4 151.7 129.7 151.8" stroke="#000" stroke-opacity="0.12" stroke-width="1.2"/><path d="M129.7 151.8 132.7 153 135.7 154.7 138.7 156.7 141.7 159 143 159.9" stroke="#000" stroke-opacity="0.23" stroke-width="1.2"/><path d="M143 159.9 146 162.3 149 164.8 150 165.6" stroke="#000" stroke-opacity="0.25" stroke-width="1.2"/>
</g>
<path d="M113 50.5 110 57.6 107 66.9 104 76.5 101 86 98 95.6 95 105.2 92 114.8 89 124.4 86 134 83 143.5 80 153.1 77 162.7 74 172.3 71 181.9 68 191.5 65 201.1 62 210.7 59 220.3 56 229.9 53 239.5 50 249.1 47 258.7 44 268.3 41 277.9" stroke="#fff" stroke-opacity="0.45" stroke-width="1"/>
<path d="M113 53 110 60.1 107 69.4 104 79 101 88.5 98 98.1 95 107.7 92 117.3 89 126.9 86 136.5 83 146 80 155.6 77 165.2 74 174.8 71 184.4 68 194 65 203.6 62 213.2 59 222.8 56 232.4 53 242 50 251.6 47 261.2 44 270.8 41 280.4" stroke="#000" stroke-opacity="0.95" stroke-width="1.4"/>
<path d="M113 56 110 63.1 107 72.4 104 82 101 91.5 98 101.1 95 110.7 92 120.3 89 129.9 86 139.5 83 149 80 158.6 77 168.2 74 177.8 71 187.4 68 197 65 206.6 62 216.2 59 225.8 56 235.4 53 245 50 254.6 47 264.2 44 273.8 41 283.4" stroke="#fff" stroke-opacity="0.4" stroke-width="1"/>
<path d="M113 50.5 116 57.4 119 66.6 122 76 125 85.4 128 94.8 131 104.3 134 113.7 137 123.2 140 132.6 143 142 146 151.5 149 160.9 152 170.4 155 179.8 158 189.3 161 198.7 164 208.2 167 217.6 170 227.1 173 236.5 176 246 179 255.4 182 264.9 185 274.3" stroke="#fff" stroke-opacity="0.45" stroke-width="1"/>
<path d="M113 53 116 59.9 119 69.1 122 78.5 125 87.9 128 97.3 131 106.8 134 116.2 137 125.7 140 135.1 143 144.5 146 154 149 163.4 152 172.9 155 182.3 158 191.8 161 201.2 164 210.7 167 220.1 170 229.6 173 239 176 248.5 179 257.9 182 267.4 185 276.8" stroke="#000" stroke-opacity="0.95" stroke-width="1.4"/>
<path d="M113 56 116 62.9 119 72.1 122 81.5 125 90.9 128 100.3 131 109.8 134 119.2 137 128.7 140 138.1 143 147.5 146 157 149 166.4 152 175.9 155 185.3 158 194.8 161 204.2 164 213.7 167 223.1 170 232.6 173 242 176 251.5 179 260.9 182 270.4 185 279.8" stroke="#fff" stroke-opacity="0.4" stroke-width="1"/>
<path d="M105 62.3 103 65.6 101 69 99 72.4 97 75.8" stroke="#000" stroke-opacity="0.05" stroke-width="1.0"/>
<path d="M97 75.8 95 79.2 93 82.6 91 86 89 89.4" stroke="#000" stroke-opacity="0.09" stroke-width="1.0"/>
<path d="M89 89.4 87 92.8 85 96.2 83 99.6 81 103" stroke="#000" stroke-opacity="0.12" stroke-width="1.0"/>
<path d="M81 103 79 106.4 77 109.8 75 113.3 73 116.7" stroke="#000" stroke-opacity="0.15" stroke-width="1.0"/>
<path d="M73 116.7 71 120.1 69 123.5 67 126.9 65 130.3" stroke="#000" stroke-opacity="0.19" stroke-width="1.0"/>
<path d="M65 130.3 63 133.8 61 137.2 59 140.6 57 144" stroke="#000" stroke-opacity="0.22" stroke-width="1.0"/>
<path d="M57 144 55 147.4 53 150.9 51 154.3 49 157.7" stroke="#000" stroke-opacity="0.26" stroke-width="1.0"/>
<path d="M49 157.7 47 161.1 45 164.5 43 167.9 41 171.4" stroke="#000" stroke-opacity="0.29" stroke-width="1.0"/>
<path d="M41 171.4 39 174.8 37 178.2 35 181.6 33 185" stroke="#000" stroke-opacity="0.30" stroke-width="1.0"/>
<path d="M105 64.9 103 68.2 101 71.6 99 75 97 78.4" stroke="#fff" stroke-opacity="0.06" stroke-width="1.0"/>
<path d="M97 78.4 95 81.8 93 85.3 91 88.7 89 92.1" stroke="#fff" stroke-opacity="0.10" stroke-width="1.0"/>
<path d="M89 92.1 87 95.5 85 99 83 102.4 81 105.8" stroke="#fff" stroke-opacity="0.14" stroke-width="1.0"/>
<path d="M81 105.8 79 109.3 77 112.7 75 116.1 73 119.6" stroke="#fff" stroke-opacity="0.18" stroke-width="1.0"/>
<path d="M73 119.6 71 123 69 126.5 67 129.9 65 133.3" stroke="#fff" stroke-opacity="0.22" stroke-width="1.0"/>
<path d="M65 133.3 63 136.8 61 140.2 59 143.6 57 147.1" stroke="#fff" stroke-opacity="0.26" stroke-width="1.0"/>
<path d="M57 147.1 55 150.5 53 154 51 157.4 49 160.8" stroke="#fff" stroke-opacity="0.30" stroke-width="1.0"/>
<path d="M49 160.8 47 164.3 45 167.7 43 171.1 41 174.6" stroke="#fff" stroke-opacity="0.34" stroke-width="1.0"/>
<path d="M41 174.6 39 178 37 181.5 35 184.9 33 188.3" stroke="#fff" stroke-opacity="0.35" stroke-width="1.0"/>
<path d="M105 67.4 103 70.8 101 74.2 99 77.6 97 81.1" stroke="#000" stroke-opacity="0.05" stroke-width="1.0"/>
<path d="M97 81.1 95 84.5 93 88 91 91.4 89 94.9" stroke="#000" stroke-opacity="0.09" stroke-width="1.0"/>
<path d="M89 94.9 87 98.3 85 101.8 83 105.2 81 108.7" stroke="#000" stroke-opacity="0.12" stroke-width="1.0"/>
<path d="M81 108.7 79 112.1 77 115.6 75 119 73 122.5" stroke="#000" stroke-opacity="0.15" stroke-width="1.0"/>
<path d="M73 122.5 71 125.9 69 129.4 67 132.8 65 136.3" stroke="#000" stroke-opacity="0.19" stroke-width="1.0"/>
<path d="M65 136.3 63 139.8 61 143.2 59 146.7 57 150.1" stroke="#000" stroke-opacity="0.22" stroke-width="1.0"/>
<path d="M57 150.1 55 153.6 53 157.1 51 160.5 49 164" stroke="#000" stroke-opacity="0.26" stroke-width="1.0"/>
<path d="M49 164 47 167.4 45 170.9 43 174.3 41 177.8" stroke="#000" stroke-opacity="0.29" stroke-width="1.0"/>
<path d="M41 177.8 39 181.3 37 184.7 35 188.2 33 191.6" stroke="#000" stroke-opacity="0.30" stroke-width="1.0"/>
<path d="M97 83.7 95 87.2 93 90.7 91 94.1 89 97.6" stroke="#fff" stroke-opacity="0.06" stroke-width="1.0"/>
<path d="M89 97.6 87 101.1 85 104.5 83 108 81 111.5" stroke="#fff" stroke-opacity="0.08" stroke-width="1.0"/>
<path d="M81 111.5 79 115 77 118.4 75 121.9 73 125.4" stroke="#fff" stroke-opacity="0.10" stroke-width="1.0"/>
<path d="M73 125.4 71 128.9 69 132.3 67 135.8 65 139.3" stroke="#fff" stroke-opacity="0.13" stroke-width="1.0"/>
<path d="M65 139.3 63 142.8 61 146.2 59 149.7 57 153.2" stroke="#fff" stroke-opacity="0.15" stroke-width="1.0"/>
<path d="M57 153.2 55 156.7 53 160.2 51 163.6 49 167.1" stroke="#fff" stroke-opacity="0.17" stroke-width="1.0"/>
<path d="M49 167.1 47 170.6 45 174.1 43 177.5 41 181" stroke="#fff" stroke-opacity="0.19" stroke-width="1.0"/>
<path d="M41 181 39 184.5 37 188 35 191.5 33 194.9" stroke="#fff" stroke-opacity="0.20" stroke-width="1.0"/>
<path d="M113 51.5 111 53.5 109 56.8 107 60.5 105 64.3" stroke="#000" stroke-opacity="0.99" stroke-width="1.3"/>
<path d="M105 64.3 103 68.1 101 72 99 75.9 97 79.8" stroke="#000" stroke-opacity="0.96" stroke-width="1.3"/>
<path d="M97 79.8 95 83.7 93 87.6 91 91.5 89 95.4" stroke="#000" stroke-opacity="0.93" stroke-width="1.3"/>
<path d="M89 95.4 87 99.3 85 103.2 83 107.1 81 111" stroke="#000" stroke-opacity="0.90" stroke-width="1.3"/>
<path d="M81 111 79 114.9 77 118.8 75 122.8 73 126.7" stroke="#000" stroke-opacity="0.87" stroke-width="1.3"/>
<path d="M73 126.7 71 130.6 69 134.5 67 138.4 65 142.3" stroke="#000" stroke-opacity="0.84" stroke-width="1.3"/>
<path d="M65 142.3 63 146.3 61 150.2 59 154.1 57 158" stroke="#000" stroke-opacity="0.81" stroke-width="1.3"/>
<path d="M57 158 55 161.9 53 165.9 51 169.8 49 173.7" stroke="#000" stroke-opacity="0.79" stroke-width="1.3"/>
<path d="M49 173.7 47 177.6 45 181.5 43 185.4 41 189.4" stroke="#000" stroke-opacity="0.76" stroke-width="1.3"/>
<path d="M41 189.4 39 193.3 37 197.2 35 201.1 33 205" stroke="#000" stroke-opacity="0.75" stroke-width="1.3"/>
<path d="M113 54.5 111 56.5 109 59.8 107 63.5 105 67.3" stroke="#fff" stroke-opacity="0.99" stroke-width="1.3"/>
<path d="M105 67.3 103 71.1 101 75 99 78.9 97 82.8" stroke="#fff" stroke-opacity="0.98" stroke-width="1.3"/>
<path d="M97 82.8 95 86.7 93 90.6 91 94.5 89 98.4" stroke="#fff" stroke-opacity="0.97" stroke-width="1.3"/>
<path d="M89 98.4 87 102.3 85 106.2 83 110.1 81 114" stroke="#fff" stroke-opacity="0.96" stroke-width="1.3"/>
<path d="M81 114 79 117.9 77 121.8 75 125.8 73 129.7" stroke="#fff" stroke-opacity="0.95" stroke-width="1.3"/>
<path d="M73 129.7 71 133.6 69 137.5 67 141.4 65 145.3" stroke="#fff" stroke-opacity="0.94" stroke-width="1.3"/>
<path d="M65 145.3 63 149.3 61 153.2 59 157.1 57 161" stroke="#fff" stroke-opacity="0.93" stroke-width="1.3"/>
<path d="M57 161 55 164.9 53 168.9 51 172.8 49 176.7" stroke="#fff" stroke-opacity="0.91" stroke-width="1.3"/>
<path d="M49 176.7 47 180.6 45 184.5 43 188.4 41 192.4" stroke="#fff" stroke-opacity="0.90" stroke-width="1.3"/>
<path d="M41 192.4 39 196.3 37 200.2 35 204.1 33 208" stroke="#fff" stroke-opacity="0.90" stroke-width="1.3"/>
<path d="M113 57 111 59 109 62.4 107 66.1 105 69.9" stroke="#000" stroke-opacity="0.46" stroke-width="1.1"/>
<path d="M105 69.9 103 73.8 101 77.7 99 81.6 97 85.6" stroke="#000" stroke-opacity="0.49" stroke-width="1.1"/>
<path d="M97 85.6 95 89.5 93 93.5 91 97.4 89 101.4" stroke="#000" stroke-opacity="0.52" stroke-width="1.1"/>
<path d="M89 101.4 87 105.3 85 109.3 83 113.2 81 117.2" stroke="#000" stroke-opacity="0.55" stroke-width="1.1"/>
<path d="M81 117.2 79 121.1 77 125.1 75 129 73 133" stroke="#000" stroke-opacity="0.58" stroke-width="1.1"/>
<path d="M73 133 71 136.9 69 140.9 67 144.8 65 148.8" stroke="#000" stroke-opacity="0.61" stroke-width="1.1"/>
<path d="M65 148.8 63 152.8 61 156.7 59 160.7 57 164.6" stroke="#000" stroke-opacity="0.64" stroke-width="1.1"/>
<path d="M57 164.6 55 168.6 53 172.6 51 176.5 49 180.5" stroke="#000" stroke-opacity="0.66" stroke-width="1.1"/>
<path d="M49 180.5 47 184.4 45 188.4 43 192.3 41 196.3" stroke="#000" stroke-opacity="0.69" stroke-width="1.1"/>
<path d="M41 196.3 39 200.3 37 204.2 35 208.2 33 212.1" stroke="#000" stroke-opacity="0.70" stroke-width="1.1"/>
<path d="M113 59.5 111 61.5 109 65 107 68.7 105 72.6" stroke="#fff" stroke-opacity="0.36" stroke-width="1.0"/>
<path d="M105 72.6 103 76.5 101 80.5 99 84.4 97 88.4" stroke="#fff" stroke-opacity="0.38" stroke-width="1.0"/>
<path d="M97 88.4 95 92.4 93 96.4 91 100.3 89 104.3" stroke="#fff" stroke-opacity="0.41" stroke-width="1.0"/>
<path d="M89 104.3 87 108.3 85 112.3 83 116.3 81 120.3" stroke="#fff" stroke-opacity="0.43" stroke-width="1.0"/>
<path d="M81 120.3 79 124.3 77 128.3 75 132.3 73 136.3" stroke="#fff" stroke-opacity="0.45" stroke-width="1.0"/>
<path d="M73 136.3 71 140.3 69 144.3 67 148.3 65 152.3" stroke="#fff" stroke-opacity="0.48" stroke-width="1.0"/>
<path d="M65 152.3 63 156.3 61 160.3 59 164.3 57 168.3" stroke="#fff" stroke-opacity="0.50" stroke-width="1.0"/>
<path d="M57 168.3 55 172.3 53 176.3 51 180.3 49 184.2" stroke="#fff" stroke-opacity="0.52" stroke-width="1.0"/>
<path d="M49 184.2 47 188.2 45 192.2 43 196.2 41 200.2" stroke="#fff" stroke-opacity="0.54" stroke-width="1.0"/>
<path d="M41 200.2 39 204.2 37 208.2 35 212.2 33 216.2" stroke="#fff" stroke-opacity="0.55" stroke-width="1.0"/>
<path d="M113 62 111 64.1 109 67.5 107 71.3 105 75.3" stroke="#000" stroke-opacity="0.16" stroke-width="1.0"/>
<path d="M105 75.3 103 79.2 101 83.2 99 87.2 97 91.2" stroke="#000" stroke-opacity="0.18" stroke-width="1.0"/>
<path d="M97 91.2 95 95.2 93 99.3 91 103.3 89 107.3" stroke="#000" stroke-opacity="0.21" stroke-width="1.0"/>
<path d="M89 107.3 87 111.3 85 115.4 83 119.4 81 123.4" stroke="#000" stroke-opacity="0.23" stroke-width="1.0"/>
<path d="M81 123.4 79 127.5 77 131.5 75 135.5 73 139.6" stroke="#000" stroke-opacity="0.25" stroke-width="1.0"/>
<path d="M73 139.6 71 143.6 69 147.7 67 151.7 65 155.7" stroke="#000" stroke-opacity="0.28" stroke-width="1.0"/>
<path d="M65 155.7 63 159.8 61 163.8 59 167.8 57 171.9" stroke="#000" stroke-opacity="0.30" stroke-width="1.0"/>
<path d="M57 171.9 55 175.9 53 180 51 184 49 188" stroke="#000" stroke-opacity="0.32" stroke-width="1.0"/>
<path d="M49 188 47 192.1 45 196.1 43 200.1 41 204.2" stroke="#000" stroke-opacity="0.34" stroke-width="1.0"/>
<path d="M41 204.2 39 208.2 37 212.3 35 216.3 33 220.3" stroke="#000" stroke-opacity="0.35" stroke-width="1.0"/>
<path d="M113 64.5 111 66.6 109 70.1 107 74 105 77.9" stroke="#fff" stroke-opacity="0.11" stroke-width="1.0"/>
<path d="M105 77.9 103 81.9 101 85.9 99 90 97 94" stroke="#fff" stroke-opacity="0.13" stroke-width="1.0"/>
<path d="M97 94 95 98.1 93 102.2 91 106.2 89 110.3" stroke="#fff" stroke-opacity="0.14" stroke-width="1.0"/>
<path d="M89 110.3 87 114.4 85 118.4 83 122.5 81 126.6" stroke="#fff" stroke-opacity="0.16" stroke-width="1.0"/>
<path d="M81 126.6 79 130.7 77 134.7 75 138.8 73 142.9" stroke="#fff" stroke-opacity="0.18" stroke-width="1.0"/>
<path d="M73 142.9 71 147 69 151 67 155.1 65 159.2" stroke="#fff" stroke-opacity="0.19" stroke-width="1.0"/>
<path d="M65 159.2 63 163.3 61 167.3 59 171.4 57 175.5" stroke="#fff" stroke-opacity="0.21" stroke-width="1.0"/>
<path d="M57 175.5 55 179.6 53 183.7 51 187.7 49 191.8" stroke="#fff" stroke-opacity="0.23" stroke-width="1.0"/>
<path d="M49 191.8 47 195.9 45 200 43 204 41 208.1" stroke="#fff" stroke-opacity="0.25" stroke-width="1.0"/>
<path d="M41 208.1 39 212.2 37 216.3 35 220.4 33 224.4" stroke="#fff" stroke-opacity="0.25" stroke-width="1.0"/>
<path d="M121 62.1 123 65.4 125 68.7 127 72.1 129 75.4" stroke="#000" stroke-opacity="0.04" stroke-width="1.0"/>
<path d="M129 75.4 131 78.8 133 82.2 135 85.5 137 88.9" stroke="#000" stroke-opacity="0.07" stroke-width="1.0"/>
<path d="M137 88.9 139 92.3 141 95.6 143 99 145 102.4" stroke="#000" stroke-opacity="0.10" stroke-width="1.0"/>
<path d="M145 102.4 147 105.8 149 109.1 151 112.5 153 115.9" stroke="#000" stroke-opacity="0.13" stroke-width="1.0"/>
<path d="M153 115.9 155 119.3 157 122.6 159 126 161 129.4" stroke="#000" stroke-opacity="0.16" stroke-width="1.0"/>
<path d="M161 129.4 163 132.8 165 136.1 167 139.5 169 142.9" stroke="#000" stroke-opacity="0.19" stroke-width="1.0"/>
<path d="M169 142.9 171 146.3 173 149.7 175 153 177 156.4" stroke="#000" stroke-opacity="0.21" stroke-width="1.0"/>
<path d="M177 156.4 179 159.8 181 163.2 183 166.5 185 169.9" stroke="#000" stroke-opacity="0.24" stroke-width="1.0"/>
<path d="M185 169.9 187 173.3 189 176.7 191 180.1 193 183.4" stroke="#000" stroke-opacity="0.25" stroke-width="1.0"/>
<path d="M121 64.7 123 68 125 71.4 127 74.7 129 78.1" stroke="#fff" stroke-opacity="0.05" stroke-width="1.0"/>
<path d="M129 78.1 131 81.5 133 84.9 135 88.2 137 91.6" stroke="#fff" stroke-opacity="0.09" stroke-width="1.0"/>
<path d="M137 91.6 139 95 141 98.4 143 101.8 145 105.2" stroke="#fff" stroke-opacity="0.12" stroke-width="1.0"/>
<path d="M145 105.2 147 108.6 149 112 151 115.4 153 118.8" stroke="#fff" stroke-opacity="0.15" stroke-width="1.0"/>
<path d="M153 118.8 155 122.2 157 125.6 159 129 161 132.4" stroke="#fff" stroke-opacity="0.19" stroke-width="1.0"/>
<path d="M161 132.4 163 135.8 165 139.2 167 142.6 169 146" stroke="#fff" stroke-opacity="0.22" stroke-width="1.0"/>
<path d="M169 146 171 149.4 173 152.8 175 156.2 177 159.6" stroke="#fff" stroke-opacity="0.26" stroke-width="1.0"/>
<path d="M177 159.6 179 162.9 181 166.3 183 169.7 185 173.1" stroke="#fff" stroke-opacity="0.29" stroke-width="1.0"/>
<path d="M185 173.1 187 176.5 189 179.9 191 183.3 193 186.7" stroke="#fff" stroke-opacity="0.30" stroke-width="1.0"/>
<path d="M121 67.3 123 70.6 125 74 127 77.4 129 80.8" stroke="#000" stroke-opacity="0.04" stroke-width="1.0"/>
<path d="M129 80.8 131 84.2 133 87.6 135 91 137 94.4" stroke="#000" stroke-opacity="0.07" stroke-width="1.0"/>
<path d="M137 94.4 139 97.8 141 101.2 143 104.6 145 108" stroke="#000" stroke-opacity="0.10" stroke-width="1.0"/>
<path d="M145 108 147 111.4 149 114.8 151 118.3 153 121.7" stroke="#000" stroke-opacity="0.13" stroke-width="1.0"/>
<path d="M153 121.7 155 125.1 157 128.5 159 131.9 161 135.3" stroke="#000" stroke-opacity="0.16" stroke-width="1.0"/>
<path d="M161 135.3 163 138.8 165 142.2 167 145.6 169 149" stroke="#000" stroke-opacity="0.19" stroke-width="1.0"/>
<path d="M169 149 171 152.4 173 155.9 175 159.3 177 162.7" stroke="#000" stroke-opacity="0.21" stroke-width="1.0"/>
<path d="M177 162.7 179 166.1 181 169.5 183 172.9 185 176.4" stroke="#000" stroke-opacity="0.24" stroke-width="1.0"/>
<path d="M185 176.4 187 179.8 189 183.2 191 186.6 193 190" stroke="#000" stroke-opacity="0.25" stroke-width="1.0"/>
<path d="M129 83.4 131 86.8 133 90.3 135 93.7 137 97.1" stroke="#fff" stroke-opacity="0.04" stroke-width="1.0"/>
<path d="M137 97.1 139 100.5 141 104 143 107.4 145 110.8" stroke="#fff" stroke-opacity="0.06" stroke-width="1.0"/>
<path d="M145 110.8 147 114.3 149 117.7 151 121.1 153 124.6" stroke="#fff" stroke-opacity="0.08" stroke-width="1.0"/>
<path d="M153 124.6 155 128 157 131.5 159 134.9 161 138.3" stroke="#fff" stroke-opacity="0.09" stroke-width="1.0"/>
<path d="M161 138.3 163 141.8 165 145.2 167 148.6 169 152.1" stroke="#fff" stroke-opacity="0.11" stroke-width="1.0"/>
<path d="M169 152.1 171 155.5 173 159 175 162.4 177 165.8" stroke="#fff" stroke-opacity="0.13" stroke-width="1.0"/>
<path d="M177 165.8 179 169.3 181 172.7 183 176.1 185 179.6" stroke="#fff" stroke-opacity="0.15" stroke-width="1.0"/>
<path d="M185 179.6 187 183 189 186.5 191 189.9 193 193.3" stroke="#fff" stroke-opacity="0.15" stroke-width="1.0"/>
<path d="M113 51.5 115 53.4 117 56.7 119 60.4 121 64.1" stroke="#000" stroke-opacity="0.97" stroke-width="1.2"/>
<path d="M121 64.1 123 67.9 125 71.7 127 75.6 129 79.4" stroke="#000" stroke-opacity="0.92" stroke-width="1.2"/>
<path d="M129 79.4 131 83.3 133 87.2 135 91 137 94.9" stroke="#000" stroke-opacity="0.87" stroke-width="1.2"/>
<path d="M137 94.9 139 98.8 141 102.6 143 106.5 145 110.4" stroke="#000" stroke-opacity="0.82" stroke-width="1.2"/>
<path d="M145 110.4 147 114.3 149 118.1 151 122 153 125.9" stroke="#000" stroke-opacity="0.77" stroke-width="1.2"/>
<path d="M153 125.9 155 129.8 157 133.6 159 137.5 161 141.4" stroke="#000" stroke-opacity="0.72" stroke-width="1.2"/>
<path d="M161 141.4 163 145.3 165 149.1 167 153 169 156.9" stroke="#000" stroke-opacity="0.67" stroke-width="1.2"/>
<path d="M169 156.9 171 160.8 173 164.7 175 168.5 177 172.4" stroke="#000" stroke-opacity="0.61" stroke-width="1.2"/>
<path d="M177 172.4 179 176.3 181 180.2 183 184 185 187.9" stroke="#000" stroke-opacity="0.56" stroke-width="1.2"/>
<path d="M185 187.9 187 191.8 189 195.7 191 199.6 193 203.4" stroke="#000" stroke-opacity="0.55" stroke-width="1.2"/>
<path d="M113 54.5 115 56.4 117 59.7 119 63.4 121 67.1" stroke="#fff" stroke-opacity="0.98" stroke-width="1.2"/>
<path d="M121 67.1 123 70.9 125 74.7 127 78.6 129 82.4" stroke="#fff" stroke-opacity="0.94" stroke-width="1.2"/>
<path d="M129 82.4 131 86.3 133 90.2 135 94 137 97.9" stroke="#fff" stroke-opacity="0.90" stroke-width="1.2"/>
<path d="M137 97.9 139 101.8 141 105.6 143 109.5 145 113.4" stroke="#fff" stroke-opacity="0.86" stroke-width="1.2"/>
<path d="M145 113.4 147 117.3 149 121.1 151 125 153 128.9" stroke="#fff" stroke-opacity="0.82" stroke-width="1.2"/>
<path d="M153 128.9 155 132.8 157 136.6 159 140.5 161 144.4" stroke="#fff" stroke-opacity="0.78" stroke-width="1.2"/>
<path d="M161 144.4 163 148.3 165 152.1 167 156 169 159.9" stroke="#fff" stroke-opacity="0.74" stroke-width="1.2"/>
<path d="M169 159.9 171 163.8 173 167.7 175 171.5 177 175.4" stroke="#fff" stroke-opacity="0.70" stroke-width="1.2"/>
<path d="M177 175.4 179 179.3 181 183.2 183 187 185 190.9" stroke="#fff" stroke-opacity="0.66" stroke-width="1.2"/>
<path d="M185 190.9 187 194.8 189 198.7 191 202.6 193 206.4" stroke="#fff" stroke-opacity="0.65" stroke-width="1.2"/>
<path d="M113 57 115 59 117 62.3 119 66 121 69.8" stroke="#000" stroke-opacity="0.45" stroke-width="1.0"/>
<path d="M121 69.8 123 73.6 125 77.5 127 81.4 129 85.3" stroke="#000" stroke-opacity="0.46" stroke-width="1.0"/>
<path d="M129 85.3 131 89.2 133 93.1 135 97 137 100.9" stroke="#000" stroke-opacity="0.46" stroke-width="1.0"/>
<path d="M137 100.9 139 104.8 141 108.7 143 112.6 145 116.5" stroke="#000" stroke-opacity="0.47" stroke-width="1.0"/>
<path d="M145 116.5 147 120.4 149 124.3 151 128.3 153 132.2" stroke="#000" stroke-opacity="0.48" stroke-width="1.0"/>
<path d="M153 132.2 155 136.1 157 140 159 143.9 161 147.8" stroke="#000" stroke-opacity="0.48" stroke-width="1.0"/>
<path d="M161 147.8 163 151.8 165 155.7 167 159.6 169 163.5" stroke="#000" stroke-opacity="0.49" stroke-width="1.0"/>
<path d="M169 163.5 171 167.4 173 171.4 175 175.3 177 179.2" stroke="#000" stroke-opacity="0.49" stroke-width="1.0"/>
<path d="M177 179.2 179 183.1 181 187 183 190.9 185 194.9" stroke="#000" stroke-opacity="0.50" stroke-width="1.0"/>
<path d="M185 194.9 187 198.8 189 202.7 191 206.6 193 210.5" stroke="#000" stroke-opacity="0.50" stroke-width="1.0"/>
<path d="M113 59.5 115 61.5 117 64.9 119 68.6 121 72.4" stroke="#fff" stroke-opacity="0.35" stroke-width="1.0"/>
<path d="M121 72.4 123 76.3 125 80.2 127 84.1 129 88.1" stroke="#fff" stroke-opacity="0.36" stroke-width="1.0"/>
<path d="M129 88.1 131 92 133 96 135 99.9 137 103.9" stroke="#fff" stroke-opacity="0.36" stroke-width="1.0"/>
<path d="M137 103.9 139 107.8 141 111.8 143 115.7 145 119.7" stroke="#fff" stroke-opacity="0.37" stroke-width="1.0"/>
<path d="M145 119.7 147 123.6 149 127.6 151 131.5 153 135.5" stroke="#fff" stroke-opacity="0.38" stroke-width="1.0"/>
<path d="M153 135.5 155 139.4 157 143.4 159 147.4 161 151.3" stroke="#fff" stroke-opacity="0.38" stroke-width="1.0"/>
<path d="M161 151.3 163 155.3 165 159.2 167 163.2 169 167.1" stroke="#fff" stroke-opacity="0.39" stroke-width="1.0"/>
<path d="M169 167.1 171 171.1 173 175.1 175 179 177 183" stroke="#fff" stroke-opacity="0.39" stroke-width="1.0"/>
<path d="M177 183 179 186.9 181 190.9 183 194.8 185 198.8" stroke="#fff" stroke-opacity="0.40" stroke-width="1.0"/>
<path d="M185 198.8 187 202.8 189 206.7 191 210.7 193 214.6" stroke="#fff" stroke-opacity="0.40" stroke-width="1.0"/>
<path d="M113 62 115 64 117 67.5 119 71.2 121 75.1" stroke="#000" stroke-opacity="0.16" stroke-width="1.0"/>
<path d="M121 75.1 123 79 125 83 127 86.9 129 90.9" stroke="#000" stroke-opacity="0.17" stroke-width="1.0"/>
<path d="M129 90.9 131 94.9 133 98.9 135 102.8 137 106.8" stroke="#000" stroke-opacity="0.18" stroke-width="1.0"/>
<path d="M137 106.8 139 110.8 141 114.8 143 118.8 145 122.8" stroke="#000" stroke-opacity="0.19" stroke-width="1.0"/>
<path d="M145 122.8 147 126.8 149 130.8 151 134.8 153 138.8" stroke="#000" stroke-opacity="0.20" stroke-width="1.0"/>
<path d="M153 138.8 155 142.8 157 146.8 159 150.8 161 154.8" stroke="#000" stroke-opacity="0.21" stroke-width="1.0"/>
<path d="M161 154.8 163 158.8 165 162.8 167 166.8 169 170.8" stroke="#000" stroke-opacity="0.22" stroke-width="1.0"/>
<path d="M169 170.8 171 174.8 173 178.8 175 182.8 177 186.8" stroke="#000" stroke-opacity="0.24" stroke-width="1.0"/>
<path d="M177 186.8 179 190.7 181 194.7 183 198.7 185 202.7" stroke="#000" stroke-opacity="0.25" stroke-width="1.0"/>
<path d="M185 202.7 187 206.7 189 210.7 191 214.7 193 218.7" stroke="#000" stroke-opacity="0.25" stroke-width="1.0"/>
<path d="M113 64.5 115 66.6 117 70 119 73.8 121 77.8" stroke="#fff" stroke-opacity="0.11" stroke-width="1.0"/>
<path d="M121 77.8 123 81.7 125 85.7 127 89.7 129 93.7" stroke="#fff" stroke-opacity="0.12" stroke-width="1.0"/>
<path d="M129 93.7 131 97.7 133 101.8 135 105.8 137 109.8" stroke="#fff" stroke-opacity="0.13" stroke-width="1.0"/>
<path d="M137 109.8 139 113.8 141 117.9 143 121.9 145 125.9" stroke="#fff" stroke-opacity="0.14" stroke-width="1.0"/>
<path d="M145 125.9 147 130 149 134 151 138 153 142.1" stroke="#fff" stroke-opacity="0.15" stroke-width="1.0"/>
<path d="M153 142.1 155 146.1 157 150.2 159 154.2 161 158.2" stroke="#fff" stroke-opacity="0.16" stroke-width="1.0"/>
<path d="M161 158.2 163 162.3 165 166.3 167 170.3 169 174.4" stroke="#fff" stroke-opacity="0.17" stroke-width="1.0"/>
<path d="M169 174.4 171 178.4 173 182.5 175 186.5 177 190.5" stroke="#fff" stroke-opacity="0.19" stroke-width="1.0"/>
<path d="M177 190.5 179 194.6 181 198.6 183 202.6 185 206.7" stroke="#fff" stroke-opacity="0.20" stroke-width="1.0"/>
<path d="M185 206.7 187 210.7 189 214.8 191 218.8 193 222.8" stroke="#fff" stroke-opacity="0.20" stroke-width="1.0"/>
</g></g>
<rect x="42.5" y="42.5" width="140" height="210" fill="none" stroke="#000" stroke-width="3"/>
</g>
<rect x="217.1" y="37.6" width="2.6" height="4" fill="#000"/>
<rect x="248.3" y="37.6" width="2.6" height="4" fill="#000"/>
<rect x="279.5" y="37.6" width="2.6" height="4" fill="#000"/>
<rect x="310.7" y="37.6" width="2.6" height="4" fill="#000"/>
<rect x="341.9" y="37.6" width="2.6" height="4" fill="#000"/>
<rect x="213.4" y="41.5" width="4" height="2.2" fill="#000"/>
<rect x="213.4" y="85.4" width="4" height="2.2" fill="#000"/>
<rect x="213.4" y="129.3" width="4" height="2.2" fill="#000"/>
<rect x="213.4" y="173.2" width="4" height="2.2" fill="#000"/>
<rect x="213.4" y="217.1" width="4" height="2.2" fill="#000"/>
<g transform="translate(352,0)">
<rect x="44" y="44" width="138" height="207" fill="#808080"/>
<g clip-path="url(#cin)"><g filter="url(#soft)"><g clip-path="url(#cfa)"><g mask="url(#mk)">
<g clip-path="url(#cIn)"><g mask="url(#mk)"><use href="#tin" opacity="0.42"/></g></g>
</g>
<g mask="url(#mOut)"><use href="#tout" opacity="0.7"/></g>
<path d="M112 138 115 135.4 118 133 118.5 132.6" stroke="#fff" stroke-opacity="0.18" stroke-width="1.2"/><path d="M118.5 132.6 121.5 130.2 124.5 128.1 127.5 126.3 130.2 125.2" stroke="#fff" stroke-opacity="0.37" stroke-width="1.2"/><path d="M130.2 125.2 133.2 125.1 136.2 126.1 139.2 127.8 141.3 129.3" stroke="#fff" stroke-opacity="0.44" stroke-width="1.2"/><path d="M141.3 129.3 144.3 131.6 147.3 134.1 149.5 135.9" stroke="#fff" stroke-opacity="0.23" stroke-width="1.2"/><path d="M149.5 135.9 150 136.3" stroke="#fff" stroke-opacity="0.19" stroke-width="1.2"/>
<path d="M112 141.5 115 138.9 118 136.5 121 134.1 122.1 133.2" stroke="#000" stroke-opacity="0.30" stroke-width="1.1"/><path d="M122.1 133.2 125.1 131.1 128.1 129.4 131.1 128.6 134.1 128.8 135.8 129.4" stroke="#000" stroke-opacity="0.16" stroke-width="1.1"/><path d="M135.8 129.4 138.8 131 141.8 133.1 144.8 135.5 147.4 137.6" stroke="#000" stroke-opacity="0.16" stroke-width="1.1"/><path d="M147.4 137.6 150 139.8" stroke="#000" stroke-opacity="0.30" stroke-width="1.1"/>
<path d="M100 165.2 103 162.6 106 160 109 157.5 112 155.1 112.8 154.4" stroke="#fff" stroke-opacity="0.17" stroke-width="1.2"/><path d="M112.8 154.4 115.8 152.1 118.8 149.9 121.8 147.9 124.8 146.3" stroke="#fff" stroke-opacity="0.20" stroke-width="1.2"/><path d="M124.8 146.3 127.8 145.2 130.8 145 133.8 145.7 134 145.8" stroke="#fff" stroke-opacity="0.44" stroke-width="1.2"/><path d="M134 145.8 137 147.2 140 149.1 143 151.2 146 153.5 146.8 154.1" stroke="#fff" stroke-opacity="0.18" stroke-width="1.2"/><path d="M146.8 154.1 149.8 156.5 150 156.7" stroke="#fff" stroke-opacity="0.17" stroke-width="1.2"/>
</g>
<path d="M113 53 110 60.1 107 69.4 104 79 101 88.5 98 98.1 95 107.7 92 117.3 89 126.9 86 136.5 83 146 80 155.6 77 165.2 74 174.8 71 184.4 68 194 65 203.6 62 213.2 59 222.8 56 232.4 53 242 50 251.6 47 261.2 44 270.8 41 280.4" stroke="#fff" stroke-opacity="0.4" stroke-width="1.1"/>
<path d="M113 55.5 110 62.6 107 71.9 104 81.5 101 91 98 100.6 95 110.2 92 119.8 89 129.4 86 139 83 148.5 80 158.1 77 167.7 74 177.3 71 186.9 68 196.5 65 206.1 62 215.7 59 225.3 56 234.9 53 244.5 50 254.1 47 263.7 44 273.3 41 282.9" stroke="#000" stroke-opacity="0.4" stroke-width="1.1"/>
<path d="M113 53 116 59.9 119 69.1 122 78.5 125 87.9 128 97.3 131 106.8 134 116.2 137 125.7 140 135.1 143 144.5 146 154 149 163.4 152 172.9 155 182.3 158 191.8 161 201.2 164 210.7 167 220.1 170 229.6 173 239 176 248.5 179 257.9 182 267.4 185 276.8" stroke="#fff" stroke-opacity="0.4" stroke-width="1.1"/>
<path d="M113 55.5 116 62.4 119 71.6 122 81 125 90.4 128 99.8 131 109.3 134 118.7 137 128.2 140 137.6 143 147 146 156.5 149 165.9 152 175.4 155 184.8 158 194.3 161 203.7 164 213.2 167 222.6 170 232.1 173 241.5 176 251 179 260.4 182 269.9 185 279.3" stroke="#000" stroke-opacity="0.4" stroke-width="1.1"/>
<path d="M113 51.5 111 53 109 55.8 107 59 105 62.3" stroke="#000" stroke-opacity="0.97" stroke-width="1.2"/>
<path d="M105 62.3 103 65.6 101 69 99 72.4 97 75.8" stroke="#000" stroke-opacity="0.91" stroke-width="1.2"/>
<path d="M97 75.8 95 79.2 93 82.6 91 86 89 89.4" stroke="#000" stroke-opacity="0.86" stroke-width="1.2"/>
<path d="M89 89.4 87 92.8 85 96.2 83 99.6 81 103" stroke="#000" stroke-opacity="0.80" stroke-width="1.2"/>
<path d="M81 103 79 106.4 77 109.8 75 113.3 73 116.7" stroke="#000" stroke-opacity="0.74" stroke-width="1.2"/>
<path d="M73 116.7 71 120.1 69 123.5 67 126.9 65 130.3" stroke="#000" stroke-opacity="0.69" stroke-width="1.2"/>
<path d="M65 130.3 63 133.8 61 137.2 59 140.6 57 144" stroke="#000" stroke-opacity="0.63" stroke-width="1.2"/>
<path d="M57 144 55 147.4 53 150.9 51 154.3 49 157.7" stroke="#000" stroke-opacity="0.57" stroke-width="1.2"/>
<path d="M49 157.7 47 161.1 45 164.5 43 167.9 41 171.4" stroke="#000" stroke-opacity="0.51" stroke-width="1.2"/>
<path d="M41 171.4 39 174.8 37 178.2 35 181.6 33 185" stroke="#000" stroke-opacity="0.50" stroke-width="1.2"/>
<path d="M113 54.1 111 55.6 109 58.5 107 61.7 105 65" stroke="#fff" stroke-opacity="0.98" stroke-width="1.0"/>
<path d="M105 65 103 68.4 101 71.8 99 75.3 97 78.7" stroke="#fff" stroke-opacity="0.93" stroke-width="1.0"/>
<path d="M97 78.7 95 82.2 93 85.6 91 89 89 92.5" stroke="#fff" stroke-opacity="0.89" stroke-width="1.0"/>
<path d="M89 92.5 87 96 85 99.4 83 102.9 81 106.3" stroke="#fff" stroke-opacity="0.84" stroke-width="1.0"/>
<path d="M81 106.3 79 109.8 77 113.2 75 116.7 73 120.2" stroke="#fff" stroke-opacity="0.79" stroke-width="1.0"/>
<path d="M73 120.2 71 123.6 69 127.1 67 130.5 65 134" stroke="#fff" stroke-opacity="0.75" stroke-width="1.0"/>
<path d="M65 134 63 137.5 61 140.9 59 144.4 57 147.8" stroke="#fff" stroke-opacity="0.70" stroke-width="1.0"/>
<path d="M57 147.8 55 151.3 53 154.8 51 158.2 49 161.7" stroke="#fff" stroke-opacity="0.66" stroke-width="1.0"/>
<path d="M49 161.7 47 165.2 45 168.6 43 172.1 41 175.5" stroke="#fff" stroke-opacity="0.61" stroke-width="1.0"/>
<path d="M41 175.5 39 179 37 182.5 35 185.9 33 189.4" stroke="#fff" stroke-opacity="0.60" stroke-width="1.0"/>
<path d="M113 56.7 111 58.2 109 61.2 107 64.4 105 67.8" stroke="#000" stroke-opacity="0.80" stroke-width="1.0"/>
<path d="M105 67.8 103 71.3 101 74.7 99 78.2 97 81.7" stroke="#000" stroke-opacity="0.79" stroke-width="1.0"/>
<path d="M97 81.7 95 85.1 93 88.6 91 92.1 89 95.6" stroke="#000" stroke-opacity="0.79" stroke-width="1.0"/>
<path d="M89 95.6 87 99.1 85 102.6 83 106.1 81 109.6" stroke="#000" stroke-opacity="0.78" stroke-width="1.0"/>
<path d="M81 109.6 79 113.1 77 116.6 75 120.1 73 123.6" stroke="#000" stroke-opacity="0.77" stroke-width="1.0"/>
<path d="M73 123.6 71 127.1 69 130.6 67 134.2 65 137.7" stroke="#000" stroke-opacity="0.77" stroke-width="1.0"/>
<path d="M65 137.7 63 141.2 61 144.7 59 148.2 57 151.7" stroke="#000" stroke-opacity="0.76" stroke-width="1.0"/>
<path d="M57 151.7 55 155.2 53 158.7 51 162.2 49 165.7" stroke="#000" stroke-opacity="0.76" stroke-width="1.0"/>
<path d="M49 165.7 47 169.2 45 172.7 43 176.2 41 179.7" stroke="#000" stroke-opacity="0.75" stroke-width="1.0"/>
<path d="M41 179.7 39 183.2 37 186.7 35 190.3 33 193.8" stroke="#000" stroke-opacity="0.75" stroke-width="1.0"/>
<path d="M113 59.3 111 60.9 109 63.9 107 67.2 105 70.6" stroke="#fff" stroke-opacity="0.71" stroke-width="1.0"/>
<path d="M105 70.6 103 74.1 101 77.6 99 81.1 97 84.6" stroke="#fff" stroke-opacity="0.73" stroke-width="1.0"/>
<path d="M97 84.6 95 88.1 93 91.7 91 95.2 89 98.8" stroke="#fff" stroke-opacity="0.76" stroke-width="1.0"/>
<path d="M89 98.8 87 102.3 85 105.8 83 109.4 81 112.9" stroke="#fff" stroke-opacity="0.78" stroke-width="1.0"/>
<path d="M81 112.9 79 116.5 77 120 75 123.6 73 127.1" stroke="#fff" stroke-opacity="0.80" stroke-width="1.0"/>
<path d="M73 127.1 71 130.7 69 134.2 67 137.8 65 141.3" stroke="#fff" stroke-opacity="0.83" stroke-width="1.0"/>
<path d="M65 141.3 63 144.9 61 148.4 59 152 57 155.5" stroke="#fff" stroke-opacity="0.85" stroke-width="1.0"/>
<path d="M57 155.5 55 159.1 53 162.6 51 166.2 49 169.7" stroke="#fff" stroke-opacity="0.87" stroke-width="1.0"/>
<path d="M49 169.7 47 173.3 45 176.8 43 180.4 41 183.9" stroke="#fff" stroke-opacity="0.89" stroke-width="1.0"/>
<path d="M41 183.9 39 187.5 37 191 35 194.6 33 198.1" stroke="#fff" stroke-opacity="0.90" stroke-width="1.0"/>
<path d="M113 61.9 111 63.5 109 66.5 107 69.9 105 73.4" stroke="#000" stroke-opacity="0.20" stroke-width="1.0"/>
<path d="M105 73.4 103 76.9 101 80.4 99 84 97 87.6" stroke="#000" stroke-opacity="0.29" stroke-width="1.0"/>
<path d="M97 87.6 95 91.1 93 94.7 91 98.3 89 101.9" stroke="#000" stroke-opacity="0.38" stroke-width="1.0"/>
<path d="M89 101.9 87 105.5 85 109.1 83 112.6 81 116.2" stroke="#000" stroke-opacity="0.47" stroke-width="1.0"/>
<path d="M81 116.2 79 119.8 77 123.4 75 127 73 130.6" stroke="#000" stroke-opacity="0.56" stroke-width="1.0"/>
<path d="M73 130.6 71 134.2 69 137.8 67 141.4 65 145" stroke="#000" stroke-opacity="0.65" stroke-width="1.0"/>
<path d="M65 145 63 148.6 61 152.2 59 155.8 57 159.3" stroke="#000" stroke-opacity="0.74" stroke-width="1.0"/>
<path d="M57 159.3 55 162.9 53 166.5 51 170.1 49 173.7" stroke="#000" stroke-opacity="0.84" stroke-width="1.0"/>
<path d="M49 173.7 47 177.3 45 180.9 43 184.5 41 188.1" stroke="#000" stroke-opacity="0.93" stroke-width="1.0"/>
<path d="M41 188.1 39 191.7 37 195.3 35 198.9 33 202.5" stroke="#000" stroke-opacity="0.95" stroke-width="1.0"/>
<path d="M113 64.5 111 66.2 109 69.2 107 72.6 105 76.2" stroke="#fff" stroke-opacity="0.15" stroke-width="1.0"/>
<path d="M105 76.2 103 79.7 101 83.3 99 86.9 97 90.5" stroke="#fff" stroke-opacity="0.24" stroke-width="1.0"/>
<path d="M97 90.5 95 94.1 93 97.8 91 101.4 89 105" stroke="#fff" stroke-opacity="0.33" stroke-width="1.0"/>
<path d="M89 105 87 108.6 85 112.3 83 115.9 81 119.5" stroke="#fff" stroke-opacity="0.42" stroke-width="1.0"/>
<path d="M81 119.5 79 123.2 77 126.8 75 130.4 73 134.1" stroke="#fff" stroke-opacity="0.51" stroke-width="1.0"/>
<path d="M73 134.1 71 137.7 69 141.4 67 145 65 148.6" stroke="#fff" stroke-opacity="0.60" stroke-width="1.0"/>
<path d="M65 148.6 63 152.3 61 155.9 59 159.5 57 163.2" stroke="#fff" stroke-opacity="0.69" stroke-width="1.0"/>
<path d="M57 163.2 55 166.8 53 170.5 51 174.1 49 177.7" stroke="#fff" stroke-opacity="0.79" stroke-width="1.0"/>
<path d="M49 177.7 47 181.4 45 185 43 188.6 41 192.3" stroke="#fff" stroke-opacity="0.88" stroke-width="1.0"/>
<path d="M41 192.3 39 195.9 37 199.6 35 203.2 33 206.8" stroke="#fff" stroke-opacity="0.90" stroke-width="1.0"/>
<path d="M113 67.1 111 68.8 109 71.9 107 75.4 105 78.9" stroke="#000" stroke-opacity="0.09" stroke-width="1.0"/>
<path d="M105 78.9 103 82.5 101 86.2 99 89.8 97 93.5" stroke="#000" stroke-opacity="0.16" stroke-width="1.0"/>
<path d="M97 93.5 95 97.1 93 100.8 91 104.5 89 108.1" stroke="#000" stroke-opacity="0.24" stroke-width="1.0"/>
<path d="M89 108.1 87 111.8 85 115.5 83 119.2 81 122.8" stroke="#000" stroke-opacity="0.31" stroke-width="1.0"/>
<path d="M81 122.8 79 126.5 77 130.2 75 133.9 73 137.6" stroke="#000" stroke-opacity="0.38" stroke-width="1.0"/>
<path d="M73 137.6 71 141.2 69 144.9 67 148.6 65 152.3" stroke="#000" stroke-opacity="0.46" stroke-width="1.0"/>
<path d="M65 152.3 63 156 61 159.6 59 163.3 57 167" stroke="#000" stroke-opacity="0.53" stroke-width="1.0"/>
<path d="M57 167 55 170.7 53 174.4 51 178.1 49 181.7" stroke="#000" stroke-opacity="0.61" stroke-width="1.0"/>
<path d="M49 181.7 47 185.4 45 189.1 43 192.8 41 196.5" stroke="#000" stroke-opacity="0.68" stroke-width="1.0"/>
<path d="M41 196.5 39 200.2 37 203.8 35 207.5 33 211.2" stroke="#000" stroke-opacity="0.70" stroke-width="1.0"/>
<path d="M113 69.7 111 71.5 109 74.6 107 78.1 105 81.7" stroke="#fff" stroke-opacity="0.06" stroke-width="1.0"/>
<path d="M105 81.7 103 85.4 101 89 99 92.7 97 96.4" stroke="#fff" stroke-opacity="0.11" stroke-width="1.0"/>
<path d="M97 96.4 95 100.1 93 103.8 91 107.6 89 111.3" stroke="#fff" stroke-opacity="0.16" stroke-width="1.0"/>
<path d="M89 111.3 87 115 85 118.7 83 122.4 81 126.1" stroke="#fff" stroke-opacity="0.22" stroke-width="1.0"/>
<path d="M81 126.1 79 129.9 77 133.6 75 137.3 73 141" stroke="#fff" stroke-opacity="0.27" stroke-width="1.0"/>
<path d="M73 141 71 144.8 69 148.5 67 152.2 65 155.9" stroke="#fff" stroke-opacity="0.33" stroke-width="1.0"/>
<path d="M65 155.9 63 159.7 61 163.4 59 167.1 57 170.8" stroke="#fff" stroke-opacity="0.38" stroke-width="1.0"/>
<path d="M57 170.8 55 174.6 53 178.3 51 182 49 185.7" stroke="#fff" stroke-opacity="0.43" stroke-width="1.0"/>
<path d="M49 185.7 47 189.5 45 193.2 43 196.9 41 200.7" stroke="#fff" stroke-opacity="0.49" stroke-width="1.0"/>
<path d="M41 200.7 39 204.4 37 208.1 35 211.8 33 215.6" stroke="#fff" stroke-opacity="0.50" stroke-width="1.0"/>
<path d="M105 84.5 103 88.2 101 91.9 99 95.6 97 99.4" stroke="#000" stroke-opacity="0.07" stroke-width="1.0"/>
<path d="M97 99.4 95 103.1 93 106.9 91 110.6 89 114.4" stroke="#000" stroke-opacity="0.10" stroke-width="1.0"/>
<path d="M89 114.4 87 118.2 85 121.9 83 125.7 81 129.5" stroke="#000" stroke-opacity="0.13" stroke-width="1.0"/>
<path d="M81 129.5 79 133.2 77 137 75 140.8 73 144.5" stroke="#000" stroke-opacity="0.16" stroke-width="1.0"/>
<path d="M73 144.5 71 148.3 69 152.1 67 155.8 65 159.6" stroke="#000" stroke-opacity="0.20" stroke-width="1.0"/>
<path d="M65 159.6 63 163.4 61 167.1 59 170.9 57 174.7" stroke="#000" stroke-opacity="0.23" stroke-width="1.0"/>
<path d="M57 174.7 55 178.4 53 182.2 51 186 49 189.8" stroke="#000" stroke-opacity="0.26" stroke-width="1.0"/>
<path d="M49 189.8 47 193.5 45 197.3 43 201.1 41 204.8" stroke="#000" stroke-opacity="0.29" stroke-width="1.0"/>
<path d="M41 204.8 39 208.6 37 212.4 35 216.1 33 219.9" stroke="#000" stroke-opacity="0.30" stroke-width="1.0"/>
<path d="M113 51.5 115 52.9 117 55.7 119 58.9 121 62.1" stroke="#000" stroke-opacity="0.97" stroke-width="1.2"/>
<path d="M121 62.1 123 65.4 125 68.7 127 72.1 129 75.4" stroke="#000" stroke-opacity="0.90" stroke-width="1.2"/>
<path d="M129 75.4 131 78.8 133 82.2 135 85.5 137 88.9" stroke="#000" stroke-opacity="0.83" stroke-width="1.2"/>
<path d="M137 88.9 139 92.3 141 95.6 143 99 145 102.4" stroke="#000" stroke-opacity="0.76" stroke-width="1.2"/>
<path d="M145 102.4 147 105.8 149 109.1 151 112.5 153 115.9" stroke="#000" stroke-opacity="0.69" stroke-width="1.2"/>
<path d="M153 115.9 155 119.3 157 122.6 159 126 161 129.4" stroke="#000" stroke-opacity="0.62" stroke-width="1.2"/>
<path d="M161 129.4 163 132.8 165 136.1 167 139.5 169 142.9" stroke="#000" stroke-opacity="0.55" stroke-width="1.2"/>
<path d="M169 142.9 171 146.3 173 149.7 175 153 177 156.4" stroke="#000" stroke-opacity="0.49" stroke-width="1.2"/>
<path d="M177 156.4 179 159.8 181 163.2 183 166.5 185 169.9" stroke="#000" stroke-opacity="0.42" stroke-width="1.2"/>
<path d="M185 169.9 187 173.3 189 176.7 191 180.1 193 183.4" stroke="#000" stroke-opacity="0.40" stroke-width="1.2"/>
<path d="M113 54.1 115 55.6 117 58.4 119 61.6 121 64.9" stroke="#fff" stroke-opacity="0.97" stroke-width="1.0"/>
<path d="M121 64.9 123 68.2 125 71.6 127 75 129 78.4" stroke="#fff" stroke-opacity="0.91" stroke-width="1.0"/>
<path d="M129 78.4 131 81.8 133 85.2 135 88.6 137 92" stroke="#fff" stroke-opacity="0.86" stroke-width="1.0"/>
<path d="M137 92 139 95.4 141 98.9 143 102.3 145 105.7" stroke="#fff" stroke-opacity="0.80" stroke-width="1.0"/>
<path d="M145 105.7 147 109.1 149 112.5 151 115.9 153 119.4" stroke="#fff" stroke-opacity="0.74" stroke-width="1.0"/>
<path d="M153 119.4 155 122.8 157 126.2 159 129.6 161 133" stroke="#fff" stroke-opacity="0.69" stroke-width="1.0"/>
<path d="M161 133 163 136.5 165 139.9 167 143.3 169 146.7" stroke="#fff" stroke-opacity="0.63" stroke-width="1.0"/>
<path d="M169 146.7 171 150.2 173 153.6 175 157 177 160.4" stroke="#fff" stroke-opacity="0.57" stroke-width="1.0"/>
<path d="M177 160.4 179 163.8 181 167.3 183 170.7 185 174.1" stroke="#fff" stroke-opacity="0.51" stroke-width="1.0"/>
<path d="M185 174.1 187 177.5 189 181 191 184.4 193 187.8" stroke="#fff" stroke-opacity="0.50" stroke-width="1.0"/>
<path d="M113 56.7 115 58.2 117 61.1 119 64.3 121 67.7" stroke="#000" stroke-opacity="0.69" stroke-width="1.0"/>
<path d="M121 67.7 123 71.1 125 74.5 127 77.9 129 81.3" stroke="#000" stroke-opacity="0.67" stroke-width="1.0"/>
<path d="M129 81.3 131 84.8 133 88.2 135 91.7 137 95.2" stroke="#000" stroke-opacity="0.66" stroke-width="1.0"/>
<path d="M137 95.2 139 98.6 141 102.1 143 105.5 145 109" stroke="#000" stroke-opacity="0.64" stroke-width="1.0"/>
<path d="M145 109 147 112.5 149 115.9 151 119.4 153 122.8" stroke="#000" stroke-opacity="0.62" stroke-width="1.0"/>
<path d="M153 122.8 155 126.3 157 129.8 159 133.2 161 136.7" stroke="#000" stroke-opacity="0.61" stroke-width="1.0"/>
<path d="M161 136.7 163 140.2 165 143.6 167 147.1 169 150.6" stroke="#000" stroke-opacity="0.59" stroke-width="1.0"/>
<path d="M169 150.6 171 154 173 157.5 175 161 177 164.4" stroke="#000" stroke-opacity="0.57" stroke-width="1.0"/>
<path d="M177 164.4 179 167.9 181 171.4 183 174.8 185 178.3" stroke="#000" stroke-opacity="0.55" stroke-width="1.0"/>
<path d="M185 178.3 187 181.8 189 185.2 191 188.7 193 192.2" stroke="#000" stroke-opacity="0.55" stroke-width="1.0"/>
<path d="M113 59.3 115 60.9 117 63.8 119 67.1 121 70.4" stroke="#fff" stroke-opacity="0.60" stroke-width="1.0"/>
<path d="M121 70.4 123 73.9 125 77.3 127 80.8 129 84.3" stroke="#fff" stroke-opacity="0.60" stroke-width="1.0"/>
<path d="M129 84.3 131 87.8 133 91.3 135 94.8 137 98.3" stroke="#fff" stroke-opacity="0.60" stroke-width="1.0"/>
<path d="M137 98.3 139 101.8 141 105.3 143 108.8 145 112.3" stroke="#fff" stroke-opacity="0.60" stroke-width="1.0"/>
<path d="M145 112.3 147 115.8 149 119.3 151 122.8 153 126.3" stroke="#fff" stroke-opacity="0.60" stroke-width="1.0"/>
<path d="M153 126.3 155 129.8 157 133.3 159 136.8 161 140.4" stroke="#fff" stroke-opacity="0.60" stroke-width="1.0"/>
<path d="M161 140.4 163 143.9 165 147.4 167 150.9 169 154.4" stroke="#fff" stroke-opacity="0.60" stroke-width="1.0"/>
<path d="M169 154.4 171 157.9 173 161.4 175 164.9 177 168.4" stroke="#fff" stroke-opacity="0.60" stroke-width="1.0"/>
<path d="M177 168.4 179 171.9 181 175.5 183 179 185 182.5" stroke="#fff" stroke-opacity="0.60" stroke-width="1.0"/>
<path d="M185 182.5 187 186 189 189.5 191 193 193 196.5" stroke="#fff" stroke-opacity="0.60" stroke-width="1.0"/>
<path d="M113 61.9 115 63.5 117 66.5 119 69.8 121 73.2" stroke="#000" stroke-opacity="0.14" stroke-width="1.0"/>
<path d="M121 73.2 123 76.7 125 80.2 127 83.7 129 87.2" stroke="#000" stroke-opacity="0.19" stroke-width="1.0"/>
<path d="M129 87.2 131 90.8 133 94.3 135 97.9 137 101.4" stroke="#000" stroke-opacity="0.24" stroke-width="1.0"/>
<path d="M137 101.4 139 105 141 108.5 143 112 145 115.6" stroke="#000" stroke-opacity="0.29" stroke-width="1.0"/>
<path d="M145 115.6 147 119.1 149 122.7 151 126.2 153 129.8" stroke="#000" stroke-opacity="0.34" stroke-width="1.0"/>
<path d="M153 129.8 155 133.4 157 136.9 159 140.5 161 144" stroke="#000" stroke-opacity="0.39" stroke-width="1.0"/>
<path d="M161 144 163 147.6 165 151.1 167 154.7 169 158.2" stroke="#000" stroke-opacity="0.44" stroke-width="1.0"/>
<path d="M169 158.2 171 161.8 173 165.3 175 168.9 177 172.4" stroke="#000" stroke-opacity="0.49" stroke-width="1.0"/>
<path d="M177 172.4 179 176 181 179.6 183 183.1 185 186.7" stroke="#000" stroke-opacity="0.54" stroke-width="1.0"/>
<path d="M185 186.7 187 190.2 189 193.8 191 197.3 193 200.9" stroke="#000" stroke-opacity="0.55" stroke-width="1.0"/>
<path d="M113 64.5 115 66.1 117 69.2 119 72.5 121 76" stroke="#fff" stroke-opacity="0.10" stroke-width="1.0"/>
<path d="M121 76 123 79.5 125 83.1 127 86.6 129 90.2" stroke="#fff" stroke-opacity="0.15" stroke-width="1.0"/>
<path d="M129 90.2 131 93.8 133 97.4 135 100.9 137 104.5" stroke="#fff" stroke-opacity="0.20" stroke-width="1.0"/>
<path d="M137 104.5 139 108.1 141 111.7 143 115.3 145 118.9" stroke="#fff" stroke-opacity="0.25" stroke-width="1.0"/>
<path d="M145 118.9 147 122.5 149 126.1 151 129.7 153 133.3" stroke="#fff" stroke-opacity="0.30" stroke-width="1.0"/>
<path d="M153 133.3 155 136.9 157 140.5 159 144.1 161 147.7" stroke="#fff" stroke-opacity="0.34" stroke-width="1.0"/>
<path d="M161 147.7 163 151.3 165 154.9 167 158.5 169 162.1" stroke="#fff" stroke-opacity="0.39" stroke-width="1.0"/>
<path d="M169 162.1 171 165.7 173 169.3 175 172.9 177 176.5" stroke="#fff" stroke-opacity="0.44" stroke-width="1.0"/>
<path d="M177 176.5 179 180 181 183.6 183 187.2 185 190.8" stroke="#fff" stroke-opacity="0.49" stroke-width="1.0"/>
<path d="M185 190.8 187 194.4 189 198 191 201.6 193 205.2" stroke="#fff" stroke-opacity="0.50" stroke-width="1.0"/>
<path d="M113 67.1 115 68.8 117 71.9 119 75.3 121 78.8" stroke="#000" stroke-opacity="0.07" stroke-width="1.0"/>
<path d="M121 78.8 123 82.3 125 85.9 127 89.5 129 93.2" stroke="#000" stroke-opacity="0.10" stroke-width="1.0"/>
<path d="M129 93.2 131 96.8 133 100.4 135 104 137 107.7" stroke="#000" stroke-opacity="0.14" stroke-width="1.0"/>
<path d="M137 107.7 139 111.3 141 114.9 143 118.6 145 122.2" stroke="#000" stroke-opacity="0.17" stroke-width="1.0"/>
<path d="M145 122.2 147 125.8 149 129.5 151 133.1 153 136.8" stroke="#000" stroke-opacity="0.20" stroke-width="1.0"/>
<path d="M153 136.8 155 140.4 157 144 159 147.7 161 151.3" stroke="#000" stroke-opacity="0.24" stroke-width="1.0"/>
<path d="M161 151.3 163 155 165 158.6 167 162.2 169 165.9" stroke="#000" stroke-opacity="0.27" stroke-width="1.0"/>
<path d="M169 165.9 171 169.5 173 173.2 175 176.8 177 180.5" stroke="#000" stroke-opacity="0.31" stroke-width="1.0"/>
<path d="M177 180.5 179 184.1 181 187.7 183 191.4 185 195" stroke="#000" stroke-opacity="0.34" stroke-width="1.0"/>
<path d="M185 195 187 198.7 189 202.3 191 206 193 209.6" stroke="#000" stroke-opacity="0.35" stroke-width="1.0"/>
<path d="M113 69.7 115 71.4 117 74.5 119 78 121 81.5" stroke="#fff" stroke-opacity="0.04" stroke-width="1.0"/>
<path d="M121 81.5 123 85.2 125 88.8 127 92.4 129 96.1" stroke="#fff" stroke-opacity="0.07" stroke-width="1.0"/>
<path d="M129 96.1 131 99.8 133 103.4 135 107.1 137 110.8" stroke="#fff" stroke-opacity="0.09" stroke-width="1.0"/>
<path d="M137 110.8 139 114.5 141 118.1 143 121.8 145 125.5" stroke="#fff" stroke-opacity="0.12" stroke-width="1.0"/>
<path d="M145 125.5 147 129.2 149 132.9 151 136.6 153 140.2" stroke="#fff" stroke-opacity="0.14" stroke-width="1.0"/>
<path d="M153 140.2 155 143.9 157 147.6 159 151.3 161 155" stroke="#fff" stroke-opacity="0.17" stroke-width="1.0"/>
<path d="M161 155 163 158.7 165 162.3 167 166 169 169.7" stroke="#fff" stroke-opacity="0.19" stroke-width="1.0"/>
<path d="M169 169.7 171 173.4 173 177.1 175 180.8 177 184.5" stroke="#fff" stroke-opacity="0.22" stroke-width="1.0"/>
<path d="M177 184.5 179 188.2 181 191.8 183 195.5 185 199.2" stroke="#fff" stroke-opacity="0.24" stroke-width="1.0"/>
<path d="M185 199.2 187 202.9 189 206.6 191 210.3 193 214" stroke="#fff" stroke-opacity="0.25" stroke-width="1.0"/>
</g></g>
<rect x="42.5" y="42.5" width="141" height="210" fill="none" stroke="#000" stroke-width="3"/>
</g>
<rect x="393.1" y="37.6" width="2.6" height="4" fill="#000"/>
<rect x="424.3" y="37.6" width="2.6" height="4" fill="#000"/>
<rect x="455.5" y="37.6" width="2.6" height="4" fill="#000"/>
<rect x="486.7" y="37.6" width="2.6" height="4" fill="#000"/>
<rect x="517.9" y="37.6" width="2.6" height="4" fill="#000"/>
<rect x="389.4" y="41.5" width="4" height="2.2" fill="#000"/>
<rect x="389.4" y="85.4" width="4" height="2.2" fill="#000"/>
<rect x="389.4" y="129.3" width="4" height="2.2" fill="#000"/>
<rect x="389.4" y="173.2" width="4" height="2.2" fill="#000"/>
<rect x="389.4" y="217.1" width="4" height="2.2" fill="#000"/>
</svg>
<div class="s" style="left:69.3px;top:4.6px;font-size:15.5px">Distance<span style="margin-left:3.1px">(km</span><span style="margin-left:2px">)</span></div>
<div class="s" style="left:32.4px;width:20px;text-align:center;top:21px;font-size:15.5px">0</div>
<div class="s" style="left:63.6px;width:20px;text-align:center;top:21px;font-size:15.5px">2</div>
<div class="s" style="left:94.8px;width:20px;text-align:center;top:21px;font-size:15.5px">4</div>
<div class="s" style="left:126.0px;width:20px;text-align:center;top:21px;font-size:15.5px">6</div>
<div class="s" style="left:157.2px;width:20px;text-align:center;top:21px;font-size:15.5px">8</div>
<div class="s" style="left:21.6px;width:15px;text-align:right;top:33.3px;font-size:15.5px">0</div>
<div class="s" style="left:21.6px;width:15px;text-align:right;top:77.2px;font-size:15.5px">1</div>
<div class="s" style="left:21.6px;width:15px;text-align:right;top:121.1px;font-size:15.5px">2</div>
<div class="s" style="left:21.6px;width:15px;text-align:right;top:165.0px;font-size:15.5px">3</div>
<div class="s" style="left:21.6px;width:15px;text-align:right;top:208.9px;font-size:15.5px">4</div>
<div class="s" style="left:-14.5px;top:137px;width:58px;text-align:center;font-size:15.5px;letter-spacing:0.2px;transform:rotate(-90deg)">Time (s)</div>
<div class="s" style="left:245.3px;top:4.6px;font-size:15.5px">Distance<span style="margin-left:3.1px">(km</span><span style="margin-left:2px">)</span></div>
<div class="s" style="left:208.4px;width:20px;text-align:center;top:21px;font-size:15.5px">0</div>
<div class="s" style="left:239.6px;width:20px;text-align:center;top:21px;font-size:15.5px">2</div>
<div class="s" style="left:270.8px;width:20px;text-align:center;top:21px;font-size:15.5px">4</div>
<div class="s" style="left:302.0px;width:20px;text-align:center;top:21px;font-size:15.5px">6</div>
<div class="s" style="left:333.2px;width:20px;text-align:center;top:21px;font-size:15.5px">8</div>
<div class="s" style="left:197.6px;width:15px;text-align:right;top:33.3px;font-size:15.5px">0</div>
<div class="s" style="left:197.6px;width:15px;text-align:right;top:77.2px;font-size:15.5px">1</div>
<div class="s" style="left:197.6px;width:15px;text-align:right;top:121.1px;font-size:15.5px">2</div>
<div class="s" style="left:197.6px;width:15px;text-align:right;top:165.0px;font-size:15.5px">3</div>
<div class="s" style="left:197.6px;width:15px;text-align:right;top:208.9px;font-size:15.5px">4</div>
<div class="s" style="left:161.5px;top:137px;width:58px;text-align:center;font-size:15.5px;letter-spacing:0.2px;transform:rotate(-90deg)">Time (s)</div>
<div class="s" style="left:421.3px;top:4.6px;font-size:15.5px">Distance<span style="margin-left:3.1px">(km</span><span style="margin-left:2px">)</span></div>
<div class="s" style="left:384.4px;width:20px;text-align:center;top:21px;font-size:15.5px">0</div>
<div class="s" style="left:415.6px;width:20px;text-align:center;top:21px;font-size:15.5px">2</div>
<div class="s" style="left:446.8px;width:20px;text-align:center;top:21px;font-size:15.5px">4</div>
<div class="s" style="left:478.0px;width:20px;text-align:center;top:21px;font-size:15.5px">6</div>
<div class="s" style="left:509.2px;width:20px;text-align:center;top:21px;font-size:15.5px">8</div>
<div class="s" style="left:373.6px;width:15px;text-align:right;top:33.3px;font-size:15.5px">0</div>
<div class="s" style="left:373.6px;width:15px;text-align:right;top:77.2px;font-size:15.5px">1</div>
<div class="s" style="left:373.6px;width:15px;text-align:right;top:121.1px;font-size:15.5px">2</div>
<div class="s" style="left:373.6px;width:15px;text-align:right;top:165.0px;font-size:15.5px">3</div>
<div class="s" style="left:373.6px;width:15px;text-align:right;top:208.9px;font-size:15.5px">4</div>
<div class="s" style="left:337.5px;top:137px;width:58px;text-align:center;font-size:15.5px;letter-spacing:0.2px;transform:rotate(-90deg)">Time (s)</div>
<div class="cap" style="left:42.3px;top:263px">(<b>a</b>) <i style="margin-left:-1.6px">u</i><i style="font-size:11px;position:relative;top:2.5px;margin-left:0.6px;margin-right:0.6px">x</i>-component</div>
<div class="cap" style="left:218.1px;top:263px">(<b>b</b>) <i style="margin-left:-1.6px">u</i><i style="font-size:11px;position:relative;top:2.5px;margin-left:0.6px;margin-right:0.6px">z</i>-component</div>
<div class="cap" style="left:398.3px;top:263px">(<b>c</b>) <i style="margin-left:-1.6px;margin-right:-1.2px">p</i>-component</div>
</body></html>
